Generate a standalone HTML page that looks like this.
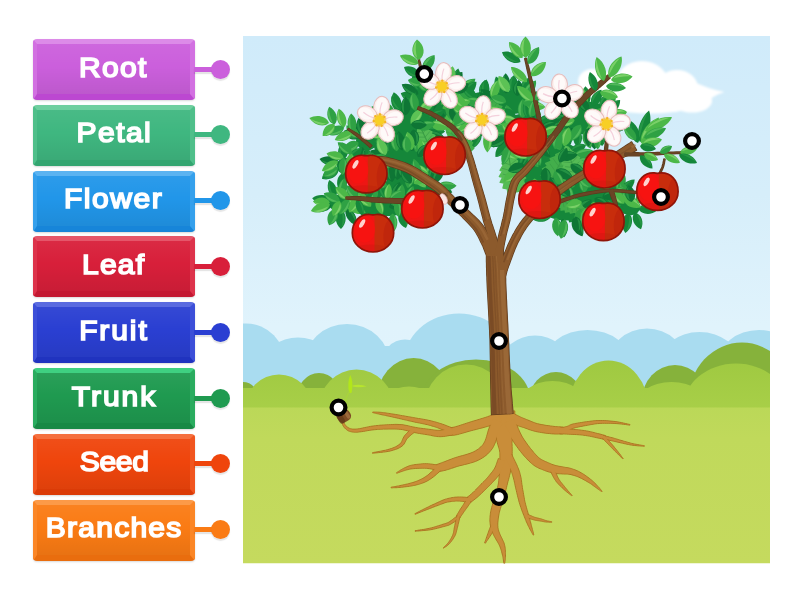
<!DOCTYPE html>
<html><head><meta charset="utf-8"><title>Parts of a tree</title>
<style>
html,body{margin:0;padding:0;background:#fff;}
body{width:800px;height:600px;position:relative;overflow:hidden;font-family:"Liberation Sans",sans-serif;}
.lb{position:absolute;left:33px;width:162px;height:61px;box-sizing:border-box;border-style:solid;
  border-width:5.5px 5px 6.5px 4.5px;border-radius:4px;color:#fff;font-weight:normal;font-size:30px;-webkit-text-stroke:1.75px #fff;
  text-align:center;line-height:45.5px;box-shadow:0 1px 2px rgba(0,0,0,.15);letter-spacing:1.1px;white-space:nowrap;background-image:linear-gradient(rgba(255,255,255,.05),rgba(255,255,255,0) 45%,rgba(0,0,0,.07));}
.lb span{display:inline-block;position:relative;top:-0.5px;transform:scaleY(0.94);transform-origin:50% 72%;}
.ln{position:absolute;left:194px;width:20px;height:5px;box-shadow:0 2px 1px rgba(0,0,0,.10);}
.dt{position:absolute;left:210.6px;width:19px;height:19px;border-radius:50%;box-shadow:0 2px 1px rgba(0,0,0,.10);}
svg{position:absolute;left:0;top:0;}
</style></head><body>
<div class="lb" style="top:39.0px;background-color:#cb5fdc;border-top-color:#dc8be8;border-bottom-color:#bc48d1;border-left-color:#d270e1;border-right-color:#d270e1;letter-spacing:1.27px;text-indent:-0.2px"><span>Root</span></div><div class="ln" style="top:66.5px;background:#cb5fdc"></div><div class="dt" style="top:59.6px;background:#cb5fdc"></div>
<div class="lb" style="top:104.8px;background-color:#3fb780;border-top-color:#6fcf9f;border-bottom-color:#33a570;border-left-color:#4fbf8a;border-right-color:#4fbf8a;letter-spacing:1.45px;text-indent:0.95px"><span>Petal</span></div><div class="ln" style="top:132.3px;background:#3fb780"></div><div class="dt" style="top:125.4px;background:#3fb780"></div>
<div class="lb" style="top:170.6px;background-color:#2196e9;border-top-color:#5bb3f1;border-bottom-color:#1785d9;border-left-color:#35a0ec;border-right-color:#35a0ec;letter-spacing:1.56px;text-indent:0.1px"><span>Flower</span></div><div class="ln" style="top:198.1px;background:#2196e9"></div><div class="dt" style="top:191.2px;background:#2196e9"></div>
<div class="lb" style="top:236.4px;background-color:#d81f3a;border-top-color:#e5566a;border-bottom-color:#c31831;border-left-color:#dd334b;border-right-color:#dd334b;letter-spacing:1.23px;text-indent:0.2px"><span>Leaf</span></div><div class="ln" style="top:263.9px;background:#d81f3a"></div><div class="dt" style="top:257.0px;background:#d81f3a"></div>
<div class="lb" style="top:302.2px;background-color:#2a3fd2;border-top-color:#5a6be0;border-bottom-color:#2033bf;border-left-color:#3c4fd8;border-right-color:#3c4fd8;letter-spacing:1.9px;text-indent:0.4px"><span>Fruit</span></div><div class="ln" style="top:329.7px;background:#2a3fd2"></div><div class="dt" style="top:322.8px;background:#2a3fd2"></div>
<div class="lb" style="top:368.0px;background-color:#1f9a50;border-top-color:#3fd081;border-bottom-color:#188945;border-left-color:#2aac5f;border-right-color:#2aac5f;letter-spacing:2.0px;text-indent:1.0px"><span>Trunk</span></div><div class="ln" style="top:395.5px;background:#1f9a50"></div><div class="dt" style="top:388.6px;background:#1f9a50"></div>
<div class="lb" style="top:433.8px;background-color:#ef450c;border-top-color:#f5703f;border-bottom-color:#db3b07;border-left-color:#f1551f;border-right-color:#f1551f;letter-spacing:-0.33px;text-indent:0.7px"><span>Seed</span></div><div class="ln" style="top:461.3px;background:#ef450c"></div><div class="dt" style="top:454.4px;background:#ef450c"></div>
<div class="lb" style="top:499.6px;background-color:#fa7b14;border-top-color:#fc9a48;border-bottom-color:#e96d0e;border-left-color:#fb8626;border-right-color:#fb8626;letter-spacing:1.24px;text-indent:0.7px"><span>Branches</span></div><div class="ln" style="top:527.1px;background:#fa7b14"></div><div class="dt" style="top:520.2px;background:#fa7b14"></div>
<svg width="800" height="600" viewBox="0 0 800 600">

<defs>
<linearGradient id="sky" x1="0" y1="0" x2="0" y2="1">
  <stop offset="0" stop-color="#d0ebfa"/><stop offset="0.3" stop-color="#d6eefa"/><stop offset="0.55" stop-color="#e0f3fc"/><stop offset="1" stop-color="#e6f5fc"/>
</linearGradient>
<linearGradient id="grd" x1="0" y1="0" x2="0" y2="1">
  <stop offset="0" stop-color="#bbd858"/><stop offset="0.2" stop-color="#c0d95b"/><stop offset="1" stop-color="#c5da5e"/>
</linearGradient>
<linearGradient id="bush" gradientUnits="userSpaceOnUse" x1="0" y1="360" x2="0" y2="410">
  <stop offset="0" stop-color="#9fc941"/><stop offset="1" stop-color="#a8cf48"/>
</linearGradient>
<filter id="soft" x="-10%" y="-10%" width="120%" height="120%"><feGaussianBlur stdDeviation="0.8"/></filter>
<clipPath id="clip"><rect x="243" y="36" width="527" height="527.5"/></clipPath>
</defs>

<g clip-path="url(#clip)">
<rect x="243" y="36" width="527" height="527" fill="url(#sky)"/>
<g fill="#ffffff" filter="url(#soft)"><ellipse cx="642" cy="85" rx="27" ry="24"/><ellipse cx="677" cy="88" rx="21" ry="18"/><ellipse cx="608" cy="92" rx="28" ry="20"/><ellipse cx="592" cy="82" rx="14" ry="13"/><ellipse cx="692" cy="101" rx="20" ry="11.5"/><ellipse cx="650" cy="100" rx="52" ry="13.5"/><path d="M690 80 Q708 89 724.5 92 Q712 95.5 706 104 L690 104Z"/></g>
<g fill="#a9dcf0"><ellipse cx="246" cy="364" rx="39.4" ry="40.5"/><ellipse cx="298" cy="364" rx="34.1" ry="26.5"/><ellipse cx="347" cy="364" rx="42.7" ry="40.0"/><ellipse cx="405" cy="364" rx="23.3" ry="24.5"/><ellipse cx="459" cy="364" rx="55.5" ry="50.5"/><ellipse cx="535" cy="364" rx="33.7" ry="28.5"/><ellipse cx="587.5" cy="364" rx="43.8" ry="34.0"/><ellipse cx="647" cy="364" rx="38.8" ry="35.5"/><ellipse cx="699.5" cy="364" rx="40.3" ry="32.0"/><ellipse cx="759" cy="364" rx="41.3" ry="34.0"/><rect x="243" y="346" width="527" height="62"/></g>
<g fill="#86b23b"><ellipse cx="243" cy="400" rx="16.1" ry="18.0"/><ellipse cx="319" cy="400" rx="22.9" ry="27.0"/><ellipse cx="413.6" cy="400" rx="36.6" ry="42.0"/><ellipse cx="476" cy="400" rx="54.4" ry="40.5"/><ellipse cx="556" cy="400" rx="26.8" ry="28.0"/><ellipse cx="675" cy="400" rx="32.9" ry="35.0"/><ellipse cx="742" cy="400" rx="53.3" ry="57.5"/></g>
<g fill="url(#bush)"><ellipse cx="279" cy="408" rx="33.4" ry="33.5"/><ellipse cx="356.5" cy="408" rx="37.4" ry="38.5"/><ellipse cx="409" cy="408" rx="29.3" ry="21.5"/><ellipse cx="466" cy="408" rx="41.7" ry="43.5"/><ellipse cx="552.5" cy="408" rx="35.7" ry="27.0"/><ellipse cx="608.5" cy="408" rx="40.0" ry="47.5"/><ellipse cx="671.5" cy="408" rx="37.6" ry="26.0"/><ellipse cx="736" cy="408" rx="52.8" ry="44.5"/><rect x="243" y="388" width="527" height="22"/></g>
<rect x="243" y="407.5" width="527" height="156" fill="url(#grd)"/>
<g>
<ellipse cx="440" cy="99" rx="29.4" ry="18.4" fill="#15873a"/><g transform="translate(463.0 98.7) rotate(-7)"><path d="M0 0 C4.1 -6.5 14.8 -6.0 20.5 0 C14.8 6.0 4.1 6.5 0 0Z" fill="#15873a"/><path d="M2.5 -1.2 C6.2 -5.0 14.0 -4.7 18.9 -0.6 C13.6 -2.0 7.0 -2.0 2.5 -1.2Z" fill="#2c9c4a" opacity="0.75"/></g><g transform="translate(461.7 103.9) rotate(24)"><path d="M0 0 C3.7 -6.1 13.3 -5.6 18.4 0 C13.3 5.6 3.7 6.1 0 0Z" fill="#2fa144"/><path d="M2.2 -1.2 C5.5 -4.7 12.5 -4.5 17.0 -0.6 C12.2 -1.9 6.3 -1.9 2.2 -1.2Z" fill="#5cc060" opacity="0.75"/></g><g transform="translate(460.1 106.0) rotate(55)"><path d="M0 0 C3.7 -6.9 13.2 -6.4 18.3 0 C13.2 6.4 3.7 6.9 0 0Z" fill="#0e7635"/><path d="M2.2 -1.3 C5.5 -5.3 12.4 -5.1 16.8 -0.6 C12.1 -2.1 6.2 -2.1 2.2 -1.3Z" fill="#2c9c4a" opacity="0.75"/></g><g transform="translate(456.1 109.3) rotate(78)"><path d="M0 0 C3.7 -5.8 13.2 -5.3 18.3 0 C13.2 5.3 3.7 5.8 0 0Z" fill="#2fa144"/><path d="M2.2 -1.1 C5.5 -4.5 12.5 -4.2 16.9 -0.5 C12.1 -1.8 6.2 -1.8 2.2 -1.1Z" fill="#5cc060" opacity="0.75"/></g><g transform="translate(448.4 112.4) rotate(65)"><path d="M0 0 C3.8 -5.9 13.8 -5.4 19.2 0 C13.8 5.4 3.8 5.9 0 0Z" fill="#2fa144"/><path d="M2.3 -1.1 C5.8 -4.5 13.1 -4.3 17.7 -0.5 C12.7 -1.8 6.5 -1.8 2.3 -1.1Z" fill="#5cc060" opacity="0.75"/></g><g transform="translate(443.6 113.2) rotate(105)"><path d="M0 0 C4.1 -6.7 14.9 -6.2 20.6 0 C14.9 6.2 4.1 6.7 0 0Z" fill="#0e7635"/><path d="M2.5 -1.3 C6.2 -5.2 14.0 -4.9 19.0 -0.6 C13.6 -2.1 7.0 -2.1 2.5 -1.3Z" fill="#2c9c4a" opacity="0.75"/></g><g transform="translate(435.5 113.1) rotate(125)"><path d="M0 0 C4.0 -6.1 14.4 -5.6 19.9 0 C14.4 5.6 4.0 6.1 0 0Z" fill="#2fa144"/><path d="M2.4 -1.2 C6.0 -4.7 13.6 -4.5 18.3 -0.6 C13.2 -1.9 6.8 -1.9 2.4 -1.2Z" fill="#5cc060" opacity="0.75"/></g><g transform="translate(431.0 112.2) rotate(86)"><path d="M0 0 C3.9 -6.1 14.2 -5.6 19.7 0 C14.2 5.6 3.9 6.1 0 0Z" fill="#0e7635"/><path d="M2.4 -1.2 C5.9 -4.7 13.4 -4.5 18.1 -0.6 C13.0 -1.9 6.7 -1.9 2.4 -1.2Z" fill="#2c9c4a" opacity="0.75"/></g><g transform="translate(424.5 109.7) rotate(93)"><path d="M0 0 C3.8 -6.0 13.7 -5.5 19.1 0 C13.7 5.5 3.8 6.0 0 0Z" fill="#0e7635"/><path d="M2.3 -1.1 C5.7 -4.6 13.0 -4.4 17.6 -0.6 C12.6 -1.8 6.5 -1.8 2.3 -1.1Z" fill="#2c9c4a" opacity="0.75"/></g><g transform="translate(420.8 107.0) rotate(156)"><path d="M0 0 C3.8 -6.1 13.7 -5.7 19.0 0 C13.7 5.7 3.8 6.1 0 0Z" fill="#15873a"/><path d="M2.3 -1.2 C5.7 -4.7 12.9 -4.5 17.5 -0.6 C12.5 -1.9 6.5 -1.9 2.3 -1.2Z" fill="#2c9c4a" opacity="0.75"/></g><g transform="translate(418.2 103.6) rotate(143)"><path d="M0 0 C3.5 -6.2 12.7 -5.8 17.6 0 C12.7 5.8 3.5 6.2 0 0Z" fill="#15873a"/><path d="M2.1 -1.2 C5.3 -4.8 12.0 -4.6 16.2 -0.6 C11.6 -1.9 6.0 -1.9 2.1 -1.2Z" fill="#2c9c4a" opacity="0.75"/></g><g transform="translate(417.0 99.6) rotate(201)"><path d="M0 0 C3.5 -6.7 12.5 -6.2 17.4 0 C12.5 6.2 3.5 6.7 0 0Z" fill="#15873a"/><path d="M2.1 -1.3 C5.2 -5.2 11.8 -4.9 16.0 -0.6 C11.5 -2.1 5.9 -2.1 2.1 -1.3Z" fill="#2c9c4a" opacity="0.75"/></g><g transform="translate(418.3 94.2) rotate(-149)"><path d="M0 0 C3.9 -6.3 13.9 -5.8 19.3 0 C13.9 5.8 3.9 6.3 0 0Z" fill="#0e7635"/><path d="M2.3 -1.2 C5.8 -4.9 13.1 -4.6 17.7 -0.6 C12.7 -1.9 6.5 -1.9 2.3 -1.2Z" fill="#2c9c4a" opacity="0.75"/></g><g transform="translate(420.5 91.3) rotate(-115)"><path d="M0 0 C3.6 -6.2 13.1 -5.7 18.2 0 C13.1 5.7 3.6 6.2 0 0Z" fill="#15873a"/><path d="M2.2 -1.2 C5.5 -4.8 12.4 -4.5 16.8 -0.6 C12.0 -1.9 6.2 -1.9 2.2 -1.2Z" fill="#2c9c4a" opacity="0.75"/></g><g transform="translate(425.8 87.7) rotate(-110)"><path d="M0 0 C4.1 -6.1 14.6 -5.7 20.3 0 C14.6 5.7 4.1 6.1 0 0Z" fill="#15873a"/><path d="M2.4 -1.2 C6.1 -4.7 13.8 -4.5 18.6 -0.6 C13.4 -1.9 6.9 -1.9 2.4 -1.2Z" fill="#2c9c4a" opacity="0.75"/></g><g transform="translate(430.5 85.9) rotate(-110)"><path d="M0 0 C3.4 -6.6 12.1 -6.0 16.8 0 C12.1 6.0 3.4 6.6 0 0Z" fill="#2fa144"/><path d="M2.0 -1.3 C5.1 -5.0 11.5 -4.8 15.5 -0.6 C11.1 -2.0 5.7 -2.0 2.0 -1.3Z" fill="#5cc060" opacity="0.75"/></g><g transform="translate(436.3 84.8) rotate(-70)"><path d="M0 0 C3.4 -5.8 12.1 -5.4 16.8 0 C12.1 5.4 3.4 5.8 0 0Z" fill="#0e7635"/><path d="M2.0 -1.1 C5.0 -4.5 11.4 -4.2 15.5 -0.5 C11.1 -1.8 5.7 -1.8 2.0 -1.1Z" fill="#2c9c4a" opacity="0.75"/></g><g transform="translate(441.9 84.6) rotate(-66)"><path d="M0 0 C3.7 -6.6 13.4 -6.1 18.6 0 C13.4 6.1 3.7 6.6 0 0Z" fill="#15873a"/><path d="M2.2 -1.3 C5.6 -5.0 12.6 -4.8 17.1 -0.6 C12.3 -2.0 6.3 -2.0 2.2 -1.3Z" fill="#2c9c4a" opacity="0.75"/></g><g transform="translate(450.8 86.3) rotate(-51)"><path d="M0 0 C3.7 -6.9 13.2 -6.4 18.3 0 C13.2 6.4 3.7 6.9 0 0Z" fill="#0e7635"/><path d="M2.2 -1.3 C5.5 -5.3 12.4 -5.1 16.8 -0.6 C12.1 -2.1 6.2 -2.1 2.2 -1.3Z" fill="#2c9c4a" opacity="0.75"/></g><g transform="translate(453.9 87.5) rotate(-77)"><path d="M0 0 C3.9 -5.9 14.0 -5.4 19.5 0 C14.0 5.4 3.9 5.9 0 0Z" fill="#15873a"/><path d="M2.3 -1.1 C5.8 -4.5 13.2 -4.3 17.9 -0.5 C12.9 -1.8 6.6 -1.8 2.3 -1.1Z" fill="#2c9c4a" opacity="0.75"/></g><g transform="translate(459.7 91.5) rotate(-39)"><path d="M0 0 C4.0 -6.1 14.5 -5.6 20.2 0 C14.5 5.6 4.0 6.1 0 0Z" fill="#2fa144"/><path d="M2.4 -1.2 C6.0 -4.7 13.7 -4.5 18.5 -0.6 C13.3 -1.9 6.9 -1.9 2.4 -1.2Z" fill="#5cc060" opacity="0.75"/></g><g transform="translate(462.5 95.8) rotate(-45)"><path d="M0 0 C3.9 -6.5 14.2 -6.0 19.7 0 C14.2 6.0 3.9 6.5 0 0Z" fill="#15873a"/><path d="M2.4 -1.2 C5.9 -5.0 13.4 -4.7 18.1 -0.6 C13.0 -2.0 6.7 -2.0 2.4 -1.2Z" fill="#2c9c4a" opacity="0.75"/></g>
<ellipse cx="408" cy="125" rx="26.7" ry="19.3" fill="#15873a"/><g transform="translate(428.9 124.4) rotate(10)"><path d="M0 0 C3.7 -6.1 13.3 -5.6 18.5 0 C13.3 5.6 3.7 6.1 0 0Z" fill="#2fa144"/><path d="M2.2 -1.2 C5.5 -4.7 12.6 -4.4 17.0 -0.6 C12.2 -1.9 6.3 -1.9 2.2 -1.2Z" fill="#5cc060" opacity="0.75"/></g><g transform="translate(427.6 130.2) rotate(4)"><path d="M0 0 C3.5 -6.1 12.6 -5.6 17.5 0 C12.6 5.6 3.5 6.1 0 0Z" fill="#15873a"/><path d="M2.1 -1.2 C5.2 -4.7 11.9 -4.5 16.1 -0.6 C11.5 -1.9 5.9 -1.9 2.1 -1.2Z" fill="#2c9c4a" opacity="0.75"/></g><g transform="translate(425.7 133.1) rotate(14)"><path d="M0 0 C3.9 -6.2 14.0 -5.7 19.4 0 C14.0 5.7 3.9 6.2 0 0Z" fill="#0e7635"/><path d="M2.3 -1.2 C5.8 -4.8 13.2 -4.5 17.9 -0.6 C12.8 -1.9 6.6 -1.9 2.3 -1.2Z" fill="#2c9c4a" opacity="0.75"/></g><g transform="translate(422.2 136.1) rotate(37)"><path d="M0 0 C3.6 -6.3 13.0 -5.8 18.1 0 C13.0 5.8 3.6 6.3 0 0Z" fill="#15873a"/><path d="M2.2 -1.2 C5.4 -4.8 12.3 -4.6 16.7 -0.6 C11.9 -1.9 6.2 -1.9 2.2 -1.2Z" fill="#2c9c4a" opacity="0.75"/></g><g transform="translate(415.2 139.2) rotate(60)"><path d="M0 0 C3.8 -5.8 13.6 -5.3 18.8 0 C13.6 5.3 3.8 5.8 0 0Z" fill="#2fa144"/><path d="M2.3 -1.1 C5.7 -4.5 12.8 -4.2 17.3 -0.5 C12.4 -1.8 6.4 -1.8 2.3 -1.1Z" fill="#5cc060" opacity="0.75"/></g><g transform="translate(410.2 140.0) rotate(92)"><path d="M0 0 C3.8 -6.3 13.7 -5.8 19.1 0 C13.7 5.8 3.8 6.3 0 0Z" fill="#0e7635"/><path d="M2.3 -1.2 C5.7 -4.9 13.0 -4.6 17.6 -0.6 C12.6 -1.9 6.5 -1.9 2.3 -1.2Z" fill="#2c9c4a" opacity="0.75"/></g><g transform="translate(404.5 139.9) rotate(93)"><path d="M0 0 C3.5 -6.8 12.5 -6.3 17.4 0 C12.5 6.3 3.5 6.8 0 0Z" fill="#15873a"/><path d="M2.1 -1.3 C5.2 -5.3 11.8 -5.0 16.0 -0.6 C11.5 -2.1 5.9 -2.1 2.1 -1.3Z" fill="#2c9c4a" opacity="0.75"/></g><g transform="translate(397.9 138.2) rotate(90)"><path d="M0 0 C3.9 -6.9 13.9 -6.3 19.3 0 C13.9 6.3 3.9 6.9 0 0Z" fill="#15873a"/><path d="M2.3 -1.3 C5.8 -5.3 13.1 -5.0 17.8 -0.6 C12.8 -2.1 6.6 -2.1 2.3 -1.3Z" fill="#2c9c4a" opacity="0.75"/></g><g transform="translate(392.1 134.8) rotate(106)"><path d="M0 0 C3.5 -6.4 12.8 -5.9 17.7 0 C12.8 5.9 3.5 6.4 0 0Z" fill="#2fa144"/><path d="M2.1 -1.2 C5.3 -4.9 12.1 -4.7 16.3 -0.6 C11.7 -2.0 6.0 -2.0 2.1 -1.2Z" fill="#5cc060" opacity="0.75"/></g><g transform="translate(389.0 131.3) rotate(173)"><path d="M0 0 C4.1 -6.1 14.9 -5.7 20.7 0 C14.9 5.7 4.1 6.1 0 0Z" fill="#0e7635"/><path d="M2.5 -1.2 C6.2 -4.7 14.1 -4.5 19.0 -0.6 C13.7 -1.9 7.0 -1.9 2.5 -1.2Z" fill="#2c9c4a" opacity="0.75"/></g><g transform="translate(387.4 127.6) rotate(160)"><path d="M0 0 C3.4 -6.7 12.1 -6.2 16.8 0 C12.1 6.2 3.4 6.7 0 0Z" fill="#0e7635"/><path d="M2.0 -1.3 C5.0 -5.2 11.4 -4.9 15.4 -0.6 C11.1 -2.1 5.7 -2.1 2.0 -1.3Z" fill="#2c9c4a" opacity="0.75"/></g><g transform="translate(387.5 122.1) rotate(-170)"><path d="M0 0 C3.5 -5.8 12.5 -5.3 17.3 0 C12.5 5.3 3.5 5.8 0 0Z" fill="#15873a"/><path d="M2.1 -1.1 C5.2 -4.4 11.8 -4.2 15.9 -0.5 C11.4 -1.8 5.9 -1.8 2.1 -1.1Z" fill="#2c9c4a" opacity="0.75"/></g><g transform="translate(389.3 118.3) rotate(-173)"><path d="M0 0 C3.4 -6.9 12.4 -6.4 17.2 0 C12.4 6.4 3.4 6.9 0 0Z" fill="#0e7635"/><path d="M2.1 -1.3 C5.1 -5.3 11.7 -5.0 15.8 -0.6 C11.3 -2.1 5.8 -2.1 2.1 -1.3Z" fill="#2c9c4a" opacity="0.75"/></g><g transform="translate(393.2 114.3) rotate(-135)"><path d="M0 0 C3.4 -6.6 12.1 -6.1 16.8 0 C12.1 6.1 3.4 6.6 0 0Z" fill="#2fa144"/><path d="M2.0 -1.3 C5.0 -5.1 11.4 -4.8 15.4 -0.6 C11.1 -2.0 5.7 -2.0 2.0 -1.3Z" fill="#5cc060" opacity="0.75"/></g><g transform="translate(398.6 111.5) rotate(-104)"><path d="M0 0 C4.0 -6.8 14.3 -6.3 19.9 0 C14.3 6.3 4.0 6.8 0 0Z" fill="#15873a"/><path d="M2.4 -1.3 C6.0 -5.3 13.5 -5.0 18.3 -0.6 C13.1 -2.1 6.8 -2.1 2.4 -1.3Z" fill="#2c9c4a" opacity="0.75"/></g><g transform="translate(401.9 110.5) rotate(-126)"><path d="M0 0 C3.5 -5.8 12.7 -5.3 17.7 0 C12.7 5.3 3.5 5.8 0 0Z" fill="#15873a"/><path d="M2.1 -1.1 C5.3 -4.4 12.0 -4.2 16.3 -0.5 C11.7 -1.8 6.0 -1.8 2.1 -1.1Z" fill="#2c9c4a" opacity="0.75"/></g><g transform="translate(408.2 109.9) rotate(-67)"><path d="M0 0 C3.9 -5.8 13.9 -5.3 19.3 0 C13.9 5.3 3.9 5.8 0 0Z" fill="#15873a"/><path d="M2.3 -1.1 C5.8 -4.4 13.1 -4.2 17.7 -0.5 C12.7 -1.8 6.5 -1.8 2.3 -1.1Z" fill="#2c9c4a" opacity="0.75"/></g><g transform="translate(415.4 110.9) rotate(-98)"><path d="M0 0 C3.7 -6.4 13.4 -6.0 18.6 0 C13.4 6.0 3.7 6.4 0 0Z" fill="#2fa144"/><path d="M2.2 -1.2 C5.6 -5.0 12.7 -4.7 17.1 -0.6 C12.3 -2.0 6.3 -2.0 2.2 -1.2Z" fill="#5cc060" opacity="0.75"/></g><g transform="translate(421.6 113.5) rotate(-37)"><path d="M0 0 C4.0 -6.6 14.6 -6.1 20.2 0 C14.6 6.1 4.0 6.6 0 0Z" fill="#0e7635"/><path d="M2.4 -1.3 C6.1 -5.1 13.8 -4.8 18.6 -0.6 C13.4 -2.0 6.9 -2.0 2.4 -1.3Z" fill="#2c9c4a" opacity="0.75"/></g><g transform="translate(425.4 116.7) rotate(-69)"><path d="M0 0 C4.0 -6.8 14.4 -6.3 20.0 0 C14.4 6.3 4.0 6.8 0 0Z" fill="#15873a"/><path d="M2.4 -1.3 C6.0 -5.2 13.6 -5.0 18.4 -0.6 C13.2 -2.1 6.8 -2.1 2.4 -1.3Z" fill="#2c9c4a" opacity="0.75"/></g><g transform="translate(427.6 119.7) rotate(-29)"><path d="M0 0 C3.9 -5.8 13.9 -5.4 19.3 0 C13.9 5.4 3.9 5.8 0 0Z" fill="#15873a"/><path d="M2.3 -1.1 C5.8 -4.5 13.1 -4.2 17.7 -0.5 C12.7 -1.8 6.5 -1.8 2.3 -1.1Z" fill="#2c9c4a" opacity="0.75"/></g>
<ellipse cx="367" cy="141" rx="11.0" ry="9.2" fill="#15873a"/><g transform="translate(375.6 141.9) rotate(-16)"><path d="M0 0 C3.4 -6.4 12.2 -5.9 17.0 0 C12.2 5.9 3.4 6.4 0 0Z" fill="#2fa144"/><path d="M2.0 -1.2 C5.1 -4.9 11.5 -4.7 15.6 -0.6 C11.2 -2.0 5.8 -2.0 2.0 -1.2Z" fill="#5cc060" opacity="0.75"/></g><g transform="translate(374.3 144.9) rotate(39)"><path d="M0 0 C3.7 -6.5 13.5 -6.0 18.7 0 C13.5 6.0 3.7 6.5 0 0Z" fill="#15873a"/><path d="M2.2 -1.2 C5.6 -5.0 12.7 -4.7 17.2 -0.6 C12.4 -2.0 6.4 -2.0 2.2 -1.2Z" fill="#2c9c4a" opacity="0.75"/></g><g transform="translate(367.5 148.2) rotate(96)"><path d="M0 0 C3.8 -6.9 13.6 -6.4 18.9 0 C13.6 6.4 3.8 6.9 0 0Z" fill="#15873a"/><path d="M2.3 -1.3 C5.7 -5.3 12.9 -5.1 17.4 -0.6 C12.5 -2.1 6.4 -2.1 2.3 -1.3Z" fill="#2c9c4a" opacity="0.75"/></g><g transform="translate(362.8 147.3) rotate(107)"><path d="M0 0 C3.7 -6.5 13.3 -6.0 18.5 0 C13.3 6.0 3.7 6.5 0 0Z" fill="#0e7635"/><path d="M2.2 -1.2 C5.5 -5.0 12.6 -4.7 17.0 -0.6 C12.2 -2.0 6.3 -2.0 2.2 -1.2Z" fill="#2c9c4a" opacity="0.75"/></g><g transform="translate(358.5 142.4) rotate(150)"><path d="M0 0 C3.4 -7.0 12.3 -6.4 17.1 0 C12.3 6.4 3.4 7.0 0 0Z" fill="#2fa144"/><path d="M2.1 -1.3 C5.1 -5.4 11.6 -5.1 15.7 -0.6 C11.3 -2.1 5.8 -2.1 2.1 -1.3Z" fill="#5cc060" opacity="0.75"/></g><g transform="translate(359.5 137.4) rotate(-158)"><path d="M0 0 C3.4 -6.7 12.3 -6.1 17.1 0 C12.3 6.1 3.4 6.7 0 0Z" fill="#0e7635"/><path d="M2.1 -1.3 C5.1 -5.1 11.6 -4.9 15.7 -0.6 C11.3 -2.0 5.8 -2.0 2.1 -1.3Z" fill="#2c9c4a" opacity="0.75"/></g><g transform="translate(362.8 134.7) rotate(-137)"><path d="M0 0 C3.9 -6.0 14.1 -5.5 19.5 0 C14.1 5.5 3.9 6.0 0 0Z" fill="#0e7635"/><path d="M2.3 -1.2 C5.9 -4.6 13.3 -4.4 18.0 -0.6 C12.9 -1.8 6.6 -1.8 2.3 -1.2Z" fill="#2c9c4a" opacity="0.75"/></g><g transform="translate(368.1 133.9) rotate(-87)"><path d="M0 0 C4.1 -6.0 14.8 -5.6 20.5 0 C14.8 5.6 4.1 6.0 0 0Z" fill="#0e7635"/><path d="M2.5 -1.2 C6.2 -4.7 14.0 -4.4 18.9 -0.6 C13.6 -1.9 7.0 -1.9 2.5 -1.2Z" fill="#2c9c4a" opacity="0.75"/></g><g transform="translate(373.9 136.7) rotate(-33)"><path d="M0 0 C4.0 -6.0 14.3 -5.5 19.8 0 C14.3 5.5 4.0 6.0 0 0Z" fill="#2fa144"/><path d="M2.4 -1.1 C5.9 -4.6 13.5 -4.4 18.2 -0.6 C13.1 -1.8 6.7 -1.8 2.4 -1.1Z" fill="#5cc060" opacity="0.75"/></g>
<ellipse cx="345" cy="166" rx="8.3" ry="8.3" fill="#15873a"/><g transform="translate(351.3 164.7) rotate(-14)"><path d="M0 0 C3.3 -5.8 12.0 -5.3 16.7 0 C12.0 5.3 3.3 5.8 0 0Z" fill="#2fa144"/><path d="M2.0 -1.1 C5.0 -4.5 11.4 -4.2 15.4 -0.5 C11.0 -1.8 5.7 -1.8 2.0 -1.1Z" fill="#5cc060" opacity="0.75"/></g><g transform="translate(348.1 171.7) rotate(50)"><path d="M0 0 C3.6 -6.8 12.9 -6.2 17.9 0 C12.9 6.2 3.6 6.8 0 0Z" fill="#15873a"/><path d="M2.1 -1.3 C5.4 -5.2 12.1 -4.9 16.4 -0.6 C11.8 -2.1 6.1 -2.1 2.1 -1.3Z" fill="#2c9c4a" opacity="0.75"/></g><g transform="translate(343.8 172.4) rotate(100)"><path d="M0 0 C4.0 -7.0 14.2 -6.4 19.8 0 C14.2 6.4 4.0 7.0 0 0Z" fill="#15873a"/><path d="M2.4 -1.3 C5.9 -5.4 13.4 -5.1 18.2 -0.6 C13.1 -2.1 6.7 -2.1 2.4 -1.3Z" fill="#2c9c4a" opacity="0.75"/></g><g transform="translate(338.9 168.1) rotate(148)"><path d="M0 0 C4.0 -7.0 14.5 -6.4 20.1 0 C14.5 6.4 4.0 7.0 0 0Z" fill="#15873a"/><path d="M2.4 -1.3 C6.0 -5.4 13.7 -5.1 18.5 -0.6 C13.3 -2.1 6.8 -2.1 2.4 -1.3Z" fill="#2c9c4a" opacity="0.75"/></g><g transform="translate(339.3 162.9) rotate(-169)"><path d="M0 0 C4.0 -6.5 14.5 -6.0 20.1 0 C14.5 6.0 4.0 6.5 0 0Z" fill="#0e7635"/><path d="M2.4 -1.2 C6.0 -5.0 13.7 -4.7 18.5 -0.6 C13.3 -2.0 6.8 -2.0 2.4 -1.2Z" fill="#2c9c4a" opacity="0.75"/></g><g transform="translate(343.1 159.8) rotate(-91)"><path d="M0 0 C3.4 -6.8 12.4 -6.2 17.2 0 C12.4 6.2 3.4 6.8 0 0Z" fill="#15873a"/><path d="M2.1 -1.3 C5.2 -5.2 11.7 -4.9 15.9 -0.6 C11.4 -2.1 5.9 -2.1 2.1 -1.3Z" fill="#2c9c4a" opacity="0.75"/></g><g transform="translate(348.2 160.4) rotate(-42)"><path d="M0 0 C3.7 -6.1 13.4 -5.6 18.6 0 C13.4 5.6 3.7 6.1 0 0Z" fill="#15873a"/><path d="M2.2 -1.2 C5.6 -4.7 12.6 -4.5 17.1 -0.6 C12.3 -1.9 6.3 -1.9 2.2 -1.2Z" fill="#2c9c4a" opacity="0.75"/></g>
<ellipse cx="405" cy="162" rx="27.6" ry="14.7" fill="#15873a"/><g transform="translate(426.6 162.5) rotate(-0)"><path d="M0 0 C4.0 -6.5 14.6 -6.0 20.2 0 C14.6 6.0 4.0 6.5 0 0Z" fill="#15873a"/><path d="M2.4 -1.3 C6.1 -5.0 13.7 -4.8 18.6 -0.6 C13.3 -2.0 6.9 -2.0 2.4 -1.3Z" fill="#2c9c4a" opacity="0.75"/></g><g transform="translate(425.8 165.1) rotate(16)"><path d="M0 0 C3.4 -6.7 12.3 -6.2 17.1 0 C12.3 6.2 3.4 6.7 0 0Z" fill="#0e7635"/><path d="M2.1 -1.3 C5.1 -5.1 11.6 -4.9 15.7 -0.6 C11.3 -2.1 5.8 -2.1 2.1 -1.3Z" fill="#2c9c4a" opacity="0.75"/></g><g transform="translate(421.0 169.8) rotate(54)"><path d="M0 0 C3.7 -5.8 13.5 -5.3 18.7 0 C13.5 5.3 3.7 5.8 0 0Z" fill="#15873a"/><path d="M2.2 -1.1 C5.6 -4.4 12.7 -4.2 17.2 -0.5 C12.3 -1.8 6.4 -1.8 2.2 -1.1Z" fill="#2c9c4a" opacity="0.75"/></g><g transform="translate(415.5 172.1) rotate(84)"><path d="M0 0 C3.8 -6.1 13.7 -5.6 19.0 0 C13.7 5.6 3.8 6.1 0 0Z" fill="#2fa144"/><path d="M2.3 -1.2 C5.7 -4.7 12.9 -4.4 17.5 -0.6 C12.5 -1.9 6.5 -1.9 2.3 -1.2Z" fill="#5cc060" opacity="0.75"/></g><g transform="translate(410.4 173.2) rotate(54)"><path d="M0 0 C3.8 -5.9 13.8 -5.4 19.1 0 C13.8 5.4 3.8 5.9 0 0Z" fill="#2fa144"/><path d="M2.3 -1.1 C5.7 -4.5 13.0 -4.3 17.6 -0.5 C12.6 -1.8 6.5 -1.8 2.3 -1.1Z" fill="#5cc060" opacity="0.75"/></g><g transform="translate(404.8 173.5) rotate(111)"><path d="M0 0 C3.4 -6.1 12.3 -5.6 17.0 0 C12.3 5.6 3.4 6.1 0 0Z" fill="#2fa144"/><path d="M2.0 -1.2 C5.1 -4.7 11.6 -4.4 15.7 -0.6 C11.2 -1.9 5.8 -1.9 2.0 -1.2Z" fill="#5cc060" opacity="0.75"/></g><g transform="translate(397.9 172.9) rotate(98)"><path d="M0 0 C3.4 -5.9 12.2 -5.5 17.0 0 C12.2 5.5 3.4 5.9 0 0Z" fill="#15873a"/><path d="M2.0 -1.1 C5.1 -4.6 11.5 -4.3 15.6 -0.5 C11.2 -1.8 5.8 -1.8 2.0 -1.1Z" fill="#2c9c4a" opacity="0.75"/></g><g transform="translate(391.3 170.9) rotate(92)"><path d="M0 0 C3.4 -6.0 12.2 -5.5 16.9 0 C12.2 5.5 3.4 6.0 0 0Z" fill="#0e7635"/><path d="M2.0 -1.1 C5.1 -4.6 11.5 -4.4 15.6 -0.6 C11.2 -1.8 5.8 -1.8 2.0 -1.1Z" fill="#2c9c4a" opacity="0.75"/></g><g transform="translate(385.3 166.7) rotate(131)"><path d="M0 0 C3.9 -6.3 13.9 -5.8 19.3 0 C13.9 5.8 3.9 6.3 0 0Z" fill="#2fa144"/><path d="M2.3 -1.2 C5.8 -4.8 13.1 -4.6 17.8 -0.6 C12.8 -1.9 6.6 -1.9 2.3 -1.2Z" fill="#5cc060" opacity="0.75"/></g><g transform="translate(383.8 164.3) rotate(138)"><path d="M0 0 C3.5 -6.1 12.7 -5.7 17.7 0 C12.7 5.7 3.5 6.1 0 0Z" fill="#2fa144"/><path d="M2.1 -1.2 C5.3 -4.7 12.0 -4.5 16.2 -0.6 C11.6 -1.9 6.0 -1.9 2.1 -1.2Z" fill="#5cc060" opacity="0.75"/></g><g transform="translate(383.5 161.0) rotate(-164)"><path d="M0 0 C4.0 -6.6 14.5 -6.1 20.1 0 C14.5 6.1 4.0 6.6 0 0Z" fill="#2fa144"/><path d="M2.4 -1.3 C6.0 -5.1 13.7 -4.8 18.5 -0.6 C13.3 -2.0 6.8 -2.0 2.4 -1.3Z" fill="#5cc060" opacity="0.75"/></g><g transform="translate(385.4 157.2) rotate(-157)"><path d="M0 0 C3.3 -5.9 12.0 -5.4 16.7 0 C12.0 5.4 3.3 5.9 0 0Z" fill="#0e7635"/><path d="M2.0 -1.1 C5.0 -4.5 11.3 -4.3 15.3 -0.5 C11.0 -1.8 5.7 -1.8 2.0 -1.1Z" fill="#2c9c4a" opacity="0.75"/></g><g transform="translate(390.5 153.5) rotate(-92)"><path d="M0 0 C3.5 -6.1 12.6 -5.6 17.5 0 C12.6 5.6 3.5 6.1 0 0Z" fill="#15873a"/><path d="M2.1 -1.2 C5.2 -4.7 11.9 -4.4 16.1 -0.6 C11.5 -1.9 5.9 -1.9 2.1 -1.2Z" fill="#2c9c4a" opacity="0.75"/></g><g transform="translate(396.9 151.3) rotate(-101)"><path d="M0 0 C3.9 -6.0 14.0 -5.5 19.5 0 C14.0 5.5 3.9 6.0 0 0Z" fill="#2fa144"/><path d="M2.3 -1.2 C5.8 -4.6 13.2 -4.4 17.9 -0.6 C12.8 -1.8 6.6 -1.8 2.3 -1.2Z" fill="#5cc060" opacity="0.75"/></g><g transform="translate(402.4 150.6) rotate(-101)"><path d="M0 0 C4.0 -6.1 14.4 -5.6 20.0 0 C14.4 5.6 4.0 6.1 0 0Z" fill="#0e7635"/><path d="M2.4 -1.2 C6.0 -4.7 13.6 -4.4 18.4 -0.6 C13.2 -1.9 6.8 -1.9 2.4 -1.2Z" fill="#2c9c4a" opacity="0.75"/></g><g transform="translate(411.3 151.0) rotate(-62)"><path d="M0 0 C3.8 -5.8 13.8 -5.3 19.1 0 C13.8 5.3 3.8 5.8 0 0Z" fill="#0e7635"/><path d="M2.3 -1.1 C5.7 -4.4 13.0 -4.2 17.6 -0.5 C12.6 -1.8 6.5 -1.8 2.3 -1.1Z" fill="#2c9c4a" opacity="0.75"/></g><g transform="translate(416.0 152.1) rotate(-75)"><path d="M0 0 C3.8 -6.3 13.8 -5.8 19.2 0 C13.8 5.8 3.8 6.3 0 0Z" fill="#2fa144"/><path d="M2.3 -1.2 C5.8 -4.9 13.1 -4.6 17.7 -0.6 C12.7 -1.9 6.5 -1.9 2.3 -1.2Z" fill="#5cc060" opacity="0.75"/></g><g transform="translate(421.3 154.5) rotate(-80)"><path d="M0 0 C3.7 -6.0 13.5 -5.5 18.7 0 C13.5 5.5 3.7 6.0 0 0Z" fill="#15873a"/><path d="M2.2 -1.2 C5.6 -4.6 12.7 -4.4 17.2 -0.6 C12.3 -1.8 6.4 -1.8 2.2 -1.2Z" fill="#2c9c4a" opacity="0.75"/></g><g transform="translate(425.6 158.6) rotate(-25)"><path d="M0 0 C3.8 -5.9 13.8 -5.5 19.2 0 C13.8 5.5 3.8 5.9 0 0Z" fill="#0e7635"/><path d="M2.3 -1.1 C5.8 -4.6 13.0 -4.3 17.6 -0.5 C12.7 -1.8 6.5 -1.8 2.3 -1.1Z" fill="#2c9c4a" opacity="0.75"/></g>
<ellipse cx="412" cy="186" rx="29.4" ry="10.1" fill="#15873a"/><g transform="translate(435.0 186.1) rotate(20)"><path d="M0 0 C3.7 -5.9 13.2 -5.4 18.4 0 C13.2 5.4 3.7 5.9 0 0Z" fill="#0e7635"/><path d="M2.2 -1.1 C5.5 -4.5 12.5 -4.3 16.9 -0.5 C12.1 -1.8 6.3 -1.8 2.2 -1.1Z" fill="#2c9c4a" opacity="0.75"/></g><g transform="translate(433.8 188.6) rotate(34)"><path d="M0 0 C3.4 -6.6 12.1 -6.1 16.8 0 C12.1 6.1 3.4 6.6 0 0Z" fill="#0e7635"/><path d="M2.0 -1.3 C5.0 -5.1 11.4 -4.8 15.5 -0.6 C11.1 -2.0 5.7 -2.0 2.0 -1.3Z" fill="#2c9c4a" opacity="0.75"/></g><g transform="translate(431.1 190.4) rotate(57)"><path d="M0 0 C4.1 -6.5 14.6 -6.0 20.3 0 C14.6 6.0 4.1 6.5 0 0Z" fill="#0e7635"/><path d="M2.4 -1.3 C6.1 -5.0 13.8 -4.8 18.7 -0.6 C13.4 -2.0 6.9 -2.0 2.4 -1.3Z" fill="#2c9c4a" opacity="0.75"/></g><g transform="translate(423.5 192.9) rotate(74)"><path d="M0 0 C3.9 -6.3 13.9 -5.8 19.3 0 C13.9 5.8 3.9 6.3 0 0Z" fill="#2fa144"/><path d="M2.3 -1.2 C5.8 -4.8 13.2 -4.6 17.8 -0.6 C12.8 -1.9 6.6 -1.9 2.3 -1.2Z" fill="#5cc060" opacity="0.75"/></g><g transform="translate(417.6 193.7) rotate(58)"><path d="M0 0 C3.5 -7.0 12.5 -6.4 17.4 0 C12.5 6.4 3.5 7.0 0 0Z" fill="#15873a"/><path d="M2.1 -1.3 C5.2 -5.3 11.9 -5.1 16.0 -0.6 C11.5 -2.1 5.9 -2.1 2.1 -1.3Z" fill="#2c9c4a" opacity="0.75"/></g><g transform="translate(408.8 193.8) rotate(116)"><path d="M0 0 C4.0 -6.9 14.2 -6.3 19.8 0 C14.2 6.3 4.0 6.9 0 0Z" fill="#15873a"/><path d="M2.4 -1.3 C5.9 -5.3 13.4 -5.0 18.2 -0.6 C13.0 -2.1 6.7 -2.1 2.4 -1.3Z" fill="#2c9c4a" opacity="0.75"/></g><g transform="translate(403.6 193.4) rotate(91)"><path d="M0 0 C3.7 -6.8 13.4 -6.3 18.6 0 C13.4 6.3 3.7 6.8 0 0Z" fill="#2fa144"/><path d="M2.2 -1.3 C5.6 -5.2 12.6 -5.0 17.1 -0.6 C12.3 -2.1 6.3 -2.1 2.2 -1.3Z" fill="#5cc060" opacity="0.75"/></g><g transform="translate(395.6 191.5) rotate(84)"><path d="M0 0 C3.5 -6.2 12.6 -5.7 17.6 0 C12.6 5.7 3.5 6.2 0 0Z" fill="#15873a"/><path d="M2.1 -1.2 C5.3 -4.8 11.9 -4.5 16.2 -0.6 C11.6 -1.9 6.0 -1.9 2.1 -1.2Z" fill="#2c9c4a" opacity="0.75"/></g><g transform="translate(391.3 189.5) rotate(109)"><path d="M0 0 C4.0 -6.1 14.3 -5.7 19.9 0 C14.3 5.7 4.0 6.1 0 0Z" fill="#15873a"/><path d="M2.4 -1.2 C6.0 -4.7 13.5 -4.5 18.3 -0.6 C13.1 -1.9 6.8 -1.9 2.4 -1.2Z" fill="#2c9c4a" opacity="0.75"/></g><g transform="translate(389.3 187.3) rotate(141)"><path d="M0 0 C3.9 -6.1 14.0 -5.6 19.5 0 C14.0 5.6 3.9 6.1 0 0Z" fill="#2fa144"/><path d="M2.3 -1.2 C5.8 -4.7 13.3 -4.5 17.9 -0.6 C12.9 -1.9 6.6 -1.9 2.3 -1.2Z" fill="#5cc060" opacity="0.75"/></g><g transform="translate(389.1 185.3) rotate(-187)"><path d="M0 0 C3.4 -6.5 12.4 -6.0 17.2 0 C12.4 6.0 3.4 6.5 0 0Z" fill="#15873a"/><path d="M2.1 -1.3 C5.2 -5.0 11.7 -4.8 15.9 -0.6 C11.4 -2.0 5.9 -2.0 2.1 -1.3Z" fill="#2c9c4a" opacity="0.75"/></g><g transform="translate(392.2 182.0) rotate(-98)"><path d="M0 0 C3.9 -6.2 13.9 -5.7 19.3 0 C13.9 5.7 3.9 6.2 0 0Z" fill="#0e7635"/><path d="M2.3 -1.2 C5.8 -4.8 13.1 -4.5 17.8 -0.6 C12.8 -1.9 6.6 -1.9 2.3 -1.2Z" fill="#2c9c4a" opacity="0.75"/></g><g transform="translate(397.0 180.0) rotate(-79)"><path d="M0 0 C3.6 -6.1 13.0 -5.6 18.1 0 C13.0 5.6 3.6 6.1 0 0Z" fill="#0e7635"/><path d="M2.2 -1.2 C5.4 -4.7 12.3 -4.5 16.6 -0.6 C11.9 -1.9 6.1 -1.9 2.2 -1.2Z" fill="#2c9c4a" opacity="0.75"/></g><g transform="translate(404.3 178.5) rotate(-101)"><path d="M0 0 C3.4 -6.8 12.4 -6.3 17.2 0 C12.4 6.3 3.4 6.8 0 0Z" fill="#0e7635"/><path d="M2.1 -1.3 C5.2 -5.2 11.7 -5.0 15.8 -0.6 C11.4 -2.1 5.9 -2.1 2.1 -1.3Z" fill="#2c9c4a" opacity="0.75"/></g><g transform="translate(408.4 178.2) rotate(-103)"><path d="M0 0 C3.5 -7.0 12.4 -6.4 17.3 0 C12.4 6.4 3.5 7.0 0 0Z" fill="#15873a"/><path d="M2.1 -1.3 C5.2 -5.4 11.8 -5.1 15.9 -0.6 C11.4 -2.1 5.9 -2.1 2.1 -1.3Z" fill="#2c9c4a" opacity="0.75"/></g><g transform="translate(419.1 178.5) rotate(-111)"><path d="M0 0 C3.9 -7.0 13.9 -6.4 19.3 0 C13.9 6.4 3.9 7.0 0 0Z" fill="#15873a"/><path d="M2.3 -1.3 C5.8 -5.4 13.1 -5.1 17.8 -0.6 C12.8 -2.1 6.6 -2.1 2.3 -1.3Z" fill="#2c9c4a" opacity="0.75"/></g><g transform="translate(426.1 179.7) rotate(-67)"><path d="M0 0 C3.6 -5.9 12.8 -5.5 17.8 0 C12.8 5.5 3.6 5.9 0 0Z" fill="#2fa144"/><path d="M2.1 -1.1 C5.3 -4.6 12.1 -4.3 16.4 -0.5 C11.8 -1.8 6.1 -1.8 2.1 -1.1Z" fill="#5cc060" opacity="0.75"/></g><g transform="translate(430.3 181.2) rotate(-73)"><path d="M0 0 C3.7 -5.8 13.4 -5.4 18.7 0 C13.4 5.4 3.7 5.8 0 0Z" fill="#0e7635"/><path d="M2.2 -1.1 C5.6 -4.5 12.7 -4.3 17.2 -0.5 C12.3 -1.8 6.4 -1.8 2.2 -1.1Z" fill="#2c9c4a" opacity="0.75"/></g><g transform="translate(433.6 183.3) rotate(-62)"><path d="M0 0 C4.1 -6.5 14.9 -6.0 20.7 0 C14.9 6.0 4.1 6.5 0 0Z" fill="#0e7635"/><path d="M2.5 -1.2 C6.2 -5.0 14.1 -4.7 19.0 -0.6 C13.6 -2.0 7.0 -2.0 2.5 -1.2Z" fill="#2c9c4a" opacity="0.75"/></g>
<ellipse cx="384" cy="207" rx="27.6" ry="9.2" fill="#15873a"/><g transform="translate(405.6 207.1) rotate(5)"><path d="M0 0 C3.8 -6.9 13.8 -6.4 19.2 0 C13.8 6.4 3.8 6.9 0 0Z" fill="#15873a"/><path d="M2.3 -1.3 C5.7 -5.3 13.0 -5.1 17.6 -0.6 C12.6 -2.1 6.5 -2.1 2.3 -1.3Z" fill="#2c9c4a" opacity="0.75"/></g><g transform="translate(404.2 209.6) rotate(63)"><path d="M0 0 C3.5 -7.0 12.8 -6.4 17.7 0 C12.8 6.4 3.5 7.0 0 0Z" fill="#15873a"/><path d="M2.1 -1.3 C5.3 -5.4 12.0 -5.1 16.3 -0.6 C11.7 -2.1 6.0 -2.1 2.1 -1.3Z" fill="#2c9c4a" opacity="0.75"/></g><g transform="translate(400.6 211.6) rotate(72)"><path d="M0 0 C3.5 -6.4 12.5 -5.9 17.3 0 C12.5 5.9 3.5 6.4 0 0Z" fill="#15873a"/><path d="M2.1 -1.2 C5.2 -4.9 11.8 -4.7 15.9 -0.6 C11.4 -2.0 5.9 -2.0 2.1 -1.2Z" fill="#2c9c4a" opacity="0.75"/></g><g transform="translate(392.6 213.6) rotate(88)"><path d="M0 0 C3.8 -6.2 13.5 -5.7 18.8 0 C13.5 5.7 3.8 6.2 0 0Z" fill="#2fa144"/><path d="M2.3 -1.2 C5.6 -4.7 12.8 -4.5 17.3 -0.6 C12.4 -1.9 6.4 -1.9 2.3 -1.2Z" fill="#5cc060" opacity="0.75"/></g><g transform="translate(384.0 214.2) rotate(89)"><path d="M0 0 C3.5 -6.3 12.6 -5.9 17.5 0 C12.6 5.9 3.5 6.3 0 0Z" fill="#15873a"/><path d="M2.1 -1.2 C5.3 -4.9 11.9 -4.6 16.1 -0.6 C11.6 -2.0 6.0 -2.0 2.1 -1.2Z" fill="#2c9c4a" opacity="0.75"/></g><g transform="translate(378.4 214.0) rotate(107)"><path d="M0 0 C4.0 -6.3 14.6 -5.8 20.2 0 C14.6 5.8 4.0 6.3 0 0Z" fill="#0e7635"/><path d="M2.4 -1.2 C6.1 -4.9 13.8 -4.6 18.6 -0.6 C13.4 -1.9 6.9 -1.9 2.4 -1.2Z" fill="#2c9c4a" opacity="0.75"/></g><g transform="translate(370.5 212.6) rotate(108)"><path d="M0 0 C3.7 -7.0 13.4 -6.4 18.6 0 C13.4 6.4 3.7 7.0 0 0Z" fill="#15873a"/><path d="M2.2 -1.3 C5.6 -5.4 12.6 -5.1 17.1 -0.6 C12.3 -2.1 6.3 -2.1 2.2 -1.3Z" fill="#2c9c4a" opacity="0.75"/></g><g transform="translate(365.8 210.9) rotate(90)"><path d="M0 0 C3.6 -6.5 13.1 -6.0 18.2 0 C13.1 6.0 3.6 6.5 0 0Z" fill="#15873a"/><path d="M2.2 -1.3 C5.4 -5.0 12.3 -4.8 16.7 -0.6 C12.0 -2.0 6.2 -2.0 2.2 -1.3Z" fill="#2c9c4a" opacity="0.75"/></g><g transform="translate(362.5 207.8) rotate(177)"><path d="M0 0 C4.1 -6.1 14.7 -5.7 20.4 0 C14.7 5.7 4.1 6.1 0 0Z" fill="#15873a"/><path d="M2.4 -1.2 C6.1 -4.7 13.9 -4.5 18.7 -0.6 C13.4 -1.9 6.9 -1.9 2.4 -1.2Z" fill="#2c9c4a" opacity="0.75"/></g><g transform="translate(363.2 205.0) rotate(-134)"><path d="M0 0 C3.4 -6.2 12.2 -5.8 17.0 0 C12.2 5.8 3.4 6.2 0 0Z" fill="#15873a"/><path d="M2.0 -1.2 C5.1 -4.8 11.6 -4.6 15.6 -0.6 C11.2 -1.9 5.8 -1.9 2.0 -1.2Z" fill="#2c9c4a" opacity="0.75"/></g><g transform="translate(365.3 203.4) rotate(-137)"><path d="M0 0 C3.6 -6.7 12.8 -6.2 17.8 0 C12.8 6.2 3.6 6.7 0 0Z" fill="#15873a"/><path d="M2.1 -1.3 C5.3 -5.1 12.1 -4.9 16.3 -0.6 C11.7 -2.1 6.0 -2.1 2.1 -1.3Z" fill="#2c9c4a" opacity="0.75"/></g><g transform="translate(370.7 201.3) rotate(-119)"><path d="M0 0 C3.9 -6.9 13.9 -6.4 19.4 0 C13.9 6.4 3.9 6.9 0 0Z" fill="#15873a"/><path d="M2.3 -1.3 C5.8 -5.3 13.2 -5.0 17.8 -0.6 C12.8 -2.1 6.6 -2.1 2.3 -1.3Z" fill="#2c9c4a" opacity="0.75"/></g><g transform="translate(377.9 200.1) rotate(-93)"><path d="M0 0 C3.9 -5.7 14.1 -5.3 19.5 0 C14.1 5.3 3.9 5.7 0 0Z" fill="#15873a"/><path d="M2.3 -1.1 C5.9 -4.4 13.3 -4.2 18.0 -0.5 C12.9 -1.8 6.6 -1.8 2.3 -1.1Z" fill="#2c9c4a" opacity="0.75"/></g><g transform="translate(387.6 199.9) rotate(-115)"><path d="M0 0 C4.0 -5.9 14.2 -5.4 19.8 0 C14.2 5.4 4.0 5.9 0 0Z" fill="#15873a"/><path d="M2.4 -1.1 C5.9 -4.5 13.4 -4.3 18.2 -0.5 C13.0 -1.8 6.7 -1.8 2.4 -1.1Z" fill="#2c9c4a" opacity="0.75"/></g><g transform="translate(392.9 200.4) rotate(-70)"><path d="M0 0 C3.9 -6.5 14.2 -6.0 19.7 0 C14.2 6.0 3.9 6.5 0 0Z" fill="#0e7635"/><path d="M2.4 -1.3 C5.9 -5.0 13.4 -4.8 18.1 -0.6 C13.0 -2.0 6.7 -2.0 2.4 -1.3Z" fill="#2c9c4a" opacity="0.75"/></g><g transform="translate(398.9 201.8) rotate(-79)"><path d="M0 0 C3.6 -6.2 13.0 -5.7 18.0 0 C13.0 5.7 3.6 6.2 0 0Z" fill="#2fa144"/><path d="M2.2 -1.2 C5.4 -4.7 12.3 -4.5 16.6 -0.6 C11.9 -1.9 6.1 -1.9 2.2 -1.2Z" fill="#5cc060" opacity="0.75"/></g><g transform="translate(404.0 204.3) rotate(-32)"><path d="M0 0 C3.3 -7.0 12.1 -6.5 16.7 0 C12.1 6.5 3.3 7.0 0 0Z" fill="#2fa144"/><path d="M2.0 -1.3 C5.0 -5.4 11.4 -5.1 15.4 -0.6 C11.1 -2.2 5.7 -2.2 2.0 -1.3Z" fill="#5cc060" opacity="0.75"/></g>
<ellipse cx="340" cy="203" rx="12.0" ry="8.3" fill="#15873a"/><g transform="translate(349.3 202.4) rotate(-30)"><path d="M0 0 C3.4 -5.8 12.2 -5.3 16.9 0 C12.2 5.3 3.4 5.8 0 0Z" fill="#15873a"/><path d="M2.0 -1.1 C5.1 -4.4 11.5 -4.2 15.5 -0.5 C11.2 -1.8 5.7 -1.8 2.0 -1.1Z" fill="#2c9c4a" opacity="0.75"/></g><g transform="translate(346.1 207.9) rotate(59)"><path d="M0 0 C4.0 -5.9 14.5 -5.4 20.2 0 C14.5 5.4 4.0 5.9 0 0Z" fill="#0e7635"/><path d="M2.4 -1.1 C6.0 -4.5 13.7 -4.3 18.5 -0.5 C13.3 -1.8 6.9 -1.8 2.4 -1.1Z" fill="#2c9c4a" opacity="0.75"/></g><g transform="translate(340.6 209.5) rotate(89)"><path d="M0 0 C3.9 -6.9 14.0 -6.3 19.4 0 C14.0 6.3 3.9 6.9 0 0Z" fill="#15873a"/><path d="M2.3 -1.3 C5.8 -5.3 13.2 -5.0 17.9 -0.6 C12.8 -2.1 6.6 -2.1 2.3 -1.3Z" fill="#2c9c4a" opacity="0.75"/></g><g transform="translate(336.0 208.9) rotate(113)"><path d="M0 0 C3.5 -6.9 12.7 -6.4 17.7 0 C12.7 6.4 3.5 6.9 0 0Z" fill="#2fa144"/><path d="M2.1 -1.3 C5.3 -5.3 12.0 -5.0 16.2 -0.6 C11.7 -2.1 6.0 -2.1 2.1 -1.3Z" fill="#5cc060" opacity="0.75"/></g><g transform="translate(331.4 205.6) rotate(168)"><path d="M0 0 C3.7 -6.0 13.2 -5.5 18.3 0 C13.2 5.5 3.7 6.0 0 0Z" fill="#0e7635"/><path d="M2.2 -1.1 C5.5 -4.6 12.4 -4.4 16.8 -0.6 C12.1 -1.8 6.2 -1.8 2.2 -1.1Z" fill="#2c9c4a" opacity="0.75"/></g><g transform="translate(331.2 200.8) rotate(-172)"><path d="M0 0 C3.8 -6.3 13.8 -5.8 19.2 0 C13.8 5.8 3.8 6.3 0 0Z" fill="#15873a"/><path d="M2.3 -1.2 C5.8 -4.8 13.1 -4.6 17.7 -0.6 C12.7 -1.9 6.5 -1.9 2.3 -1.2Z" fill="#2c9c4a" opacity="0.75"/></g><g transform="translate(335.2 197.4) rotate(-109)"><path d="M0 0 C3.7 -5.8 13.3 -5.4 18.4 0 C13.3 5.4 3.7 5.8 0 0Z" fill="#15873a"/><path d="M2.2 -1.1 C5.5 -4.5 12.5 -4.2 17.0 -0.5 C12.2 -1.8 6.3 -1.8 2.2 -1.1Z" fill="#2c9c4a" opacity="0.75"/></g><g transform="translate(341.3 196.6) rotate(-81)"><path d="M0 0 C3.7 -6.1 13.4 -5.7 18.7 0 C13.4 5.7 3.7 6.1 0 0Z" fill="#2fa144"/><path d="M2.2 -1.2 C5.6 -4.7 12.7 -4.5 17.2 -0.6 C12.3 -1.9 6.3 -1.9 2.2 -1.2Z" fill="#5cc060" opacity="0.75"/></g><g transform="translate(348.1 199.7) rotate(-59)"><path d="M0 0 C3.5 -6.8 12.8 -6.3 17.7 0 C12.8 6.3 3.5 6.8 0 0Z" fill="#15873a"/><path d="M2.1 -1.3 C5.3 -5.2 12.1 -5.0 16.3 -0.6 C11.7 -2.1 6.0 -2.1 2.1 -1.3Z" fill="#2c9c4a" opacity="0.75"/></g>
<ellipse cx="482" cy="114" rx="21.2" ry="22.1" fill="#15873a"/><g transform="translate(498.5 112.7) rotate(-9)"><path d="M0 0 C3.5 -5.7 12.6 -5.3 17.5 0 C12.6 5.3 3.5 5.7 0 0Z" fill="#2fa144"/><path d="M2.1 -1.1 C5.2 -4.4 11.9 -4.2 16.1 -0.5 C11.5 -1.8 5.9 -1.8 2.1 -1.1Z" fill="#5cc060" opacity="0.75"/></g><g transform="translate(497.3 120.7) rotate(44)"><path d="M0 0 C4.0 -6.1 14.3 -5.6 19.9 0 C14.3 5.6 4.0 6.1 0 0Z" fill="#15873a"/><path d="M2.4 -1.2 C6.0 -4.7 13.5 -4.4 18.3 -0.6 C13.1 -1.9 6.7 -1.9 2.4 -1.2Z" fill="#2c9c4a" opacity="0.75"/></g><g transform="translate(495.6 123.9) rotate(14)"><path d="M0 0 C4.0 -6.4 14.6 -5.9 20.2 0 C14.6 5.9 4.0 6.4 0 0Z" fill="#0e7635"/><path d="M2.4 -1.2 C6.1 -4.9 13.7 -4.7 18.6 -0.6 C13.3 -2.0 6.9 -2.0 2.4 -1.2Z" fill="#2c9c4a" opacity="0.75"/></g><g transform="translate(491.4 128.3) rotate(41)"><path d="M0 0 C4.0 -5.8 14.6 -5.4 20.2 0 C14.6 5.4 4.0 5.8 0 0Z" fill="#2fa144"/><path d="M2.4 -1.1 C6.1 -4.5 13.7 -4.3 18.6 -0.5 C13.3 -1.8 6.9 -1.8 2.4 -1.1Z" fill="#5cc060" opacity="0.75"/></g><g transform="translate(487.1 130.4) rotate(68)"><path d="M0 0 C3.7 -6.5 13.5 -6.0 18.7 0 C13.5 6.0 3.7 6.5 0 0Z" fill="#2fa144"/><path d="M2.2 -1.3 C5.6 -5.0 12.7 -4.8 17.2 -0.6 C12.3 -2.0 6.4 -2.0 2.2 -1.3Z" fill="#5cc060" opacity="0.75"/></g><g transform="translate(480.7 131.2) rotate(118)"><path d="M0 0 C4.0 -5.8 14.3 -5.4 19.9 0 C14.3 5.4 4.0 5.8 0 0Z" fill="#15873a"/><path d="M2.4 -1.1 C6.0 -4.5 13.5 -4.3 18.3 -0.5 C13.1 -1.8 6.8 -1.8 2.4 -1.1Z" fill="#2c9c4a" opacity="0.75"/></g><g transform="translate(474.2 129.2) rotate(126)"><path d="M0 0 C3.3 -6.4 12.0 -5.9 16.7 0 C12.0 5.9 3.3 6.4 0 0Z" fill="#15873a"/><path d="M2.0 -1.2 C5.0 -4.9 11.3 -4.7 15.3 -0.6 C11.0 -2.0 5.7 -2.0 2.0 -1.2Z" fill="#2c9c4a" opacity="0.75"/></g><g transform="translate(470.4 126.3) rotate(127)"><path d="M0 0 C3.4 -6.2 12.1 -5.7 16.8 0 C12.1 5.7 3.4 6.2 0 0Z" fill="#2fa144"/><path d="M2.0 -1.2 C5.0 -4.8 11.4 -4.5 15.4 -0.6 C11.1 -1.9 5.7 -1.9 2.0 -1.2Z" fill="#5cc060" opacity="0.75"/></g><g transform="translate(467.8 122.9) rotate(164)"><path d="M0 0 C3.7 -6.0 13.2 -5.5 18.4 0 C13.2 5.5 3.7 6.0 0 0Z" fill="#15873a"/><path d="M2.2 -1.1 C5.5 -4.6 12.5 -4.4 16.9 -0.5 C12.1 -1.8 6.2 -1.8 2.2 -1.1Z" fill="#2c9c4a" opacity="0.75"/></g><g transform="translate(465.6 116.2) rotate(178)"><path d="M0 0 C3.6 -6.9 12.8 -6.3 17.8 0 C12.8 6.3 3.6 6.9 0 0Z" fill="#0e7635"/><path d="M2.1 -1.3 C5.3 -5.3 12.1 -5.0 16.3 -0.6 C11.7 -2.1 6.0 -2.1 2.1 -1.3Z" fill="#2c9c4a" opacity="0.75"/></g><g transform="translate(465.8 110.4) rotate(-143)"><path d="M0 0 C3.8 -6.0 13.6 -5.5 18.8 0 C13.6 5.5 3.8 6.0 0 0Z" fill="#15873a"/><path d="M2.3 -1.2 C5.7 -4.6 12.8 -4.4 17.3 -0.6 C12.4 -1.8 6.4 -1.8 2.3 -1.2Z" fill="#2c9c4a" opacity="0.75"/></g><g transform="translate(467.9 104.9) rotate(-126)"><path d="M0 0 C3.5 -6.0 12.6 -5.5 17.6 0 C12.6 5.5 3.5 6.0 0 0Z" fill="#2fa144"/><path d="M2.1 -1.2 C5.3 -4.6 11.9 -4.4 16.2 -0.6 C11.6 -1.8 6.0 -1.8 2.1 -1.2Z" fill="#5cc060" opacity="0.75"/></g><g transform="translate(470.1 102.0) rotate(-138)"><path d="M0 0 C3.3 -6.3 12.1 -5.8 16.7 0 C12.1 5.8 3.3 6.3 0 0Z" fill="#2fa144"/><path d="M2.0 -1.2 C5.0 -4.9 11.4 -4.6 15.4 -0.6 C11.1 -1.9 5.7 -1.9 2.0 -1.2Z" fill="#5cc060" opacity="0.75"/></g><g transform="translate(475.7 98.0) rotate(-138)"><path d="M0 0 C3.5 -6.2 12.7 -5.7 17.6 0 C12.7 5.7 3.5 6.2 0 0Z" fill="#15873a"/><path d="M2.1 -1.2 C5.3 -4.8 12.0 -4.5 16.2 -0.6 C11.6 -1.9 6.0 -1.9 2.1 -1.2Z" fill="#2c9c4a" opacity="0.75"/></g><g transform="translate(481.9 96.7) rotate(-75)"><path d="M0 0 C3.6 -6.7 12.8 -6.2 17.8 0 C12.8 6.2 3.6 6.7 0 0Z" fill="#15873a"/><path d="M2.1 -1.3 C5.3 -5.2 12.1 -4.9 16.3 -0.6 C11.7 -2.1 6.0 -2.1 2.1 -1.3Z" fill="#2c9c4a" opacity="0.75"/></g><g transform="translate(485.5 97.1) rotate(-92)"><path d="M0 0 C3.4 -6.0 12.3 -5.5 17.1 0 C12.3 5.5 3.4 6.0 0 0Z" fill="#15873a"/><path d="M2.1 -1.2 C5.1 -4.6 11.6 -4.4 15.7 -0.6 C11.3 -1.8 5.8 -1.8 2.1 -1.2Z" fill="#2c9c4a" opacity="0.75"/></g><g transform="translate(491.5 99.9) rotate(-64)"><path d="M0 0 C4.0 -6.8 14.3 -6.3 19.8 0 C14.3 6.3 4.0 6.8 0 0Z" fill="#15873a"/><path d="M2.4 -1.3 C5.9 -5.2 13.5 -5.0 18.2 -0.6 C13.1 -2.1 6.7 -2.1 2.4 -1.3Z" fill="#2c9c4a" opacity="0.75"/></g><g transform="translate(495.3 103.8) rotate(-10)"><path d="M0 0 C3.7 -5.8 13.2 -5.4 18.4 0 C13.2 5.4 3.7 5.8 0 0Z" fill="#0e7635"/><path d="M2.2 -1.1 C5.5 -4.5 12.5 -4.2 16.9 -0.5 C12.1 -1.8 6.3 -1.8 2.2 -1.1Z" fill="#2c9c4a" opacity="0.75"/></g><g transform="translate(497.9 109.3) rotate(-27)"><path d="M0 0 C3.5 -6.1 12.7 -5.7 17.6 0 C12.7 5.7 3.5 6.1 0 0Z" fill="#15873a"/><path d="M2.1 -1.2 C5.3 -4.7 12.0 -4.5 16.2 -0.6 C11.6 -1.9 6.0 -1.9 2.1 -1.2Z" fill="#2c9c4a" opacity="0.75"/></g>
<ellipse cx="512" cy="102" rx="18.4" ry="12.0" fill="#15873a"/><g transform="translate(526.4 101.5) rotate(-28)"><path d="M0 0 C4.1 -6.6 14.9 -6.1 20.7 0 C14.9 6.1 4.1 6.6 0 0Z" fill="#0e7635"/><path d="M2.5 -1.3 C6.2 -5.1 14.0 -4.8 19.0 -0.6 C13.6 -2.0 7.0 -2.0 2.5 -1.3Z" fill="#2c9c4a" opacity="0.75"/></g><g transform="translate(524.7 106.4) rotate(28)"><path d="M0 0 C3.7 -6.8 13.5 -6.3 18.7 0 C13.5 6.3 3.7 6.8 0 0Z" fill="#2fa144"/><path d="M2.2 -1.3 C5.6 -5.2 12.7 -5.0 17.2 -0.6 C12.3 -2.1 6.4 -2.1 2.2 -1.3Z" fill="#5cc060" opacity="0.75"/></g><g transform="translate(518.8 110.3) rotate(49)"><path d="M0 0 C4.1 -6.1 14.6 -5.6 20.3 0 C14.6 5.6 4.1 6.1 0 0Z" fill="#15873a"/><path d="M2.4 -1.2 C6.1 -4.7 13.8 -4.5 18.6 -0.6 C13.4 -1.9 6.9 -1.9 2.4 -1.2Z" fill="#2c9c4a" opacity="0.75"/></g><g transform="translate(512.4 111.4) rotate(99)"><path d="M0 0 C3.4 -6.1 12.1 -5.6 16.8 0 C12.1 5.6 3.4 6.1 0 0Z" fill="#15873a"/><path d="M2.0 -1.2 C5.1 -4.7 11.4 -4.4 15.5 -0.6 C11.1 -1.9 5.7 -1.9 2.0 -1.2Z" fill="#2c9c4a" opacity="0.75"/></g><g transform="translate(508.0 111.0) rotate(81)"><path d="M0 0 C3.8 -6.8 13.6 -6.2 18.9 0 C13.6 6.2 3.8 6.8 0 0Z" fill="#15873a"/><path d="M2.3 -1.3 C5.7 -5.2 12.9 -4.9 17.4 -0.6 C12.5 -2.1 6.4 -2.1 2.3 -1.3Z" fill="#2c9c4a" opacity="0.75"/></g><g transform="translate(501.4 108.4) rotate(133)"><path d="M0 0 C3.7 -6.7 13.4 -6.2 18.5 0 C13.4 6.2 3.7 6.7 0 0Z" fill="#15873a"/><path d="M2.2 -1.3 C5.6 -5.1 12.6 -4.9 17.1 -0.6 C12.2 -2.1 6.3 -2.1 2.2 -1.3Z" fill="#2c9c4a" opacity="0.75"/></g><g transform="translate(497.9 104.0) rotate(139)"><path d="M0 0 C3.5 -6.4 12.4 -6.0 17.3 0 C12.4 6.0 3.5 6.4 0 0Z" fill="#15873a"/><path d="M2.1 -1.2 C5.2 -5.0 11.8 -4.7 15.9 -0.6 C11.4 -2.0 5.9 -2.0 2.1 -1.2Z" fill="#2c9c4a" opacity="0.75"/></g><g transform="translate(497.7 100.7) rotate(-147)"><path d="M0 0 C4.1 -5.8 14.9 -5.4 20.7 0 C14.9 5.4 4.1 5.8 0 0Z" fill="#0e7635"/><path d="M2.5 -1.1 C6.2 -4.5 14.1 -4.3 19.0 -0.5 C13.6 -1.8 7.0 -1.8 2.5 -1.1Z" fill="#2c9c4a" opacity="0.75"/></g><g transform="translate(502.0 95.2) rotate(-108)"><path d="M0 0 C3.9 -6.0 14.1 -5.5 19.6 0 C14.1 5.5 3.9 6.0 0 0Z" fill="#15873a"/><path d="M2.3 -1.1 C5.9 -4.6 13.3 -4.4 18.0 -0.5 C12.9 -1.8 6.7 -1.8 2.3 -1.1Z" fill="#2c9c4a" opacity="0.75"/></g><g transform="translate(506.0 93.5) rotate(-91)"><path d="M0 0 C4.1 -6.2 14.6 -5.7 20.3 0 C14.6 5.7 4.1 6.2 0 0Z" fill="#0e7635"/><path d="M2.4 -1.2 C6.1 -4.7 13.8 -4.5 18.7 -0.6 C13.4 -1.9 6.9 -1.9 2.4 -1.2Z" fill="#2c9c4a" opacity="0.75"/></g><g transform="translate(512.6 92.6) rotate(-86)"><path d="M0 0 C3.5 -6.5 12.4 -6.0 17.3 0 C12.4 6.0 3.5 6.5 0 0Z" fill="#15873a"/><path d="M2.1 -1.3 C5.2 -5.0 11.7 -4.8 15.9 -0.6 C11.4 -2.0 5.9 -2.0 2.1 -1.3Z" fill="#2c9c4a" opacity="0.75"/></g><g transform="translate(520.9 94.6) rotate(-64)"><path d="M0 0 C3.8 -6.4 13.5 -5.9 18.8 0 C13.5 5.9 3.8 6.4 0 0Z" fill="#15873a"/><path d="M2.3 -1.2 C5.6 -4.9 12.8 -4.7 17.3 -0.6 C12.4 -2.0 6.4 -2.0 2.3 -1.2Z" fill="#2c9c4a" opacity="0.75"/></g><g transform="translate(524.1 96.9) rotate(-54)"><path d="M0 0 C4.0 -6.0 14.5 -5.6 20.2 0 C14.5 5.6 4.0 6.0 0 0Z" fill="#2fa144"/><path d="M2.4 -1.2 C6.0 -4.6 13.7 -4.4 18.5 -0.6 C13.3 -1.9 6.9 -1.9 2.4 -1.2Z" fill="#5cc060" opacity="0.75"/></g>
<ellipse cx="586" cy="118" rx="27.6" ry="16.6" fill="#15873a"/><g transform="translate(607.5 117.1) rotate(-15)"><path d="M0 0 C3.9 -6.5 14.0 -6.0 19.5 0 C14.0 6.0 3.9 6.5 0 0Z" fill="#0e7635"/><path d="M2.3 -1.2 C5.8 -5.0 13.2 -4.7 17.9 -0.6 C12.8 -2.0 6.6 -2.0 2.3 -1.2Z" fill="#2c9c4a" opacity="0.75"/></g><g transform="translate(606.1 122.7) rotate(25)"><path d="M0 0 C3.7 -7.0 13.4 -6.4 18.6 0 C13.4 6.4 3.7 7.0 0 0Z" fill="#0e7635"/><path d="M2.2 -1.3 C5.6 -5.3 12.7 -5.1 17.2 -0.6 C12.3 -2.1 6.3 -2.1 2.2 -1.3Z" fill="#2c9c4a" opacity="0.75"/></g><g transform="translate(603.7 125.4) rotate(49)"><path d="M0 0 C3.4 -7.0 12.3 -6.5 17.1 0 C12.3 6.5 3.4 7.0 0 0Z" fill="#0e7635"/><path d="M2.1 -1.3 C5.1 -5.4 11.6 -5.1 15.8 -0.6 C11.3 -2.2 5.8 -2.2 2.1 -1.3Z" fill="#2c9c4a" opacity="0.75"/></g><g transform="translate(600.0 127.9) rotate(83)"><path d="M0 0 C3.6 -6.9 13.1 -6.3 18.2 0 C13.1 6.3 3.6 6.9 0 0Z" fill="#15873a"/><path d="M2.2 -1.3 C5.5 -5.3 12.4 -5.0 16.7 -0.6 C12.0 -2.1 6.2 -2.1 2.2 -1.3Z" fill="#2c9c4a" opacity="0.75"/></g><g transform="translate(592.1 130.4) rotate(82)"><path d="M0 0 C3.8 -6.1 13.8 -5.7 19.2 0 C13.8 5.7 3.8 6.1 0 0Z" fill="#0e7635"/><path d="M2.3 -1.2 C5.8 -4.7 13.1 -4.5 17.7 -0.6 C12.7 -1.9 6.5 -1.9 2.3 -1.2Z" fill="#2c9c4a" opacity="0.75"/></g><g transform="translate(584.8 130.9) rotate(72)"><path d="M0 0 C3.7 -6.5 13.3 -6.0 18.4 0 C13.3 6.0 3.7 6.5 0 0Z" fill="#2fa144"/><path d="M2.2 -1.2 C5.5 -5.0 12.5 -4.7 16.9 -0.6 C12.2 -2.0 6.3 -2.0 2.2 -1.2Z" fill="#5cc060" opacity="0.75"/></g><g transform="translate(577.8 130.0) rotate(91)"><path d="M0 0 C3.4 -6.1 12.4 -5.6 17.2 0 C12.4 5.6 3.4 6.1 0 0Z" fill="#15873a"/><path d="M2.1 -1.2 C5.2 -4.7 11.7 -4.4 15.9 -0.6 C11.4 -1.9 5.9 -1.9 2.1 -1.2Z" fill="#2c9c4a" opacity="0.75"/></g><g transform="translate(573.0 128.3) rotate(139)"><path d="M0 0 C3.5 -6.7 12.5 -6.2 17.3 0 C12.5 6.2 3.5 6.7 0 0Z" fill="#0e7635"/><path d="M2.1 -1.3 C5.2 -5.1 11.8 -4.9 15.9 -0.6 C11.4 -2.1 5.9 -2.1 2.1 -1.3Z" fill="#2c9c4a" opacity="0.75"/></g><g transform="translate(568.2 125.4) rotate(107)"><path d="M0 0 C3.6 -6.2 13.0 -5.7 18.1 0 C13.0 5.7 3.6 6.2 0 0Z" fill="#0e7635"/><path d="M2.2 -1.2 C5.4 -4.7 12.3 -4.5 16.6 -0.6 C11.9 -1.9 6.2 -1.9 2.2 -1.2Z" fill="#2c9c4a" opacity="0.75"/></g><g transform="translate(565.9 122.7) rotate(137)"><path d="M0 0 C4.0 -6.3 14.4 -5.8 20.0 0 C14.4 5.8 4.0 6.3 0 0Z" fill="#15873a"/><path d="M2.4 -1.2 C6.0 -4.8 13.6 -4.6 18.4 -0.6 C13.2 -1.9 6.8 -1.9 2.4 -1.2Z" fill="#2c9c4a" opacity="0.75"/></g><g transform="translate(564.5 118.9) rotate(163)"><path d="M0 0 C4.1 -6.2 14.6 -5.8 20.3 0 C14.6 5.8 4.1 6.2 0 0Z" fill="#0e7635"/><path d="M2.4 -1.2 C6.1 -4.8 13.8 -4.6 18.7 -0.6 C13.4 -1.9 6.9 -1.9 2.4 -1.2Z" fill="#2c9c4a" opacity="0.75"/></g><g transform="translate(565.0 114.9) rotate(-179)"><path d="M0 0 C3.3 -6.5 12.1 -6.0 16.7 0 C12.1 6.0 3.3 6.5 0 0Z" fill="#0e7635"/><path d="M2.0 -1.3 C5.0 -5.0 11.4 -4.8 15.4 -0.6 C11.1 -2.0 5.7 -2.0 2.0 -1.3Z" fill="#2c9c4a" opacity="0.75"/></g><g transform="translate(568.0 110.8) rotate(-107)"><path d="M0 0 C4.1 -7.0 14.7 -6.5 20.4 0 C14.7 6.5 4.1 7.0 0 0Z" fill="#2fa144"/><path d="M2.4 -1.3 C6.1 -5.4 13.9 -5.1 18.8 -0.6 C13.5 -2.2 6.9 -2.2 2.4 -1.3Z" fill="#5cc060" opacity="0.75"/></g><g transform="translate(573.3 107.5) rotate(-141)"><path d="M0 0 C3.7 -6.3 13.2 -5.8 18.3 0 C13.2 5.8 3.7 6.3 0 0Z" fill="#2fa144"/><path d="M2.2 -1.2 C5.5 -4.9 12.5 -4.6 16.9 -0.6 C12.1 -1.9 6.2 -1.9 2.2 -1.2Z" fill="#5cc060" opacity="0.75"/></g><g transform="translate(578.7 105.8) rotate(-130)"><path d="M0 0 C3.9 -5.9 13.9 -5.4 19.3 0 C13.9 5.4 3.9 5.9 0 0Z" fill="#0e7635"/><path d="M2.3 -1.1 C5.8 -4.5 13.1 -4.3 17.8 -0.5 C12.7 -1.8 6.6 -1.8 2.3 -1.1Z" fill="#2c9c4a" opacity="0.75"/></g><g transform="translate(587.0 105.1) rotate(-95)"><path d="M0 0 C3.8 -6.0 13.6 -5.5 18.9 0 C13.6 5.5 3.8 6.0 0 0Z" fill="#15873a"/><path d="M2.3 -1.1 C5.7 -4.6 12.9 -4.4 17.4 -0.6 C12.5 -1.8 6.4 -1.8 2.3 -1.1Z" fill="#2c9c4a" opacity="0.75"/></g><g transform="translate(592.2 105.6) rotate(-60)"><path d="M0 0 C3.7 -6.6 13.2 -6.1 18.3 0 C13.2 6.1 3.7 6.6 0 0Z" fill="#15873a"/><path d="M2.2 -1.3 C5.5 -5.1 12.5 -4.8 16.9 -0.6 C12.1 -2.0 6.2 -2.0 2.2 -1.3Z" fill="#2c9c4a" opacity="0.75"/></g><g transform="translate(600.0 108.1) rotate(-56)"><path d="M0 0 C3.8 -6.2 13.6 -5.7 18.9 0 C13.6 5.7 3.8 6.2 0 0Z" fill="#15873a"/><path d="M2.3 -1.2 C5.7 -4.8 12.8 -4.5 17.4 -0.6 C12.5 -1.9 6.4 -1.9 2.3 -1.2Z" fill="#2c9c4a" opacity="0.75"/></g><g transform="translate(603.5 110.4) rotate(-51)"><path d="M0 0 C3.8 -7.0 13.7 -6.4 19.0 0 C13.7 6.4 3.8 7.0 0 0Z" fill="#2fa144"/><path d="M2.3 -1.3 C5.7 -5.4 12.9 -5.1 17.5 -0.6 C12.5 -2.1 6.5 -2.1 2.3 -1.3Z" fill="#5cc060" opacity="0.75"/></g><g transform="translate(606.5 114.0) rotate(-46)"><path d="M0 0 C3.9 -6.2 14.1 -5.7 19.6 0 C14.1 5.7 3.9 6.2 0 0Z" fill="#15873a"/><path d="M2.3 -1.2 C5.9 -4.8 13.3 -4.5 18.0 -0.6 C12.9 -1.9 6.7 -1.9 2.3 -1.2Z" fill="#2c9c4a" opacity="0.75"/></g>
<ellipse cx="548" cy="165" rx="36.8" ry="25.8" fill="#15873a"/><g transform="translate(576.8 164.1) rotate(-20)"><path d="M0 0 C3.4 -6.9 12.2 -6.4 17.0 0 C12.2 6.4 3.4 6.9 0 0Z" fill="#15873a"/><path d="M2.0 -1.3 C5.1 -5.3 11.5 -5.1 15.6 -0.6 C11.2 -2.1 5.8 -2.1 2.0 -1.3Z" fill="#2c9c4a" opacity="0.75"/></g><g transform="translate(576.3 168.6) rotate(-6)"><path d="M0 0 C3.5 -6.9 12.6 -6.3 17.4 0 C12.6 6.3 3.5 6.9 0 0Z" fill="#15873a"/><path d="M2.1 -1.3 C5.2 -5.3 11.9 -5.0 16.0 -0.6 C11.5 -2.1 5.9 -2.1 2.1 -1.3Z" fill="#2c9c4a" opacity="0.75"/></g><g transform="translate(573.6 174.3) rotate(27)"><path d="M0 0 C3.8 -6.9 13.8 -6.4 19.1 0 C13.8 6.4 3.8 6.9 0 0Z" fill="#0e7635"/><path d="M2.3 -1.3 C5.7 -5.3 13.0 -5.0 17.6 -0.6 C12.6 -2.1 6.5 -2.1 2.3 -1.3Z" fill="#2c9c4a" opacity="0.75"/></g><g transform="translate(571.0 177.1) rotate(74)"><path d="M0 0 C3.4 -5.9 12.1 -5.4 16.8 0 C12.1 5.4 3.4 5.9 0 0Z" fill="#0e7635"/><path d="M2.0 -1.1 C5.0 -4.5 11.4 -4.3 15.5 -0.5 C11.1 -1.8 5.7 -1.8 2.0 -1.1Z" fill="#2c9c4a" opacity="0.75"/></g><g transform="translate(565.1 181.2) rotate(74)"><path d="M0 0 C4.1 -6.0 14.6 -5.6 20.3 0 C14.6 5.6 4.1 6.0 0 0Z" fill="#15873a"/><path d="M2.4 -1.2 C6.1 -4.6 13.8 -4.4 18.7 -0.6 C13.4 -1.9 6.9 -1.9 2.4 -1.2Z" fill="#2c9c4a" opacity="0.75"/></g><g transform="translate(559.9 183.3) rotate(79)"><path d="M0 0 C4.1 -7.0 14.6 -6.4 20.3 0 C14.6 6.4 4.1 7.0 0 0Z" fill="#15873a"/><path d="M2.4 -1.3 C6.1 -5.4 13.8 -5.1 18.7 -0.6 C13.4 -2.1 6.9 -2.1 2.4 -1.3Z" fill="#2c9c4a" opacity="0.75"/></g><g transform="translate(553.9 184.7) rotate(56)"><path d="M0 0 C3.4 -6.7 12.2 -6.2 16.9 0 C12.2 6.2 3.4 6.7 0 0Z" fill="#0e7635"/><path d="M2.0 -1.3 C5.1 -5.2 11.5 -4.9 15.6 -0.6 C11.2 -2.1 5.8 -2.1 2.0 -1.3Z" fill="#2c9c4a" opacity="0.75"/></g><g transform="translate(547.9 185.2) rotate(74)"><path d="M0 0 C4.0 -6.4 14.5 -5.9 20.1 0 C14.5 5.9 4.0 6.4 0 0Z" fill="#0e7635"/><path d="M2.4 -1.2 C6.0 -4.9 13.7 -4.7 18.5 -0.6 C13.3 -2.0 6.8 -2.0 2.4 -1.2Z" fill="#2c9c4a" opacity="0.75"/></g><g transform="translate(540.5 184.5) rotate(110)"><path d="M0 0 C3.6 -5.8 12.9 -5.3 18.0 0 C12.9 5.3 3.6 5.8 0 0Z" fill="#2fa144"/><path d="M2.2 -1.1 C5.4 -4.4 12.2 -4.2 16.5 -0.5 C11.9 -1.8 6.1 -1.8 2.2 -1.1Z" fill="#5cc060" opacity="0.75"/></g><g transform="translate(535.6 183.2) rotate(89)"><path d="M0 0 C3.6 -6.3 13.0 -5.8 18.1 0 C13.0 5.8 3.6 6.3 0 0Z" fill="#0e7635"/><path d="M2.2 -1.2 C5.4 -4.8 12.3 -4.6 16.6 -0.6 C11.9 -1.9 6.1 -1.9 2.2 -1.2Z" fill="#2c9c4a" opacity="0.75"/></g><g transform="translate(531.2 181.4) rotate(112)"><path d="M0 0 C3.6 -6.2 12.9 -5.7 18.0 0 C12.9 5.7 3.6 6.2 0 0Z" fill="#15873a"/><path d="M2.2 -1.2 C5.4 -4.7 12.2 -4.5 16.5 -0.6 C11.9 -1.9 6.1 -1.9 2.2 -1.2Z" fill="#2c9c4a" opacity="0.75"/></g><g transform="translate(524.9 177.1) rotate(136)"><path d="M0 0 C4.0 -6.9 14.4 -6.4 20.0 0 C14.4 6.4 4.0 6.9 0 0Z" fill="#2fa144"/><path d="M2.4 -1.3 C6.0 -5.3 13.6 -5.1 18.4 -0.6 C13.2 -2.1 6.8 -2.1 2.4 -1.3Z" fill="#5cc060" opacity="0.75"/></g><g transform="translate(521.6 173.0) rotate(139)"><path d="M0 0 C3.6 -6.6 12.9 -6.1 18.0 0 C12.9 6.1 3.6 6.6 0 0Z" fill="#15873a"/><path d="M2.2 -1.3 C5.4 -5.1 12.2 -4.8 16.5 -0.6 C11.9 -2.0 6.1 -2.0 2.2 -1.3Z" fill="#2c9c4a" opacity="0.75"/></g><g transform="translate(520.2 170.3) rotate(149)"><path d="M0 0 C3.7 -6.1 13.1 -5.6 18.3 0 C13.1 5.6 3.7 6.1 0 0Z" fill="#2fa144"/><path d="M2.2 -1.2 C5.5 -4.7 12.4 -4.4 16.8 -0.6 C12.0 -1.9 6.2 -1.9 2.2 -1.2Z" fill="#5cc060" opacity="0.75"/></g><g transform="translate(519.2 166.1) rotate(161)"><path d="M0 0 C3.5 -6.4 12.5 -5.9 17.4 0 C12.5 5.9 3.5 6.4 0 0Z" fill="#15873a"/><path d="M2.1 -1.2 C5.2 -4.9 11.8 -4.7 16.0 -0.6 C11.5 -2.0 5.9 -2.0 2.1 -1.2Z" fill="#2c9c4a" opacity="0.75"/></g><g transform="translate(520.2 159.8) rotate(-167)"><path d="M0 0 C3.7 -6.2 13.3 -5.7 18.5 0 C13.3 5.7 3.7 6.2 0 0Z" fill="#15873a"/><path d="M2.2 -1.2 C5.5 -4.8 12.6 -4.5 17.0 -0.6 C12.2 -1.9 6.3 -1.9 2.2 -1.2Z" fill="#2c9c4a" opacity="0.75"/></g><g transform="translate(521.5 157.2) rotate(-144)"><path d="M0 0 C4.0 -6.3 14.3 -5.8 19.9 0 C14.3 5.8 4.0 6.3 0 0Z" fill="#0e7635"/><path d="M2.4 -1.2 C6.0 -4.9 13.5 -4.6 18.3 -0.6 C13.1 -1.9 6.8 -1.9 2.4 -1.2Z" fill="#2c9c4a" opacity="0.75"/></g><g transform="translate(525.5 152.4) rotate(-130)"><path d="M0 0 C3.5 -5.9 12.7 -5.5 17.6 0 C12.7 5.5 3.5 5.9 0 0Z" fill="#0e7635"/><path d="M2.1 -1.1 C5.3 -4.6 12.0 -4.3 16.2 -0.5 C11.6 -1.8 6.0 -1.8 2.1 -1.1Z" fill="#2c9c4a" opacity="0.75"/></g><g transform="translate(529.2 149.7) rotate(-134)"><path d="M0 0 C3.8 -5.9 13.6 -5.5 18.9 0 C13.6 5.5 3.8 5.9 0 0Z" fill="#15873a"/><path d="M2.3 -1.1 C5.7 -4.6 12.9 -4.3 17.4 -0.5 C12.5 -1.8 6.4 -1.8 2.3 -1.1Z" fill="#2c9c4a" opacity="0.75"/></g><g transform="translate(534.3 147.3) rotate(-112)"><path d="M0 0 C3.7 -5.8 13.4 -5.3 18.6 0 C13.4 5.3 3.7 5.8 0 0Z" fill="#15873a"/><path d="M2.2 -1.1 C5.6 -4.4 12.7 -4.2 17.1 -0.5 C12.3 -1.8 6.3 -1.8 2.2 -1.1Z" fill="#2c9c4a" opacity="0.75"/></g><g transform="translate(541.5 145.4) rotate(-115)"><path d="M0 0 C3.7 -6.0 13.2 -5.6 18.3 0 C13.2 5.6 3.7 6.0 0 0Z" fill="#15873a"/><path d="M2.2 -1.2 C5.5 -4.6 12.5 -4.4 16.9 -0.6 C12.1 -1.9 6.2 -1.9 2.2 -1.2Z" fill="#2c9c4a" opacity="0.75"/></g><g transform="translate(548.1 144.8) rotate(-86)"><path d="M0 0 C3.7 -6.0 13.4 -5.5 18.6 0 C13.4 5.5 3.7 6.0 0 0Z" fill="#0e7635"/><path d="M2.2 -1.2 C5.6 -4.6 12.7 -4.4 17.2 -0.6 C12.3 -1.8 6.3 -1.8 2.2 -1.2Z" fill="#2c9c4a" opacity="0.75"/></g><g transform="translate(555.0 145.4) rotate(-104)"><path d="M0 0 C3.5 -6.5 12.6 -6.0 17.4 0 C12.6 6.0 3.5 6.5 0 0Z" fill="#0e7635"/><path d="M2.1 -1.3 C5.2 -5.0 11.9 -4.8 16.0 -0.6 C11.5 -2.0 5.9 -2.0 2.1 -1.3Z" fill="#2c9c4a" opacity="0.75"/></g><g transform="translate(559.1 146.4) rotate(-83)"><path d="M0 0 C4.0 -5.8 14.3 -5.3 19.9 0 C14.3 5.3 4.0 5.8 0 0Z" fill="#15873a"/><path d="M2.4 -1.1 C6.0 -4.5 13.5 -4.2 18.3 -0.5 C13.1 -1.8 6.8 -1.8 2.4 -1.1Z" fill="#2c9c4a" opacity="0.75"/></g><g transform="translate(565.2 148.9) rotate(-73)"><path d="M0 0 C4.0 -5.9 14.3 -5.5 19.9 0 C14.3 5.5 4.0 5.9 0 0Z" fill="#15873a"/><path d="M2.4 -1.1 C6.0 -4.6 13.5 -4.3 18.3 -0.5 C13.1 -1.8 6.8 -1.8 2.4 -1.1Z" fill="#2c9c4a" opacity="0.75"/></g><g transform="translate(570.3 152.2) rotate(-25)"><path d="M0 0 C3.5 -6.2 12.4 -5.7 17.3 0 C12.4 5.7 3.5 6.2 0 0Z" fill="#15873a"/><path d="M2.1 -1.2 C5.2 -4.7 11.8 -4.5 15.9 -0.6 C11.4 -1.9 5.9 -1.9 2.1 -1.2Z" fill="#2c9c4a" opacity="0.75"/></g><g transform="translate(573.9 156.2) rotate(-15)"><path d="M0 0 C4.1 -6.3 14.7 -5.8 20.4 0 C14.7 5.8 4.1 6.3 0 0Z" fill="#2fa144"/><path d="M2.4 -1.2 C6.1 -4.8 13.9 -4.6 18.8 -0.6 C13.5 -1.9 6.9 -1.9 2.4 -1.2Z" fill="#5cc060" opacity="0.75"/></g><g transform="translate(576.3 161.1) rotate(8)"><path d="M0 0 C3.5 -6.4 12.7 -5.9 17.6 0 C12.7 5.9 3.5 6.4 0 0Z" fill="#2fa144"/><path d="M2.1 -1.2 C5.3 -4.9 12.0 -4.7 16.2 -0.6 C11.6 -2.0 6.0 -2.0 2.1 -1.2Z" fill="#5cc060" opacity="0.75"/></g>
<ellipse cx="592" cy="197" rx="36.8" ry="15.6" fill="#15873a"/><g transform="translate(620.8 196.8) rotate(22)"><path d="M0 0 C3.5 -6.0 12.7 -5.6 17.7 0 C12.7 5.6 3.5 6.0 0 0Z" fill="#0e7635"/><path d="M2.1 -1.2 C5.3 -4.6 12.0 -4.4 16.3 -0.6 C11.7 -1.9 6.0 -1.9 2.1 -1.2Z" fill="#2c9c4a" opacity="0.75"/></g><g transform="translate(619.5 200.6) rotate(35)"><path d="M0 0 C3.4 -6.9 12.2 -6.4 16.9 0 C12.2 6.4 3.4 6.9 0 0Z" fill="#0e7635"/><path d="M2.0 -1.3 C5.1 -5.3 11.5 -5.1 15.5 -0.6 C11.1 -2.1 5.7 -2.1 2.0 -1.3Z" fill="#2c9c4a" opacity="0.75"/></g><g transform="translate(617.3 202.8) rotate(42)"><path d="M0 0 C3.7 -6.0 13.2 -5.5 18.3 0 C13.2 5.5 3.7 6.0 0 0Z" fill="#15873a"/><path d="M2.2 -1.1 C5.5 -4.6 12.5 -4.4 16.9 -0.5 C12.1 -1.8 6.2 -1.8 2.2 -1.1Z" fill="#2c9c4a" opacity="0.75"/></g><g transform="translate(611.4 206.1) rotate(47)"><path d="M0 0 C3.8 -6.7 13.6 -6.2 18.9 0 C13.6 6.2 3.8 6.7 0 0Z" fill="#0e7635"/><path d="M2.3 -1.3 C5.7 -5.2 12.9 -4.9 17.4 -0.6 C12.5 -2.1 6.4 -2.1 2.3 -1.3Z" fill="#2c9c4a" opacity="0.75"/></g><g transform="translate(607.8 207.2) rotate(55)"><path d="M0 0 C3.7 -6.4 13.5 -5.9 18.7 0 C13.5 5.9 3.7 6.4 0 0Z" fill="#15873a"/><path d="M2.2 -1.2 C5.6 -4.9 12.7 -4.7 17.2 -0.6 C12.4 -2.0 6.4 -2.0 2.2 -1.2Z" fill="#2c9c4a" opacity="0.75"/></g><g transform="translate(598.1 209.0) rotate(89)"><path d="M0 0 C3.4 -6.7 12.3 -6.2 17.0 0 C12.3 6.2 3.4 6.7 0 0Z" fill="#15873a"/><path d="M2.0 -1.3 C5.1 -5.2 11.6 -4.9 15.7 -0.6 C11.2 -2.1 5.8 -2.1 2.0 -1.3Z" fill="#2c9c4a" opacity="0.75"/></g><g transform="translate(591.0 209.2) rotate(68)"><path d="M0 0 C3.4 -6.4 12.1 -5.9 16.9 0 C12.1 5.9 3.4 6.4 0 0Z" fill="#15873a"/><path d="M2.0 -1.2 C5.1 -4.9 11.5 -4.7 15.5 -0.6 C11.1 -2.0 5.7 -2.0 2.0 -1.2Z" fill="#2c9c4a" opacity="0.75"/></g><g transform="translate(584.2 208.8) rotate(102)"><path d="M0 0 C3.8 -5.8 13.5 -5.3 18.8 0 C13.5 5.3 3.8 5.8 0 0Z" fill="#0e7635"/><path d="M2.3 -1.1 C5.6 -4.4 12.8 -4.2 17.3 -0.5 C12.4 -1.8 6.4 -1.8 2.3 -1.1Z" fill="#2c9c4a" opacity="0.75"/></g><g transform="translate(577.8 207.7) rotate(120)"><path d="M0 0 C3.4 -6.7 12.4 -6.2 17.2 0 C12.4 6.2 3.4 6.7 0 0Z" fill="#15873a"/><path d="M2.1 -1.3 C5.2 -5.2 11.7 -4.9 15.8 -0.6 C11.4 -2.1 5.9 -2.1 2.1 -1.3Z" fill="#2c9c4a" opacity="0.75"/></g><g transform="translate(570.7 205.3) rotate(119)"><path d="M0 0 C3.9 -5.8 14.2 -5.3 19.7 0 C14.2 5.3 3.9 5.8 0 0Z" fill="#15873a"/><path d="M2.4 -1.1 C5.9 -4.4 13.4 -4.2 18.2 -0.5 C13.0 -1.8 6.7 -1.8 2.4 -1.1Z" fill="#2c9c4a" opacity="0.75"/></g><g transform="translate(566.6 202.8) rotate(156)"><path d="M0 0 C3.9 -6.9 13.9 -6.4 19.3 0 C13.9 6.4 3.9 6.9 0 0Z" fill="#2fa144"/><path d="M2.3 -1.3 C5.8 -5.3 13.1 -5.0 17.7 -0.6 C12.7 -2.1 6.6 -2.1 2.3 -1.3Z" fill="#5cc060" opacity="0.75"/></g><g transform="translate(564.7 200.9) rotate(154)"><path d="M0 0 C3.9 -6.4 13.9 -5.9 19.3 0 C13.9 5.9 3.9 6.4 0 0Z" fill="#0e7635"/><path d="M2.3 -1.2 C5.8 -5.0 13.1 -4.7 17.7 -0.6 C12.7 -2.0 6.6 -2.0 2.3 -1.2Z" fill="#2c9c4a" opacity="0.75"/></g><g transform="translate(563.2 196.7) rotate(-198)"><path d="M0 0 C3.8 -6.5 13.6 -6.0 19.0 0 C13.6 6.0 3.8 6.5 0 0Z" fill="#0e7635"/><path d="M2.3 -1.2 C5.7 -5.0 12.9 -4.7 17.4 -0.6 C12.5 -2.0 6.4 -2.0 2.3 -1.2Z" fill="#2c9c4a" opacity="0.75"/></g><g transform="translate(564.4 193.5) rotate(-169)"><path d="M0 0 C3.9 -5.9 13.9 -5.4 19.3 0 C13.9 5.4 3.9 5.9 0 0Z" fill="#15873a"/><path d="M2.3 -1.1 C5.8 -4.5 13.1 -4.3 17.7 -0.5 C12.7 -1.8 6.6 -1.8 2.3 -1.1Z" fill="#2c9c4a" opacity="0.75"/></g><g transform="translate(566.2 191.5) rotate(-128)"><path d="M0 0 C4.1 -6.2 14.9 -5.7 20.7 0 C14.9 5.7 4.1 6.2 0 0Z" fill="#15873a"/><path d="M2.5 -1.2 C6.2 -4.8 14.1 -4.5 19.0 -0.6 C13.7 -1.9 7.0 -1.9 2.5 -1.2Z" fill="#2c9c4a" opacity="0.75"/></g><g transform="translate(572.5 188.0) rotate(-90)"><path d="M0 0 C3.3 -6.4 12.0 -5.9 16.7 0 C12.0 5.9 3.3 6.4 0 0Z" fill="#2fa144"/><path d="M2.0 -1.2 C5.0 -4.9 11.3 -4.7 15.3 -0.6 C11.0 -2.0 5.7 -2.0 2.0 -1.2Z" fill="#5cc060" opacity="0.75"/></g><g transform="translate(576.5 186.7) rotate(-97)"><path d="M0 0 C3.7 -6.6 13.4 -6.1 18.6 0 C13.4 6.1 3.7 6.6 0 0Z" fill="#15873a"/><path d="M2.2 -1.3 C5.6 -5.1 12.6 -4.8 17.1 -0.6 C12.2 -2.0 6.3 -2.0 2.2 -1.3Z" fill="#2c9c4a" opacity="0.75"/></g><g transform="translate(583.9 185.3) rotate(-103)"><path d="M0 0 C3.4 -6.4 12.1 -5.9 16.8 0 C12.1 5.9 3.4 6.4 0 0Z" fill="#15873a"/><path d="M2.0 -1.2 C5.0 -4.9 11.4 -4.7 15.5 -0.6 C11.1 -2.0 5.7 -2.0 2.0 -1.2Z" fill="#2c9c4a" opacity="0.75"/></g><g transform="translate(591.2 184.8) rotate(-90)"><path d="M0 0 C3.5 -6.6 12.5 -6.1 17.4 0 C12.5 6.1 3.5 6.6 0 0Z" fill="#0e7635"/><path d="M2.1 -1.3 C5.2 -5.1 11.8 -4.8 16.0 -0.6 C11.5 -2.0 5.9 -2.0 2.1 -1.3Z" fill="#2c9c4a" opacity="0.75"/></g><g transform="translate(599.4 185.2) rotate(-102)"><path d="M0 0 C3.9 -5.8 14.2 -5.3 19.7 0 C14.2 5.3 3.9 5.8 0 0Z" fill="#15873a"/><path d="M2.4 -1.1 C5.9 -4.4 13.4 -4.2 18.1 -0.5 C13.0 -1.8 6.7 -1.8 2.4 -1.1Z" fill="#2c9c4a" opacity="0.75"/></g><g transform="translate(607.1 186.6) rotate(-65)"><path d="M0 0 C3.5 -6.4 12.4 -5.9 17.3 0 C12.4 5.9 3.5 6.4 0 0Z" fill="#15873a"/><path d="M2.1 -1.2 C5.2 -4.9 11.7 -4.7 15.9 -0.6 C11.4 -2.0 5.9 -2.0 2.1 -1.2Z" fill="#2c9c4a" opacity="0.75"/></g><g transform="translate(612.3 188.3) rotate(-58)"><path d="M0 0 C3.6 -6.1 13.0 -5.6 18.1 0 C13.0 5.6 3.6 6.1 0 0Z" fill="#15873a"/><path d="M2.2 -1.2 C5.4 -4.7 12.3 -4.4 16.6 -0.6 C11.9 -1.9 6.2 -1.9 2.2 -1.2Z" fill="#2c9c4a" opacity="0.75"/></g><g transform="translate(617.7 191.5) rotate(-70)"><path d="M0 0 C3.8 -6.4 13.7 -5.9 19.1 0 C13.7 5.9 3.8 6.4 0 0Z" fill="#2fa144"/><path d="M2.3 -1.2 C5.7 -4.9 13.0 -4.7 17.6 -0.6 C12.6 -2.0 6.5 -2.0 2.3 -1.2Z" fill="#5cc060" opacity="0.75"/></g><g transform="translate(619.7 193.6) rotate(-43)"><path d="M0 0 C4.1 -6.0 14.7 -5.5 20.5 0 C14.7 5.5 4.1 6.0 0 0Z" fill="#15873a"/><path d="M2.5 -1.2 C6.1 -4.6 13.9 -4.4 18.8 -0.6 C13.5 -1.8 7.0 -1.8 2.5 -1.2Z" fill="#2c9c4a" opacity="0.75"/></g>
<ellipse cx="566" cy="214" rx="18.4" ry="6.4" fill="#15873a"/><g transform="translate(580.3 213.5) rotate(-36)"><path d="M0 0 C3.7 -6.0 13.4 -5.6 18.7 0 C13.4 5.6 3.7 6.0 0 0Z" fill="#15873a"/><path d="M2.2 -1.2 C5.6 -4.6 12.7 -4.4 17.2 -0.6 C12.3 -1.9 6.4 -1.9 2.2 -1.2Z" fill="#2c9c4a" opacity="0.75"/></g><g transform="translate(578.7 216.4) rotate(82)"><path d="M0 0 C3.4 -6.0 12.2 -5.5 16.9 0 C12.2 5.5 3.4 6.0 0 0Z" fill="#15873a"/><path d="M2.0 -1.1 C5.1 -4.6 11.5 -4.4 15.6 -0.6 C11.2 -1.8 5.8 -1.8 2.0 -1.1Z" fill="#2c9c4a" opacity="0.75"/></g><g transform="translate(573.1 218.4) rotate(62)"><path d="M0 0 C4.0 -6.9 14.6 -6.4 20.2 0 C14.6 6.4 4.0 6.9 0 0Z" fill="#0e7635"/><path d="M2.4 -1.3 C6.1 -5.3 13.8 -5.0 18.6 -0.6 C13.3 -2.1 6.9 -2.1 2.4 -1.3Z" fill="#2c9c4a" opacity="0.75"/></g><g transform="translate(562.9 218.9) rotate(86)"><path d="M0 0 C3.7 -5.7 13.2 -5.3 18.3 0 C13.2 5.3 3.7 5.7 0 0Z" fill="#0e7635"/><path d="M2.2 -1.1 C5.5 -4.4 12.5 -4.2 16.9 -0.5 C12.1 -1.8 6.2 -1.8 2.2 -1.1Z" fill="#2c9c4a" opacity="0.75"/></g><g transform="translate(555.9 217.6) rotate(84)"><path d="M0 0 C3.8 -6.4 13.5 -6.0 18.8 0 C13.5 6.0 3.8 6.4 0 0Z" fill="#2fa144"/><path d="M2.3 -1.2 C5.6 -5.0 12.8 -4.7 17.3 -0.6 C12.4 -2.0 6.4 -2.0 2.3 -1.2Z" fill="#5cc060" opacity="0.75"/></g><g transform="translate(551.9 215.0) rotate(167)"><path d="M0 0 C3.9 -6.3 14.2 -5.8 19.7 0 C14.2 5.8 3.9 6.3 0 0Z" fill="#15873a"/><path d="M2.4 -1.2 C5.9 -4.9 13.4 -4.6 18.2 -0.6 C13.0 -1.9 6.7 -1.9 2.4 -1.2Z" fill="#2c9c4a" opacity="0.75"/></g><g transform="translate(552.5 212.2) rotate(-124)"><path d="M0 0 C3.9 -6.1 14.1 -5.6 19.6 0 C14.1 5.6 3.9 6.1 0 0Z" fill="#2fa144"/><path d="M2.3 -1.2 C5.9 -4.7 13.3 -4.5 18.0 -0.6 C12.9 -1.9 6.7 -1.9 2.3 -1.2Z" fill="#5cc060" opacity="0.75"/></g><g transform="translate(557.6 209.9) rotate(-78)"><path d="M0 0 C3.9 -6.4 13.9 -6.0 19.3 0 C13.9 6.0 3.9 6.4 0 0Z" fill="#0e7635"/><path d="M2.3 -1.2 C5.8 -5.0 13.1 -4.7 17.8 -0.6 C12.7 -2.0 6.6 -2.0 2.3 -1.2Z" fill="#2c9c4a" opacity="0.75"/></g><g transform="translate(562.4 209.1) rotate(-95)"><path d="M0 0 C3.7 -6.1 13.2 -5.6 18.3 0 C13.2 5.6 3.7 6.1 0 0Z" fill="#2fa144"/><path d="M2.2 -1.2 C5.5 -4.7 12.5 -4.4 16.9 -0.6 C12.1 -1.9 6.2 -1.9 2.2 -1.2Z" fill="#5cc060" opacity="0.75"/></g><g transform="translate(570.1 209.2) rotate(-87)"><path d="M0 0 C4.0 -5.8 14.5 -5.4 20.2 0 C14.5 5.4 4.0 5.8 0 0Z" fill="#15873a"/><path d="M2.4 -1.1 C6.0 -4.5 13.7 -4.2 18.5 -0.5 C13.3 -1.8 6.9 -1.8 2.4 -1.1Z" fill="#2c9c4a" opacity="0.75"/></g><g transform="translate(578.5 211.5) rotate(-42)"><path d="M0 0 C3.5 -6.8 12.6 -6.3 17.5 0 C12.6 6.3 3.5 6.8 0 0Z" fill="#0e7635"/><path d="M2.1 -1.3 C5.2 -5.2 11.9 -5.0 16.1 -0.6 C11.5 -2.1 5.9 -2.1 2.1 -1.3Z" fill="#2c9c4a" opacity="0.75"/></g>
<ellipse cx="631" cy="207" rx="9.2" ry="8.3" fill="#15873a"/><g transform="translate(638.1 208.3) rotate(7)"><path d="M0 0 C3.8 -6.3 13.7 -5.8 19.0 0 C13.7 5.8 3.8 6.3 0 0Z" fill="#15873a"/><path d="M2.3 -1.2 C5.7 -4.8 12.9 -4.6 17.4 -0.6 C12.5 -1.9 6.4 -1.9 2.3 -1.2Z" fill="#2c9c4a" opacity="0.75"/></g><g transform="translate(634.6 212.6) rotate(69)"><path d="M0 0 C3.6 -6.1 12.9 -5.6 17.9 0 C12.9 5.6 3.6 6.1 0 0Z" fill="#15873a"/><path d="M2.2 -1.2 C5.4 -4.7 12.2 -4.5 16.5 -0.6 C11.8 -1.9 6.1 -1.9 2.2 -1.2Z" fill="#2c9c4a" opacity="0.75"/></g><g transform="translate(628.5 213.1) rotate(99)"><path d="M0 0 C4.0 -6.8 14.6 -6.3 20.2 0 C14.6 6.3 4.0 6.8 0 0Z" fill="#15873a"/><path d="M2.4 -1.3 C6.1 -5.3 13.7 -5.0 18.6 -0.6 C13.3 -2.1 6.9 -2.1 2.4 -1.3Z" fill="#2c9c4a" opacity="0.75"/></g><g transform="translate(624.7 210.2) rotate(175)"><path d="M0 0 C3.5 -5.9 12.4 -5.4 17.3 0 C12.4 5.4 3.5 5.9 0 0Z" fill="#15873a"/><path d="M2.1 -1.1 C5.2 -4.5 11.8 -4.3 15.9 -0.5 C11.4 -1.8 5.9 -1.8 2.1 -1.1Z" fill="#2c9c4a" opacity="0.75"/></g><g transform="translate(624.0 205.5) rotate(-158)"><path d="M0 0 C3.8 -6.1 13.6 -5.7 18.9 0 C13.6 5.7 3.8 6.1 0 0Z" fill="#15873a"/><path d="M2.3 -1.2 C5.7 -4.7 12.9 -4.5 17.4 -0.6 C12.5 -1.9 6.4 -1.9 2.3 -1.2Z" fill="#2c9c4a" opacity="0.75"/></g><g transform="translate(628.9 200.8) rotate(-114)"><path d="M0 0 C4.1 -6.1 14.7 -5.6 20.5 0 C14.7 5.6 4.1 6.1 0 0Z" fill="#2fa144"/><path d="M2.5 -1.2 C6.1 -4.7 13.9 -4.5 18.8 -0.6 C13.5 -1.9 7.0 -1.9 2.5 -1.2Z" fill="#5cc060" opacity="0.75"/></g><g transform="translate(635.3 201.8) rotate(-37)"><path d="M0 0 C3.6 -6.3 12.9 -5.8 17.9 0 C12.9 5.8 3.6 6.3 0 0Z" fill="#15873a"/><path d="M2.2 -1.2 C5.4 -4.8 12.2 -4.6 16.5 -0.6 C11.8 -1.9 6.1 -1.9 2.2 -1.2Z" fill="#2c9c4a" opacity="0.75"/></g>
<ellipse cx="523" cy="134" rx="23.0" ry="20.2" fill="#15873a"/><g transform="translate(541.0 134.1) rotate(0)"><path d="M0 0 C3.6 -6.6 13.0 -6.1 18.1 0 C13.0 6.1 3.6 6.6 0 0Z" fill="#15873a"/><path d="M2.2 -1.3 C5.4 -5.1 12.3 -4.8 16.6 -0.6 C11.9 -2.0 6.2 -2.0 2.2 -1.3Z" fill="#2c9c4a" opacity="0.75"/></g><g transform="translate(540.0 139.1) rotate(16)"><path d="M0 0 C4.1 -6.8 14.6 -6.3 20.3 0 C14.6 6.3 4.1 6.8 0 0Z" fill="#15873a"/><path d="M2.4 -1.3 C6.1 -5.3 13.8 -5.0 18.7 -0.6 C13.4 -2.1 6.9 -2.1 2.4 -1.3Z" fill="#2c9c4a" opacity="0.75"/></g><g transform="translate(537.5 143.4) rotate(47)"><path d="M0 0 C3.7 -5.9 13.4 -5.4 18.6 0 C13.4 5.4 3.7 5.9 0 0Z" fill="#0e7635"/><path d="M2.2 -1.1 C5.6 -4.5 12.7 -4.3 17.1 -0.5 C12.3 -1.8 6.3 -1.8 2.2 -1.1Z" fill="#2c9c4a" opacity="0.75"/></g><g transform="translate(532.9 147.2) rotate(68)"><path d="M0 0 C4.0 -6.3 14.5 -5.8 20.1 0 C14.5 5.8 4.0 6.3 0 0Z" fill="#2fa144"/><path d="M2.4 -1.2 C6.0 -4.9 13.7 -4.6 18.5 -0.6 C13.3 -1.9 6.8 -1.9 2.4 -1.2Z" fill="#5cc060" opacity="0.75"/></g><g transform="translate(526.3 149.6) rotate(108)"><path d="M0 0 C3.7 -6.4 13.3 -5.9 18.5 0 C13.3 5.9 3.7 6.4 0 0Z" fill="#0e7635"/><path d="M2.2 -1.2 C5.5 -5.0 12.6 -4.7 17.0 -0.6 C12.2 -2.0 6.3 -2.0 2.2 -1.2Z" fill="#2c9c4a" opacity="0.75"/></g><g transform="translate(521.1 149.8) rotate(104)"><path d="M0 0 C3.7 -6.5 13.3 -6.0 18.5 0 C13.3 6.0 3.7 6.5 0 0Z" fill="#15873a"/><path d="M2.2 -1.3 C5.5 -5.0 12.6 -4.8 17.0 -0.6 C12.2 -2.0 6.3 -2.0 2.2 -1.3Z" fill="#2c9c4a" opacity="0.75"/></g><g transform="translate(515.3 148.3) rotate(116)"><path d="M0 0 C4.1 -6.6 14.9 -6.1 20.7 0 C14.9 6.1 4.1 6.6 0 0Z" fill="#0e7635"/><path d="M2.5 -1.3 C6.2 -5.1 14.1 -4.8 19.0 -0.6 C13.7 -2.0 7.0 -2.0 2.5 -1.3Z" fill="#2c9c4a" opacity="0.75"/></g><g transform="translate(511.3 146.0) rotate(116)"><path d="M0 0 C3.6 -6.4 13.0 -6.0 18.1 0 C13.0 6.0 3.6 6.4 0 0Z" fill="#15873a"/><path d="M2.2 -1.2 C5.4 -5.0 12.3 -4.7 16.6 -0.6 C11.9 -2.0 6.2 -2.0 2.2 -1.2Z" fill="#2c9c4a" opacity="0.75"/></g><g transform="translate(507.5 142.1) rotate(129)"><path d="M0 0 C3.8 -6.3 13.7 -5.8 19.1 0 C13.7 5.8 3.8 6.3 0 0Z" fill="#15873a"/><path d="M2.3 -1.2 C5.7 -4.8 13.0 -4.6 17.6 -0.6 C12.6 -1.9 6.5 -1.9 2.3 -1.2Z" fill="#2c9c4a" opacity="0.75"/></g><g transform="translate(505.5 137.7) rotate(154)"><path d="M0 0 C3.7 -6.9 13.2 -6.4 18.3 0 C13.2 6.4 3.7 6.9 0 0Z" fill="#0e7635"/><path d="M2.2 -1.3 C5.5 -5.3 12.5 -5.1 16.8 -0.6 C12.1 -2.1 6.2 -2.1 2.2 -1.3Z" fill="#2c9c4a" opacity="0.75"/></g><g transform="translate(505.5 130.3) rotate(-182)"><path d="M0 0 C3.9 -6.4 14.0 -5.9 19.5 0 C14.0 5.9 3.9 6.4 0 0Z" fill="#2fa144"/><path d="M2.3 -1.2 C5.8 -4.9 13.2 -4.7 17.9 -0.6 C12.8 -2.0 6.6 -2.0 2.3 -1.2Z" fill="#5cc060" opacity="0.75"/></g><g transform="translate(506.6 127.4) rotate(-143)"><path d="M0 0 C4.1 -5.7 14.8 -5.3 20.5 0 C14.8 5.3 4.1 5.7 0 0Z" fill="#2fa144"/><path d="M2.5 -1.1 C6.1 -4.4 13.9 -4.2 18.9 -0.5 C13.5 -1.8 7.0 -1.8 2.5 -1.1Z" fill="#5cc060" opacity="0.75"/></g><g transform="translate(511.1 122.1) rotate(-106)"><path d="M0 0 C3.6 -6.5 12.8 -6.0 17.8 0 C12.8 6.0 3.6 6.5 0 0Z" fill="#2fa144"/><path d="M2.1 -1.3 C5.3 -5.0 12.1 -4.8 16.4 -0.6 C11.7 -2.0 6.0 -2.0 2.1 -1.3Z" fill="#5cc060" opacity="0.75"/></g><g transform="translate(515.6 119.6) rotate(-138)"><path d="M0 0 C3.4 -6.4 12.1 -5.9 16.8 0 C12.1 5.9 3.4 6.4 0 0Z" fill="#15873a"/><path d="M2.0 -1.2 C5.1 -4.9 11.5 -4.7 15.5 -0.6 C11.1 -2.0 5.7 -2.0 2.0 -1.2Z" fill="#2c9c4a" opacity="0.75"/></g><g transform="translate(522.4 118.2) rotate(-89)"><path d="M0 0 C3.9 -6.6 14.1 -6.1 19.5 0 C14.1 6.1 3.9 6.6 0 0Z" fill="#2fa144"/><path d="M2.3 -1.3 C5.9 -5.1 13.3 -4.8 18.0 -0.6 C12.9 -2.0 6.6 -2.0 2.3 -1.3Z" fill="#5cc060" opacity="0.75"/></g><g transform="translate(528.5 118.9) rotate(-99)"><path d="M0 0 C3.9 -5.8 14.1 -5.3 19.6 0 C14.1 5.3 3.9 5.8 0 0Z" fill="#15873a"/><path d="M2.3 -1.1 C5.9 -4.4 13.3 -4.2 18.0 -0.5 C12.9 -1.8 6.6 -1.8 2.3 -1.1Z" fill="#2c9c4a" opacity="0.75"/></g><g transform="translate(533.9 121.4) rotate(-84)"><path d="M0 0 C3.6 -5.9 12.9 -5.4 17.9 0 C12.9 5.4 3.6 5.9 0 0Z" fill="#15873a"/><path d="M2.2 -1.1 C5.4 -4.5 12.2 -4.3 16.5 -0.5 C11.8 -1.8 6.1 -1.8 2.2 -1.1Z" fill="#2c9c4a" opacity="0.75"/></g><g transform="translate(537.5 124.6) rotate(-30)"><path d="M0 0 C3.7 -6.5 13.4 -6.0 18.6 0 C13.4 6.0 3.7 6.5 0 0Z" fill="#15873a"/><path d="M2.2 -1.2 C5.6 -5.0 12.6 -4.7 17.1 -0.6 C12.2 -2.0 6.3 -2.0 2.2 -1.2Z" fill="#2c9c4a" opacity="0.75"/></g><g transform="translate(540.3 129.6) rotate(-25)"><path d="M0 0 C3.5 -5.9 12.5 -5.4 17.3 0 C12.5 5.4 3.5 5.9 0 0Z" fill="#0e7635"/><path d="M2.1 -1.1 C5.2 -4.5 11.8 -4.3 15.9 -0.5 C11.4 -1.8 5.9 -1.8 2.1 -1.1Z" fill="#2c9c4a" opacity="0.75"/></g>
<g transform="translate(515.0 192.0) rotate(-100)"><path d="M0.0 0.0 L0.0 -7.1 L4.6 -7.1 L6.0 -11.1 L10.6 -9.1 L12.0 -12.9 L16.6 -9.6 L18.0 -12.7 L22.6 -8.8 L24.0 -10.9 L28.6 -6.9 L30.0 -7.9 L34.6 -4.3 L36.0 -4.1 L40.6 -1.4 L42.0 -0.0 L42.0 0.0 L40.6 1.4 L36.0 4.1 L34.6 4.3 L30.0 7.9 L28.6 6.9 L24.0 10.9 L22.6 8.8 L18.0 12.7 L16.6 9.6 L12.0 12.9 L10.6 9.1 L6.0 11.1 L4.6 7.1 L0.0 7.1Z" fill="#55bb55" stroke="#55bb55" stroke-width="1.4" stroke-linejoin="round"/><path d="M1 0 L38.6 0" stroke="#3a9d45" stroke-width="1.1" fill="none"/><path d="M3.5 0 L7.7 -3.9 M3.5 0 L7.7 3.9" stroke="#3a9d45" stroke-width="0.8" fill="none" opacity="0.8"/><path d="M9.5 0 L13.7 -7.1 M9.5 0 L13.7 7.1" stroke="#3a9d45" stroke-width="0.8" fill="none" opacity="0.8"/><path d="M15.5 0 L19.7 -8.9 M15.5 0 L19.7 8.9" stroke="#3a9d45" stroke-width="0.8" fill="none" opacity="0.8"/><path d="M21.5 0 L25.7 -8.9 M21.5 0 L25.7 8.9" stroke="#3a9d45" stroke-width="0.8" fill="none" opacity="0.8"/><path d="M27.5 0 L31.7 -7.1 M27.5 0 L31.7 7.1" stroke="#3a9d45" stroke-width="0.8" fill="none" opacity="0.8"/><path d="M33.5 0 L37.7 -3.9 M33.5 0 L37.7 3.9" stroke="#3a9d45" stroke-width="0.8" fill="none" opacity="0.8"/></g>
<g transform="translate(548.0 186.0) rotate(-62)"><path d="M0.0 0.0 L0.0 -7.1 L4.8 -7.1 L6.3 -11.1 L11.1 -9.1 L12.6 -12.9 L17.3 -9.6 L18.9 -12.7 L23.6 -8.8 L25.1 -10.9 L29.9 -6.9 L31.4 -7.9 L36.2 -4.3 L37.7 -4.1 L42.5 -1.4 L44.0 -0.0 L44.0 0.0 L42.5 1.4 L37.7 4.1 L36.2 4.3 L31.4 7.9 L29.9 6.9 L25.1 10.9 L23.6 8.8 L18.9 12.7 L17.3 9.6 L12.6 12.9 L11.1 9.1 L6.3 11.1 L4.8 7.1 L0.0 7.1Z" fill="#43ae4b" stroke="#43ae4b" stroke-width="1.4" stroke-linejoin="round"/><path d="M1 0 L40.5 0" stroke="#3a9d45" stroke-width="1.1" fill="none"/><path d="M3.6 0 L8.0 -3.9 M3.6 0 L8.0 3.9" stroke="#3a9d45" stroke-width="0.8" fill="none" opacity="0.8"/><path d="M9.9 0 L14.3 -7.1 M9.9 0 L14.3 7.1" stroke="#3a9d45" stroke-width="0.8" fill="none" opacity="0.8"/><path d="M16.2 0 L20.6 -8.9 M16.2 0 L20.6 8.9" stroke="#3a9d45" stroke-width="0.8" fill="none" opacity="0.8"/><path d="M22.5 0 L26.9 -8.9 M22.5 0 L26.9 8.9" stroke="#3a9d45" stroke-width="0.8" fill="none" opacity="0.8"/><path d="M28.8 0 L33.2 -7.1 M28.8 0 L33.2 7.1" stroke="#3a9d45" stroke-width="0.8" fill="none" opacity="0.8"/><path d="M35.1 0 L39.5 -3.9 M35.1 0 L39.5 3.9" stroke="#3a9d45" stroke-width="0.8" fill="none" opacity="0.8"/></g>
<g transform="translate(578.0 180.0) rotate(-110)"><path d="M0.0 0.0 L0.0 -6.0 L3.9 -6.0 L5.1 -9.4 L9.1 -7.7 L10.3 -10.9 L14.2 -8.1 L15.4 -10.7 L19.3 -7.4 L20.6 -9.2 L24.5 -5.8 L25.7 -6.7 L29.6 -3.7 L30.9 -3.5 L34.8 -1.2 L36.0 -0.0 L36.0 0.0 L34.8 1.2 L30.9 3.5 L29.6 3.7 L25.7 6.7 L24.5 5.8 L20.6 9.2 L19.3 7.4 L15.4 10.7 L14.2 8.1 L10.3 10.9 L9.1 7.7 L5.1 9.4 L3.9 6.0 L0.0 6.0Z" fill="#55bb55" stroke="#55bb55" stroke-width="1.4" stroke-linejoin="round"/><path d="M1 0 L33.1 0" stroke="#3a9d45" stroke-width="1.1" fill="none"/><path d="M3.0 0 L6.6 -3.3 M3.0 0 L6.6 3.3" stroke="#3a9d45" stroke-width="0.8" fill="none" opacity="0.8"/><path d="M8.1 0 L11.7 -6.0 M8.1 0 L11.7 6.0" stroke="#3a9d45" stroke-width="0.8" fill="none" opacity="0.8"/><path d="M13.3 0 L16.9 -7.5 M13.3 0 L16.9 7.5" stroke="#3a9d45" stroke-width="0.8" fill="none" opacity="0.8"/><path d="M18.4 0 L22.0 -7.5 M18.4 0 L22.0 7.5" stroke="#3a9d45" stroke-width="0.8" fill="none" opacity="0.8"/><path d="M23.6 0 L27.2 -6.0 M23.6 0 L27.2 6.0" stroke="#3a9d45" stroke-width="0.8" fill="none" opacity="0.8"/><path d="M28.7 0 L32.3 -3.3 M28.7 0 L32.3 3.3" stroke="#3a9d45" stroke-width="0.8" fill="none" opacity="0.8"/></g>
<g transform="translate(556.0 198.0) rotate(25)"><path d="M0.0 0.0 L0.0 -4.9 L3.7 -4.9 L4.9 -7.7 L8.5 -6.3 L9.7 -8.9 L13.4 -6.6 L14.6 -8.8 L18.3 -6.1 L19.4 -7.5 L23.1 -4.8 L24.3 -5.4 L28.0 -3.0 L29.1 -2.8 L32.8 -0.9 L34.0 -0.0 L34.0 0.0 L32.8 0.9 L29.1 2.8 L28.0 3.0 L24.3 5.4 L23.1 4.8 L19.4 7.5 L18.3 6.1 L14.6 8.8 L13.4 6.6 L9.7 8.9 L8.5 6.3 L4.9 7.7 L3.7 4.9 L0.0 4.9Z" fill="#43ae4b" stroke="#43ae4b" stroke-width="1.4" stroke-linejoin="round"/><path d="M1 0 L31.3 0" stroke="#3a9d45" stroke-width="1.1" fill="none"/><path d="M2.8 0 L6.2 -2.7 M2.8 0 L6.2 2.7" stroke="#3a9d45" stroke-width="0.8" fill="none" opacity="0.8"/><path d="M7.7 0 L11.1 -4.9 M7.7 0 L11.1 4.9" stroke="#3a9d45" stroke-width="0.8" fill="none" opacity="0.8"/><path d="M12.5 0 L15.9 -6.1 M12.5 0 L15.9 6.1" stroke="#3a9d45" stroke-width="0.8" fill="none" opacity="0.8"/><path d="M17.4 0 L20.8 -6.1 M17.4 0 L20.8 6.1" stroke="#3a9d45" stroke-width="0.8" fill="none" opacity="0.8"/><path d="M22.2 0 L25.6 -4.9 M22.2 0 L25.6 4.9" stroke="#3a9d45" stroke-width="0.8" fill="none" opacity="0.8"/><path d="M27.1 0 L30.5 -2.7 M27.1 0 L30.5 2.7" stroke="#3a9d45" stroke-width="0.8" fill="none" opacity="0.8"/></g>
<g transform="translate(470.0 152.0) rotate(-135)"><path d="M0.0 0.0 L0.0 -5.4 L3.7 -5.5 L4.9 -8.5 L8.5 -7.0 L9.7 -9.9 L13.4 -7.4 L14.6 -9.7 L18.3 -6.7 L19.4 -8.4 L23.1 -5.3 L24.3 -6.0 L28.0 -3.3 L29.1 -3.1 L32.8 -1.1 L34.0 -0.0 L34.0 0.0 L32.8 1.1 L29.1 3.1 L28.0 3.3 L24.3 6.0 L23.1 5.3 L19.4 8.4 L18.3 6.7 L14.6 9.7 L13.4 7.4 L9.7 9.9 L8.5 7.0 L4.9 8.5 L3.7 5.5 L0.0 5.4Z" fill="#43ae4b" stroke="#43ae4b" stroke-width="1.4" stroke-linejoin="round"/><path d="M1 0 L31.3 0" stroke="#3a9d45" stroke-width="1.1" fill="none"/><path d="M2.8 0 L6.2 -3.0 M2.8 0 L6.2 3.0" stroke="#3a9d45" stroke-width="0.8" fill="none" opacity="0.8"/><path d="M7.7 0 L11.1 -5.5 M7.7 0 L11.1 5.5" stroke="#3a9d45" stroke-width="0.8" fill="none" opacity="0.8"/><path d="M12.5 0 L15.9 -6.8 M12.5 0 L15.9 6.8" stroke="#3a9d45" stroke-width="0.8" fill="none" opacity="0.8"/><path d="M17.4 0 L20.8 -6.8 M17.4 0 L20.8 6.8" stroke="#3a9d45" stroke-width="0.8" fill="none" opacity="0.8"/><path d="M22.2 0 L25.6 -5.5 M22.2 0 L25.6 5.5" stroke="#3a9d45" stroke-width="0.8" fill="none" opacity="0.8"/><path d="M27.1 0 L30.5 -3.0 M27.1 0 L30.5 3.0" stroke="#3a9d45" stroke-width="0.8" fill="none" opacity="0.8"/></g>
<g transform="translate(432.0 152.0) rotate(-115)"><path d="M0.0 0.0 L0.0 -5.4 L3.5 -5.5 L4.6 -8.5 L8.0 -7.0 L9.1 -9.9 L12.6 -7.4 L13.7 -9.7 L17.2 -6.7 L18.3 -8.4 L21.8 -5.3 L22.9 -6.0 L26.3 -3.3 L27.4 -3.1 L30.9 -1.1 L32.0 -0.0 L32.0 0.0 L30.9 1.1 L27.4 3.1 L26.3 3.3 L22.9 6.0 L21.8 5.3 L18.3 8.4 L17.2 6.7 L13.7 9.7 L12.6 7.4 L9.1 9.9 L8.0 7.0 L4.6 8.5 L3.5 5.5 L0.0 5.4Z" fill="#55bb55" stroke="#55bb55" stroke-width="1.4" stroke-linejoin="round"/><path d="M1 0 L29.4 0" stroke="#3a9d45" stroke-width="1.1" fill="none"/><path d="M2.7 0 L5.9 -3.0 M2.7 0 L5.9 3.0" stroke="#3a9d45" stroke-width="0.8" fill="none" opacity="0.8"/><path d="M7.2 0 L10.4 -5.5 M7.2 0 L10.4 5.5" stroke="#3a9d45" stroke-width="0.8" fill="none" opacity="0.8"/><path d="M11.8 0 L15.0 -6.8 M11.8 0 L15.0 6.8" stroke="#3a9d45" stroke-width="0.8" fill="none" opacity="0.8"/><path d="M16.4 0 L19.6 -6.8 M16.4 0 L19.6 6.8" stroke="#3a9d45" stroke-width="0.8" fill="none" opacity="0.8"/><path d="M20.9 0 L24.1 -5.5 M20.9 0 L24.1 5.5" stroke="#3a9d45" stroke-width="0.8" fill="none" opacity="0.8"/><path d="M25.5 0 L28.7 -3.0 M25.5 0 L28.7 3.0" stroke="#3a9d45" stroke-width="0.8" fill="none" opacity="0.8"/></g>
<g transform="translate(452.0 112.0) rotate(-95)"><path d="M0.0 0.0 L0.0 -5.4 L3.5 -5.5 L4.6 -8.5 L8.0 -7.0 L9.1 -9.9 L12.6 -7.4 L13.7 -9.7 L17.2 -6.7 L18.3 -8.4 L21.8 -5.3 L22.9 -6.0 L26.3 -3.3 L27.4 -3.1 L30.9 -1.1 L32.0 -0.0 L32.0 0.0 L30.9 1.1 L27.4 3.1 L26.3 3.3 L22.9 6.0 L21.8 5.3 L18.3 8.4 L17.2 6.7 L13.7 9.7 L12.6 7.4 L9.1 9.9 L8.0 7.0 L4.6 8.5 L3.5 5.5 L0.0 5.4Z" fill="#43ae4b" stroke="#43ae4b" stroke-width="1.4" stroke-linejoin="round"/><path d="M1 0 L29.4 0" stroke="#3a9d45" stroke-width="1.1" fill="none"/><path d="M2.7 0 L5.9 -3.0 M2.7 0 L5.9 3.0" stroke="#3a9d45" stroke-width="0.8" fill="none" opacity="0.8"/><path d="M7.2 0 L10.4 -5.5 M7.2 0 L10.4 5.5" stroke="#3a9d45" stroke-width="0.8" fill="none" opacity="0.8"/><path d="M11.8 0 L15.0 -6.8 M11.8 0 L15.0 6.8" stroke="#3a9d45" stroke-width="0.8" fill="none" opacity="0.8"/><path d="M16.4 0 L19.6 -6.8 M16.4 0 L19.6 6.8" stroke="#3a9d45" stroke-width="0.8" fill="none" opacity="0.8"/><path d="M20.9 0 L24.1 -5.5 M20.9 0 L24.1 5.5" stroke="#3a9d45" stroke-width="0.8" fill="none" opacity="0.8"/><path d="M25.5 0 L28.7 -3.0 M25.5 0 L28.7 3.0" stroke="#3a9d45" stroke-width="0.8" fill="none" opacity="0.8"/></g>
<g transform="translate(592.0 132.0) rotate(-55)"><path d="M0.0 0.0 L0.0 -6.0 L3.9 -6.0 L5.1 -9.4 L9.1 -7.7 L10.3 -10.9 L14.2 -8.1 L15.4 -10.7 L19.3 -7.4 L20.6 -9.2 L24.5 -5.8 L25.7 -6.7 L29.6 -3.7 L30.9 -3.5 L34.8 -1.2 L36.0 -0.0 L36.0 0.0 L34.8 1.2 L30.9 3.5 L29.6 3.7 L25.7 6.7 L24.5 5.8 L20.6 9.2 L19.3 7.4 L15.4 10.7 L14.2 8.1 L10.3 10.9 L9.1 7.7 L5.1 9.4 L3.9 6.0 L0.0 6.0Z" fill="#43ae4b" stroke="#43ae4b" stroke-width="1.4" stroke-linejoin="round"/><path d="M1 0 L33.1 0" stroke="#3a9d45" stroke-width="1.1" fill="none"/><path d="M3.0 0 L6.6 -3.3 M3.0 0 L6.6 3.3" stroke="#3a9d45" stroke-width="0.8" fill="none" opacity="0.8"/><path d="M8.1 0 L11.7 -6.0 M8.1 0 L11.7 6.0" stroke="#3a9d45" stroke-width="0.8" fill="none" opacity="0.8"/><path d="M13.3 0 L16.9 -7.5 M13.3 0 L16.9 7.5" stroke="#3a9d45" stroke-width="0.8" fill="none" opacity="0.8"/><path d="M18.4 0 L22.0 -7.5 M18.4 0 L22.0 7.5" stroke="#3a9d45" stroke-width="0.8" fill="none" opacity="0.8"/><path d="M23.6 0 L27.2 -6.0 M23.6 0 L27.2 6.0" stroke="#3a9d45" stroke-width="0.8" fill="none" opacity="0.8"/><path d="M28.7 0 L32.3 -3.3 M28.7 0 L32.3 3.3" stroke="#3a9d45" stroke-width="0.8" fill="none" opacity="0.8"/></g>
<g transform="translate(502.0 122.0) rotate(-125)"><path d="M0.0 0.0 L0.0 -4.9 L3.3 -4.9 L4.3 -7.7 L7.5 -6.3 L8.6 -8.9 L11.8 -6.6 L12.9 -8.8 L16.1 -6.1 L17.1 -7.5 L20.4 -4.8 L21.4 -5.4 L24.7 -3.0 L25.7 -2.8 L29.0 -0.9 L30.0 -0.0 L30.0 0.0 L29.0 0.9 L25.7 2.8 L24.7 3.0 L21.4 5.4 L20.4 4.8 L17.1 7.5 L16.1 6.1 L12.9 8.8 L11.8 6.6 L8.6 8.9 L7.5 6.3 L4.3 7.7 L3.3 4.9 L0.0 4.9Z" fill="#43ae4b" stroke="#43ae4b" stroke-width="1.4" stroke-linejoin="round"/><path d="M1 0 L27.6 0" stroke="#3a9d45" stroke-width="1.1" fill="none"/><path d="M2.5 0 L5.5 -2.7 M2.5 0 L5.5 2.7" stroke="#3a9d45" stroke-width="0.8" fill="none" opacity="0.8"/><path d="M6.8 0 L9.8 -4.9 M6.8 0 L9.8 4.9" stroke="#3a9d45" stroke-width="0.8" fill="none" opacity="0.8"/><path d="M11.1 0 L14.1 -6.1 M11.1 0 L14.1 6.1" stroke="#3a9d45" stroke-width="0.8" fill="none" opacity="0.8"/><path d="M15.3 0 L18.3 -6.1 M15.3 0 L18.3 6.1" stroke="#3a9d45" stroke-width="0.8" fill="none" opacity="0.8"/><path d="M19.6 0 L22.6 -4.9 M19.6 0 L22.6 4.9" stroke="#3a9d45" stroke-width="0.8" fill="none" opacity="0.8"/><path d="M23.9 0 L26.9 -2.7 M23.9 0 L26.9 2.7" stroke="#3a9d45" stroke-width="0.8" fill="none" opacity="0.8"/></g>
</g>
<g>
<g transform="translate(464.9 100.3) rotate(10)"><path d="M0 0 C4.1 -6.2 14.8 -5.7 20.5 0 C14.8 5.7 4.1 6.2 0 0Z" fill="#2fa144"/><path d="M2.5 -1.2 C6.2 -4.8 14.0 -4.5 18.9 -0.6 C13.5 -1.9 7.0 -1.9 2.5 -1.2Z" fill="#5cc060" opacity="0.75"/></g><g transform="translate(447.5 113.9) rotate(81)"><path d="M0 0 C3.9 -6.2 14.1 -5.7 19.6 0 C14.1 5.7 3.9 6.2 0 0Z" fill="#4cb848"/><path d="M2.3 -1.2 C5.9 -4.7 13.3 -4.5 18.0 -0.6 C12.9 -1.9 6.6 -1.9 2.3 -1.2Z" fill="#8ad873" opacity="0.75"/></g><g transform="translate(421.7 109.6) rotate(128)"><path d="M0 0 C3.6 -6.1 13.0 -5.6 18.0 0 C13.0 5.6 3.6 6.1 0 0Z" fill="#5cc255"/><path d="M2.2 -1.2 C5.4 -4.7 12.2 -4.4 16.6 -0.6 C11.9 -1.9 6.1 -1.9 2.2 -1.2Z" fill="#8ad873" opacity="0.75"/></g><g transform="translate(424.3 86.9) rotate(-114)"><path d="M0 0 C3.6 -6.2 12.8 -5.7 17.8 0 C12.8 5.7 3.6 6.2 0 0Z" fill="#2fa144"/><path d="M2.1 -1.2 C5.3 -4.8 12.1 -4.5 16.3 -0.6 C11.7 -1.9 6.0 -1.9 2.1 -1.2Z" fill="#5cc060" opacity="0.75"/></g><g transform="translate(448.9 84.4) rotate(-78)"><path d="M0 0 C3.7 -6.5 13.4 -6.0 18.6 0 C13.4 6.0 3.7 6.5 0 0Z" fill="#5cc255"/><path d="M2.2 -1.2 C5.6 -5.0 12.6 -4.7 17.1 -0.6 C12.3 -2.0 6.3 -2.0 2.2 -1.2Z" fill="#8ad873" opacity="0.75"/></g><g transform="translate(449.2 108.7) rotate(27)"><path d="M0 0 C3.4 -6.6 12.2 -6.1 17.0 0 C12.2 6.1 3.4 6.6 0 0Z" fill="#0e7635"/><path d="M2.0 -1.3 C5.1 -5.1 11.6 -4.8 15.6 -0.6 C11.2 -2.0 5.8 -2.0 2.0 -1.3Z" fill="#2c9c4a" opacity="0.75"/></g><g transform="translate(428.1 90.9) rotate(232)"><path d="M0 0 C3.2 -6.7 11.4 -6.2 15.8 0 C11.4 6.2 3.2 6.7 0 0Z" fill="#2fa144"/><path d="M1.9 -1.3 C4.8 -5.1 10.8 -4.9 14.6 -0.6 C10.5 -2.1 5.4 -2.1 1.9 -1.3Z" fill="#5cc060" opacity="0.75"/></g><g transform="translate(454.8 105.1) rotate(-15)"><path d="M0 0 C3.2 -6.1 11.6 -5.7 16.1 0 C11.6 5.7 3.2 6.1 0 0Z" fill="#4cb848"/><path d="M1.9 -1.2 C4.8 -4.7 11.0 -4.5 14.8 -0.6 C10.6 -1.9 5.5 -1.9 1.9 -1.2Z" fill="#8ad873" opacity="0.75"/></g><g transform="translate(448.2 93.4) rotate(331)"><path d="M0 0 C3.3 -5.8 12.1 -5.3 16.7 0 C12.1 5.3 3.3 5.8 0 0Z" fill="#4cb848"/><path d="M2.0 -1.1 C5.0 -4.5 11.4 -4.2 15.4 -0.5 C11.1 -1.8 5.7 -1.8 2.0 -1.1Z" fill="#8ad873" opacity="0.75"/></g><g transform="translate(446.1 97.9) rotate(308)"><path d="M0 0 C3.3 -6.0 11.8 -5.5 16.4 0 C11.8 5.5 3.3 6.0 0 0Z" fill="#4cb848"/><path d="M2.0 -1.2 C4.9 -4.6 11.1 -4.4 15.0 -0.6 C10.8 -1.8 5.6 -1.8 2.0 -1.2Z" fill="#8ad873" opacity="0.75"/></g><g transform="translate(455.7 92.8) rotate(324)"><path d="M0 0 C3.2 -6.1 11.5 -5.6 15.9 0 C11.5 5.6 3.2 6.1 0 0Z" fill="#0e7635"/><path d="M1.9 -1.2 C4.8 -4.7 10.8 -4.4 14.7 -0.6 C10.5 -1.9 5.4 -1.9 1.9 -1.2Z" fill="#2c9c4a" opacity="0.75"/></g><g transform="translate(446.8 106.7) rotate(59)"><path d="M0 0 C3.6 -6.0 12.9 -5.6 17.9 0 C12.9 5.6 3.6 6.0 0 0Z" fill="#2fa144"/><path d="M2.1 -1.2 C5.4 -4.6 12.2 -4.4 16.5 -0.6 C11.8 -1.9 6.1 -1.9 2.1 -1.2Z" fill="#5cc060" opacity="0.75"/></g><g transform="translate(450.3 107.6) rotate(61)"><path d="M0 0 C3.8 -6.8 13.8 -6.3 19.2 0 C13.8 6.3 3.8 6.8 0 0Z" fill="#0e7635"/><path d="M2.3 -1.3 C5.8 -5.2 13.1 -5.0 17.7 -0.6 C12.7 -2.1 6.5 -2.1 2.3 -1.3Z" fill="#2c9c4a" opacity="0.75"/></g>
<g transform="translate(430.5 123.5) rotate(14)"><path d="M0 0 C3.7 -6.7 13.3 -6.2 18.5 0 C13.3 6.2 3.7 6.7 0 0Z" fill="#4cb848"/><path d="M2.2 -1.3 C5.5 -5.2 12.6 -4.9 17.0 -0.6 C12.2 -2.1 6.3 -2.1 2.2 -1.3Z" fill="#8ad873" opacity="0.75"/></g><g transform="translate(420.0 138.9) rotate(75)"><path d="M0 0 C4.1 -6.2 14.8 -5.7 20.5 0 C14.8 5.7 4.1 6.2 0 0Z" fill="#4cb848"/><path d="M2.5 -1.2 C6.2 -4.7 14.0 -4.5 18.9 -0.6 C13.5 -1.9 7.0 -1.9 2.5 -1.2Z" fill="#8ad873" opacity="0.75"/></g><g transform="translate(387.8 132.4) rotate(168)"><path d="M0 0 C3.8 -6.0 13.6 -5.5 18.9 0 C13.6 5.5 3.8 6.0 0 0Z" fill="#4cb848"/><path d="M2.3 -1.1 C5.7 -4.6 12.9 -4.4 17.4 -0.6 C12.5 -1.8 6.4 -1.8 2.3 -1.1Z" fill="#8ad873" opacity="0.75"/></g><g transform="translate(387.0 118.9) rotate(-141)"><path d="M0 0 C4.0 -6.9 14.3 -6.4 19.9 0 C14.3 6.4 4.0 6.9 0 0Z" fill="#2fa144"/><path d="M2.4 -1.3 C6.0 -5.3 13.5 -5.1 18.3 -0.6 C13.1 -2.1 6.8 -2.1 2.4 -1.3Z" fill="#5cc060" opacity="0.75"/></g><g transform="translate(420.1 111.2) rotate(-38)"><path d="M0 0 C3.6 -6.3 13.0 -5.8 18.1 0 C13.0 5.8 3.6 6.3 0 0Z" fill="#5cc255"/><path d="M2.2 -1.2 C5.4 -4.8 12.3 -4.6 16.7 -0.6 C12.0 -1.9 6.2 -1.9 2.2 -1.2Z" fill="#8ad873" opacity="0.75"/></g><g transform="translate(413.6 132.7) rotate(108)"><path d="M0 0 C3.4 -6.8 12.2 -6.2 16.9 0 C12.2 6.2 3.4 6.8 0 0Z" fill="#2fa144"/><path d="M2.0 -1.3 C5.1 -5.2 11.5 -4.9 15.6 -0.6 C11.2 -2.1 5.8 -2.1 2.0 -1.3Z" fill="#5cc060" opacity="0.75"/></g><g transform="translate(405.6 115.3) rotate(270)"><path d="M0 0 C3.8 -6.6 13.6 -6.1 18.9 0 C13.6 6.1 3.8 6.6 0 0Z" fill="#0e7635"/><path d="M2.3 -1.3 C5.7 -5.1 12.9 -4.8 17.4 -0.6 C12.5 -2.0 6.4 -2.0 2.3 -1.3Z" fill="#2c9c4a" opacity="0.75"/></g><g transform="translate(390.9 123.2) rotate(155)"><path d="M0 0 C3.7 -6.6 13.1 -6.1 18.3 0 C13.1 6.1 3.7 6.6 0 0Z" fill="#2fa144"/><path d="M2.2 -1.3 C5.5 -5.1 12.4 -4.8 16.8 -0.6 C12.0 -2.0 6.2 -2.0 2.2 -1.3Z" fill="#5cc060" opacity="0.75"/></g><g transform="translate(393.9 130.7) rotate(125)"><path d="M0 0 C3.2 -6.1 11.6 -5.6 16.1 0 C11.6 5.6 3.2 6.1 0 0Z" fill="#0e7635"/><path d="M1.9 -1.2 C4.8 -4.7 10.9 -4.4 14.8 -0.6 C10.6 -1.9 5.5 -1.9 1.9 -1.2Z" fill="#2c9c4a" opacity="0.75"/></g><g transform="translate(395.9 132.0) rotate(169)"><path d="M0 0 C3.5 -5.9 12.5 -5.4 17.3 0 C12.5 5.4 3.5 5.9 0 0Z" fill="#2fa144"/><path d="M2.1 -1.1 C5.2 -4.5 11.8 -4.3 15.9 -0.5 C11.4 -1.8 5.9 -1.8 2.1 -1.1Z" fill="#5cc060" opacity="0.75"/></g><g transform="translate(413.2 129.6) rotate(81)"><path d="M0 0 C3.3 -6.5 11.9 -6.0 16.6 0 C11.9 6.0 3.3 6.5 0 0Z" fill="#0e7635"/><path d="M2.0 -1.2 C5.0 -5.0 11.3 -4.7 15.2 -0.6 C10.9 -2.0 5.6 -2.0 2.0 -1.2Z" fill="#2c9c4a" opacity="0.75"/></g><g transform="translate(417.4 127.9) rotate(-14)"><path d="M0 0 C3.6 -6.4 13.1 -5.9 18.2 0 C13.1 5.9 3.6 6.4 0 0Z" fill="#2fa144"/><path d="M2.2 -1.2 C5.5 -4.9 12.4 -4.7 16.8 -0.6 C12.0 -2.0 6.2 -2.0 2.2 -1.2Z" fill="#5cc060" opacity="0.75"/></g><g transform="translate(411.1 124.2) rotate(363)"><path d="M0 0 C3.2 -6.4 11.4 -5.9 15.8 0 C11.4 5.9 3.2 6.4 0 0Z" fill="#0e7635"/><path d="M1.9 -1.2 C4.7 -4.9 10.8 -4.7 14.5 -0.6 C10.4 -2.0 5.4 -2.0 1.9 -1.2Z" fill="#2c9c4a" opacity="0.75"/></g>
<g transform="translate(374.4 136.3) rotate(-64)"><path d="M0 0 C3.4 -6.6 12.2 -6.1 16.9 0 C12.2 6.1 3.4 6.6 0 0Z" fill="#2fa144"/><path d="M2.0 -1.3 C5.1 -5.1 11.5 -4.8 15.6 -0.6 C11.2 -2.0 5.8 -2.0 2.0 -1.3Z" fill="#5cc060" opacity="0.75"/></g><g transform="translate(358.7 137.4) rotate(-136)"><path d="M0 0 C3.4 -6.3 12.3 -5.8 17.1 0 C12.3 5.8 3.4 6.3 0 0Z" fill="#2fa144"/><path d="M2.0 -1.2 C5.1 -4.8 11.6 -4.6 15.7 -0.6 C11.3 -1.9 5.8 -1.9 2.0 -1.2Z" fill="#5cc060" opacity="0.75"/></g><g transform="translate(364.6 135.8) rotate(251)"><path d="M0 0 C3.8 -6.9 13.5 -6.4 18.8 0 C13.5 6.4 3.8 6.9 0 0Z" fill="#0e7635"/><path d="M2.3 -1.3 C5.6 -5.3 12.8 -5.1 17.3 -0.6 C12.4 -2.1 6.4 -2.1 2.3 -1.3Z" fill="#2c9c4a" opacity="0.75"/></g>
<g transform="translate(351.9 167.3) rotate(38)"><path d="M0 0 C3.4 -6.0 12.2 -5.5 16.9 0 C12.2 5.5 3.4 6.0 0 0Z" fill="#5cc255"/><path d="M2.0 -1.2 C5.1 -4.6 11.5 -4.4 15.6 -0.6 C11.2 -1.8 5.8 -1.8 2.0 -1.2Z" fill="#8ad873" opacity="0.75"/></g><g transform="translate(338.1 167.3) rotate(150)"><path d="M0 0 C3.5 -6.2 12.7 -5.7 17.7 0 C12.7 5.7 3.5 6.2 0 0Z" fill="#2fa144"/><path d="M2.1 -1.2 C5.3 -4.8 12.0 -4.5 16.3 -0.6 C11.7 -1.9 6.0 -1.9 2.1 -1.2Z" fill="#5cc060" opacity="0.75"/></g><g transform="translate(347.2 169.5) rotate(41)"><path d="M0 0 C3.4 -6.8 12.3 -6.3 17.1 0 C12.3 6.3 3.4 6.8 0 0Z" fill="#0e7635"/><path d="M2.1 -1.3 C5.1 -5.3 11.7 -5.0 15.8 -0.6 C11.3 -2.1 5.8 -2.1 2.1 -1.3Z" fill="#2c9c4a" opacity="0.75"/></g>
<g transform="translate(427.7 165.1) rotate(29)"><path d="M0 0 C3.3 -6.3 12.0 -5.8 16.7 0 C12.0 5.8 3.3 6.3 0 0Z" fill="#2fa144"/><path d="M2.0 -1.2 C5.0 -4.9 11.3 -4.6 15.3 -0.6 C11.0 -1.9 5.7 -1.9 2.0 -1.2Z" fill="#5cc060" opacity="0.75"/></g><g transform="translate(414.3 173.4) rotate(51)"><path d="M0 0 C3.6 -6.1 13.1 -5.6 18.2 0 C13.1 5.6 3.6 6.1 0 0Z" fill="#5cc255"/><path d="M2.2 -1.2 C5.5 -4.7 12.4 -4.4 16.7 -0.6 C12.0 -1.9 6.2 -1.9 2.2 -1.2Z" fill="#8ad873" opacity="0.75"/></g><g transform="translate(382.9 166.2) rotate(160)"><path d="M0 0 C4.0 -6.8 14.5 -6.2 20.1 0 C14.5 6.2 4.0 6.8 0 0Z" fill="#2fa144"/><path d="M2.4 -1.3 C6.0 -5.2 13.7 -4.9 18.5 -0.6 C13.3 -2.1 6.8 -2.1 2.4 -1.3Z" fill="#5cc060" opacity="0.75"/></g><g transform="translate(385.7 155.0) rotate(-115)"><path d="M0 0 C3.7 -6.9 13.1 -6.3 18.3 0 C13.1 6.3 3.7 6.9 0 0Z" fill="#5cc255"/><path d="M2.2 -1.3 C5.5 -5.3 12.4 -5.0 16.8 -0.6 C12.0 -2.1 6.2 -2.1 2.2 -1.3Z" fill="#8ad873" opacity="0.75"/></g><g transform="translate(411.9 150.1) rotate(-104)"><path d="M0 0 C3.8 -6.3 13.7 -5.8 19.0 0 C13.7 5.8 3.8 6.3 0 0Z" fill="#4cb848"/><path d="M2.3 -1.2 C5.7 -4.8 12.9 -4.6 17.5 -0.6 C12.5 -1.9 6.4 -1.9 2.3 -1.2Z" fill="#8ad873" opacity="0.75"/></g><g transform="translate(388.6 161.7) rotate(198)"><path d="M0 0 C3.4 -6.9 12.1 -6.4 16.8 0 C12.1 6.4 3.4 6.9 0 0Z" fill="#2fa144"/><path d="M2.0 -1.3 C5.1 -5.3 11.5 -5.1 15.5 -0.6 C11.1 -2.1 5.7 -2.1 2.0 -1.3Z" fill="#5cc060" opacity="0.75"/></g><g transform="translate(407.1 152.6) rotate(267)"><path d="M0 0 C3.3 -6.4 11.9 -5.9 16.5 0 C11.9 5.9 3.3 6.4 0 0Z" fill="#2fa144"/><path d="M2.0 -1.2 C5.0 -4.9 11.2 -4.7 15.2 -0.6 C10.9 -2.0 5.6 -2.0 2.0 -1.2Z" fill="#5cc060" opacity="0.75"/></g><g transform="translate(417.7 156.8) rotate(311)"><path d="M0 0 C3.3 -6.3 12.0 -5.8 16.7 0 C12.0 5.8 3.3 6.3 0 0Z" fill="#0e7635"/><path d="M2.0 -1.2 C5.0 -4.8 11.3 -4.6 15.3 -0.6 C11.0 -1.9 5.7 -1.9 2.0 -1.2Z" fill="#2c9c4a" opacity="0.75"/></g><g transform="translate(411.2 170.9) rotate(101)"><path d="M0 0 C3.5 -6.4 12.7 -5.9 17.6 0 C12.7 5.9 3.5 6.4 0 0Z" fill="#2fa144"/><path d="M2.1 -1.2 C5.3 -4.9 12.0 -4.7 16.2 -0.6 C11.6 -2.0 6.0 -2.0 2.1 -1.2Z" fill="#5cc060" opacity="0.75"/></g><g transform="translate(392.1 165.3) rotate(189)"><path d="M0 0 C3.7 -6.9 13.4 -6.4 18.6 0 C13.4 6.4 3.7 6.9 0 0Z" fill="#2fa144"/><path d="M2.2 -1.3 C5.6 -5.3 12.6 -5.0 17.1 -0.6 C12.2 -2.1 6.3 -2.1 2.2 -1.3Z" fill="#5cc060" opacity="0.75"/></g><g transform="translate(411.4 166.9) rotate(22)"><path d="M0 0 C3.7 -7.0 13.3 -6.4 18.5 0 C13.3 6.4 3.7 7.0 0 0Z" fill="#4cb848"/><path d="M2.2 -1.3 C5.6 -5.4 12.6 -5.1 17.1 -0.6 C12.2 -2.1 6.3 -2.1 2.2 -1.3Z" fill="#8ad873" opacity="0.75"/></g>
<g transform="translate(437.0 186.1) rotate(-1)"><path d="M0 0 C3.9 -6.2 14.1 -5.7 19.6 0 C14.1 5.7 3.9 6.2 0 0Z" fill="#2fa144"/><path d="M2.4 -1.2 C5.9 -4.8 13.4 -4.5 18.1 -0.6 C13.0 -1.9 6.7 -1.9 2.4 -1.2Z" fill="#5cc060" opacity="0.75"/></g><g transform="translate(420.5 194.1) rotate(86)"><path d="M0 0 C3.9 -5.9 14.2 -5.4 19.7 0 C14.2 5.4 3.9 5.9 0 0Z" fill="#4cb848"/><path d="M2.4 -1.1 C5.9 -4.5 13.4 -4.3 18.1 -0.5 C13.0 -1.8 6.7 -1.8 2.4 -1.1Z" fill="#8ad873" opacity="0.75"/></g><g transform="translate(387.1 185.5) rotate(-170)"><path d="M0 0 C3.7 -6.5 13.4 -6.0 18.7 0 C13.4 6.0 3.7 6.5 0 0Z" fill="#2fa144"/><path d="M2.2 -1.2 C5.6 -5.0 12.7 -4.7 17.2 -0.6 C12.3 -2.0 6.3 -2.0 2.2 -1.2Z" fill="#5cc060" opacity="0.75"/></g><g transform="translate(419.9 177.9) rotate(-108)"><path d="M0 0 C4.0 -5.8 14.6 -5.3 20.2 0 C14.6 5.3 4.0 5.8 0 0Z" fill="#2fa144"/><path d="M2.4 -1.1 C6.1 -4.4 13.8 -4.2 18.6 -0.5 C13.3 -1.8 6.9 -1.8 2.4 -1.1Z" fill="#5cc060" opacity="0.75"/></g><g transform="translate(413.7 183.8) rotate(325)"><path d="M0 0 C3.6 -6.1 13.0 -5.7 18.1 0 C13.0 5.7 3.6 6.1 0 0Z" fill="#4cb848"/><path d="M2.2 -1.2 C5.4 -4.7 12.3 -4.5 16.6 -0.6 C11.9 -1.9 6.2 -1.9 2.2 -1.2Z" fill="#8ad873" opacity="0.75"/></g><g transform="translate(411.4 183.3) rotate(231)"><path d="M0 0 C3.2 -6.2 11.5 -5.8 16.0 0 C11.5 5.8 3.2 6.2 0 0Z" fill="#0e7635"/><path d="M1.9 -1.2 C4.8 -4.8 10.9 -4.6 14.7 -0.6 C10.6 -1.9 5.4 -1.9 1.9 -1.2Z" fill="#2c9c4a" opacity="0.75"/></g><g transform="translate(409.1 188.4) rotate(63)"><path d="M0 0 C3.6 -6.1 13.0 -5.7 18.0 0 C13.0 5.7 3.6 6.1 0 0Z" fill="#0e7635"/><path d="M2.2 -1.2 C5.4 -4.7 12.2 -4.5 16.6 -0.6 C11.9 -1.9 6.1 -1.9 2.2 -1.2Z" fill="#2c9c4a" opacity="0.75"/></g><g transform="translate(412.1 189.8) rotate(73)"><path d="M0 0 C3.3 -6.0 12.0 -5.5 16.6 0 C12.0 5.5 3.3 6.0 0 0Z" fill="#0e7635"/><path d="M2.0 -1.1 C5.0 -4.6 11.3 -4.4 15.3 -0.5 C11.0 -1.8 5.6 -1.8 2.0 -1.1Z" fill="#2c9c4a" opacity="0.75"/></g>
<g transform="translate(407.4 207.3) rotate(-14)"><path d="M0 0 C4.1 -6.7 14.8 -6.2 20.6 0 C14.8 6.2 4.1 6.7 0 0Z" fill="#2fa144"/><path d="M2.5 -1.3 C6.2 -5.2 14.0 -4.9 19.0 -0.6 C13.6 -2.1 7.0 -2.1 2.5 -1.3Z" fill="#5cc060" opacity="0.75"/></g><g transform="translate(381.4 214.8) rotate(70)"><path d="M0 0 C3.3 -6.7 12.0 -6.2 16.7 0 C12.0 6.2 3.3 6.7 0 0Z" fill="#4cb848"/><path d="M2.0 -1.3 C5.0 -5.2 11.3 -4.9 15.3 -0.6 C11.0 -2.1 5.7 -2.1 2.0 -1.3Z" fill="#8ad873" opacity="0.75"/></g><g transform="translate(361.7 204.6) rotate(-152)"><path d="M0 0 C4.1 -5.8 14.8 -5.3 20.6 0 C14.8 5.3 4.1 5.8 0 0Z" fill="#4cb848"/><path d="M2.5 -1.1 C6.2 -4.4 14.0 -4.2 19.0 -0.5 C13.6 -1.8 7.0 -1.8 2.5 -1.1Z" fill="#8ad873" opacity="0.75"/></g><g transform="translate(375.5 199.7) rotate(-105)"><path d="M0 0 C3.6 -6.2 12.8 -5.7 17.8 0 C12.8 5.7 3.6 6.2 0 0Z" fill="#2fa144"/><path d="M2.1 -1.2 C5.3 -4.7 12.1 -4.5 16.4 -0.6 C11.8 -1.9 6.1 -1.9 2.1 -1.2Z" fill="#5cc060" opacity="0.75"/></g><g transform="translate(371.1 206.4) rotate(226)"><path d="M0 0 C3.8 -6.3 13.6 -5.8 19.0 0 C13.6 5.8 3.8 6.3 0 0Z" fill="#4cb848"/><path d="M2.3 -1.2 C5.7 -4.8 12.9 -4.6 17.4 -0.6 C12.5 -1.9 6.4 -1.9 2.3 -1.2Z" fill="#8ad873" opacity="0.75"/></g><g transform="translate(389.1 207.3) rotate(-21)"><path d="M0 0 C3.7 -7.0 13.5 -6.5 18.7 0 C13.5 6.5 3.7 7.0 0 0Z" fill="#0e7635"/><path d="M2.2 -1.3 C5.6 -5.4 12.7 -5.1 17.2 -0.6 C12.4 -2.2 6.4 -2.2 2.2 -1.3Z" fill="#2c9c4a" opacity="0.75"/></g><g transform="translate(392.8 205.7) rotate(307)"><path d="M0 0 C3.2 -6.3 11.5 -5.8 16.0 0 C11.5 5.8 3.2 6.3 0 0Z" fill="#2fa144"/><path d="M1.9 -1.2 C4.8 -4.9 10.9 -4.6 14.7 -0.6 C10.6 -1.9 5.4 -1.9 1.9 -1.2Z" fill="#5cc060" opacity="0.75"/></g><g transform="translate(389.4 201.4) rotate(322)"><path d="M0 0 C3.5 -6.4 12.6 -5.9 17.5 0 C12.6 5.9 3.5 6.4 0 0Z" fill="#2fa144"/><path d="M2.1 -1.2 C5.2 -4.9 11.9 -4.7 16.1 -0.6 C11.5 -2.0 5.9 -2.0 2.1 -1.2Z" fill="#5cc060" opacity="0.75"/></g>
<g transform="translate(348.9 206.3) rotate(21)"><path d="M0 0 C3.6 -5.9 12.9 -5.5 17.9 0 C12.9 5.5 3.6 5.9 0 0Z" fill="#4cb848"/><path d="M2.1 -1.1 C5.4 -4.6 12.2 -4.3 16.5 -0.5 C11.8 -1.8 6.1 -1.8 2.1 -1.1Z" fill="#8ad873" opacity="0.75"/></g><g transform="translate(329.9 202.4) rotate(-177)"><path d="M0 0 C3.4 -6.1 12.2 -5.6 17.0 0 C12.2 5.6 3.4 6.1 0 0Z" fill="#4cb848"/><path d="M2.0 -1.2 C5.1 -4.7 11.5 -4.5 15.6 -0.6 C11.2 -1.9 5.8 -1.9 2.0 -1.2Z" fill="#8ad873" opacity="0.75"/></g><g transform="translate(343.0 204.0) rotate(6)"><path d="M0 0 C3.4 -6.6 12.3 -6.1 17.0 0 C12.3 6.1 3.4 6.6 0 0Z" fill="#4cb848"/><path d="M2.0 -1.3 C5.1 -5.1 11.6 -4.8 15.7 -0.6 C11.2 -2.0 5.8 -2.0 2.0 -1.3Z" fill="#8ad873" opacity="0.75"/></g>
<g transform="translate(499.5 117.9) rotate(12)"><path d="M0 0 C3.8 -6.1 13.6 -5.6 18.9 0 C13.6 5.6 3.8 6.1 0 0Z" fill="#5cc255"/><path d="M2.3 -1.2 C5.7 -4.7 12.9 -4.4 17.4 -0.6 C12.5 -1.9 6.4 -1.9 2.3 -1.2Z" fill="#8ad873" opacity="0.75"/></g><g transform="translate(487.7 131.7) rotate(91)"><path d="M0 0 C4.1 -6.2 14.9 -5.7 20.7 0 C14.9 5.7 4.1 6.2 0 0Z" fill="#4cb848"/><path d="M2.5 -1.2 C6.2 -4.7 14.1 -4.5 19.0 -0.6 C13.7 -1.9 7.0 -1.9 2.5 -1.2Z" fill="#8ad873" opacity="0.75"/></g><g transform="translate(465.1 120.3) rotate(153)"><path d="M0 0 C3.9 -7.0 14.1 -6.4 19.5 0 C14.1 6.4 3.9 7.0 0 0Z" fill="#4cb848"/><path d="M2.3 -1.3 C5.9 -5.4 13.3 -5.1 18.0 -0.6 C12.9 -2.1 6.6 -2.1 2.3 -1.3Z" fill="#8ad873" opacity="0.75"/></g><g transform="translate(465.3 107.0) rotate(-133)"><path d="M0 0 C3.4 -6.5 12.1 -6.0 16.8 0 C12.1 6.0 3.4 6.5 0 0Z" fill="#4cb848"/><path d="M2.0 -1.3 C5.1 -5.0 11.5 -4.8 15.5 -0.6 C11.1 -2.0 5.7 -2.0 2.0 -1.3Z" fill="#8ad873" opacity="0.75"/></g><g transform="translate(491.8 98.3) rotate(-70)"><path d="M0 0 C3.9 -6.3 14.1 -5.8 19.6 0 C14.1 5.8 3.9 6.3 0 0Z" fill="#4cb848"/><path d="M2.4 -1.2 C5.9 -4.9 13.3 -4.6 18.1 -0.6 C12.9 -1.9 6.7 -1.9 2.4 -1.2Z" fill="#8ad873" opacity="0.75"/></g><g transform="translate(472.4 120.6) rotate(142)"><path d="M0 0 C3.5 -5.7 12.5 -5.3 17.4 0 C12.5 5.3 3.5 5.7 0 0Z" fill="#4cb848"/><path d="M2.1 -1.1 C5.2 -4.4 11.8 -4.2 16.0 -0.5 C11.5 -1.8 5.9 -1.8 2.1 -1.1Z" fill="#8ad873" opacity="0.75"/></g><g transform="translate(469.1 112.7) rotate(196)"><path d="M0 0 C3.3 -6.3 12.0 -5.8 16.6 0 C12.0 5.8 3.3 6.3 0 0Z" fill="#4cb848"/><path d="M2.0 -1.2 C5.0 -4.8 11.3 -4.6 15.3 -0.6 C11.0 -1.9 5.7 -1.9 2.0 -1.2Z" fill="#8ad873" opacity="0.75"/></g><g transform="translate(485.3 111.9) rotate(352)"><path d="M0 0 C3.2 -6.4 11.7 -5.9 16.2 0 C11.7 5.9 3.2 6.4 0 0Z" fill="#4cb848"/><path d="M1.9 -1.2 C4.9 -5.0 11.0 -4.7 14.9 -0.6 C10.7 -2.0 5.5 -2.0 1.9 -1.2Z" fill="#8ad873" opacity="0.75"/></g><g transform="translate(468.2 110.6) rotate(144)"><path d="M0 0 C3.8 -6.6 13.8 -6.1 19.2 0 C13.8 6.1 3.8 6.6 0 0Z" fill="#2fa144"/><path d="M2.3 -1.3 C5.8 -5.1 13.1 -4.8 17.7 -0.6 C12.7 -2.0 6.5 -2.0 2.3 -1.3Z" fill="#5cc060" opacity="0.75"/></g><g transform="translate(484.4 110.3) rotate(268)"><path d="M0 0 C3.7 -5.9 13.3 -5.4 18.5 0 C13.3 5.4 3.7 5.9 0 0Z" fill="#0e7635"/><path d="M2.2 -1.1 C5.6 -4.5 12.6 -4.3 17.0 -0.5 C12.2 -1.8 6.3 -1.8 2.2 -1.1Z" fill="#2c9c4a" opacity="0.75"/></g><g transform="translate(468.6 113.6) rotate(140)"><path d="M0 0 C3.9 -6.9 13.9 -6.3 19.3 0 C13.9 6.3 3.9 6.9 0 0Z" fill="#2fa144"/><path d="M2.3 -1.3 C5.8 -5.3 13.1 -5.0 17.8 -0.6 C12.7 -2.1 6.6 -2.1 2.3 -1.3Z" fill="#5cc060" opacity="0.75"/></g><g transform="translate(485.3 107.0) rotate(249)"><path d="M0 0 C3.2 -6.7 11.7 -6.2 16.2 0 C11.7 6.2 3.2 6.7 0 0Z" fill="#0e7635"/><path d="M1.9 -1.3 C4.9 -5.1 11.0 -4.9 14.9 -0.6 C10.7 -2.1 5.5 -2.1 1.9 -1.3Z" fill="#2c9c4a" opacity="0.75"/></g>
<g transform="translate(526.7 105.4) rotate(5)"><path d="M0 0 C3.8 -6.5 13.5 -6.0 18.8 0 C13.5 6.0 3.8 6.5 0 0Z" fill="#4cb848"/><path d="M2.3 -1.3 C5.6 -5.0 12.8 -4.8 17.3 -0.6 C12.4 -2.0 6.4 -2.0 2.3 -1.3Z" fill="#8ad873" opacity="0.75"/></g><g transform="translate(501.1 109.2) rotate(109)"><path d="M0 0 C3.5 -6.0 12.7 -5.5 17.6 0 C12.7 5.5 3.5 6.0 0 0Z" fill="#5cc255"/><path d="M2.1 -1.2 C5.3 -4.6 12.0 -4.4 16.2 -0.6 C11.6 -1.8 6.0 -1.8 2.1 -1.2Z" fill="#8ad873" opacity="0.75"/></g><g transform="translate(508.8 92.1) rotate(-122)"><path d="M0 0 C3.8 -6.9 13.7 -6.4 19.1 0 C13.7 6.4 3.8 6.9 0 0Z" fill="#5cc255"/><path d="M2.3 -1.3 C5.7 -5.3 13.0 -5.0 17.5 -0.6 C12.6 -2.1 6.5 -2.1 2.3 -1.3Z" fill="#8ad873" opacity="0.75"/></g><g transform="translate(506.2 101.9) rotate(198)"><path d="M0 0 C3.2 -6.2 11.5 -5.8 16.0 0 C11.5 5.8 3.2 6.2 0 0Z" fill="#2fa144"/><path d="M1.9 -1.2 C4.8 -4.8 10.9 -4.6 14.7 -0.6 C10.6 -1.9 5.4 -1.9 1.9 -1.2Z" fill="#5cc060" opacity="0.75"/></g><g transform="translate(517.1 96.0) rotate(276)"><path d="M0 0 C3.2 -6.6 11.6 -6.1 16.2 0 C11.6 6.1 3.2 6.6 0 0Z" fill="#0e7635"/><path d="M1.9 -1.3 C4.9 -5.1 11.0 -4.8 14.9 -0.6 C10.7 -2.0 5.5 -2.0 1.9 -1.3Z" fill="#2c9c4a" opacity="0.75"/></g><g transform="translate(522.2 102.8) rotate(-3)"><path d="M0 0 C3.4 -6.1 12.2 -5.6 16.9 0 C12.2 5.6 3.4 6.1 0 0Z" fill="#2fa144"/><path d="M2.0 -1.2 C5.1 -4.7 11.5 -4.4 15.6 -0.6 C11.2 -1.9 5.8 -1.9 2.0 -1.2Z" fill="#5cc060" opacity="0.75"/></g>
<g transform="translate(609.2 116.0) rotate(-13)"><path d="M0 0 C3.7 -6.7 13.2 -6.2 18.3 0 C13.2 6.2 3.7 6.7 0 0Z" fill="#4cb848"/><path d="M2.2 -1.3 C5.5 -5.1 12.4 -4.9 16.8 -0.6 C12.1 -2.1 6.2 -2.1 2.2 -1.3Z" fill="#8ad873" opacity="0.75"/></g><g transform="translate(596.8 130.4) rotate(87)"><path d="M0 0 C3.8 -5.8 13.7 -5.4 19.0 0 C13.7 5.4 3.8 5.8 0 0Z" fill="#2fa144"/><path d="M2.3 -1.1 C5.7 -4.5 12.9 -4.3 17.5 -0.5 C12.6 -1.8 6.5 -1.8 2.3 -1.1Z" fill="#5cc060" opacity="0.75"/></g><g transform="translate(570.5 128.5) rotate(139)"><path d="M0 0 C4.1 -6.0 14.8 -5.5 20.6 0 C14.8 5.5 4.1 6.0 0 0Z" fill="#2fa144"/><path d="M2.5 -1.2 C6.2 -4.6 14.0 -4.4 19.0 -0.6 C13.6 -1.8 7.0 -1.8 2.5 -1.2Z" fill="#5cc060" opacity="0.75"/></g><g transform="translate(568.6 108.6) rotate(-100)"><path d="M0 0 C3.5 -5.8 12.8 -5.4 17.7 0 C12.8 5.4 3.5 5.8 0 0Z" fill="#4cb848"/><path d="M2.1 -1.1 C5.3 -4.5 12.1 -4.3 16.3 -0.5 C11.7 -1.8 6.0 -1.8 2.1 -1.1Z" fill="#8ad873" opacity="0.75"/></g><g transform="translate(586.4 104.0) rotate(-115)"><path d="M0 0 C3.9 -6.9 14.0 -6.4 19.5 0 C14.0 6.4 3.9 6.9 0 0Z" fill="#4cb848"/><path d="M2.3 -1.3 C5.8 -5.3 13.2 -5.1 17.9 -0.6 C12.9 -2.1 6.6 -2.1 2.3 -1.3Z" fill="#8ad873" opacity="0.75"/></g><g transform="translate(599.1 125.4) rotate(23)"><path d="M0 0 C3.4 -6.5 12.3 -6.0 17.1 0 C12.3 6.0 3.4 6.5 0 0Z" fill="#0e7635"/><path d="M2.1 -1.2 C5.1 -5.0 11.6 -4.7 15.8 -0.6 C11.3 -2.0 5.8 -2.0 2.1 -1.2Z" fill="#2c9c4a" opacity="0.75"/></g><g transform="translate(570.9 117.2) rotate(147)"><path d="M0 0 C3.2 -6.9 11.5 -6.4 15.9 0 C11.5 6.4 3.2 6.9 0 0Z" fill="#0e7635"/><path d="M1.9 -1.3 C4.8 -5.3 10.8 -5.1 14.6 -0.6 C10.5 -2.1 5.4 -2.1 1.9 -1.3Z" fill="#2c9c4a" opacity="0.75"/></g><g transform="translate(588.1 111.5) rotate(238)"><path d="M0 0 C3.4 -6.3 12.2 -5.8 17.0 0 C12.2 5.8 3.4 6.3 0 0Z" fill="#0e7635"/><path d="M2.0 -1.2 C5.1 -4.9 11.5 -4.6 15.6 -0.6 C11.2 -1.9 5.8 -1.9 2.0 -1.2Z" fill="#2c9c4a" opacity="0.75"/></g><g transform="translate(588.8 127.8) rotate(91)"><path d="M0 0 C3.7 -6.1 13.4 -5.6 18.6 0 C13.4 5.6 3.7 6.1 0 0Z" fill="#0e7635"/><path d="M2.2 -1.2 C5.6 -4.7 12.7 -4.4 17.1 -0.6 C12.3 -1.9 6.3 -1.9 2.2 -1.2Z" fill="#2c9c4a" opacity="0.75"/></g><g transform="translate(580.7 124.7) rotate(122)"><path d="M0 0 C3.8 -6.7 13.7 -6.1 19.1 0 C13.7 6.1 3.8 6.7 0 0Z" fill="#2fa144"/><path d="M2.3 -1.3 C5.7 -5.1 13.0 -4.9 17.5 -0.6 C12.6 -2.0 6.5 -2.0 2.3 -1.3Z" fill="#5cc060" opacity="0.75"/></g><g transform="translate(572.0 112.8) rotate(176)"><path d="M0 0 C3.7 -5.9 13.3 -5.4 18.4 0 C13.3 5.4 3.7 5.9 0 0Z" fill="#0e7635"/><path d="M2.2 -1.1 C5.5 -4.5 12.5 -4.3 17.0 -0.5 C12.2 -1.8 6.3 -1.8 2.2 -1.1Z" fill="#2c9c4a" opacity="0.75"/></g><g transform="translate(574.6 119.9) rotate(167)"><path d="M0 0 C3.4 -6.3 12.3 -5.8 17.0 0 C12.3 5.8 3.4 6.3 0 0Z" fill="#4cb848"/><path d="M2.0 -1.2 C5.1 -4.9 11.6 -4.6 15.7 -0.6 C11.2 -1.9 5.8 -1.9 2.0 -1.2Z" fill="#8ad873" opacity="0.75"/></g>
<g transform="translate(578.8 168.4) rotate(28)"><path d="M0 0 C4.1 -6.7 14.6 -6.1 20.3 0 C14.6 6.1 4.1 6.7 0 0Z" fill="#5cc255"/><path d="M2.4 -1.3 C6.1 -5.1 13.8 -4.9 18.7 -0.6 C13.4 -2.0 6.9 -2.0 2.4 -1.3Z" fill="#8ad873" opacity="0.75"/></g><g transform="translate(564.7 183.4) rotate(69)"><path d="M0 0 C4.1 -6.7 14.8 -6.2 20.6 0 C14.8 6.2 4.1 6.7 0 0Z" fill="#2fa144"/><path d="M2.5 -1.3 C6.2 -5.2 14.0 -4.9 18.9 -0.6 C13.6 -2.1 7.0 -2.1 2.5 -1.3Z" fill="#5cc060" opacity="0.75"/></g><g transform="translate(536.0 185.2) rotate(92)"><path d="M0 0 C3.4 -6.4 12.4 -5.9 17.2 0 C12.4 5.9 3.4 6.4 0 0Z" fill="#4cb848"/><path d="M2.1 -1.2 C5.2 -4.9 11.7 -4.6 15.9 -0.6 C11.4 -2.0 5.9 -2.0 2.1 -1.2Z" fill="#8ad873" opacity="0.75"/></g><g transform="translate(518.0 171.0) rotate(144)"><path d="M0 0 C3.6 -6.7 13.0 -6.2 18.0 0 C13.0 6.2 3.6 6.7 0 0Z" fill="#4cb848"/><path d="M2.2 -1.3 C5.4 -5.2 12.3 -4.9 16.6 -0.6 C11.9 -2.1 6.1 -2.1 2.2 -1.3Z" fill="#8ad873" opacity="0.75"/></g><g transform="translate(518.3 158.3) rotate(-147)"><path d="M0 0 C3.4 -6.4 12.3 -5.9 17.1 0 C12.3 5.9 3.4 6.4 0 0Z" fill="#4cb848"/><path d="M2.1 -1.2 C5.1 -4.9 11.6 -4.7 15.7 -0.6 C11.3 -2.0 5.8 -2.0 2.1 -1.2Z" fill="#8ad873" opacity="0.75"/></g><g transform="translate(535.8 144.9) rotate(-108)"><path d="M0 0 C3.7 -6.2 13.3 -5.8 18.5 0 C13.3 5.8 3.7 6.2 0 0Z" fill="#4cb848"/><path d="M2.2 -1.2 C5.6 -4.8 12.6 -4.6 17.0 -0.6 C12.2 -1.9 6.3 -1.9 2.2 -1.2Z" fill="#8ad873" opacity="0.75"/></g><g transform="translate(564.1 146.3) rotate(-76)"><path d="M0 0 C3.9 -6.8 14.1 -6.2 19.6 0 C14.1 6.2 3.9 6.8 0 0Z" fill="#4cb848"/><path d="M2.4 -1.3 C5.9 -5.2 13.3 -4.9 18.1 -0.6 C13.0 -2.1 6.7 -2.1 2.4 -1.3Z" fill="#8ad873" opacity="0.75"/></g><g transform="translate(530.8 155.5) rotate(186)"><path d="M0 0 C3.7 -6.2 13.5 -5.7 18.7 0 C13.5 5.7 3.7 6.2 0 0Z" fill="#4cb848"/><path d="M2.2 -1.2 C5.6 -4.7 12.7 -4.5 17.2 -0.6 C12.4 -1.9 6.4 -1.9 2.2 -1.2Z" fill="#8ad873" opacity="0.75"/></g><g transform="translate(534.7 178.5) rotate(91)"><path d="M0 0 C3.2 -6.9 11.6 -6.4 16.1 0 C11.6 6.4 3.2 6.9 0 0Z" fill="#4cb848"/><path d="M1.9 -1.3 C4.8 -5.3 10.9 -5.0 14.8 -0.6 C10.6 -2.1 5.5 -2.1 1.9 -1.3Z" fill="#8ad873" opacity="0.75"/></g><g transform="translate(558.5 157.0) rotate(353)"><path d="M0 0 C3.8 -6.8 13.8 -6.3 19.2 0 C13.8 6.3 3.8 6.8 0 0Z" fill="#0e7635"/><path d="M2.3 -1.3 C5.8 -5.2 13.0 -5.0 17.6 -0.6 C12.7 -2.1 6.5 -2.1 2.3 -1.3Z" fill="#2c9c4a" opacity="0.75"/></g><g transform="translate(554.2 175.8) rotate(58)"><path d="M0 0 C3.8 -6.3 13.9 -5.8 19.2 0 C13.9 5.8 3.8 6.3 0 0Z" fill="#0e7635"/><path d="M2.3 -1.2 C5.8 -4.9 13.1 -4.6 17.7 -0.6 C12.7 -1.9 6.5 -1.9 2.3 -1.2Z" fill="#2c9c4a" opacity="0.75"/></g><g transform="translate(570.5 164.4) rotate(394)"><path d="M0 0 C3.6 -6.4 12.8 -5.9 17.8 0 C12.8 5.9 3.6 6.4 0 0Z" fill="#0e7635"/><path d="M2.1 -1.2 C5.3 -4.9 12.1 -4.7 16.4 -0.6 C11.8 -2.0 6.1 -2.0 2.1 -1.2Z" fill="#2c9c4a" opacity="0.75"/></g><g transform="translate(555.9 169.8) rotate(27)"><path d="M0 0 C3.9 -6.9 13.9 -6.4 19.3 0 C13.9 6.4 3.9 6.9 0 0Z" fill="#0e7635"/><path d="M2.3 -1.3 C5.8 -5.3 13.1 -5.1 17.7 -0.6 C12.7 -2.1 6.6 -2.1 2.3 -1.3Z" fill="#2c9c4a" opacity="0.75"/></g><g transform="translate(549.1 176.9) rotate(65)"><path d="M0 0 C3.7 -7.0 13.4 -6.5 18.6 0 C13.4 6.5 3.7 7.0 0 0Z" fill="#0e7635"/><path d="M2.2 -1.3 C5.6 -5.4 12.6 -5.1 17.1 -0.6 C12.2 -2.2 6.3 -2.2 2.2 -1.3Z" fill="#2c9c4a" opacity="0.75"/></g><g transform="translate(545.2 167.4) rotate(86)"><path d="M0 0 C3.5 -6.9 12.5 -6.4 17.4 0 C12.5 6.4 3.5 6.9 0 0Z" fill="#0e7635"/><path d="M2.1 -1.3 C5.2 -5.3 11.8 -5.1 16.0 -0.6 C11.5 -2.1 5.9 -2.1 2.1 -1.3Z" fill="#2c9c4a" opacity="0.75"/></g><g transform="translate(538.3 151.6) rotate(213)"><path d="M0 0 C3.3 -5.9 11.8 -5.4 16.3 0 C11.8 5.4 3.3 5.9 0 0Z" fill="#2fa144"/><path d="M2.0 -1.1 C4.9 -4.5 11.1 -4.3 15.0 -0.5 C10.8 -1.8 5.6 -1.8 2.0 -1.1Z" fill="#5cc060" opacity="0.75"/></g><g transform="translate(559.5 162.4) rotate(297)"><path d="M0 0 C3.3 -5.8 11.7 -5.4 16.3 0 C11.7 5.4 3.3 5.8 0 0Z" fill="#0e7635"/><path d="M2.0 -1.1 C4.9 -4.5 11.1 -4.2 15.0 -0.5 C10.8 -1.8 5.5 -1.8 2.0 -1.1Z" fill="#2c9c4a" opacity="0.75"/></g><g transform="translate(524.4 165.0) rotate(160)"><path d="M0 0 C3.5 -6.9 12.5 -6.4 17.4 0 C12.5 6.4 3.5 6.9 0 0Z" fill="#0e7635"/><path d="M2.1 -1.3 C5.2 -5.3 11.8 -5.0 16.0 -0.6 C11.5 -2.1 5.9 -2.1 2.1 -1.3Z" fill="#2c9c4a" opacity="0.75"/></g><g transform="translate(560.2 150.2) rotate(250)"><path d="M0 0 C3.4 -6.1 12.3 -5.6 17.1 0 C12.3 5.6 3.4 6.1 0 0Z" fill="#2fa144"/><path d="M2.1 -1.2 C5.1 -4.7 11.6 -4.5 15.8 -0.6 C11.3 -1.9 5.8 -1.9 2.1 -1.2Z" fill="#5cc060" opacity="0.75"/></g><g transform="translate(554.9 149.2) rotate(287)"><path d="M0 0 C3.7 -6.9 13.3 -6.3 18.4 0 C13.3 6.3 3.7 6.9 0 0Z" fill="#2fa144"/><path d="M2.2 -1.3 C5.5 -5.3 12.5 -5.0 16.9 -0.6 C12.2 -2.1 6.3 -2.1 2.2 -1.3Z" fill="#5cc060" opacity="0.75"/></g><g transform="translate(554.5 171.3) rotate(63)"><path d="M0 0 C3.8 -5.8 13.8 -5.3 19.2 0 C13.8 5.3 3.8 5.8 0 0Z" fill="#2fa144"/><path d="M2.3 -1.1 C5.8 -4.4 13.1 -4.2 17.7 -0.5 C12.7 -1.8 6.5 -1.8 2.3 -1.1Z" fill="#5cc060" opacity="0.75"/></g>
<g transform="translate(623.2 197.4) rotate(29)"><path d="M0 0 C4.1 -6.6 14.6 -6.1 20.3 0 C14.6 6.1 4.1 6.6 0 0Z" fill="#4cb848"/><path d="M2.4 -1.3 C6.1 -5.1 13.8 -4.8 18.7 -0.6 C13.4 -2.0 6.9 -2.0 2.4 -1.3Z" fill="#8ad873" opacity="0.75"/></g><g transform="translate(603.7 209.3) rotate(90)"><path d="M0 0 C4.0 -5.9 14.5 -5.5 20.1 0 C14.5 5.5 4.0 5.9 0 0Z" fill="#2fa144"/><path d="M2.4 -1.1 C6.0 -4.6 13.7 -4.3 18.5 -0.5 C13.3 -1.8 6.8 -1.8 2.4 -1.1Z" fill="#5cc060" opacity="0.75"/></g><g transform="translate(580.0 209.2) rotate(98)"><path d="M0 0 C4.0 -6.4 14.4 -5.9 20.0 0 C14.4 5.9 4.0 6.4 0 0Z" fill="#2fa144"/><path d="M2.4 -1.2 C6.0 -4.9 13.6 -4.7 18.4 -0.6 C13.2 -2.0 6.8 -2.0 2.4 -1.2Z" fill="#5cc060" opacity="0.75"/></g><g transform="translate(561.2 194.8) rotate(-155)"><path d="M0 0 C3.4 -6.8 12.2 -6.3 17.0 0 C12.2 6.3 3.4 6.8 0 0Z" fill="#2fa144"/><path d="M2.0 -1.3 C5.1 -5.2 11.5 -5.0 15.6 -0.6 C11.2 -2.1 5.8 -2.1 2.0 -1.3Z" fill="#5cc060" opacity="0.75"/></g><g transform="translate(583.4 184.3) rotate(-70)"><path d="M0 0 C3.4 -6.9 12.3 -6.3 17.2 0 C12.3 6.3 3.4 6.9 0 0Z" fill="#2fa144"/><path d="M2.1 -1.3 C5.1 -5.3 11.7 -5.0 15.8 -0.6 C11.3 -2.1 5.8 -2.1 2.1 -1.3Z" fill="#5cc060" opacity="0.75"/></g><g transform="translate(608.3 185.7) rotate(-88)"><path d="M0 0 C4.1 -6.5 14.9 -6.0 20.7 0 C14.9 6.0 4.1 6.5 0 0Z" fill="#2fa144"/><path d="M2.5 -1.3 C6.2 -5.0 14.1 -4.8 19.1 -0.6 C13.7 -2.0 7.0 -2.0 2.5 -1.3Z" fill="#5cc060" opacity="0.75"/></g><g transform="translate(612.7 197.2) rotate(-39)"><path d="M0 0 C3.2 -6.2 11.5 -5.7 16.0 0 C11.5 5.7 3.2 6.2 0 0Z" fill="#2fa144"/><path d="M1.9 -1.2 C4.8 -4.7 10.9 -4.5 14.7 -0.6 C10.6 -1.9 5.4 -1.9 1.9 -1.2Z" fill="#5cc060" opacity="0.75"/></g><g transform="translate(602.3 197.3) rotate(-15)"><path d="M0 0 C3.3 -6.3 11.7 -5.9 16.3 0 C11.7 5.9 3.3 6.3 0 0Z" fill="#0e7635"/><path d="M2.0 -1.2 C4.9 -4.9 11.1 -4.6 15.0 -0.6 C10.8 -2.0 5.5 -2.0 2.0 -1.2Z" fill="#2c9c4a" opacity="0.75"/></g><g transform="translate(593.1 201.7) rotate(77)"><path d="M0 0 C3.4 -6.9 12.4 -6.4 17.2 0 C12.4 6.4 3.4 6.9 0 0Z" fill="#4cb848"/><path d="M2.1 -1.3 C5.1 -5.3 11.7 -5.0 15.8 -0.6 C11.3 -2.1 5.8 -2.1 2.1 -1.3Z" fill="#8ad873" opacity="0.75"/></g><g transform="translate(605.9 190.2) rotate(281)"><path d="M0 0 C3.3 -6.0 12.0 -5.6 16.6 0 C12.0 5.6 3.3 6.0 0 0Z" fill="#2fa144"/><path d="M2.0 -1.2 C5.0 -4.6 11.3 -4.4 15.3 -0.6 C11.0 -1.9 5.6 -1.9 2.0 -1.2Z" fill="#5cc060" opacity="0.75"/></g><g transform="translate(584.5 192.8) rotate(265)"><path d="M0 0 C3.8 -6.4 13.7 -5.9 19.0 0 C13.7 5.9 3.8 6.4 0 0Z" fill="#2fa144"/><path d="M2.3 -1.2 C5.7 -4.9 12.9 -4.7 17.5 -0.6 C12.5 -2.0 6.5 -2.0 2.3 -1.2Z" fill="#5cc060" opacity="0.75"/></g><g transform="translate(569.9 196.0) rotate(222)"><path d="M0 0 C3.4 -6.8 12.1 -6.3 16.8 0 C12.1 6.3 3.4 6.8 0 0Z" fill="#0e7635"/><path d="M2.0 -1.3 C5.0 -5.2 11.4 -5.0 15.5 -0.6 C11.1 -2.1 5.7 -2.1 2.0 -1.3Z" fill="#2c9c4a" opacity="0.75"/></g><g transform="translate(581.9 201.9) rotate(164)"><path d="M0 0 C3.3 -6.3 11.9 -5.8 16.5 0 C11.9 5.8 3.3 6.3 0 0Z" fill="#4cb848"/><path d="M2.0 -1.2 C4.9 -4.9 11.2 -4.6 15.2 -0.6 C10.9 -1.9 5.6 -1.9 2.0 -1.2Z" fill="#8ad873" opacity="0.75"/></g><g transform="translate(594.5 198.3) rotate(31)"><path d="M0 0 C3.5 -6.3 12.6 -5.8 17.4 0 C12.6 5.8 3.5 6.3 0 0Z" fill="#0e7635"/><path d="M2.1 -1.2 C5.2 -4.8 11.9 -4.6 16.0 -0.6 C11.5 -1.9 5.9 -1.9 2.1 -1.2Z" fill="#2c9c4a" opacity="0.75"/></g><g transform="translate(591.2 187.1) rotate(221)"><path d="M0 0 C3.4 -6.4 12.2 -5.9 17.0 0 C12.2 5.9 3.4 6.4 0 0Z" fill="#2fa144"/><path d="M2.0 -1.2 C5.1 -4.9 11.5 -4.7 15.6 -0.6 C11.2 -2.0 5.8 -2.0 2.0 -1.2Z" fill="#5cc060" opacity="0.75"/></g>
<g transform="translate(581.5 213.5) rotate(-12)"><path d="M0 0 C3.9 -6.8 13.9 -6.3 19.3 0 C13.9 6.3 3.9 6.8 0 0Z" fill="#4cb848"/><path d="M2.3 -1.3 C5.8 -5.3 13.1 -5.0 17.8 -0.6 C12.7 -2.1 6.6 -2.1 2.3 -1.3Z" fill="#8ad873" opacity="0.75"/></g><g transform="translate(565.0 219.4) rotate(102)"><path d="M0 0 C4.0 -6.7 14.3 -6.2 19.9 0 C14.3 6.2 4.0 6.7 0 0Z" fill="#2fa144"/><path d="M2.4 -1.3 C6.0 -5.2 13.5 -4.9 18.3 -0.6 C13.1 -2.1 6.8 -2.1 2.4 -1.3Z" fill="#5cc060" opacity="0.75"/></g><g transform="translate(553.8 210.6) rotate(-141)"><path d="M0 0 C3.4 -6.7 12.3 -6.1 17.1 0 C12.3 6.1 3.4 6.7 0 0Z" fill="#4cb848"/><path d="M2.1 -1.3 C5.1 -5.1 11.6 -4.9 15.8 -0.6 C11.3 -2.0 5.8 -2.0 2.1 -1.3Z" fill="#8ad873" opacity="0.75"/></g><g transform="translate(575.6 216.6) rotate(80)"><path d="M0 0 C3.2 -6.3 11.7 -5.8 16.2 0 C11.7 5.8 3.2 6.3 0 0Z" fill="#0e7635"/><path d="M1.9 -1.2 C4.9 -4.9 11.0 -4.6 14.9 -0.6 C10.7 -1.9 5.5 -1.9 1.9 -1.2Z" fill="#2c9c4a" opacity="0.75"/></g>
<g transform="translate(637.5 203.1) rotate(-63)"><path d="M0 0 C4.0 -6.1 14.5 -5.6 20.1 0 C14.5 5.6 4.0 6.1 0 0Z" fill="#4cb848"/><path d="M2.4 -1.2 C6.0 -4.7 13.7 -4.4 18.5 -0.6 C13.3 -1.9 6.8 -1.9 2.4 -1.2Z" fill="#8ad873" opacity="0.75"/></g><g transform="translate(624.3 203.5) rotate(-131)"><path d="M0 0 C3.7 -6.4 13.2 -5.9 18.3 0 C13.2 5.9 3.7 6.4 0 0Z" fill="#4cb848"/><path d="M2.2 -1.2 C5.5 -4.9 12.4 -4.7 16.8 -0.6 C12.1 -2.0 6.2 -2.0 2.2 -1.2Z" fill="#8ad873" opacity="0.75"/></g><g transform="translate(631.5 202.1) rotate(261)"><path d="M0 0 C3.5 -6.8 12.5 -6.3 17.4 0 C12.5 6.3 3.5 6.8 0 0Z" fill="#0e7635"/><path d="M2.1 -1.3 C5.2 -5.2 11.8 -5.0 16.0 -0.6 C11.5 -2.1 5.9 -2.1 2.1 -1.3Z" fill="#2c9c4a" opacity="0.75"/></g>
<g transform="translate(542.5 132.9) rotate(-16)"><path d="M0 0 C3.9 -6.1 14.1 -5.6 19.6 0 C14.1 5.6 3.9 6.1 0 0Z" fill="#4cb848"/><path d="M2.4 -1.2 C5.9 -4.7 13.3 -4.4 18.0 -0.6 C12.9 -1.9 6.7 -1.9 2.4 -1.2Z" fill="#8ad873" opacity="0.75"/></g><g transform="translate(526.6 150.9) rotate(54)"><path d="M0 0 C4.0 -6.1 14.5 -5.7 20.1 0 C14.5 5.7 4.0 6.1 0 0Z" fill="#2fa144"/><path d="M2.4 -1.2 C6.0 -4.7 13.7 -4.5 18.5 -0.6 C13.3 -1.9 6.8 -1.9 2.4 -1.2Z" fill="#5cc060" opacity="0.75"/></g><g transform="translate(508.9 145.9) rotate(108)"><path d="M0 0 C4.0 -5.8 14.6 -5.3 20.2 0 C14.6 5.3 4.0 5.8 0 0Z" fill="#2fa144"/><path d="M2.4 -1.1 C6.1 -4.4 13.7 -4.2 18.6 -0.5 C13.3 -1.8 6.9 -1.8 2.4 -1.1Z" fill="#5cc060" opacity="0.75"/></g><g transform="translate(505.4 126.6) rotate(-130)"><path d="M0 0 C3.7 -5.9 13.2 -5.4 18.3 0 C13.2 5.4 3.7 5.9 0 0Z" fill="#2fa144"/><path d="M2.2 -1.1 C5.5 -4.5 12.5 -4.3 16.9 -0.5 C12.1 -1.8 6.2 -1.8 2.2 -1.1Z" fill="#5cc060" opacity="0.75"/></g><g transform="translate(531.1 118.4) rotate(-80)"><path d="M0 0 C3.9 -5.9 13.9 -5.4 19.4 0 C13.9 5.4 3.9 5.9 0 0Z" fill="#2fa144"/><path d="M2.3 -1.1 C5.8 -4.5 13.2 -4.3 17.8 -0.5 C12.8 -1.8 6.6 -1.8 2.3 -1.1Z" fill="#5cc060" opacity="0.75"/></g><g transform="translate(527.0 138.7) rotate(36)"><path d="M0 0 C3.5 -6.2 12.8 -5.7 17.7 0 C12.8 5.7 3.5 6.2 0 0Z" fill="#2fa144"/><path d="M2.1 -1.2 C5.3 -4.8 12.1 -4.5 16.3 -0.6 C11.7 -1.9 6.0 -1.9 2.1 -1.2Z" fill="#5cc060" opacity="0.75"/></g><g transform="translate(531.2 139.1) rotate(55)"><path d="M0 0 C3.2 -6.3 11.3 -5.8 15.8 0 C11.3 5.8 3.2 6.3 0 0Z" fill="#4cb848"/><path d="M1.9 -1.2 C4.7 -4.8 10.7 -4.6 14.5 -0.6 C10.4 -1.9 5.4 -1.9 1.9 -1.2Z" fill="#8ad873" opacity="0.75"/></g><g transform="translate(523.5 131.4) rotate(305)"><path d="M0 0 C3.8 -6.0 13.8 -5.5 19.2 0 C13.8 5.5 3.8 6.0 0 0Z" fill="#0e7635"/><path d="M2.3 -1.2 C5.7 -4.6 13.0 -4.4 17.6 -0.6 C12.6 -1.8 6.5 -1.8 2.3 -1.2Z" fill="#2c9c4a" opacity="0.75"/></g><g transform="translate(521.5 133.1) rotate(205)"><path d="M0 0 C3.6 -6.9 13.1 -6.3 18.1 0 C13.1 6.3 3.6 6.9 0 0Z" fill="#0e7635"/><path d="M2.2 -1.3 C5.4 -5.3 12.3 -5.0 16.7 -0.6 C12.0 -2.1 6.2 -2.1 2.2 -1.3Z" fill="#2c9c4a" opacity="0.75"/></g><g transform="translate(509.0 131.0) rotate(182)"><path d="M0 0 C3.5 -6.0 12.6 -5.6 17.5 0 C12.6 5.6 3.5 6.0 0 0Z" fill="#2fa144"/><path d="M2.1 -1.2 C5.3 -4.6 11.9 -4.4 16.1 -0.6 C11.6 -1.9 6.0 -1.9 2.1 -1.2Z" fill="#5cc060" opacity="0.75"/></g><g transform="translate(516.1 133.6) rotate(215)"><path d="M0 0 C3.5 -7.0 12.5 -6.4 17.3 0 C12.5 6.4 3.5 7.0 0 0Z" fill="#4cb848"/><path d="M2.1 -1.3 C5.2 -5.4 11.8 -5.1 15.9 -0.6 C11.4 -2.1 5.9 -2.1 2.1 -1.3Z" fill="#8ad873" opacity="0.75"/></g><g transform="translate(530.5 137.8) rotate(5)"><path d="M0 0 C3.2 -6.6 11.7 -6.1 16.2 0 C11.7 6.1 3.2 6.6 0 0Z" fill="#2fa144"/><path d="M1.9 -1.3 C4.9 -5.1 11.0 -4.8 14.9 -0.6 C10.7 -2.0 5.5 -2.0 1.9 -1.3Z" fill="#5cc060" opacity="0.75"/></g>
<g transform="translate(352.8 132.3) rotate(-95)"><path d="M0 0 C3.8 -6.2 13.6 -5.7 18.9 0 C13.6 5.7 3.8 6.2 0 0Z" fill="#2fa144"/><path d="M2.3 -1.2 C5.7 -4.8 12.8 -4.5 17.4 -0.6 C12.5 -1.9 6.4 -1.9 2.3 -1.2Z" fill="#5cc060" opacity="0.75"/></g><g transform="translate(352.8 132.3) rotate(-203)"><path d="M0 0 C3.9 -6.2 14.1 -5.7 19.6 0 C14.1 5.7 3.9 6.2 0 0Z" fill="#4cb848"/><path d="M2.4 -1.2 C5.9 -4.8 13.3 -4.5 18.0 -0.6 C12.9 -1.9 6.7 -1.9 2.4 -1.2Z" fill="#8ad873" opacity="0.75"/></g><g transform="translate(344.1 127.5) rotate(-106)"><path d="M0 0 C3.9 -6.2 14.1 -5.7 19.5 0 C14.1 5.7 3.9 6.2 0 0Z" fill="#4cb848"/><path d="M2.3 -1.2 C5.9 -4.8 13.3 -4.5 18.0 -0.6 C12.9 -1.9 6.6 -1.9 2.3 -1.2Z" fill="#8ad873" opacity="0.75"/></g><g transform="translate(344.1 127.5) rotate(-201)"><path d="M0 0 C3.6 -6.2 12.9 -5.7 17.9 0 C12.9 5.7 3.6 6.2 0 0Z" fill="#2fa144"/><path d="M2.1 -1.2 C5.4 -4.8 12.2 -4.5 16.4 -0.6 C11.8 -1.9 6.1 -1.9 2.1 -1.2Z" fill="#5cc060" opacity="0.75"/></g><g transform="translate(334.6 124.4) rotate(-107)"><path d="M0 0 C3.7 -6.2 13.3 -5.7 18.5 0 C13.3 5.7 3.7 6.2 0 0Z" fill="#2fa144"/><path d="M2.2 -1.2 C5.6 -4.8 12.6 -4.5 17.1 -0.6 C12.2 -1.9 6.3 -1.9 2.2 -1.2Z" fill="#5cc060" opacity="0.75"/></g><g transform="translate(334.6 124.4) rotate(-224)"><path d="M0 0 C3.3 -6.2 12.0 -5.7 16.6 0 C12.0 5.7 3.3 6.2 0 0Z" fill="#4cb848"/><path d="M2.0 -1.2 C5.0 -4.8 11.3 -4.5 15.3 -0.6 C11.0 -1.9 5.6 -1.9 2.0 -1.2Z" fill="#8ad873" opacity="0.75"/></g><g transform="translate(329.0 123.0) rotate(-166)"><path d="M0 0 C4.0 -6.2 14.5 -5.7 20.2 0 C14.5 5.7 4.0 6.2 0 0Z" fill="#4cb848"/><path d="M2.4 -1.2 C6.0 -4.8 13.7 -4.5 18.5 -0.6 C13.3 -1.9 6.9 -1.9 2.4 -1.2Z" fill="#8ad873" opacity="0.75"/></g>
<g transform="translate(351.8 153.7) rotate(219)"><path d="M0 0 C3.6 -5.9 13.0 -5.4 18.1 0 C13.0 5.4 3.6 5.9 0 0Z" fill="#2fa144"/><path d="M2.2 -1.1 C5.4 -4.5 12.3 -4.3 16.6 -0.5 C11.9 -1.8 6.2 -1.8 2.2 -1.1Z" fill="#5cc060" opacity="0.75"/></g><g transform="translate(351.8 153.7) rotate(103)"><path d="M0 0 C3.2 -5.9 11.7 -5.4 16.2 0 C11.7 5.4 3.2 5.9 0 0Z" fill="#4cb848"/><path d="M1.9 -1.1 C4.9 -4.5 11.0 -4.3 14.9 -0.5 C10.7 -1.8 5.5 -1.8 1.9 -1.1Z" fill="#8ad873" opacity="0.75"/></g><g transform="translate(343.7 157.4) rotate(193)"><path d="M0 0 C3.5 -5.9 12.6 -5.4 17.6 0 C12.6 5.4 3.5 5.9 0 0Z" fill="#4cb848"/><path d="M2.1 -1.1 C5.3 -4.5 11.9 -4.3 16.1 -0.5 C11.6 -1.8 6.0 -1.8 2.1 -1.1Z" fill="#8ad873" opacity="0.75"/></g><g transform="translate(343.7 157.4) rotate(94)"><path d="M0 0 C3.6 -5.9 12.9 -5.4 17.9 0 C12.9 5.4 3.6 5.9 0 0Z" fill="#2fa144"/><path d="M2.1 -1.1 C5.4 -4.5 12.2 -4.3 16.5 -0.5 C11.8 -1.8 6.1 -1.8 2.1 -1.1Z" fill="#5cc060" opacity="0.75"/></g><g transform="translate(338.0 161.0) rotate(148)"><path d="M0 0 C3.8 -5.9 13.7 -5.4 19.0 0 C13.7 5.4 3.8 5.9 0 0Z" fill="#4cb848"/><path d="M2.3 -1.1 C5.7 -4.5 12.9 -4.3 17.5 -0.5 C12.6 -1.8 6.5 -1.8 2.3 -1.1Z" fill="#8ad873" opacity="0.75"/></g>
<g transform="translate(357.5 198.2) rotate(229)"><path d="M0 0 C3.3 -6.2 12.1 -5.7 16.7 0 C12.1 5.7 3.3 6.2 0 0Z" fill="#2fa144"/><path d="M2.0 -1.2 C5.0 -4.8 11.4 -4.5 15.4 -0.6 C11.1 -1.9 5.7 -1.9 2.0 -1.2Z" fill="#5cc060" opacity="0.75"/></g><g transform="translate(357.5 198.2) rotate(120)"><path d="M0 0 C3.3 -6.2 11.9 -5.7 16.5 0 C11.9 5.7 3.3 6.2 0 0Z" fill="#4cb848"/><path d="M2.0 -1.2 C4.9 -4.8 11.2 -4.5 15.1 -0.6 C10.9 -1.9 5.6 -1.9 2.0 -1.2Z" fill="#8ad873" opacity="0.75"/></g><g transform="translate(348.6 198.9) rotate(222)"><path d="M0 0 C3.5 -6.2 12.6 -5.7 17.5 0 C12.6 5.7 3.5 6.2 0 0Z" fill="#4cb848"/><path d="M2.1 -1.2 C5.3 -4.8 11.9 -4.5 16.1 -0.6 C11.6 -1.9 6.0 -1.9 2.1 -1.2Z" fill="#8ad873" opacity="0.75"/></g><g transform="translate(348.6 198.9) rotate(120)"><path d="M0 0 C3.6 -6.2 13.0 -5.7 18.0 0 C13.0 5.7 3.6 6.2 0 0Z" fill="#2fa144"/><path d="M2.2 -1.2 C5.4 -4.8 12.3 -4.5 16.6 -0.6 C11.9 -1.9 6.1 -1.9 2.2 -1.2Z" fill="#5cc060" opacity="0.75"/></g><g transform="translate(339.8 201.1) rotate(206)"><path d="M0 0 C3.6 -6.2 12.8 -5.7 17.8 0 C12.8 5.7 3.6 6.2 0 0Z" fill="#2fa144"/><path d="M2.1 -1.2 C5.3 -4.8 12.1 -4.5 16.3 -0.6 C11.7 -1.9 6.0 -1.9 2.1 -1.2Z" fill="#5cc060" opacity="0.75"/></g><g transform="translate(339.8 201.1) rotate(114)"><path d="M0 0 C3.3 -6.2 11.9 -5.7 16.5 0 C11.9 5.7 3.3 6.2 0 0Z" fill="#4cb848"/><path d="M2.0 -1.2 C5.0 -4.8 11.2 -4.5 15.2 -0.6 C10.9 -1.9 5.6 -1.9 2.0 -1.2Z" fill="#8ad873" opacity="0.75"/></g><g transform="translate(330.0 204.5) rotate(161)"><path d="M0 0 C4.0 -6.2 14.5 -5.7 20.2 0 C14.5 5.7 4.0 6.2 0 0Z" fill="#4cb848"/><path d="M2.4 -1.2 C6.0 -4.8 13.7 -4.5 18.5 -0.6 C13.3 -1.9 6.9 -1.9 2.4 -1.2Z" fill="#8ad873" opacity="0.75"/></g>
<g transform="translate(357.0 199.0) rotate(70)"><path d="M0 0 C3.7 -5.2 13.4 -4.8 18.6 0 C13.4 4.8 3.7 5.2 0 0Z" fill="#15873a"/><path d="M2.2 -1.0 C5.6 -4.0 12.6 -3.8 17.1 -0.5 C12.3 -1.6 6.3 -1.6 2.2 -1.0Z" fill="#2c9c4a" opacity="0.75"/></g><g transform="translate(367.0 199.0) rotate(-68)"><path d="M0 0 C3.5 -5.2 12.7 -4.8 17.7 0 C12.7 4.8 3.5 5.2 0 0Z" fill="#15873a"/><path d="M2.1 -1.0 C5.3 -4.0 12.0 -3.8 16.3 -0.5 C11.7 -1.6 6.0 -1.6 2.1 -1.0Z" fill="#2c9c4a" opacity="0.75"/></g><g transform="translate(377.0 199.2) rotate(70)"><path d="M0 0 C3.2 -5.2 11.6 -4.8 16.1 0 C11.6 4.8 3.2 5.2 0 0Z" fill="#4cb848"/><path d="M1.9 -1.0 C4.8 -4.0 11.0 -3.8 14.8 -0.5 C10.7 -1.6 5.5 -1.6 1.9 -1.0Z" fill="#8ad873" opacity="0.75"/></g><g transform="translate(387.0 199.7) rotate(-82)"><path d="M0 0 C3.2 -5.2 11.5 -4.8 16.0 0 C11.5 4.8 3.2 5.2 0 0Z" fill="#4cb848"/><path d="M1.9 -1.0 C4.8 -4.0 10.9 -3.8 14.7 -0.5 C10.6 -1.6 5.4 -1.6 1.9 -1.0Z" fill="#8ad873" opacity="0.75"/></g><g transform="translate(396.9 200.5) rotate(84)"><path d="M0 0 C3.4 -5.2 12.1 -4.8 16.9 0 C12.1 4.8 3.4 5.2 0 0Z" fill="#2fa144"/><path d="M2.0 -1.0 C5.1 -4.0 11.5 -3.8 15.5 -0.5 C11.1 -1.6 5.7 -1.6 2.0 -1.0Z" fill="#5cc060" opacity="0.75"/></g><g transform="translate(406.9 201.7) rotate(-68)"><path d="M0 0 C3.4 -5.2 12.2 -4.8 17.0 0 C12.2 4.8 3.4 5.2 0 0Z" fill="#2fa144"/><path d="M2.0 -1.0 C5.1 -4.0 11.5 -3.8 15.6 -0.5 C11.2 -1.6 5.8 -1.6 2.0 -1.0Z" fill="#5cc060" opacity="0.75"/></g>
</g>
<g fill="#c98d39" stroke="#a9721f" stroke-width="0.9" stroke-linejoin="round">
<path d="M491.8 412.1 L491.9 413.2 L492.0 414.5 L492.2 416.1 L492.3 417.9 L492.5 419.8 L492.7 421.8 L493.0 423.7 L493.3 425.4 L493.6 427.1 L494.0 429.0 L494.4 430.9 L494.9 432.8 L495.4 434.8 L495.9 436.7 L496.3 438.7 L496.8 440.6 L497.2 442.5 L497.7 444.2 L498.1 445.7 L498.6 447.2 L499.0 448.5 L499.3 449.7 L499.6 451.0 L499.8 452.3 L499.9 453.8 L499.9 455.3 L499.9 456.9 L499.9 458.5 L499.8 460.1 L499.7 461.8 L499.6 463.6 L499.5 465.4 L499.5 467.3 L499.4 469.4 L499.3 471.5 L499.3 473.7 L499.1 475.9 L499.0 478.1 L498.8 480.2 L498.6 482.1 L498.3 484.0 L497.9 485.8 L497.6 487.5 L497.1 489.2 L496.7 490.8 L496.2 492.5 L495.7 494.1 L495.3 495.8 L494.8 497.4 L494.3 499.1 L493.8 500.7 L493.2 502.4 L492.7 504.0 L492.2 505.7 L491.7 507.4 L491.3 509.0 L490.9 510.5 L490.7 511.9 L490.4 513.3 L490.3 514.7 L490.1 516.0 L490.0 517.3 L489.9 518.5 L489.9 519.8 L489.9 521.0 L490.0 522.2 L490.1 523.3 L490.2 524.4 L490.4 525.5 L490.6 526.6 L490.8 527.6 L491.1 528.7 L491.4 529.7 L491.7 530.7 L492.0 531.6 L492.4 532.5 L492.8 533.4 L493.3 534.3 L493.7 535.2 L494.3 536.3 L494.9 537.4 L495.6 538.7 L496.3 539.9 L497.1 541.1 L497.8 542.4 L498.5 543.6 L499.1 544.7 L499.6 545.8 L500.1 546.9 L500.5 548.1 L500.9 549.3 L501.3 550.5 L501.6 551.7 L501.9 552.9 L502.2 554.0 L502.5 555.2 L502.8 556.3 L503.0 557.5 L503.2 558.7 L503.4 559.9 L503.5 561.0 L503.7 562.0 L503.8 562.9 L503.9 563.5 L504.7 563.5 L504.8 562.8 L504.9 562.0 L505.0 561.0 L505.2 559.9 L505.3 558.6 L505.4 557.4 L505.5 556.1 L505.5 554.8 L505.5 553.6 L505.4 552.4 L505.4 551.1 L505.3 549.7 L505.2 548.4 L505.0 547.0 L504.7 545.6 L504.4 544.2 L503.9 542.7 L503.3 541.3 L502.6 539.9 L502.0 538.5 L501.3 537.2 L500.7 535.9 L500.2 534.8 L499.7 533.7 L499.4 532.8 L499.0 531.8 L498.7 531.0 L498.5 530.2 L498.3 529.5 L498.2 528.8 L498.0 528.1 L497.9 527.3 L497.9 526.5 L497.8 525.6 L497.8 524.8 L497.8 523.9 L497.8 523.1 L497.9 522.2 L498.0 521.2 L498.1 520.2 L498.2 519.2 L498.3 518.1 L498.5 517.0 L498.7 515.9 L498.9 514.8 L499.1 513.6 L499.4 512.3 L499.7 511.0 L500.1 509.7 L500.5 508.3 L501.0 506.7 L501.5 505.1 L502.1 503.4 L502.7 501.7 L503.2 500.0 L503.7 498.2 L504.2 496.5 L504.7 494.8 L505.1 493.1 L505.6 491.3 L506.0 489.6 L506.5 487.7 L506.9 485.8 L507.4 483.9 L507.9 481.8 L508.5 479.7 L509.1 477.5 L509.6 475.3 L510.2 473.0 L510.7 470.8 L511.1 468.7 L511.5 466.6 L511.7 464.6 L511.9 462.7 L512.0 460.8 L512.1 458.9 L512.2 457.1 L512.2 455.3 L512.2 453.5 L512.2 451.7 L512.2 449.9 L512.2 448.1 L512.1 446.5 L512.1 445.0 L512.0 443.5 L512.0 442.2 L512.1 440.8 L512.2 439.4 L512.4 437.8 L512.8 436.1 L513.1 434.3 L513.5 432.4 L513.9 430.4 L514.2 428.5 L514.5 426.5 L514.7 424.6 L514.9 422.6 L514.9 420.6 L514.9 418.6 L514.9 416.7 L514.9 414.9 L514.8 413.3 L514.8 411.9 L514.8 410.9Z"/>
<path d="M491.7 523.0 L491.5 523.7 L491.1 524.6 L490.7 525.7 L490.3 527.0 L489.8 528.3 L489.3 529.6 L488.8 531.0 L488.4 532.2 L487.9 533.5 L487.4 535.0 L486.8 536.5 L486.3 538.1 L485.8 539.6 L485.3 540.9 L484.9 542.0 L484.6 542.8 L485.4 543.2 L485.9 542.5 L486.5 541.5 L487.3 540.3 L488.2 539.0 L489.1 537.7 L490.0 536.3 L490.9 535.0 L491.6 533.8 L492.3 532.6 L493.0 531.3 L493.7 530.0 L494.4 528.8 L495.0 527.6 L495.5 526.5 L495.9 525.7 L496.3 525.0Z"/>
<path d="M496.1 411.3 L495.5 411.7 L494.8 412.3 L494.2 412.8 L493.6 413.4 L492.9 414.0 L492.0 414.6 L490.8 415.3 L489.4 416.0 L487.5 416.7 L485.2 417.5 L482.6 418.3 L479.7 419.2 L476.8 420.1 L473.9 420.9 L471.2 421.7 L468.8 422.5 L466.6 423.2 L464.4 423.9 L462.4 424.6 L460.5 425.2 L458.7 425.8 L457.0 426.3 L455.5 426.7 L454.2 427.1 L453.0 427.3 L451.9 427.5 L450.9 427.6 L450.0 427.7 L449.2 427.7 L448.4 427.7 L447.6 427.7 L446.9 427.8 L447.1 435.2 L447.6 435.3 L448.2 435.3 L449.1 435.3 L450.1 435.4 L451.3 435.4 L452.7 435.3 L454.2 435.2 L455.8 434.9 L457.5 434.6 L459.2 434.1 L461.0 433.6 L462.9 433.1 L464.9 432.5 L466.9 431.9 L469.0 431.3 L471.2 430.7 L473.6 430.1 L476.3 429.4 L479.2 428.6 L482.2 427.9 L485.1 427.1 L487.8 426.3 L490.4 425.7 L492.6 425.0 L494.5 424.4 L496.2 423.9 L497.7 423.3 L499.0 422.8 L500.1 422.4 L500.9 422.1 L501.5 421.9 L501.9 421.7Z"/>
<path d="M453.2 428.2 L452.3 427.9 L451.0 427.4 L449.5 426.8 L447.8 426.2 L446.1 425.5 L444.3 424.8 L442.5 424.2 L440.8 423.6 L439.3 423.2 L437.8 422.7 L436.2 422.2 L434.7 421.8 L433.2 421.4 L431.7 421.0 L430.1 420.6 L428.5 420.3 L426.9 419.9 L425.2 419.6 L423.5 419.3 L421.8 419.0 L420.2 418.7 L418.5 418.5 L416.9 418.2 L415.4 417.9 L413.9 417.7 L412.5 417.4 L411.1 417.2 L409.8 416.9 L408.4 416.7 L407.0 416.5 L405.6 416.2 L404.1 415.9 L402.4 415.7 L400.7 415.4 L398.9 415.0 L397.1 414.7 L395.3 414.4 L393.5 414.1 L391.8 413.9 L390.3 413.6 L388.8 413.4 L387.4 413.2 L386.1 413.0 L384.8 412.8 L383.6 412.7 L382.4 412.5 L381.3 412.4 L380.2 412.3 L379.0 412.2 L377.9 412.2 L376.8 412.1 L375.8 412.1 L374.9 412.1 L374.0 412.0 L373.3 412.0 L372.7 412.0 L372.7 412.6 L373.2 412.7 L373.9 412.9 L374.7 413.1 L375.6 413.3 L376.6 413.6 L377.7 413.8 L378.8 414.0 L379.8 414.3 L380.9 414.5 L382.0 414.8 L383.2 415.0 L384.4 415.2 L385.6 415.5 L386.9 415.8 L388.3 416.1 L389.7 416.4 L391.3 416.7 L392.9 417.1 L394.7 417.5 L396.5 417.9 L398.3 418.3 L400.0 418.7 L401.7 419.1 L403.3 419.5 L404.8 419.8 L406.3 420.1 L407.7 420.5 L409.0 420.8 L410.3 421.1 L411.7 421.4 L413.1 421.7 L414.6 422.1 L416.2 422.4 L417.8 422.7 L419.4 423.0 L421.1 423.3 L422.7 423.7 L424.3 424.0 L425.9 424.4 L427.5 424.7 L429.0 425.1 L430.5 425.5 L431.9 426.0 L433.4 426.4 L434.8 426.8 L436.3 427.3 L437.7 427.8 L439.2 428.4 L440.7 429.0 L442.3 429.7 L444.0 430.5 L445.7 431.3 L447.2 432.0 L448.7 432.7 L449.9 433.3 L450.8 433.8Z"/>
<path d="M451.3 428.1 L450.4 428.3 L449.1 428.6 L447.7 428.9 L446.1 429.3 L444.5 429.6 L442.8 429.9 L441.3 430.2 L439.9 430.3 L438.6 430.3 L437.3 430.3 L435.9 430.2 L434.5 430.0 L433.1 429.9 L431.6 429.6 L430.0 429.4 L428.4 429.2 L426.8 429.0 L425.2 428.8 L423.6 428.6 L422.0 428.4 L420.4 428.2 L418.8 428.0 L417.1 427.7 L415.5 427.4 L413.9 427.1 L412.2 426.8 L410.5 426.4 L408.7 425.9 L406.9 425.5 L405.1 425.2 L403.1 424.8 L401.1 424.6 L399.1 424.5 L397.0 424.4 L394.9 424.4 L392.8 424.5 L390.7 424.6 L388.7 424.7 L386.8 424.8 L384.9 424.9 L383.2 425.0 L381.6 425.1 L380.0 425.2 L378.5 425.4 L377.0 425.5 L375.5 425.7 L373.9 425.9 L372.2 426.1 L370.4 426.4 L368.5 426.8 L366.6 427.2 L364.6 427.6 L362.7 428.0 L360.9 428.4 L359.3 428.7 L357.8 428.9 L356.6 429.0 L355.4 429.1 L354.4 429.1 L353.5 429.1 L352.7 429.1 L351.9 429.0 L351.2 428.8 L350.4 428.7 L349.7 428.4 L349.1 428.2 L348.5 427.8 L347.9 427.5 L347.4 427.0 L346.9 426.6 L346.4 426.1 L345.9 425.7 L345.5 425.3 L345.1 424.7 L344.7 424.2 L344.4 423.6 L344.0 423.0 L343.8 422.4 L343.5 422.0 L343.3 421.6 L341.7 422.4 L341.8 422.7 L342.0 423.2 L342.2 423.8 L342.5 424.5 L342.8 425.2 L343.2 425.9 L343.6 426.6 L344.1 427.3 L344.6 427.9 L345.1 428.4 L345.7 429.0 L346.4 429.5 L347.1 430.1 L347.8 430.6 L348.7 431.0 L349.6 431.3 L350.5 431.6 L351.4 431.8 L352.3 432.0 L353.3 432.1 L354.4 432.2 L355.5 432.2 L356.8 432.2 L358.2 432.1 L359.7 431.9 L361.5 431.7 L363.4 431.4 L365.3 431.1 L367.3 430.7 L369.2 430.4 L371.0 430.1 L372.8 429.9 L374.4 429.7 L375.9 429.6 L377.4 429.4 L378.8 429.3 L380.3 429.3 L381.8 429.2 L383.4 429.1 L385.1 429.1 L386.9 429.1 L388.9 429.0 L390.9 429.0 L392.9 429.0 L394.9 429.0 L396.9 429.1 L398.8 429.2 L400.7 429.4 L402.4 429.6 L404.1 430.0 L405.8 430.4 L407.5 430.8 L409.3 431.3 L411.0 431.7 L412.7 432.2 L414.5 432.6 L416.2 432.9 L417.9 433.2 L419.6 433.5 L421.2 433.8 L422.9 434.0 L424.5 434.3 L426.0 434.5 L427.6 434.8 L429.1 435.0 L430.6 435.3 L432.1 435.7 L433.6 436.0 L435.2 436.2 L436.7 436.5 L438.4 436.6 L440.1 436.7 L441.9 436.6 L443.7 436.5 L445.6 436.2 L447.4 435.9 L449.1 435.6 L450.6 435.3 L451.8 435.1 L452.7 434.9Z"/>
<path d="M411.5 428.8 L411.0 429.3 L410.2 429.9 L409.4 430.7 L408.4 431.7 L407.4 432.6 L406.4 433.7 L405.4 434.7 L404.5 435.8 L403.8 437.0 L403.2 438.1 L402.7 439.3 L402.2 440.4 L401.8 441.4 L401.3 442.3 L400.7 443.1 L400.0 443.9 L399.1 444.6 L398.1 445.3 L397.0 446.0 L395.8 446.7 L394.4 447.3 L393.0 447.9 L391.4 448.5 L389.7 449.0 L387.8 449.6 L385.5 450.2 L383.0 450.7 L380.5 451.2 L378.0 451.7 L375.7 452.1 L373.8 452.4 L372.5 452.7 L372.5 453.3 L373.9 453.1 L375.9 452.9 L378.1 452.7 L380.7 452.4 L383.3 452.1 L385.8 451.8 L388.2 451.4 L390.3 451.0 L392.0 450.5 L393.7 450.0 L395.3 449.5 L396.8 449.0 L398.2 448.4 L399.5 447.7 L400.8 447.0 L402.0 446.1 L403.1 445.2 L404.0 444.1 L404.7 442.9 L405.3 441.8 L405.8 440.8 L406.3 439.8 L406.9 438.9 L407.5 438.2 L408.2 437.4 L409.2 436.6 L410.2 435.7 L411.2 434.8 L412.2 434.0 L413.1 433.3 L413.9 432.7 L414.5 432.2Z"/>
<path d="M492.5 418.5 L492.3 419.2 L492.0 420.0 L491.6 421.0 L491.2 422.1 L490.7 423.4 L490.2 424.9 L489.7 426.4 L489.1 428.1 L488.4 430.0 L487.8 432.1 L487.2 434.3 L486.6 436.4 L486.0 438.4 L485.3 440.3 L484.6 441.9 L483.8 443.2 L483.0 444.5 L482.0 445.7 L480.9 446.8 L479.7 447.8 L478.5 448.9 L477.1 449.8 L475.5 450.8 L473.9 451.7 L472.1 452.5 L470.0 453.3 L467.6 454.1 L465.0 454.9 L462.4 455.6 L459.8 456.3 L457.4 457.0 L455.2 457.7 L453.2 458.4 L451.5 459.0 L450.0 459.6 L448.6 460.1 L447.3 460.6 L446.1 461.1 L444.9 461.6 L443.7 462.0 L442.5 462.4 L441.3 462.9 L440.0 463.4 L438.8 463.8 L437.7 464.2 L436.6 464.6 L435.8 464.9 L435.1 465.1 L436.9 471.9 L437.6 471.8 L438.5 471.6 L439.6 471.4 L440.8 471.2 L442.1 471.0 L443.5 470.7 L444.9 470.4 L446.3 470.0 L447.6 469.6 L448.9 469.2 L450.3 468.8 L451.6 468.3 L453.0 467.9 L454.5 467.4 L456.1 466.8 L457.8 466.3 L459.8 465.7 L462.2 465.2 L464.7 464.5 L467.4 463.9 L470.2 463.1 L473.0 462.3 L475.6 461.4 L478.1 460.3 L480.3 459.2 L482.3 458.0 L484.2 456.8 L486.0 455.4 L487.7 453.9 L489.2 452.4 L490.7 450.7 L492.2 448.8 L493.5 446.6 L494.6 444.2 L495.6 441.8 L496.4 439.5 L497.1 437.2 L497.8 435.2 L498.4 433.4 L498.9 431.9 L499.6 430.6 L500.2 429.2 L500.9 428.0 L501.5 426.9 L502.1 425.8 L502.6 424.9 L503.1 424.1 L503.5 423.5Z"/>
<path d="M439.5 465.4 L438.5 465.3 L437.3 465.1 L435.8 464.8 L434.1 464.5 L432.2 464.2 L430.3 464.0 L428.4 463.8 L426.5 463.7 L424.6 463.7 L422.7 463.8 L420.7 464.0 L418.8 464.2 L416.8 464.4 L415.0 464.6 L413.3 464.9 L411.7 465.2 L410.3 465.5 L409.1 465.9 L408.0 466.3 L407.1 466.7 L406.2 467.1 L405.3 467.5 L404.4 467.9 L403.5 468.4 L402.6 468.9 L401.5 469.5 L400.5 470.1 L399.5 470.8 L398.5 471.4 L397.7 471.9 L397.0 472.4 L396.5 472.7 L396.7 473.3 L397.3 473.1 L398.1 472.8 L399.1 472.4 L400.1 472.0 L401.2 471.7 L402.3 471.3 L403.4 470.9 L404.5 470.6 L405.4 470.3 L406.3 470.0 L407.2 469.8 L408.1 469.5 L409.0 469.3 L409.9 469.1 L411.0 468.9 L412.3 468.8 L413.8 468.6 L415.4 468.5 L417.2 468.4 L419.1 468.3 L421.0 468.2 L422.8 468.2 L424.6 468.2 L426.3 468.3 L427.9 468.5 L429.6 468.7 L431.4 469.0 L433.1 469.4 L434.8 469.7 L436.3 470.1 L437.6 470.4 L438.5 470.6Z"/>
<path d="M437.1 466.4 L436.4 467.1 L435.4 468.1 L434.2 469.3 L432.9 470.5 L431.5 471.8 L430.1 473.0 L428.9 474.2 L427.8 475.1 L426.8 475.8 L425.8 476.5 L424.9 477.1 L424.0 477.7 L423.1 478.2 L422.2 478.7 L421.2 479.2 L420.2 479.7 L419.2 480.1 L418.2 480.6 L417.2 481.0 L416.2 481.4 L415.2 481.7 L414.1 482.1 L412.9 482.5 L411.7 482.8 L410.3 483.2 L408.9 483.6 L407.4 484.0 L405.8 484.3 L404.2 484.7 L402.7 485.0 L401.2 485.3 L399.9 485.6 L398.6 485.9 L397.2 486.1 L395.9 486.4 L394.7 486.6 L393.5 486.8 L392.5 486.9 L391.6 487.1 L391.0 487.2 L391.0 487.8 L391.7 487.8 L392.6 487.8 L393.6 487.7 L394.8 487.7 L396.1 487.7 L397.4 487.6 L398.8 487.5 L400.1 487.4 L401.5 487.3 L403.0 487.1 L404.6 486.9 L406.2 486.7 L407.8 486.5 L409.4 486.3 L410.9 486.0 L412.3 485.8 L413.7 485.5 L414.9 485.3 L416.1 485.0 L417.3 484.7 L418.4 484.4 L419.5 484.1 L420.6 483.7 L421.8 483.3 L422.9 482.9 L424.0 482.5 L425.0 482.0 L426.1 481.6 L427.2 481.0 L428.3 480.4 L429.4 479.7 L430.6 478.9 L431.9 478.0 L433.4 476.9 L434.9 475.7 L436.4 474.4 L437.8 473.2 L439.0 472.1 L440.1 471.2 L440.9 470.6Z"/>
<path d="M498.2 458.6 L498.0 459.5 L497.6 460.5 L497.2 461.8 L496.8 463.1 L496.3 464.4 L495.8 465.7 L495.3 467.0 L494.7 468.1 L494.1 469.2 L493.3 470.3 L492.4 471.6 L491.4 472.8 L490.4 474.1 L489.4 475.3 L488.4 476.5 L487.4 477.7 L486.5 478.7 L485.6 479.7 L484.7 480.6 L483.8 481.5 L482.9 482.4 L482.0 483.3 L481.0 484.2 L480.1 485.2 L479.2 486.2 L478.2 487.2 L477.3 488.1 L476.4 489.1 L475.5 490.0 L474.6 490.9 L473.7 491.8 L472.9 492.6 L472.0 493.4 L471.1 494.2 L470.1 495.0 L469.2 495.8 L468.2 496.5 L467.4 497.1 L466.7 497.7 L466.2 498.1 L469.8 502.9 L470.4 502.5 L471.1 502.0 L471.9 501.4 L472.9 500.7 L473.9 499.9 L475.0 499.1 L476.1 498.2 L477.1 497.4 L478.1 496.5 L479.1 495.6 L480.1 494.7 L481.1 493.8 L482.0 492.8 L483.0 491.9 L484.0 490.9 L484.9 490.0 L485.8 489.1 L486.8 488.2 L487.7 487.3 L488.6 486.4 L489.6 485.5 L490.6 484.5 L491.6 483.4 L492.6 482.3 L493.6 481.2 L494.7 480.0 L495.9 478.8 L497.0 477.5 L498.2 476.1 L499.3 474.8 L500.3 473.4 L501.3 471.9 L502.1 470.4 L502.9 468.8 L503.6 467.2 L504.2 465.7 L504.7 464.3 L505.1 463.1 L505.5 462.1 L505.8 461.4Z"/>
<path d="M470.2 497.7 L469.3 497.6 L468.1 497.5 L466.6 497.4 L464.9 497.2 L463.1 497.1 L461.3 497.0 L459.6 497.0 L458.0 497.0 L456.5 497.1 L455.0 497.2 L453.5 497.4 L452.1 497.6 L450.7 497.9 L449.3 498.2 L447.9 498.5 L446.6 498.9 L445.3 499.2 L444.1 499.7 L442.9 500.1 L441.8 500.6 L440.7 501.1 L439.6 501.6 L438.4 502.1 L437.2 502.7 L435.8 503.3 L434.4 504.0 L433.0 504.6 L431.5 505.3 L430.0 506.0 L428.5 506.8 L427.1 507.5 L425.6 508.2 L424.2 508.9 L422.6 509.7 L421.1 510.5 L419.5 511.3 L418.1 512.1 L416.8 512.7 L415.7 513.3 L414.9 513.7 L415.1 514.3 L416.0 513.9 L417.1 513.5 L418.5 512.9 L420.0 512.3 L421.6 511.7 L423.2 511.0 L424.9 510.4 L426.4 509.8 L427.8 509.3 L429.3 508.7 L430.9 508.1 L432.4 507.5 L433.9 506.9 L435.4 506.3 L436.9 505.8 L438.2 505.3 L439.5 504.8 L440.7 504.3 L441.9 503.9 L443.0 503.5 L444.1 503.1 L445.1 502.7 L446.2 502.4 L447.4 502.1 L448.7 501.9 L449.9 501.7 L451.3 501.5 L452.6 501.3 L453.9 501.2 L455.3 501.1 L456.7 501.0 L458.0 501.0 L459.5 501.1 L461.1 501.2 L462.8 501.4 L464.5 501.6 L466.1 501.8 L467.6 502.0 L468.8 502.2 L469.8 502.3Z"/>
<path d="M466.9 499.1 L466.5 499.8 L465.9 500.7 L465.1 501.8 L464.3 503.1 L463.5 504.4 L462.7 505.7 L461.9 506.9 L461.1 508.1 L460.4 509.1 L459.7 510.3 L459.0 511.4 L458.4 512.6 L457.7 513.6 L457.2 514.5 L456.7 515.3 L456.3 515.9 L459.7 518.1 L460.1 517.5 L460.6 516.7 L461.2 515.8 L461.9 514.8 L462.6 513.8 L463.4 512.7 L464.1 511.6 L464.9 510.5 L465.6 509.5 L466.5 508.3 L467.4 507.0 L468.3 505.8 L469.1 504.6 L469.9 503.5 L470.6 502.6 L471.1 501.9Z"/>
<path d="M458.0 515.2 L457.3 515.8 L456.4 516.5 L455.2 517.4 L454.0 518.4 L452.7 519.4 L451.5 520.3 L450.3 521.1 L449.3 521.8 L448.5 522.3 L447.8 522.6 L447.2 522.9 L446.6 523.1 L445.9 523.4 L445.1 523.6 L444.2 523.9 L443.1 524.2 L441.7 524.7 L440.2 525.2 L438.6 525.7 L436.9 526.2 L435.2 526.8 L433.4 527.3 L431.6 527.8 L429.8 528.2 L428.0 528.6 L425.9 529.0 L423.8 529.4 L421.6 529.7 L419.5 530.0 L417.7 530.3 L416.1 530.6 L415.0 530.8 L415.0 531.2 L416.2 531.1 L417.8 531.0 L419.6 530.9 L421.7 530.7 L423.9 530.5 L426.1 530.3 L428.2 530.1 L430.2 529.8 L432.0 529.5 L433.8 529.1 L435.7 528.7 L437.5 528.2 L439.2 527.8 L440.9 527.3 L442.4 526.9 L443.7 526.6 L444.9 526.3 L445.8 526.0 L446.6 525.8 L447.4 525.6 L448.1 525.4 L448.9 525.1 L449.7 524.7 L450.7 524.2 L451.8 523.5 L453.1 522.7 L454.5 521.8 L455.8 520.8 L457.1 519.9 L458.3 519.0 L459.2 518.3 L460.0 517.8Z"/>
<path d="M456.6 516.1 L456.5 517.0 L456.3 518.1 L456.0 519.4 L455.7 520.9 L455.4 522.4 L455.1 524.0 L454.8 525.4 L454.5 526.7 L454.3 527.8 L454.1 528.9 L454.0 529.9 L453.8 530.9 L453.7 531.8 L453.5 532.7 L453.2 533.6 L452.9 534.5 L452.5 535.5 L452.0 536.5 L451.5 537.6 L450.9 538.7 L450.3 539.7 L449.7 540.7 L449.0 541.7 L448.4 542.5 L447.8 543.3 L447.1 544.1 L446.3 544.9 L445.6 545.6 L444.9 546.3 L444.2 546.9 L443.7 547.4 L443.2 547.8 L443.6 548.2 L444.0 547.9 L444.6 547.4 L445.4 546.9 L446.2 546.4 L447.1 545.7 L447.9 545.0 L448.8 544.3 L449.6 543.5 L450.3 542.6 L451.1 541.7 L451.8 540.7 L452.6 539.7 L453.3 538.7 L453.9 537.6 L454.6 536.5 L455.1 535.5 L455.6 534.4 L455.9 533.4 L456.2 532.4 L456.5 531.4 L456.7 530.4 L457.0 529.4 L457.2 528.4 L457.5 527.3 L457.8 526.1 L458.1 524.6 L458.5 523.1 L458.9 521.6 L459.2 520.1 L459.5 518.8 L459.8 517.7 L460.0 516.9Z"/>
<path d="M504.7 422.0 L505.5 422.3 L506.6 422.6 L507.9 422.9 L509.3 423.3 L510.8 423.8 L512.3 424.2 L513.8 424.6 L515.1 425.0 L516.2 425.3 L517.3 425.6 L518.3 425.9 L519.3 426.2 L520.2 426.5 L521.3 426.8 L522.4 427.2 L523.5 427.5 L524.8 427.9 L526.1 428.4 L527.5 428.9 L528.9 429.5 L530.5 430.0 L532.2 430.5 L533.9 431.0 L535.8 431.5 L537.7 431.9 L539.7 432.2 L541.7 432.6 L543.8 432.9 L545.9 433.2 L547.9 433.4 L549.8 433.6 L551.6 433.8 L553.3 433.9 L555.1 434.0 L556.8 434.0 L558.4 434.0 L559.8 434.0 L561.1 434.0 L562.1 434.0 L562.9 434.0 L563.1 427.0 L562.3 427.0 L561.2 426.9 L559.9 426.8 L558.6 426.8 L557.1 426.7 L555.5 426.6 L554.0 426.4 L552.4 426.2 L550.7 426.0 L548.9 425.7 L546.9 425.5 L545.0 425.2 L543.0 424.8 L541.1 424.5 L539.3 424.1 L537.6 423.7 L536.1 423.3 L534.7 422.8 L533.3 422.3 L531.9 421.7 L530.5 421.1 L529.1 420.6 L527.8 420.0 L526.5 419.5 L525.3 419.0 L524.2 418.6 L523.2 418.2 L522.3 417.8 L521.4 417.4 L520.5 417.0 L519.6 416.5 L518.5 416.0 L517.4 415.4 L516.1 414.8 L514.8 414.0 L513.5 413.3 L512.2 412.6 L511.0 411.9 L510.0 411.4 L509.3 411.0Z"/>
<path d="M560.6 432.9 L561.2 432.8 L562.0 432.6 L563.1 432.3 L564.2 432.0 L565.4 431.7 L566.6 431.4 L567.7 431.0 L568.7 430.7 L569.7 430.3 L570.4 429.9 L571.0 429.5 L571.5 429.2 L572.0 428.9 L572.5 428.6 L573.1 428.3 L574.0 428.0 L575.3 427.7 L576.8 427.3 L578.4 427.0 L580.2 426.6 L582.0 426.3 L583.8 425.9 L585.6 425.6 L587.3 425.3 L588.8 425.0 L590.3 424.7 L591.7 424.5 L593.1 424.2 L594.5 424.0 L595.9 423.8 L597.4 423.6 L599.1 423.5 L600.8 423.4 L602.7 423.3 L604.7 423.3 L606.8 423.3 L608.8 423.3 L610.9 423.3 L612.9 423.4 L614.9 423.5 L616.9 423.6 L619.1 423.8 L621.2 424.0 L623.4 424.3 L625.4 424.5 L627.3 424.8 L628.8 425.0 L630.0 425.1 L630.0 424.5 L628.9 424.3 L627.4 423.9 L625.6 423.5 L623.6 423.1 L621.5 422.6 L619.3 422.2 L617.1 421.8 L615.1 421.5 L613.1 421.3 L611.0 421.1 L609.0 420.9 L606.9 420.7 L604.8 420.6 L602.7 420.5 L600.8 420.5 L598.9 420.5 L597.2 420.5 L595.6 420.6 L594.1 420.8 L592.6 420.9 L591.2 421.1 L589.7 421.3 L588.3 421.5 L586.7 421.7 L585.0 421.9 L583.2 422.2 L581.4 422.5 L579.5 422.8 L577.7 423.1 L575.9 423.4 L574.4 423.7 L573.0 424.0 L571.8 424.3 L570.8 424.7 L569.9 425.0 L569.3 425.4 L568.7 425.7 L568.3 425.9 L567.8 426.1 L567.3 426.3 L566.4 426.6 L565.4 426.8 L564.3 427.1 L563.1 427.3 L562.0 427.5 L560.9 427.7 L560.1 427.9 L559.4 428.1Z"/>
<path d="M559.8 433.8 L561.0 433.8 L562.6 433.9 L564.5 434.0 L566.5 434.1 L568.7 434.2 L570.9 434.3 L572.9 434.4 L574.8 434.5 L576.5 434.6 L578.0 434.7 L579.5 434.8 L581.0 434.9 L582.4 435.1 L583.9 435.3 L585.5 435.5 L587.3 435.8 L589.3 436.1 L591.6 436.6 L594.1 437.1 L596.6 437.7 L599.1 438.2 L601.3 438.7 L603.2 439.1 L604.5 439.4 L605.5 435.6 L604.1 435.2 L602.3 434.7 L600.1 434.1 L597.6 433.5 L595.1 432.9 L592.6 432.2 L590.2 431.7 L588.1 431.2 L586.3 430.9 L584.6 430.6 L583.0 430.4 L581.5 430.2 L580.0 430.0 L578.4 429.8 L576.9 429.7 L575.2 429.5 L573.3 429.3 L571.2 429.1 L569.1 428.9 L566.9 428.7 L564.8 428.6 L562.9 428.4 L561.3 428.3 L560.2 428.2Z"/>
<path d="M602.6 438.9 L603.4 439.0 L604.5 439.2 L605.7 439.5 L607.1 439.8 L608.6 440.1 L610.0 440.4 L611.4 440.7 L612.6 441.0 L613.8 441.2 L614.8 441.5 L615.9 441.7 L616.9 441.9 L618.0 442.2 L619.0 442.4 L620.2 442.7 L621.4 443.0 L622.7 443.2 L624.1 443.6 L625.5 443.9 L626.9 444.2 L628.4 444.5 L629.9 444.8 L631.4 445.1 L632.9 445.3 L634.4 445.5 L636.0 445.6 L637.7 445.8 L639.3 445.9 L640.9 446.0 L642.3 446.1 L643.5 446.2 L644.4 446.2 L644.4 445.8 L643.6 445.6 L642.4 445.4 L641.0 445.2 L639.5 444.9 L637.8 444.6 L636.2 444.3 L634.6 444.0 L633.1 443.7 L631.7 443.4 L630.3 443.0 L628.9 442.6 L627.4 442.2 L626.0 441.8 L624.6 441.4 L623.3 441.0 L622.0 440.6 L620.8 440.3 L619.7 440.0 L618.7 439.6 L617.6 439.3 L616.6 439.0 L615.6 438.7 L614.5 438.4 L613.4 438.0 L612.1 437.7 L610.7 437.4 L609.3 437.0 L607.8 436.6 L606.4 436.3 L605.2 436.0 L604.2 435.7 L603.4 435.5Z"/>
<path d="M602.8 438.7 L603.2 439.1 L603.8 439.7 L604.4 440.3 L605.1 441.1 L605.9 441.8 L606.6 442.6 L607.3 443.3 L608.0 443.9 L608.5 444.5 L609.0 445.1 L609.5 445.6 L610.0 446.1 L610.5 446.6 L611.0 447.1 L611.5 447.6 L612.1 448.2 L612.7 448.8 L613.3 449.5 L614.0 450.1 L614.7 450.8 L615.4 451.5 L616.0 452.2 L616.7 452.9 L617.4 453.5 L618.1 454.2 L618.9 455.0 L619.7 455.8 L620.4 456.6 L621.2 457.3 L621.8 458.0 L622.4 458.5 L622.8 459.0 L623.2 458.6 L622.8 458.2 L622.4 457.5 L621.8 456.8 L621.2 455.9 L620.5 455.0 L619.9 454.1 L619.2 453.3 L618.6 452.5 L618.0 451.7 L617.4 451.0 L616.8 450.2 L616.2 449.4 L615.6 448.7 L615.0 448.0 L614.4 447.3 L613.9 446.6 L613.4 446.0 L612.9 445.4 L612.4 444.8 L612.0 444.3 L611.5 443.8 L611.0 443.2 L610.6 442.7 L610.0 442.1 L609.4 441.4 L608.8 440.6 L608.1 439.8 L607.4 439.0 L606.7 438.2 L606.1 437.5 L605.6 436.9 L605.2 436.5Z"/>
<path d="M503.5 423.5 L504.0 424.3 L504.5 425.4 L505.2 426.7 L506.0 428.2 L506.8 429.8 L507.7 431.4 L508.5 433.0 L509.2 434.3 L509.9 435.5 L510.5 436.7 L511.1 437.8 L511.7 438.9 L512.4 440.0 L513.1 441.2 L513.9 442.4 L514.8 443.8 L515.8 445.2 L516.9 446.7 L518.1 448.3 L519.3 450.0 L520.6 451.6 L521.9 453.2 L523.1 454.7 L524.3 456.1 L525.5 457.4 L526.7 458.7 L527.8 459.9 L529.0 461.1 L530.2 462.2 L531.4 463.3 L532.6 464.3 L533.9 465.3 L535.2 466.2 L536.4 466.9 L537.7 467.6 L538.9 468.2 L540.1 468.7 L541.2 469.1 L542.3 469.5 L543.3 470.0 L544.5 470.4 L545.6 470.9 L546.8 471.3 L548.0 471.7 L549.3 472.1 L550.5 472.5 L551.8 472.8 L553.0 473.1 L554.3 473.3 L555.6 473.5 L556.9 473.6 L558.1 473.7 L559.3 473.8 L560.4 473.8 L561.5 473.9 L562.6 474.0 L563.6 474.0 L564.7 474.1 L565.6 474.1 L566.5 474.1 L567.4 474.1 L568.2 474.2 L569.0 474.3 L570.0 474.4 L571.0 474.6 L572.0 474.9 L573.1 475.2 L574.2 475.5 L575.4 475.9 L576.5 476.3 L577.7 476.7 L578.9 477.2 L580.1 477.8 L581.5 478.5 L582.9 479.2 L584.3 480.0 L585.7 480.7 L587.0 481.5 L588.3 482.3 L589.5 483.0 L590.5 483.6 L591.4 484.2 L592.3 484.9 L593.1 485.5 L593.9 486.1 L594.7 486.7 L595.5 487.3 L596.3 487.8 L597.1 488.4 L597.9 489.0 L598.7 489.5 L599.5 490.1 L600.2 490.6 L600.8 491.0 L601.4 491.4 L601.8 491.7 L602.2 491.3 L601.9 490.9 L601.4 490.4 L600.9 489.8 L600.3 489.1 L599.7 488.4 L599.1 487.6 L598.4 486.9 L597.7 486.2 L597.1 485.5 L596.4 484.8 L595.8 484.0 L595.1 483.3 L594.3 482.5 L593.5 481.7 L592.5 480.9 L591.5 480.0 L590.4 479.2 L589.2 478.2 L587.9 477.3 L586.6 476.3 L585.2 475.3 L583.8 474.4 L582.4 473.5 L581.1 472.8 L579.9 472.1 L578.6 471.4 L577.4 470.8 L576.1 470.3 L574.9 469.8 L573.7 469.4 L572.6 469.0 L571.4 468.6 L570.3 468.3 L569.2 468.0 L568.1 467.8 L567.1 467.6 L566.2 467.5 L565.3 467.4 L564.4 467.2 L563.4 467.0 L562.4 466.8 L561.2 466.6 L560.1 466.4 L559.0 466.3 L558.0 466.0 L556.9 465.8 L555.9 465.6 L555.0 465.3 L554.0 465.0 L553.0 464.7 L551.9 464.3 L550.9 463.9 L549.8 463.4 L548.8 463.0 L547.7 462.5 L546.7 462.0 L545.6 461.6 L544.5 461.1 L543.6 460.6 L542.7 460.2 L541.8 459.8 L541.0 459.3 L540.1 458.7 L539.3 458.1 L538.5 457.4 L537.6 456.5 L536.6 455.6 L535.7 454.6 L534.7 453.5 L533.7 452.4 L532.7 451.1 L531.7 449.9 L530.6 448.6 L529.5 447.2 L528.3 445.6 L527.2 444.1 L526.1 442.5 L525.0 441.0 L524.0 439.6 L523.2 438.2 L522.4 437.1 L521.8 436.0 L521.3 435.0 L520.8 434.0 L520.3 433.0 L519.8 432.0 L519.3 430.9 L518.8 429.7 L518.2 428.3 L517.6 426.8 L517.0 425.2 L516.4 423.6 L515.8 422.1 L515.3 420.7 L514.8 419.5 L514.5 418.5Z"/>
<path d="M549.9 469.9 L550.1 470.4 L550.5 471.1 L550.9 472.0 L551.3 472.9 L551.8 473.9 L552.3 474.9 L552.8 475.8 L553.2 476.7 L553.6 477.4 L554.0 478.1 L554.4 478.8 L554.8 479.4 L555.2 480.1 L555.7 480.7 L556.1 481.4 L556.6 482.0 L557.1 482.6 L557.6 483.2 L558.2 483.8 L558.7 484.4 L559.2 484.9 L559.8 485.5 L560.4 486.1 L561.0 486.6 L561.6 487.2 L562.2 487.9 L562.9 488.5 L563.6 489.2 L564.3 489.8 L565.0 490.4 L565.7 491.0 L566.4 491.6 L567.1 492.2 L567.9 492.8 L568.7 493.4 L569.4 494.0 L570.2 494.6 L570.9 495.1 L571.4 495.5 L571.8 495.8 L572.2 495.4 L571.8 495.0 L571.3 494.5 L570.8 493.9 L570.2 493.2 L569.5 492.5 L568.9 491.8 L568.2 491.0 L567.6 490.4 L567.1 489.7 L566.5 489.0 L565.9 488.3 L565.3 487.6 L564.7 486.8 L564.1 486.1 L563.6 485.4 L563.0 484.8 L562.5 484.1 L562.0 483.5 L561.5 482.9 L561.1 482.3 L560.6 481.7 L560.2 481.2 L559.8 480.6 L559.4 480.0 L559.0 479.4 L558.7 478.8 L558.4 478.2 L558.0 477.6 L557.7 477.0 L557.4 476.3 L557.1 475.6 L556.8 474.9 L556.5 474.1 L556.1 473.2 L555.7 472.2 L555.3 471.2 L554.9 470.3 L554.6 469.4 L554.3 468.6 L554.1 468.1Z"/>
<path d="M504.4 457.8 L504.9 458.8 L505.6 460.1 L506.5 461.6 L507.3 463.2 L508.2 464.9 L509.1 466.6 L509.9 468.2 L510.5 469.5 L511.0 470.7 L511.4 471.7 L511.8 472.7 L512.1 473.6 L512.4 474.6 L512.7 475.6 L513.0 476.7 L513.4 477.9 L513.7 479.2 L514.1 480.7 L514.4 482.2 L514.8 483.8 L515.1 485.5 L515.5 487.2 L515.9 488.9 L516.3 490.6 L516.7 492.3 L517.1 494.0 L517.5 495.7 L517.9 497.4 L518.4 499.1 L518.8 500.9 L519.3 502.6 L519.8 504.2 L520.3 505.9 L520.9 507.5 L521.4 509.2 L522.0 510.8 L522.6 512.3 L523.2 513.9 L523.8 515.3 L524.3 516.7 L524.9 518.1 L525.4 519.4 L525.9 520.6 L526.4 521.9 L527.0 523.0 L527.5 524.2 L528.0 525.4 L528.6 526.5 L529.2 527.7 L529.8 529.0 L530.5 530.2 L531.2 531.4 L531.8 532.6 L532.4 533.6 L532.9 534.5 L533.2 535.1 L533.8 534.9 L533.6 534.2 L533.4 533.2 L533.1 532.1 L532.8 530.8 L532.4 529.5 L532.1 528.1 L531.7 526.8 L531.4 525.5 L531.1 524.3 L530.8 523.0 L530.4 521.8 L530.1 520.6 L529.8 519.3 L529.4 518.0 L529.1 516.7 L528.7 515.3 L528.3 513.8 L527.8 512.3 L527.4 510.7 L526.9 509.2 L526.5 507.6 L526.0 506.0 L525.6 504.4 L525.2 502.8 L524.8 501.2 L524.5 499.5 L524.2 497.8 L523.9 496.1 L523.6 494.4 L523.3 492.7 L523.0 491.0 L522.7 489.4 L522.4 487.7 L522.2 486.0 L521.9 484.3 L521.7 482.6 L521.5 480.9 L521.2 479.2 L521.0 477.6 L520.6 476.1 L520.3 474.7 L520.0 473.5 L519.7 472.4 L519.3 471.2 L518.9 470.1 L518.5 469.0 L518.0 467.8 L517.5 466.5 L516.8 464.9 L516.0 463.2 L515.2 461.5 L514.3 459.7 L513.4 457.9 L512.7 456.4 L512.0 455.1 L511.6 454.2Z"/>
<path d="M525.8 517.1 L526.4 517.3 L527.2 517.6 L528.2 518.0 L529.2 518.4 L530.3 518.8 L531.5 519.2 L532.6 519.5 L533.6 519.8 L534.6 520.1 L535.5 520.3 L536.5 520.4 L537.4 520.6 L538.3 520.7 L539.2 520.8 L540.0 521.0 L540.8 521.1 L541.5 521.2 L542.1 521.3 L542.7 521.5 L543.3 521.6 L543.9 521.7 L544.5 521.8 L545.2 521.9 L545.9 522.0 L546.6 522.1 L547.5 522.1 L548.3 522.1 L549.2 522.2 L550.0 522.2 L550.7 522.2 L551.3 522.2 L551.8 522.2 L551.8 521.8 L551.4 521.7 L550.8 521.6 L550.1 521.4 L549.3 521.3 L548.4 521.1 L547.6 521.0 L546.8 520.8 L546.1 520.6 L545.5 520.4 L544.9 520.2 L544.4 520.0 L543.8 519.8 L543.3 519.6 L542.6 519.4 L542.0 519.2 L541.2 518.9 L540.5 518.7 L539.6 518.5 L538.8 518.3 L537.9 518.1 L537.0 517.9 L536.1 517.7 L535.3 517.4 L534.4 517.2 L533.5 516.8 L532.5 516.4 L531.5 515.9 L530.4 515.5 L529.4 515.0 L528.5 514.6 L527.7 514.2 L527.2 513.9Z"/>
</g>
<g fill="#c98d39">
<path d="M492.6 412.1 L492.7 413.1 L492.8 414.5 L493.0 416.1 L493.1 417.9 L493.3 419.8 L493.5 421.7 L493.8 423.6 L494.1 425.4 L494.4 427.1 L494.8 428.9 L495.2 430.8 L495.7 432.8 L496.2 434.8 L496.7 436.7 L497.1 438.6 L497.6 440.5 L498.0 442.4 L498.5 444.1 L498.9 445.6 L499.4 447.0 L499.7 448.4 L500.1 449.6 L500.4 450.9 L500.6 452.2 L500.7 453.7 L500.7 455.3 L500.7 456.9 L500.7 458.5 L500.6 460.2 L500.5 461.9 L500.4 463.7 L500.3 465.5 L500.3 467.4 L500.2 469.5 L500.1 471.7 L500.0 473.9 L499.9 476.1 L499.8 478.2 L499.6 480.3 L499.4 482.3 L499.1 484.1 L498.7 485.9 L498.3 487.7 L497.9 489.4 L497.4 491.0 L497.0 492.7 L496.5 494.4 L496.0 496.0 L495.6 497.7 L495.1 499.3 L494.5 501.0 L494.0 502.6 L493.4 504.3 L492.9 505.9 L492.4 507.6 L492.1 509.2 L491.7 510.7 L491.5 512.1 L491.2 513.5 L491.0 514.8 L490.9 516.1 L490.8 517.4 L490.7 518.6 L490.7 519.8 L490.7 521.0 L490.8 522.2 L490.9 523.3 L491.0 524.4 L491.2 525.4 L491.4 526.5 L491.6 527.5 L491.9 528.5 L492.1 529.5 L492.5 530.5 L492.8 531.4 L493.2 532.2 L493.6 533.1 L494.0 534.0 L494.5 534.9 L495.0 535.9 L495.6 537.1 L496.3 538.3 L497.0 539.5 L497.8 540.8 L498.5 542.0 L499.2 543.2 L499.9 544.4 L500.4 545.6 L500.9 546.7 L501.3 547.9 L501.7 549.1 L502.1 550.3 L502.4 551.5 L502.8 552.7 L503.0 553.9 L503.3 555.1 L503.5 556.2 L503.7 557.5 L503.8 558.7 L504.0 559.9 L504.1 561.0 L504.1 562.0 L504.2 562.9 L504.2 563.5 L504.4 563.5 L504.4 562.9 L504.4 562.0 L504.5 561.0 L504.6 559.9 L504.7 558.7 L504.7 557.4 L504.7 556.1 L504.7 554.9 L504.7 553.7 L504.6 552.5 L504.6 551.2 L504.5 549.9 L504.4 548.5 L504.2 547.2 L503.9 545.8 L503.6 544.4 L503.1 543.0 L502.6 541.6 L501.9 540.2 L501.3 538.9 L500.6 537.6 L500.0 536.3 L499.4 535.1 L499.0 534.1 L498.6 533.1 L498.3 532.2 L498.0 531.3 L497.8 530.5 L497.6 529.8 L497.4 529.0 L497.3 528.3 L497.1 527.5 L497.1 526.6 L497.0 525.7 L497.0 524.9 L497.0 524.0 L497.0 523.1 L497.1 522.2 L497.2 521.2 L497.3 520.2 L497.4 519.1 L497.6 518.0 L497.7 516.9 L497.9 515.8 L498.1 514.6 L498.3 513.4 L498.6 512.2 L498.9 510.8 L499.3 509.5 L499.8 508.0 L500.2 506.5 L500.8 504.9 L501.3 503.2 L501.9 501.5 L502.4 499.7 L503.0 498.0 L503.4 496.3 L503.9 494.6 L504.3 492.9 L504.8 491.1 L505.2 489.4 L505.7 487.5 L506.2 485.7 L506.6 483.7 L507.1 481.7 L507.7 479.6 L508.3 477.4 L508.8 475.1 L509.4 472.9 L509.9 470.7 L510.3 468.6 L510.7 466.5 L510.9 464.5 L511.1 462.6 L511.2 460.7 L511.3 458.9 L511.4 457.1 L511.4 455.3 L511.4 453.5 L511.4 451.8 L511.4 450.0 L511.4 448.2 L511.3 446.6 L511.3 445.1 L511.2 443.7 L511.2 442.3 L511.3 440.9 L511.4 439.5 L511.6 437.9 L512.0 436.1 L512.3 434.3 L512.7 432.4 L513.1 430.5 L513.4 428.5 L513.7 426.5 L513.9 424.6 L514.1 422.7 L514.1 420.7 L514.1 418.7 L514.1 416.7 L514.1 414.9 L514.0 413.3 L514.0 412.0 L514.0 410.9Z"/>
<path d="M492.4 523.3 L492.2 524.0 L491.9 525.0 L491.5 526.1 L491.0 527.3 L490.5 528.6 L490.1 530.0 L489.6 531.3 L489.1 532.6 L488.6 533.9 L488.0 535.3 L487.4 536.8 L486.8 538.3 L486.2 539.8 L485.7 541.1 L485.3 542.2 L484.9 543.0 L485.1 543.0 L485.5 542.3 L486.1 541.3 L486.9 540.1 L487.7 538.8 L488.5 537.4 L489.4 536.0 L490.2 534.7 L490.9 533.4 L491.6 532.2 L492.3 531.0 L492.9 529.7 L493.6 528.4 L494.2 527.3 L494.8 526.2 L495.2 525.3 L495.6 524.7Z"/>
<path d="M496.5 412.0 L495.9 412.4 L495.2 413.0 L494.7 413.5 L494.0 414.1 L493.3 414.7 L492.3 415.4 L491.1 416.0 L489.7 416.7 L487.8 417.5 L485.4 418.3 L482.8 419.1 L479.9 420.0 L477.0 420.8 L474.2 421.7 L471.5 422.5 L469.0 423.2 L466.8 424.0 L464.7 424.7 L462.6 425.3 L460.7 426.0 L458.9 426.5 L457.2 427.1 L455.7 427.5 L454.3 427.9 L453.1 428.1 L452.0 428.3 L451.0 428.4 L450.0 428.5 L449.1 428.5 L448.3 428.5 L447.6 428.5 L446.9 428.6 L447.1 434.4 L447.6 434.5 L448.2 434.5 L449.1 434.5 L450.1 434.6 L451.3 434.6 L452.6 434.5 L454.1 434.4 L455.7 434.1 L457.3 433.8 L459.0 433.4 L460.8 432.9 L462.7 432.3 L464.6 431.8 L466.7 431.2 L468.8 430.6 L471.0 430.0 L473.4 429.3 L476.1 428.6 L479.0 427.9 L481.9 427.1 L484.9 426.3 L487.6 425.6 L490.1 424.9 L492.3 424.3 L494.2 423.7 L495.9 423.1 L497.3 422.6 L498.6 422.1 L499.7 421.7 L500.5 421.4 L501.1 421.2 L501.5 421.0Z"/>
<path d="M452.9 429.0 L451.9 428.6 L450.7 428.1 L449.2 427.6 L447.5 426.9 L445.8 426.2 L444.0 425.6 L442.2 425.0 L440.6 424.4 L439.0 423.9 L437.5 423.4 L436.0 423.0 L434.5 422.6 L433.0 422.2 L431.5 421.8 L429.9 421.4 L428.3 421.0 L426.7 420.7 L425.1 420.4 L423.4 420.1 L421.7 419.8 L420.0 419.5 L418.4 419.3 L416.8 419.0 L415.2 418.7 L413.8 418.5 L412.4 418.2 L411.0 418.0 L409.6 417.7 L408.3 417.5 L406.9 417.2 L405.4 417.0 L403.9 416.7 L402.3 416.4 L400.5 416.1 L398.7 415.8 L396.9 415.5 L395.1 415.2 L393.4 414.9 L391.7 414.7 L390.1 414.4 L388.7 414.2 L387.3 414.0 L385.9 413.8 L384.7 413.7 L383.4 413.5 L382.3 413.4 L381.1 413.2 L380.0 413.1 L378.9 413.0 L377.8 412.8 L376.8 412.7 L375.7 412.6 L374.8 412.5 L374.0 412.4 L373.3 412.3 L372.7 412.2 L372.7 412.4 L373.2 412.5 L373.9 412.6 L374.8 412.7 L375.7 412.8 L376.7 412.9 L377.8 413.1 L378.9 413.3 L380.0 413.5 L381.1 413.7 L382.2 413.9 L383.3 414.2 L384.5 414.4 L385.8 414.7 L387.1 415.0 L388.5 415.3 L389.9 415.6 L391.4 415.9 L393.1 416.3 L394.8 416.7 L396.6 417.1 L398.4 417.5 L400.2 417.9 L401.9 418.3 L403.5 418.7 L405.0 419.0 L406.4 419.4 L407.8 419.7 L409.2 420.0 L410.5 420.3 L411.9 420.6 L413.3 420.9 L414.8 421.3 L416.3 421.6 L417.9 421.9 L419.6 422.2 L421.2 422.6 L422.9 422.9 L424.5 423.2 L426.1 423.6 L427.7 424.0 L429.2 424.4 L430.7 424.8 L432.2 425.2 L433.6 425.6 L435.1 426.1 L436.5 426.5 L438.0 427.1 L439.4 427.6 L441.0 428.2 L442.6 428.9 L444.3 429.7 L446.0 430.5 L447.6 431.3 L449.0 432.0 L450.2 432.6 L451.1 433.0Z"/>
<path d="M451.5 428.8 L450.5 429.1 L449.3 429.4 L447.8 429.7 L446.3 430.1 L444.6 430.4 L442.9 430.7 L441.4 431.0 L439.9 431.1 L438.6 431.1 L437.2 431.1 L435.8 431.0 L434.4 430.8 L432.9 430.6 L431.4 430.4 L429.9 430.2 L428.3 430.0 L426.7 429.8 L425.1 429.6 L423.5 429.4 L421.9 429.2 L420.3 429.0 L418.6 428.8 L417.0 428.5 L415.3 428.2 L413.7 427.9 L412.0 427.5 L410.3 427.1 L408.5 426.7 L406.7 426.3 L404.9 425.9 L403.0 425.6 L401.1 425.4 L399.1 425.3 L397.0 425.2 L394.9 425.2 L392.8 425.3 L390.8 425.4 L388.7 425.5 L386.8 425.6 L385.0 425.7 L383.2 425.8 L381.6 425.9 L380.1 426.0 L378.6 426.1 L377.1 426.3 L375.6 426.5 L374.0 426.7 L372.4 426.9 L370.6 427.2 L368.7 427.6 L366.7 428.0 L364.8 428.4 L362.9 428.8 L361.1 429.2 L359.4 429.5 L357.9 429.7 L356.6 429.8 L355.5 429.9 L354.4 429.9 L353.5 429.9 L352.6 429.9 L351.8 429.8 L351.0 429.6 L350.2 429.4 L349.4 429.2 L348.7 428.9 L348.1 428.5 L347.5 428.1 L346.9 427.7 L346.3 427.2 L345.8 426.7 L345.3 426.2 L344.8 425.7 L344.4 425.2 L344.0 424.6 L343.7 423.9 L343.3 423.3 L343.0 422.8 L342.8 422.3 L342.6 422.0 L342.4 422.0 L342.6 422.4 L342.7 422.9 L343.0 423.5 L343.2 424.1 L343.5 424.8 L343.9 425.5 L344.3 426.2 L344.7 426.8 L345.2 427.3 L345.7 427.8 L346.2 428.4 L346.9 428.9 L347.5 429.4 L348.2 429.8 L349.0 430.2 L349.8 430.6 L350.7 430.8 L351.5 431.0 L352.4 431.2 L353.4 431.3 L354.4 431.4 L355.5 431.4 L356.7 431.4 L358.1 431.3 L359.6 431.1 L361.4 430.9 L363.2 430.6 L365.2 430.3 L367.1 429.9 L369.0 429.6 L370.9 429.3 L372.6 429.1 L374.3 428.9 L375.8 428.8 L377.3 428.6 L378.8 428.5 L380.2 428.5 L381.7 428.4 L383.3 428.3 L385.0 428.3 L386.9 428.3 L388.8 428.2 L390.8 428.2 L392.9 428.2 L394.9 428.2 L396.9 428.3 L398.9 428.4 L400.7 428.6 L402.5 428.8 L404.3 429.2 L406.0 429.6 L407.7 430.0 L409.4 430.5 L411.2 431.0 L412.9 431.4 L414.7 431.8 L416.4 432.1 L418.1 432.4 L419.7 432.7 L421.4 433.0 L423.0 433.2 L424.6 433.5 L426.2 433.7 L427.7 434.0 L429.2 434.3 L430.7 434.6 L432.2 434.9 L433.7 435.2 L435.3 435.4 L436.8 435.7 L438.4 435.8 L440.1 435.9 L441.8 435.8 L443.6 435.7 L445.5 435.4 L447.2 435.1 L448.9 434.8 L450.4 434.5 L451.6 434.3 L452.5 434.2Z"/>
<path d="M412.0 429.4 L411.5 429.9 L410.8 430.5 L409.9 431.3 L408.9 432.3 L407.9 433.2 L406.9 434.3 L406.0 435.3 L405.1 436.3 L404.4 437.4 L403.9 438.5 L403.4 439.6 L402.9 440.7 L402.5 441.7 L402.0 442.7 L401.3 443.6 L400.5 444.5 L399.6 445.3 L398.5 446.0 L397.4 446.7 L396.1 447.4 L394.7 448.1 L393.2 448.7 L391.7 449.3 L389.9 449.8 L388.0 450.3 L385.6 450.8 L383.1 451.3 L380.5 451.7 L378.1 452.1 L375.8 452.4 L373.9 452.7 L372.5 452.9 L372.5 453.1 L373.9 452.9 L375.8 452.6 L378.1 452.3 L380.6 451.9 L383.2 451.5 L385.7 451.1 L388.0 450.7 L390.1 450.2 L391.8 449.7 L393.4 449.2 L395.0 448.7 L396.5 448.2 L397.8 447.6 L399.1 447.0 L400.3 446.3 L401.5 445.5 L402.5 444.6 L403.3 443.6 L404.0 442.6 L404.6 441.5 L405.1 440.4 L405.6 439.4 L406.2 438.5 L406.9 437.7 L407.7 436.9 L408.6 436.0 L409.6 435.1 L410.7 434.2 L411.7 433.4 L412.6 432.7 L413.4 432.1 L414.0 431.6Z"/>
<path d="M493.3 418.8 L493.0 419.5 L492.7 420.3 L492.4 421.3 L491.9 422.5 L491.5 423.8 L491.0 425.2 L490.4 426.7 L489.8 428.4 L489.2 430.3 L488.6 432.4 L488.0 434.5 L487.4 436.6 L486.7 438.7 L486.0 440.6 L485.3 442.3 L484.5 443.7 L483.6 445.0 L482.5 446.2 L481.4 447.4 L480.2 448.5 L478.9 449.5 L477.5 450.5 L475.9 451.5 L474.2 452.4 L472.4 453.3 L470.2 454.1 L467.8 454.9 L465.2 455.7 L462.6 456.4 L460.0 457.1 L457.6 457.8 L455.4 458.5 L453.5 459.1 L451.8 459.7 L450.3 460.3 L448.9 460.9 L447.6 461.4 L446.3 461.8 L445.2 462.3 L444.0 462.8 L442.7 463.2 L441.5 463.7 L440.2 464.1 L439.0 464.6 L437.9 465.0 L436.8 465.3 L436.0 465.7 L435.3 465.9 L436.7 471.1 L437.4 471.0 L438.3 470.8 L439.4 470.6 L440.6 470.4 L441.9 470.2 L443.3 469.9 L444.6 469.6 L446.0 469.2 L447.4 468.9 L448.7 468.5 L450.0 468.0 L451.3 467.6 L452.7 467.1 L454.2 466.6 L455.8 466.1 L457.6 465.5 L459.6 465.0 L461.9 464.4 L464.5 463.8 L467.2 463.1 L470.0 462.4 L472.7 461.6 L475.3 460.6 L477.8 459.6 L479.9 458.5 L481.8 457.3 L483.7 456.1 L485.5 454.8 L487.1 453.4 L488.7 451.8 L490.1 450.2 L491.5 448.3 L492.8 446.2 L493.9 443.9 L494.8 441.6 L495.6 439.2 L496.3 437.0 L497.0 434.9 L497.6 433.1 L498.2 431.6 L498.8 430.2 L499.5 428.9 L500.2 427.7 L500.8 426.5 L501.4 425.5 L501.9 424.6 L502.4 423.8 L502.7 423.2Z"/>
<path d="M439.3 466.2 L438.4 466.1 L437.1 465.9 L435.6 465.6 L433.9 465.3 L432.1 465.0 L430.2 464.8 L428.3 464.6 L426.5 464.5 L424.6 464.5 L422.7 464.6 L420.8 464.8 L418.8 465.0 L416.9 465.2 L415.1 465.4 L413.4 465.7 L411.8 466.0 L410.5 466.3 L409.3 466.7 L408.3 467.0 L407.3 467.4 L406.5 467.9 L405.6 468.3 L404.8 468.7 L403.8 469.1 L402.9 469.6 L401.8 470.1 L400.8 470.7 L399.7 471.2 L398.7 471.8 L397.9 472.3 L397.1 472.6 L396.6 472.9 L396.6 473.1 L397.2 472.8 L398.0 472.4 L398.9 472.0 L399.9 471.6 L401.0 471.1 L402.1 470.6 L403.1 470.2 L404.2 469.9 L405.1 469.6 L406.0 469.3 L406.9 469.0 L407.8 468.7 L408.7 468.5 L409.7 468.3 L410.9 468.1 L412.2 468.0 L413.6 467.8 L415.3 467.7 L417.1 467.6 L419.0 467.5 L420.9 467.4 L422.8 467.4 L424.6 467.4 L426.3 467.5 L428.0 467.7 L429.8 467.9 L431.5 468.2 L433.3 468.6 L434.9 468.9 L436.4 469.3 L437.7 469.6 L438.7 469.8Z"/>
<path d="M437.7 467.0 L436.9 467.7 L435.9 468.7 L434.7 469.8 L433.4 471.1 L432.0 472.4 L430.7 473.7 L429.4 474.8 L428.3 475.7 L427.2 476.5 L426.3 477.2 L425.3 477.8 L424.4 478.4 L423.5 478.9 L422.5 479.4 L421.5 479.9 L420.5 480.4 L419.5 480.9 L418.5 481.3 L417.5 481.7 L416.5 482.1 L415.4 482.5 L414.3 482.9 L413.1 483.2 L411.8 483.6 L410.5 484.0 L409.0 484.4 L407.5 484.8 L405.9 485.1 L404.4 485.5 L402.8 485.8 L401.4 486.1 L400.0 486.4 L398.7 486.6 L397.3 486.8 L396.0 486.9 L394.7 487.0 L393.6 487.2 L392.5 487.2 L391.7 487.3 L391.0 487.4 L391.0 487.6 L391.7 487.5 L392.6 487.4 L393.6 487.4 L394.8 487.2 L396.0 487.1 L397.3 487.0 L398.7 486.8 L400.0 486.6 L401.4 486.4 L402.9 486.3 L404.5 486.1 L406.1 485.9 L407.7 485.7 L409.2 485.5 L410.8 485.2 L412.2 485.0 L413.5 484.7 L414.7 484.5 L415.9 484.2 L417.0 484.0 L418.1 483.7 L419.2 483.4 L420.4 483.0 L421.5 482.6 L422.6 482.2 L423.6 481.8 L424.7 481.3 L425.7 480.8 L426.8 480.3 L427.9 479.7 L429.0 479.1 L430.1 478.3 L431.4 477.4 L432.9 476.3 L434.4 475.1 L435.8 473.8 L437.2 472.6 L438.5 471.5 L439.6 470.6 L440.3 470.0Z"/>
<path d="M499.0 458.9 L498.7 459.7 L498.4 460.8 L498.0 462.0 L497.6 463.3 L497.1 464.7 L496.6 466.0 L496.0 467.3 L495.4 468.5 L494.7 469.6 L493.9 470.8 L493.0 472.1 L492.0 473.3 L491.0 474.6 L490.0 475.8 L489.0 477.1 L488.0 478.2 L487.1 479.3 L486.2 480.2 L485.3 481.2 L484.4 482.1 L483.5 483.0 L482.5 483.9 L481.6 484.8 L480.7 485.8 L479.7 486.7 L478.8 487.7 L477.9 488.7 L476.9 489.7 L476.0 490.6 L475.1 491.5 L474.3 492.4 L473.4 493.2 L472.5 494.0 L471.6 494.8 L470.6 495.6 L469.6 496.4 L468.7 497.1 L467.9 497.8 L467.2 498.3 L466.7 498.8 L469.3 502.2 L469.9 501.9 L470.6 501.3 L471.4 500.7 L472.4 500.0 L473.5 499.3 L474.5 498.5 L475.6 497.6 L476.6 496.8 L477.6 495.9 L478.5 495.1 L479.5 494.1 L480.5 493.2 L481.5 492.3 L482.4 491.3 L483.4 490.4 L484.3 489.4 L485.3 488.5 L486.2 487.7 L487.1 486.8 L488.1 485.8 L489.0 484.9 L490.0 483.9 L491.0 482.9 L492.0 481.8 L493.0 480.7 L494.1 479.5 L495.3 478.3 L496.4 477.0 L497.5 475.6 L498.6 474.3 L499.6 472.9 L500.6 471.5 L501.4 470.0 L502.2 468.5 L502.8 466.9 L503.4 465.4 L503.9 464.0 L504.4 462.8 L504.7 461.8 L505.0 461.1Z"/>
<path d="M470.2 498.5 L469.2 498.4 L468.0 498.3 L466.5 498.2 L464.8 498.0 L463.1 497.9 L461.3 497.8 L459.6 497.8 L458.0 497.8 L456.5 497.9 L455.0 498.0 L453.6 498.2 L452.2 498.4 L450.8 498.7 L449.4 499.0 L448.1 499.3 L446.8 499.6 L445.5 500.0 L444.3 500.4 L443.2 500.9 L442.1 501.3 L441.0 501.8 L439.9 502.3 L438.7 502.9 L437.5 503.4 L436.1 504.1 L434.7 504.7 L433.3 505.4 L431.8 506.1 L430.3 506.8 L428.9 507.5 L427.4 508.2 L426.0 508.9 L424.5 509.6 L422.9 510.3 L421.3 511.0 L419.7 511.7 L418.2 512.4 L416.9 513.0 L415.8 513.5 L415.0 513.9 L415.0 514.1 L415.9 513.7 L417.0 513.2 L418.3 512.6 L419.8 511.9 L421.4 511.2 L423.0 510.5 L424.6 509.8 L426.0 509.1 L427.5 508.5 L429.0 507.9 L430.5 507.3 L432.1 506.7 L433.6 506.1 L435.1 505.6 L436.6 505.1 L437.9 504.6 L439.2 504.1 L440.4 503.6 L441.6 503.2 L442.7 502.7 L443.8 502.3 L444.9 502.0 L446.0 501.7 L447.2 501.4 L448.5 501.1 L449.8 500.9 L451.1 500.7 L452.5 500.5 L453.8 500.4 L455.2 500.3 L456.6 500.2 L458.0 500.2 L459.5 500.3 L461.1 500.4 L462.8 500.6 L464.5 500.8 L466.2 501.0 L467.7 501.2 L468.9 501.4 L469.8 501.5Z"/>
<path d="M467.6 499.5 L467.1 500.2 L466.5 501.2 L465.8 502.3 L465.0 503.5 L464.2 504.8 L463.3 506.1 L462.5 507.4 L461.8 508.5 L461.1 509.6 L460.4 510.7 L459.7 511.9 L459.0 513.0 L458.4 514.0 L457.8 515.0 L457.4 515.8 L457.0 516.3 L459.0 517.7 L459.4 517.1 L459.9 516.3 L460.5 515.4 L461.2 514.4 L462.0 513.3 L462.7 512.2 L463.5 511.1 L464.2 510.1 L465.0 509.0 L465.8 507.8 L466.7 506.6 L467.6 505.3 L468.5 504.1 L469.3 503.0 L469.9 502.1 L470.4 501.5Z"/>
<path d="M458.5 515.9 L457.8 516.4 L456.9 517.2 L455.7 518.1 L454.5 519.0 L453.2 520.0 L451.9 521.0 L450.7 521.8 L449.7 522.5 L448.8 523.0 L448.1 523.4 L447.5 523.7 L446.8 523.9 L446.1 524.1 L445.3 524.4 L444.4 524.7 L443.3 525.0 L442.0 525.5 L440.5 526.0 L438.9 526.5 L437.2 527.0 L435.4 527.6 L433.6 528.1 L431.8 528.5 L430.0 528.9 L428.1 529.2 L426.0 529.6 L423.8 529.9 L421.7 530.1 L419.6 530.4 L417.7 530.6 L416.2 530.8 L415.0 530.9 L415.0 531.1 L416.2 531.0 L417.7 530.8 L419.6 530.6 L421.7 530.3 L423.8 530.1 L426.0 529.8 L428.1 529.4 L430.0 529.1 L431.8 528.7 L433.6 528.3 L435.5 527.9 L437.3 527.4 L439.0 527.0 L440.7 526.6 L442.2 526.1 L443.5 525.8 L444.7 525.5 L445.6 525.3 L446.4 525.1 L447.1 524.9 L447.8 524.6 L448.6 524.4 L449.4 524.0 L450.3 523.5 L451.4 522.9 L452.7 522.0 L454.0 521.1 L455.3 520.2 L456.6 519.2 L457.8 518.4 L458.8 517.7 L459.5 517.1Z"/>
<path d="M457.4 516.3 L457.3 517.1 L457.0 518.3 L456.8 519.6 L456.5 521.1 L456.2 522.6 L455.9 524.1 L455.6 525.6 L455.3 526.8 L455.1 528.0 L454.9 529.1 L454.8 530.1 L454.6 531.0 L454.5 532.0 L454.2 532.9 L454.0 533.9 L453.6 534.8 L453.2 535.9 L452.7 536.9 L452.1 538.0 L451.6 539.1 L450.9 540.1 L450.3 541.1 L449.6 542.1 L448.9 542.9 L448.2 543.7 L447.4 544.5 L446.6 545.2 L445.8 545.9 L445.1 546.5 L444.4 547.1 L443.8 547.6 L443.3 547.9 L443.5 548.1 L443.9 547.7 L444.5 547.3 L445.2 546.7 L446.0 546.1 L446.8 545.4 L447.6 544.7 L448.4 543.9 L449.1 543.1 L449.8 542.2 L450.5 541.3 L451.2 540.3 L451.9 539.3 L452.6 538.3 L453.2 537.2 L453.8 536.2 L454.4 535.2 L454.8 534.2 L455.2 533.2 L455.5 532.2 L455.7 531.3 L455.9 530.3 L456.2 529.3 L456.4 528.3 L456.7 527.2 L457.0 525.9 L457.4 524.5 L457.7 523.0 L458.1 521.4 L458.4 520.0 L458.7 518.6 L459.0 517.5 L459.2 516.7Z"/>
<path d="M505.0 421.3 L505.8 421.5 L506.9 421.8 L508.2 422.2 L509.6 422.6 L511.1 423.0 L512.6 423.4 L514.1 423.9 L515.3 424.2 L516.5 424.6 L517.5 424.9 L518.5 425.2 L519.5 425.5 L520.5 425.8 L521.5 426.1 L522.6 426.4 L523.8 426.8 L525.0 427.2 L526.3 427.7 L527.7 428.2 L529.2 428.7 L530.8 429.2 L532.4 429.8 L534.2 430.3 L535.9 430.7 L537.8 431.1 L539.8 431.5 L541.9 431.8 L543.9 432.1 L546.0 432.4 L548.0 432.6 L549.9 432.8 L551.7 433.0 L553.4 433.1 L555.1 433.2 L556.8 433.2 L558.4 433.2 L559.8 433.2 L561.1 433.2 L562.1 433.2 L562.9 433.2 L563.1 427.8 L562.2 427.8 L561.2 427.7 L559.9 427.6 L558.5 427.6 L557.0 427.5 L555.5 427.4 L553.9 427.2 L552.3 427.0 L550.6 426.8 L548.8 426.5 L546.8 426.3 L544.9 426.0 L542.9 425.6 L540.9 425.3 L539.1 424.9 L537.5 424.5 L535.9 424.1 L534.4 423.6 L533.0 423.0 L531.6 422.5 L530.2 421.9 L528.8 421.3 L527.5 420.7 L526.2 420.2 L525.0 419.7 L523.9 419.3 L523.0 418.9 L522.0 418.5 L521.1 418.1 L520.2 417.7 L519.3 417.3 L518.3 416.8 L517.1 416.2 L515.8 415.5 L514.5 414.8 L513.2 414.0 L511.9 413.3 L510.7 412.7 L509.7 412.1 L509.0 411.7Z"/>
<path d="M560.4 432.2 L561.0 432.0 L561.9 431.8 L562.9 431.5 L564.0 431.2 L565.2 430.9 L566.4 430.6 L567.5 430.3 L568.5 429.9 L569.3 429.6 L570.0 429.2 L570.6 428.8 L571.1 428.5 L571.6 428.2 L572.2 427.9 L572.9 427.6 L573.8 427.3 L575.1 426.9 L576.6 426.6 L578.3 426.2 L580.0 425.8 L581.9 425.5 L583.7 425.1 L585.5 424.8 L587.2 424.5 L588.7 424.2 L590.2 423.9 L591.6 423.7 L593.0 423.4 L594.4 423.2 L595.8 423.0 L597.4 422.8 L599.0 422.7 L600.8 422.6 L602.7 422.5 L604.7 422.5 L606.8 422.5 L608.9 422.5 L611.0 422.5 L613.0 422.6 L615.0 422.7 L617.0 422.9 L619.2 423.1 L621.3 423.4 L623.5 423.8 L625.5 424.1 L627.3 424.4 L628.8 424.7 L630.0 424.9 L630.0 424.7 L628.9 424.5 L627.3 424.2 L625.5 423.9 L623.5 423.6 L621.4 423.2 L619.2 422.9 L617.0 422.6 L615.0 422.3 L613.0 422.1 L611.0 421.9 L608.9 421.7 L606.8 421.6 L604.8 421.5 L602.7 421.4 L600.8 421.3 L599.0 421.3 L597.3 421.3 L595.7 421.4 L594.2 421.6 L592.7 421.7 L591.3 421.9 L589.9 422.1 L588.4 422.3 L586.8 422.5 L585.2 422.7 L583.4 423.0 L581.5 423.3 L579.6 423.5 L577.8 423.8 L576.1 424.1 L574.5 424.4 L573.2 424.7 L572.0 425.1 L571.1 425.4 L570.3 425.7 L569.7 426.1 L569.2 426.4 L568.7 426.6 L568.2 426.9 L567.5 427.1 L566.6 427.3 L565.6 427.6 L564.5 427.8 L563.3 428.1 L562.2 428.3 L561.1 428.5 L560.3 428.7 L559.6 428.8Z"/>
<path d="M559.9 433.0 L561.1 433.0 L562.6 433.1 L564.5 433.2 L566.6 433.3 L568.8 433.4 L570.9 433.5 L573.0 433.6 L574.9 433.7 L576.5 433.8 L578.1 433.9 L579.6 434.0 L581.0 434.2 L582.5 434.3 L584.0 434.5 L585.7 434.7 L587.4 435.0 L589.5 435.3 L591.8 435.8 L594.3 436.3 L596.8 436.9 L599.3 437.4 L601.5 437.9 L603.3 438.4 L604.7 438.7 L605.3 436.3 L603.9 436.0 L602.1 435.5 L599.9 434.9 L597.5 434.3 L594.9 433.6 L592.4 433.0 L590.1 432.5 L588.0 432.0 L586.2 431.7 L584.5 431.4 L582.9 431.2 L581.4 431.0 L579.9 430.8 L578.4 430.6 L576.8 430.5 L575.1 430.3 L573.3 430.1 L571.2 429.9 L569.0 429.7 L566.8 429.5 L564.7 429.4 L562.9 429.2 L561.3 429.1 L560.1 429.0Z"/>
<path d="M602.8 438.1 L603.6 438.2 L604.6 438.5 L605.9 438.7 L607.3 439.0 L608.7 439.3 L610.2 439.6 L611.6 439.9 L612.8 440.2 L614.0 440.4 L615.0 440.7 L616.1 440.9 L617.1 441.2 L618.2 441.4 L619.2 441.7 L620.4 441.9 L621.6 442.2 L622.9 442.5 L624.3 442.8 L625.7 443.1 L627.1 443.4 L628.6 443.7 L630.1 444.0 L631.5 444.3 L633.0 444.6 L634.5 444.9 L636.1 445.1 L637.8 445.3 L639.4 445.5 L640.9 445.7 L642.3 445.9 L643.5 446.0 L644.4 446.1 L644.4 445.9 L643.5 445.8 L642.4 445.7 L641.0 445.5 L639.4 445.3 L637.8 445.1 L636.1 444.9 L634.5 444.7 L633.0 444.4 L631.6 444.1 L630.1 443.8 L628.7 443.4 L627.2 443.0 L625.8 442.6 L624.4 442.2 L623.1 441.8 L621.8 441.4 L620.6 441.1 L619.5 440.7 L618.4 440.4 L617.4 440.1 L616.4 439.8 L615.4 439.5 L614.3 439.1 L613.2 438.8 L611.9 438.5 L610.5 438.1 L609.1 437.8 L607.6 437.4 L606.3 437.1 L605.0 436.8 L604.0 436.5 L603.2 436.3Z"/>
<path d="M603.4 438.1 L603.8 438.6 L604.4 439.1 L605.0 439.8 L605.7 440.5 L606.5 441.3 L607.2 442.0 L607.9 442.8 L608.6 443.4 L609.1 444.0 L609.6 444.5 L610.1 445.0 L610.6 445.5 L611.1 446.0 L611.6 446.5 L612.1 447.1 L612.7 447.7 L613.3 448.3 L613.9 448.9 L614.6 449.6 L615.3 450.3 L616.0 450.9 L616.6 451.6 L617.3 452.3 L617.9 453.1 L618.6 453.8 L619.3 454.6 L620.0 455.5 L620.7 456.3 L621.4 457.1 L622.0 457.8 L622.5 458.4 L622.9 458.9 L623.1 458.7 L622.7 458.3 L622.2 457.7 L621.6 457.0 L620.9 456.2 L620.2 455.3 L619.4 454.5 L618.7 453.7 L618.1 452.9 L617.4 452.2 L616.8 451.5 L616.2 450.7 L615.6 450.0 L615.0 449.2 L614.4 448.5 L613.8 447.8 L613.3 447.1 L612.8 446.5 L612.3 445.9 L611.8 445.4 L611.4 444.8 L610.9 444.3 L610.5 443.8 L610.0 443.2 L609.4 442.6 L608.8 441.9 L608.2 441.1 L607.5 440.3 L606.8 439.5 L606.1 438.8 L605.5 438.1 L605.0 437.5 L604.6 437.1Z"/>
<path d="M504.3 423.1 L504.7 423.9 L505.3 425.1 L506.0 426.4 L506.7 427.9 L507.6 429.5 L508.4 431.1 L509.2 432.6 L510.0 434.0 L510.6 435.2 L511.2 436.3 L511.8 437.4 L512.4 438.5 L513.1 439.6 L513.8 440.8 L514.6 442.0 L515.5 443.3 L516.5 444.7 L517.6 446.3 L518.8 447.9 L520.0 449.5 L521.2 451.1 L522.5 452.7 L523.7 454.2 L524.9 455.6 L526.1 456.9 L527.3 458.1 L528.4 459.3 L529.6 460.5 L530.7 461.6 L531.9 462.7 L533.1 463.7 L534.4 464.6 L535.6 465.5 L536.8 466.3 L538.1 466.9 L539.2 467.5 L540.4 467.9 L541.5 468.4 L542.6 468.8 L543.6 469.2 L544.8 469.7 L545.9 470.1 L547.1 470.5 L548.3 471.0 L549.5 471.3 L550.8 471.7 L552.0 472.0 L553.2 472.3 L554.5 472.5 L555.8 472.7 L557.0 472.8 L558.2 472.9 L559.4 473.0 L560.5 473.1 L561.6 473.1 L562.7 473.2 L563.7 473.2 L564.8 473.3 L565.7 473.3 L566.6 473.3 L567.5 473.3 L568.3 473.4 L569.2 473.5 L570.2 473.6 L571.2 473.9 L572.3 474.1 L573.4 474.4 L574.5 474.7 L575.6 475.1 L576.8 475.5 L578.0 476.0 L579.2 476.5 L580.5 477.1 L581.9 477.8 L583.3 478.5 L584.7 479.3 L586.1 480.1 L587.5 480.9 L588.8 481.6 L589.9 482.3 L591.0 483.0 L591.9 483.6 L592.8 484.2 L593.7 484.8 L594.5 485.4 L595.3 486.0 L596.0 486.6 L596.8 487.2 L597.6 487.8 L598.3 488.4 L599.1 489.1 L599.8 489.7 L600.5 490.3 L601.1 490.8 L601.6 491.2 L601.9 491.6 L602.1 491.4 L601.7 491.1 L601.2 490.6 L600.6 490.1 L600.0 489.5 L599.3 488.8 L598.6 488.2 L597.9 487.5 L597.2 486.8 L596.5 486.1 L595.9 485.4 L595.2 484.7 L594.5 483.9 L593.8 483.1 L593.0 482.3 L592.1 481.5 L591.1 480.7 L590.0 479.8 L588.8 478.9 L587.5 477.9 L586.1 477.0 L584.8 476.0 L583.4 475.1 L582.1 474.3 L580.8 473.5 L579.5 472.8 L578.3 472.2 L577.1 471.6 L575.9 471.1 L574.7 470.6 L573.5 470.1 L572.4 469.7 L571.2 469.4 L570.1 469.0 L569.1 468.8 L568.0 468.6 L567.1 468.4 L566.1 468.3 L565.2 468.1 L564.3 468.0 L563.3 467.8 L562.3 467.6 L561.2 467.4 L560.0 467.2 L558.9 467.0 L557.9 466.8 L556.8 466.6 L555.8 466.4 L554.8 466.1 L553.8 465.8 L552.7 465.4 L551.7 465.0 L550.6 464.6 L549.6 464.2 L548.5 463.7 L547.4 463.3 L546.4 462.8 L545.3 462.3 L544.2 461.8 L543.2 461.4 L542.3 460.9 L541.4 460.5 L540.6 460.0 L539.7 459.4 L538.8 458.8 L537.9 458.0 L537.0 457.1 L536.1 456.2 L535.1 455.1 L534.1 454.1 L533.1 452.9 L532.1 451.7 L531.1 450.4 L530.0 449.1 L528.9 447.7 L527.7 446.1 L526.6 444.6 L525.4 443.0 L524.4 441.5 L523.4 440.0 L522.5 438.7 L521.8 437.5 L521.1 436.4 L520.6 435.4 L520.1 434.4 L519.6 433.4 L519.1 432.3 L518.6 431.2 L518.0 430.0 L517.5 428.7 L516.9 427.2 L516.2 425.6 L515.6 424.0 L515.1 422.4 L514.5 421.0 L514.1 419.8 L513.7 418.9Z"/>
<path d="M550.6 469.6 L550.9 470.1 L551.2 470.8 L551.6 471.7 L552.1 472.6 L552.5 473.6 L553.0 474.6 L553.5 475.5 L553.9 476.3 L554.3 477.1 L554.7 477.7 L555.1 478.4 L555.5 479.1 L555.9 479.7 L556.4 480.3 L556.8 480.9 L557.3 481.5 L557.8 482.1 L558.3 482.7 L558.8 483.3 L559.3 483.8 L559.8 484.4 L560.4 485.0 L561.0 485.5 L561.6 486.1 L562.2 486.7 L562.8 487.3 L563.5 488.0 L564.2 488.6 L564.9 489.2 L565.6 489.8 L566.3 490.5 L566.9 491.1 L567.6 491.7 L568.3 492.4 L569.0 493.1 L569.7 493.7 L570.4 494.3 L571.0 494.9 L571.5 495.3 L571.9 495.7 L572.1 495.5 L571.7 495.2 L571.2 494.7 L570.6 494.2 L569.9 493.6 L569.2 492.9 L568.4 492.2 L567.7 491.6 L567.1 490.9 L566.5 490.3 L565.9 489.6 L565.3 488.9 L564.7 488.1 L564.1 487.4 L563.5 486.7 L563.0 486.0 L562.4 485.3 L561.9 484.7 L561.4 484.0 L560.9 483.4 L560.4 482.8 L560.0 482.3 L559.6 481.7 L559.1 481.1 L558.7 480.5 L558.4 479.9 L558.0 479.3 L557.7 478.6 L557.4 478.0 L557.0 477.4 L556.7 476.7 L556.4 476.0 L556.1 475.3 L555.7 474.5 L555.3 473.5 L555.0 472.5 L554.6 471.5 L554.2 470.6 L553.9 469.7 L553.6 469.0 L553.4 468.4Z"/>
<path d="M505.2 457.5 L505.7 458.4 L506.3 459.7 L507.2 461.2 L508.1 462.9 L509.0 464.6 L509.8 466.3 L510.6 467.8 L511.3 469.2 L511.8 470.4 L512.2 471.4 L512.6 472.4 L512.9 473.4 L513.2 474.3 L513.5 475.3 L513.8 476.5 L514.1 477.7 L514.5 479.1 L514.8 480.5 L515.2 482.1 L515.6 483.7 L515.9 485.4 L516.3 487.1 L516.7 488.8 L517.1 490.5 L517.5 492.2 L517.9 493.8 L518.3 495.5 L518.7 497.2 L519.2 499.0 L519.6 500.7 L520.1 502.4 L520.6 504.0 L521.1 505.7 L521.6 507.3 L522.2 508.9 L522.8 510.5 L523.4 512.1 L524.0 513.6 L524.5 515.1 L525.1 516.5 L525.6 517.8 L526.2 519.1 L526.7 520.4 L527.2 521.6 L527.8 522.8 L528.3 523.9 L528.8 525.1 L529.3 526.2 L529.9 527.4 L530.5 528.7 L531.1 530.0 L531.7 531.2 L532.2 532.4 L532.7 533.5 L533.1 534.3 L533.4 535.0 L533.6 535.0 L533.3 534.3 L533.0 533.3 L532.7 532.2 L532.3 531.0 L531.9 529.7 L531.4 528.3 L531.0 527.0 L530.7 525.8 L530.3 524.5 L530.0 523.3 L529.7 522.1 L529.3 520.9 L529.0 519.6 L528.7 518.3 L528.3 516.9 L527.9 515.5 L527.5 514.1 L527.1 512.5 L526.6 511.0 L526.2 509.4 L525.7 507.8 L525.2 506.2 L524.8 504.6 L524.4 503.0 L524.1 501.4 L523.7 499.7 L523.4 498.0 L523.1 496.3 L522.8 494.6 L522.5 492.9 L522.2 491.2 L521.9 489.5 L521.6 487.9 L521.4 486.2 L521.2 484.5 L520.9 482.7 L520.7 481.1 L520.4 479.4 L520.2 477.8 L519.9 476.3 L519.5 474.9 L519.2 473.7 L518.9 472.6 L518.6 471.5 L518.2 470.4 L517.8 469.3 L517.3 468.1 L516.7 466.8 L516.1 465.3 L515.3 463.6 L514.5 461.8 L513.6 460.0 L512.7 458.3 L512.0 456.8 L511.3 455.5 L510.8 454.5Z"/>
<path d="M526.2 516.3 L526.7 516.5 L527.5 516.9 L528.5 517.2 L529.5 517.6 L530.6 518.0 L531.7 518.4 L532.8 518.8 L533.8 519.1 L534.8 519.3 L535.7 519.5 L536.7 519.7 L537.6 519.8 L538.5 519.9 L539.3 520.0 L540.2 520.2 L540.9 520.3 L541.6 520.4 L542.3 520.6 L542.9 520.7 L543.5 520.9 L544.1 521.0 L544.7 521.1 L545.3 521.3 L546.0 521.4 L546.7 521.5 L547.5 521.6 L548.4 521.7 L549.2 521.8 L550.0 521.9 L550.7 522.0 L551.3 522.0 L551.8 522.1 L551.8 521.9 L551.4 521.9 L550.7 521.8 L550.0 521.7 L549.2 521.6 L548.4 521.5 L547.5 521.4 L546.7 521.3 L546.0 521.2 L545.4 521.1 L544.8 520.9 L544.2 520.7 L543.6 520.5 L543.0 520.3 L542.4 520.1 L541.8 519.9 L541.1 519.7 L540.3 519.5 L539.5 519.3 L538.6 519.1 L537.7 518.9 L536.8 518.7 L535.9 518.5 L535.1 518.2 L534.2 517.9 L533.2 517.6 L532.2 517.1 L531.2 516.7 L530.1 516.2 L529.1 515.7 L528.2 515.3 L527.4 514.9 L526.8 514.7Z"/>
</g>
<g fill="#6b4020" stroke="#5e3a1c" stroke-width="1.4" stroke-linejoin="round">
<path d="M513.0 413.4 L512.8 410.8 L512.5 407.4 L512.1 403.4 L511.8 398.9 L511.3 394.1 L510.9 389.2 L510.6 384.3 L510.2 379.6 L510.0 374.9 L509.7 370.0 L509.5 364.9 L509.2 359.8 L509.0 354.6 L508.8 349.5 L508.6 344.5 L508.3 339.6 L508.1 334.9 L507.9 330.1 L507.7 325.4 L507.4 320.8 L507.2 316.3 L507.0 312.1 L506.8 308.2 L506.6 304.5 L506.5 301.3 L506.3 298.4 L506.2 295.7 L506.1 293.3 L506.0 291.0 L505.9 288.8 L505.8 286.7 L505.7 284.6 L505.6 282.5 L505.6 280.6 L505.6 278.7 L505.5 276.9 L505.5 275.1 L505.5 273.2 L505.4 271.4 L505.3 269.5 L505.1 267.7 L505.0 265.8 L504.8 264.0 L504.6 262.2 L504.3 260.4 L504.1 258.6 L503.8 256.9 L503.5 255.2 L503.1 253.4 L502.6 251.6 L502.1 249.9 L501.6 248.2 L501.1 246.6 L500.6 245.2 L500.2 244.0 L499.9 243.2 L487.1 244.8 L487.0 245.8 L487.0 247.0 L486.9 248.5 L486.8 250.1 L486.7 251.8 L486.6 253.5 L486.6 255.2 L486.5 256.8 L486.5 258.4 L486.5 260.1 L486.5 261.7 L486.6 263.5 L486.6 265.2 L486.6 266.9 L486.7 268.7 L486.7 270.5 L486.8 272.2 L486.8 273.9 L486.9 275.6 L487.0 277.4 L487.0 279.2 L487.1 281.2 L487.2 283.2 L487.3 285.4 L487.4 287.6 L487.5 289.7 L487.6 291.9 L487.8 294.2 L487.9 296.7 L488.0 299.3 L488.2 302.2 L488.4 305.5 L488.6 309.1 L488.8 313.0 L489.0 317.3 L489.2 321.7 L489.5 326.3 L489.7 331.0 L489.9 335.7 L490.1 340.4 L490.2 345.1 L490.3 350.1 L490.4 355.2 L490.5 360.3 L490.5 365.5 L490.6 370.6 L490.7 375.6 L490.8 380.4 L490.9 385.2 L491.0 390.2 L491.1 395.2 L491.2 400.1 L491.3 404.6 L491.4 408.6 L491.5 412.0 L491.6 414.6Z"/>
<path d="M499.5 255.6 L499.1 254.8 L498.6 253.7 L497.9 252.5 L497.2 251.1 L496.5 249.6 L495.8 248.2 L495.1 246.8 L494.5 245.7 L494.0 244.7 L493.5 243.9 L493.1 243.2 L492.7 242.4 L492.2 241.7 L491.7 240.8 L491.1 239.8 L490.4 238.6 L489.7 237.3 L488.8 235.7 L487.9 234.0 L486.9 232.1 L485.8 230.1 L484.6 228.1 L483.3 226.1 L481.8 224.1 L480.2 222.2 L478.5 220.3 L476.7 218.5 L474.9 216.7 L473.0 215.0 L471.3 213.4 L469.6 211.8 L468.1 210.4 L466.6 209.0 L465.2 207.7 L463.8 206.4 L462.5 205.2 L461.3 204.1 L460.1 203.0 L459.0 202.0 L457.9 201.0 L456.9 200.0 L456.0 199.1 L455.2 198.3 L454.3 197.5 L453.5 196.6 L452.7 195.8 L451.9 194.9 L451.0 194.1 L450.1 193.2 L449.3 192.2 L448.4 191.3 L447.4 190.2 L446.4 189.2 L445.3 188.0 L444.0 186.9 L442.7 185.7 L441.2 184.6 L439.7 183.5 L438.2 182.4 L436.5 181.3 L434.8 180.2 L433.1 179.0 L431.2 177.8 L429.2 176.6 L427.2 175.2 L425.0 173.8 L422.6 172.3 L420.2 170.7 L417.6 169.1 L415.0 167.6 L412.4 166.2 L409.7 164.9 L407.0 163.7 L404.2 162.6 L401.3 161.6 L398.5 160.7 L395.7 159.8 L392.9 159.0 L390.3 158.4 L387.9 157.8 L385.5 157.3 L383.0 157.0 L380.7 156.8 L378.5 156.7 L376.5 156.6 L374.8 156.6 L373.4 156.6 L372.3 156.5 L371.7 162.5 L372.8 162.7 L374.3 162.9 L376.0 163.1 L377.8 163.4 L379.8 163.8 L381.9 164.2 L384.0 164.6 L386.1 165.2 L388.4 165.8 L390.8 166.5 L393.4 167.3 L396.0 168.2 L398.7 169.1 L401.3 170.0 L403.9 171.1 L406.3 172.1 L408.7 173.3 L411.0 174.6 L413.4 176.1 L415.8 177.6 L418.2 179.1 L420.5 180.6 L422.7 182.1 L424.8 183.4 L426.7 184.7 L428.5 185.9 L430.2 187.0 L431.8 188.1 L433.3 189.2 L434.8 190.2 L436.1 191.3 L437.3 192.3 L438.5 193.2 L439.5 194.1 L440.4 195.1 L441.3 196.0 L442.2 197.0 L443.1 197.9 L444.0 198.9 L445.0 199.9 L445.9 200.9 L446.8 201.7 L447.6 202.5 L448.4 203.4 L449.2 204.2 L450.1 205.1 L451.1 206.0 L452.1 207.0 L453.2 208.1 L454.3 209.2 L455.5 210.3 L456.7 211.5 L458.0 212.7 L459.2 213.9 L460.5 215.2 L461.9 216.6 L463.4 218.2 L465.0 219.8 L466.7 221.5 L468.4 223.2 L470.0 225.0 L471.6 226.7 L473.0 228.3 L474.2 229.9 L475.3 231.5 L476.3 233.2 L477.3 234.9 L478.3 236.7 L479.2 238.5 L480.0 240.2 L480.8 241.9 L481.6 243.4 L482.2 244.6 L482.6 245.5 L483.0 246.3 L483.3 247.1 L483.5 247.7 L483.8 248.5 L484.1 249.3 L484.5 250.3 L485.0 251.5 L485.5 252.9 L486.1 254.3 L486.7 255.8 L487.3 257.2 L487.8 258.5 L488.2 259.6 L488.5 260.4Z"/>
<path d="M500.4 253.1 L500.1 252.0 L499.7 250.4 L499.2 248.5 L498.7 246.4 L498.1 244.1 L497.5 241.7 L496.8 239.4 L496.2 237.1 L495.5 234.9 L494.8 232.7 L494.1 230.4 L493.3 228.2 L492.6 226.0 L491.8 223.7 L491.1 221.4 L490.4 219.0 L489.7 216.6 L489.0 214.0 L488.3 211.4 L487.6 208.7 L486.9 206.0 L486.2 203.3 L485.5 200.7 L484.8 198.1 L484.1 195.6 L483.3 193.2 L482.6 190.8 L481.9 188.4 L481.2 186.0 L480.5 183.7 L479.8 181.4 L479.1 179.1 L478.4 176.8 L477.8 174.5 L477.1 172.2 L476.5 169.9 L475.8 167.7 L475.2 165.4 L474.5 163.3 L473.9 161.1 L473.2 159.1 L472.6 157.0 L471.9 155.0 L471.3 153.1 L470.6 151.2 L469.9 149.4 L469.3 147.6 L468.6 146.0 L467.9 144.4 L467.2 142.9 L466.5 141.5 L465.8 140.2 L465.1 138.9 L464.4 137.8 L463.8 136.7 L463.1 135.7 L462.5 134.7 L461.8 133.8 L461.1 133.0 L460.4 132.3 L459.9 131.8 L459.4 131.3 L459.0 130.9 L458.7 130.6 L455.3 133.4 L455.6 133.8 L456.0 134.3 L456.5 134.8 L456.9 135.4 L457.4 136.0 L457.9 136.7 L458.4 137.5 L458.9 138.3 L459.4 139.3 L459.9 140.3 L460.5 141.4 L461.1 142.6 L461.7 143.8 L462.2 145.2 L462.8 146.6 L463.4 148.0 L464.0 149.6 L464.6 151.3 L465.1 153.1 L465.7 154.9 L466.3 156.8 L466.9 158.8 L467.5 160.8 L468.1 162.9 L468.7 164.9 L469.3 167.1 L469.9 169.3 L470.5 171.6 L471.1 173.9 L471.7 176.2 L472.3 178.5 L472.9 180.9 L473.6 183.2 L474.2 185.5 L474.9 187.9 L475.5 190.2 L476.2 192.6 L476.9 195.0 L477.6 197.4 L478.2 199.9 L478.9 202.4 L479.6 205.0 L480.2 207.7 L480.9 210.4 L481.6 213.1 L482.3 215.8 L483.0 218.4 L483.6 221.0 L484.3 223.4 L485.1 225.8 L485.8 228.2 L486.5 230.4 L487.2 232.6 L487.8 234.8 L488.4 236.9 L488.8 238.9 L489.2 241.0 L489.5 243.3 L489.8 245.6 L490.0 247.9 L490.2 250.0 L490.3 251.9 L490.5 253.6 L490.6 254.9Z"/>
<path d="M464.7 138.6 L464.1 137.9 L463.3 136.8 L462.3 135.5 L461.1 134.1 L460.0 132.6 L458.8 131.1 L457.6 129.7 L456.5 128.6 L455.7 127.6 L454.9 126.8 L454.1 126.1 L453.4 125.4 L452.5 124.8 L451.6 124.1 L450.5 123.3 L449.1 122.4 L447.5 121.3 L445.7 120.1 L443.6 118.8 L441.4 117.4 L439.2 116.1 L437.0 114.8 L434.8 113.6 L432.8 112.5 L430.8 111.5 L428.7 110.6 L426.6 109.8 L424.6 109.0 L422.7 108.3 L421.0 107.7 L419.6 107.2 L418.5 106.8 L417.5 109.2 L418.6 109.7 L420.0 110.3 L421.6 111.0 L423.4 111.7 L425.4 112.6 L427.4 113.5 L429.3 114.5 L431.2 115.5 L433.1 116.6 L435.2 117.8 L437.3 119.2 L439.4 120.6 L441.5 122.0 L443.5 123.3 L445.3 124.5 L446.9 125.6 L448.1 126.6 L449.1 127.3 L450.0 128.0 L450.6 128.6 L451.3 129.1 L451.9 129.8 L452.6 130.5 L453.5 131.4 L454.4 132.5 L455.5 133.8 L456.6 135.2 L457.7 136.7 L458.8 138.1 L459.8 139.4 L460.6 140.5 L461.3 141.4Z"/>
<path d="M502.5 262.5 L502.5 261.6 L502.6 260.4 L502.6 259.0 L502.7 257.4 L502.8 255.7 L502.9 254.0 L503.1 252.3 L503.3 250.6 L503.5 248.9 L503.7 247.2 L504.0 245.4 L504.3 243.6 L504.7 241.7 L505.1 239.8 L505.5 237.8 L505.9 235.8 L506.4 233.7 L506.9 231.6 L507.5 229.4 L508.1 227.1 L508.7 224.8 L509.3 222.5 L509.9 220.1 L510.4 217.7 L510.9 215.3 L511.4 212.9 L511.8 210.4 L512.2 208.0 L512.6 205.6 L513.0 203.3 L513.4 201.0 L513.9 198.8 L514.4 196.5 L514.9 194.2 L515.4 192.0 L516.0 189.8 L516.5 187.8 L517.1 185.9 L517.8 184.1 L518.5 182.6 L519.2 181.4 L520.0 180.3 L521.0 179.3 L522.0 178.3 L523.2 177.2 L524.5 176.0 L525.9 174.7 L527.4 173.2 L528.8 171.5 L530.2 169.9 L531.7 168.1 L533.3 166.3 L534.8 164.4 L536.3 162.6 L537.9 160.7 L539.3 158.9 L540.8 157.1 L542.3 155.2 L543.8 153.2 L545.2 151.3 L546.6 149.5 L547.9 147.7 L549.2 146.1 L550.2 144.7 L551.1 143.5 L552.0 142.4 L552.7 141.4 L553.3 140.5 L553.9 139.7 L554.3 139.1 L554.7 138.5 L555.1 138.1 L550.9 134.9 L550.6 135.4 L550.1 135.9 L549.6 136.5 L549.1 137.2 L548.4 138.1 L547.6 139.0 L546.8 140.1 L545.8 141.3 L544.7 142.7 L543.4 144.2 L542.1 145.9 L540.6 147.7 L539.2 149.6 L537.7 151.5 L536.1 153.3 L534.7 155.1 L533.2 156.8 L531.7 158.6 L530.1 160.4 L528.6 162.2 L527.0 164.0 L525.5 165.7 L524.0 167.3 L522.6 168.8 L521.4 170.1 L520.2 171.2 L518.9 172.3 L517.6 173.3 L516.3 174.5 L515.0 175.9 L513.7 177.5 L512.5 179.4 L511.5 181.4 L510.7 183.6 L509.9 185.8 L509.3 188.1 L508.7 190.4 L508.1 192.7 L507.6 195.0 L507.1 197.2 L506.6 199.6 L506.1 202.0 L505.7 204.4 L505.3 206.9 L504.9 209.3 L504.5 211.7 L504.0 214.0 L503.6 216.3 L503.1 218.5 L502.5 220.8 L501.9 223.1 L501.4 225.4 L500.8 227.6 L500.2 229.9 L499.6 232.1 L499.1 234.2 L498.6 236.3 L498.1 238.3 L497.7 240.3 L497.3 242.2 L496.9 244.0 L496.5 245.9 L496.1 247.6 L495.7 249.4 L495.4 251.2 L495.1 253.0 L494.7 254.8 L494.4 256.5 L494.1 258.0 L493.9 259.4 L493.7 260.6 L493.5 261.5Z"/>
<path d="M547.8 146.9 L548.2 146.4 L548.9 145.6 L549.6 144.7 L550.5 143.7 L551.4 142.7 L552.3 141.6 L553.2 140.5 L554.0 139.5 L554.7 138.6 L555.4 137.7 L556.1 136.8 L556.8 135.9 L557.5 135.0 L558.2 133.9 L559.1 132.8 L560.0 131.5 L561.1 130.0 L562.1 128.4 L563.2 126.8 L564.4 125.1 L565.6 123.3 L566.9 121.5 L568.4 119.6 L569.9 117.6 L571.7 115.4 L573.7 113.1 L575.8 110.6 L578.1 108.1 L580.3 105.6 L582.6 103.2 L584.7 100.9 L586.8 98.8 L588.7 96.9 L590.7 95.0 L592.6 93.3 L594.6 91.6 L596.4 90.1 L598.2 88.6 L599.9 87.1 L601.5 85.8 L602.9 84.5 L604.3 83.2 L605.6 82.1 L606.7 81.0 L607.8 80.0 L608.7 79.2 L609.5 78.5 L610.1 77.9 L607.9 75.1 L607.2 75.6 L606.3 76.3 L605.3 77.0 L604.1 77.9 L602.9 78.8 L601.5 79.9 L600.0 81.0 L598.5 82.2 L596.9 83.5 L595.2 84.9 L593.4 86.4 L591.4 87.9 L589.4 89.6 L587.4 91.4 L585.3 93.2 L583.2 95.2 L581.1 97.4 L578.9 99.7 L576.6 102.2 L574.3 104.8 L572.1 107.3 L569.9 109.8 L567.9 112.2 L566.1 114.4 L564.4 116.5 L562.9 118.5 L561.5 120.4 L560.2 122.3 L559.1 124.0 L558.0 125.6 L557.0 127.1 L556.0 128.5 L555.0 129.8 L554.2 130.9 L553.4 132.0 L552.7 132.9 L552.1 133.8 L551.4 134.6 L550.7 135.5 L550.0 136.5 L549.3 137.5 L548.4 138.6 L547.6 139.7 L546.8 140.8 L546.0 141.8 L545.3 142.7 L544.7 143.5 L544.2 144.1Z"/>
<path d="M503.9 282.8 L504.2 281.8 L504.5 280.5 L504.8 279.0 L505.2 277.4 L505.6 275.7 L506.1 274.0 L506.5 272.5 L506.8 271.2 L507.2 270.2 L507.4 269.3 L507.7 268.5 L508.0 267.7 L508.3 266.7 L508.7 265.6 L509.3 264.2 L509.9 262.6 L510.6 260.6 L511.5 258.3 L512.3 255.9 L513.3 253.3 L514.3 250.7 L515.3 248.1 L516.4 245.6 L517.5 243.2 L518.7 240.9 L519.9 238.6 L521.1 236.2 L522.4 234.0 L523.7 231.7 L525.1 229.5 L526.5 227.4 L528.0 225.3 L529.6 223.3 L531.2 221.3 L532.9 219.4 L534.7 217.5 L536.5 215.6 L538.4 213.7 L540.5 211.7 L542.6 209.7 L544.8 207.7 L547.1 205.5 L549.5 203.4 L551.9 201.2 L554.4 199.1 L557.0 197.0 L559.6 194.9 L562.2 192.9 L564.8 190.9 L567.6 188.9 L570.5 186.9 L573.4 185.0 L576.2 183.1 L579.0 181.3 L581.7 179.6 L584.3 178.0 L586.6 176.6 L588.8 175.4 L591.0 174.3 L593.1 173.3 L595.2 172.3 L597.3 171.3 L599.4 170.2 L601.7 169.1 L603.9 167.9 L606.2 166.7 L608.4 165.5 L610.7 164.3 L612.9 163.1 L615.1 161.8 L617.3 160.6 L619.5 159.4 L621.8 158.2 L624.2 156.9 L626.7 155.5 L629.1 154.1 L631.4 152.9 L633.5 151.7 L635.2 150.8 L636.5 150.1 L631.5 141.9 L630.3 142.8 L628.7 143.9 L626.7 145.2 L624.5 146.6 L622.3 148.1 L619.9 149.7 L617.6 151.2 L615.5 152.6 L613.4 153.9 L611.3 155.2 L609.1 156.5 L607.0 157.9 L604.8 159.2 L602.6 160.4 L600.5 161.7 L598.3 162.9 L596.3 164.0 L594.2 165.1 L592.2 166.1 L590.1 167.1 L587.9 168.1 L585.6 169.3 L583.2 170.5 L580.7 172.0 L578.1 173.6 L575.3 175.3 L572.4 177.1 L569.5 179.0 L566.5 181.0 L563.5 183.0 L560.6 185.1 L557.8 187.1 L555.1 189.2 L552.4 191.3 L549.8 193.5 L547.1 195.6 L544.6 197.8 L542.1 200.0 L539.7 202.2 L537.4 204.3 L535.3 206.3 L533.2 208.3 L531.2 210.3 L529.2 212.3 L527.3 214.3 L525.5 216.4 L523.7 218.5 L522.0 220.7 L520.3 223.0 L518.7 225.3 L517.2 227.7 L515.7 230.1 L514.4 232.5 L513.0 234.9 L511.8 237.3 L510.5 239.8 L509.3 242.3 L508.0 245.0 L506.9 247.7 L505.8 250.4 L504.7 253.0 L503.8 255.4 L502.9 257.6 L502.1 259.4 L501.4 261.0 L500.8 262.2 L500.3 263.3 L499.8 264.3 L499.4 265.3 L499.0 266.3 L498.6 267.4 L498.2 268.8 L497.8 270.4 L497.4 272.1 L497.1 273.9 L496.8 275.7 L496.6 277.5 L496.4 279.0 L496.2 280.3 L496.1 281.2Z"/>
<path d="M547.7 145.5 L547.3 144.1 L546.8 142.2 L546.1 140.0 L545.4 137.6 L544.7 135.0 L543.9 132.4 L543.2 129.9 L542.7 127.6 L542.1 125.4 L541.7 123.3 L541.2 121.2 L540.8 119.1 L540.4 116.9 L539.9 114.8 L539.5 112.8 L539.1 110.7 L538.6 108.6 L538.2 106.6 L537.7 104.7 L537.3 102.7 L536.9 100.8 L536.4 98.8 L535.9 96.8 L535.5 94.7 L535.0 92.5 L534.5 90.3 L533.9 88.1 L533.4 85.9 L532.9 83.6 L532.3 81.3 L531.7 79.0 L531.2 76.7 L530.6 74.3 L529.9 71.7 L529.2 69.0 L528.5 66.4 L527.8 63.9 L527.2 61.6 L526.7 59.7 L526.3 58.3 L524.7 58.7 L525.0 60.1 L525.5 62.0 L526.0 64.3 L526.5 66.9 L527.1 69.5 L527.7 72.2 L528.3 74.9 L528.8 77.3 L529.3 79.6 L529.8 81.9 L530.3 84.2 L530.7 86.5 L531.2 88.7 L531.6 91.0 L532.1 93.2 L532.5 95.3 L533.0 97.4 L533.4 99.4 L533.8 101.4 L534.3 103.4 L534.7 105.4 L535.1 107.3 L535.5 109.3 L535.9 111.3 L536.3 113.4 L536.7 115.5 L537.1 117.6 L537.5 119.7 L537.9 121.8 L538.4 124.0 L538.8 126.2 L539.3 128.4 L539.9 130.8 L540.6 133.3 L541.3 135.9 L542.0 138.5 L542.7 141.0 L543.4 143.2 L543.9 145.1 L544.3 146.5Z"/>
<path d="M623.9 156.0 L625.2 156.0 L626.7 156.0 L628.6 155.9 L630.7 155.9 L633.0 155.9 L635.3 155.8 L637.7 155.8 L640.0 155.7 L642.3 155.6 L644.7 155.5 L647.1 155.4 L649.6 155.2 L652.1 155.1 L654.7 154.9 L657.3 154.8 L660.0 154.6 L663.0 154.4 L666.3 154.2 L669.8 154.0 L673.3 153.8 L676.6 153.6 L679.6 153.5 L682.2 153.3 L684.0 153.2 L684.0 151.8 L682.1 151.8 L679.6 151.9 L676.5 152.0 L673.2 152.1 L669.7 152.2 L666.2 152.2 L662.9 152.3 L660.0 152.4 L657.2 152.5 L654.6 152.6 L652.0 152.7 L649.4 152.7 L647.0 152.8 L644.6 152.9 L642.2 152.9 L640.0 152.9 L637.7 152.8 L635.4 152.8 L633.0 152.6 L630.8 152.5 L628.7 152.3 L626.8 152.2 L625.3 152.1 L624.1 152.0Z"/>
<path d="M447.4 191.9 L446.0 192.3 L444.2 192.9 L442.2 193.5 L439.9 194.3 L437.5 195.0 L434.9 195.7 L432.2 196.3 L429.6 196.8 L426.9 197.2 L424.1 197.6 L421.1 197.9 L418.0 198.2 L414.8 198.4 L411.6 198.6 L408.3 198.7 L405.0 198.8 L401.5 198.8 L397.8 198.8 L393.9 198.7 L390.0 198.5 L386.2 198.4 L382.5 198.2 L379.1 198.0 L376.1 197.9 L373.5 197.8 L371.2 197.6 L369.2 197.5 L367.3 197.3 L365.5 197.1 L363.7 197.0 L362.0 196.9 L360.1 196.8 L358.1 196.8 L356.1 196.8 L354.0 196.8 L352.0 196.8 L350.2 196.9 L348.5 196.9 L347.1 197.0 L346.0 197.0 L346.0 199.0 L347.0 199.1 L348.4 199.2 L350.1 199.3 L352.0 199.5 L353.9 199.6 L356.0 199.8 L358.0 200.0 L359.9 200.2 L361.7 200.4 L363.4 200.6 L365.1 200.9 L366.8 201.1 L368.8 201.4 L370.9 201.7 L373.2 201.9 L375.9 202.1 L378.9 202.3 L382.3 202.5 L386.0 202.7 L389.8 202.9 L393.8 203.0 L397.7 203.2 L401.5 203.2 L405.0 203.2 L408.4 203.1 L411.8 203.0 L415.1 202.8 L418.4 202.6 L421.5 202.3 L424.6 202.0 L427.5 201.6 L430.4 201.2 L433.2 200.6 L436.0 200.0 L438.7 199.2 L441.2 198.5 L443.6 197.7 L445.6 197.1 L447.3 196.5 L448.6 196.1Z"/>
<path d="M371.9 145.5 L371.6 145.3 L371.3 145.0 L370.9 144.7 L370.5 144.3 L369.9 143.9 L369.3 143.3 L368.6 142.7 L367.8 142.1 L366.8 141.3 L365.6 140.4 L364.4 139.3 L363.0 138.2 L361.7 137.1 L360.3 136.1 L358.9 135.0 L357.7 134.1 L356.4 133.2 L355.0 132.4 L353.7 131.5 L352.4 130.8 L351.1 130.0 L350.0 129.4 L349.1 128.8 L348.4 128.4 L347.6 129.6 L348.3 130.1 L349.2 130.7 L350.2 131.4 L351.4 132.2 L352.6 133.1 L353.9 134.1 L355.2 135.0 L356.3 135.9 L357.6 136.8 L358.9 137.9 L360.2 139.0 L361.6 140.1 L362.9 141.2 L364.1 142.2 L365.3 143.1 L366.2 143.9 L367.0 144.6 L367.7 145.2 L368.3 145.7 L368.8 146.2 L369.2 146.6 L369.6 146.9 L369.9 147.2 L370.1 147.5Z"/>
<path d="M556.5 204.4 L557.6 204.0 L559.0 203.4 L560.7 202.8 L562.5 202.1 L564.5 201.3 L566.5 200.6 L568.5 199.9 L570.4 199.2 L572.1 198.7 L573.8 198.1 L575.5 197.6 L577.2 197.1 L578.9 196.6 L580.8 196.1 L582.9 195.7 L585.2 195.2 L587.9 194.7 L590.7 194.1 L593.8 193.6 L597.0 193.0 L600.3 192.5 L603.6 192.1 L606.8 191.8 L610.0 191.6 L613.4 191.6 L617.0 191.7 L620.7 192.0 L624.5 192.3 L628.0 192.7 L631.2 193.0 L633.9 193.3 L635.9 193.5 L636.1 191.5 L634.1 191.3 L631.4 191.0 L628.2 190.6 L624.7 190.2 L620.9 189.9 L617.1 189.6 L613.4 189.4 L610.0 189.4 L606.7 189.6 L603.3 189.9 L600.0 190.3 L596.6 190.7 L593.4 191.3 L590.3 191.8 L587.4 192.3 L584.8 192.8 L582.4 193.3 L580.2 193.8 L578.3 194.2 L576.5 194.7 L574.8 195.2 L573.1 195.7 L571.4 196.2 L569.6 196.8 L567.7 197.4 L565.7 198.0 L563.6 198.7 L561.6 199.4 L559.7 200.1 L558.0 200.7 L556.6 201.2 L555.5 201.6Z"/>
<path d="M609.0 190.7 L609.3 191.4 L609.6 192.3 L610.0 193.4 L610.5 194.6 L610.9 195.9 L611.4 197.2 L611.9 198.4 L612.3 199.6 L612.7 200.6 L613.1 201.8 L613.6 202.9 L614.0 204.0 L614.4 205.0 L614.8 206.0 L615.1 206.8 L615.4 207.4 L617.6 206.6 L617.5 206.0 L617.3 205.2 L617.1 204.2 L616.9 203.1 L616.6 202.0 L616.3 200.8 L616.0 199.6 L615.7 198.4 L615.4 197.3 L615.0 196.0 L614.6 194.7 L614.2 193.4 L613.8 192.1 L613.5 191.0 L613.2 190.0 L613.0 189.3Z"/>
<path d="M424.6 81.8 L424.4 81.0 L424.2 80.1 L424.0 78.9 L423.7 77.7 L423.5 76.3 L423.1 74.8 L422.8 73.3 L422.5 71.8 L422.1 70.1 L421.6 68.3 L421.2 66.2 L420.7 64.2 L420.2 62.2 L419.7 60.5 L419.4 59.0 L419.1 57.9 L417.9 58.1 L418.1 59.2 L418.4 60.8 L418.7 62.6 L419.1 64.5 L419.5 66.6 L419.9 68.6 L420.2 70.5 L420.5 72.2 L420.8 73.7 L421.1 75.2 L421.4 76.7 L421.6 78.1 L421.9 79.4 L422.1 80.5 L422.3 81.5 L422.4 82.2Z"/>
<path d="M605.7 164.2 L605.8 163.2 L606.0 161.7 L606.3 159.9 L606.5 158.0 L606.8 155.9 L607.1 153.9 L607.3 151.9 L607.5 150.2 L607.6 148.5 L607.8 146.7 L607.9 144.9 L608.0 143.2 L608.0 141.6 L608.1 140.2 L608.2 139.0 L608.2 138.1 L605.8 137.9 L605.7 138.8 L605.6 140.0 L605.5 141.4 L605.3 143.0 L605.1 144.7 L604.9 146.5 L604.7 148.2 L604.5 149.8 L604.3 151.6 L604.0 153.5 L603.7 155.5 L603.3 157.5 L603.0 159.4 L602.7 161.2 L602.5 162.7 L602.3 163.8Z"/>
<path d="M663.9 158.9 L663.8 159.4 L663.7 160.2 L663.5 161.0 L663.3 161.9 L663.1 162.9 L662.9 163.9 L662.6 164.9 L662.4 165.8 L662.1 166.7 L661.7 167.7 L661.2 168.7 L660.8 169.7 L660.3 170.6 L659.9 171.5 L659.6 172.2 L659.4 172.7 L660.6 173.3 L660.9 172.7 L661.2 172.0 L661.6 171.2 L662.0 170.2 L662.5 169.2 L662.9 168.2 L663.3 167.2 L663.6 166.2 L663.9 165.2 L664.1 164.2 L664.4 163.2 L664.5 162.2 L664.7 161.2 L664.9 160.4 L665.0 159.7 L665.1 159.1Z"/>
</g>
<g fill="#8c5a2c">
<path d="M513.0 413.4 L512.8 410.8 L512.5 407.4 L512.1 403.4 L511.8 398.9 L511.3 394.1 L510.9 389.2 L510.6 384.3 L510.2 379.6 L510.0 374.9 L509.7 370.0 L509.5 364.9 L509.2 359.8 L509.0 354.6 L508.8 349.5 L508.6 344.5 L508.3 339.6 L508.1 334.9 L507.9 330.1 L507.7 325.4 L507.4 320.8 L507.2 316.3 L507.0 312.1 L506.8 308.2 L506.6 304.5 L506.5 301.3 L506.3 298.4 L506.2 295.7 L506.1 293.3 L506.0 291.0 L505.9 288.8 L505.8 286.7 L505.7 284.6 L505.6 282.5 L505.6 280.6 L505.6 278.7 L505.5 276.9 L505.5 275.1 L505.5 273.2 L505.4 271.4 L505.3 269.5 L505.1 267.7 L505.0 265.8 L504.8 264.0 L504.6 262.2 L504.3 260.4 L504.1 258.6 L503.8 256.9 L503.5 255.2 L503.1 253.4 L502.6 251.6 L502.1 249.9 L501.6 248.2 L501.1 246.6 L500.6 245.2 L500.2 244.0 L499.9 243.2 L487.1 244.8 L487.0 245.8 L487.0 247.0 L486.9 248.5 L486.8 250.1 L486.7 251.8 L486.6 253.5 L486.6 255.2 L486.5 256.8 L486.5 258.4 L486.5 260.1 L486.5 261.7 L486.6 263.5 L486.6 265.2 L486.6 266.9 L486.7 268.7 L486.7 270.5 L486.8 272.2 L486.8 273.9 L486.9 275.6 L487.0 277.4 L487.0 279.2 L487.1 281.2 L487.2 283.2 L487.3 285.4 L487.4 287.6 L487.5 289.7 L487.6 291.9 L487.8 294.2 L487.9 296.7 L488.0 299.3 L488.2 302.2 L488.4 305.5 L488.6 309.1 L488.8 313.0 L489.0 317.3 L489.2 321.7 L489.5 326.3 L489.7 331.0 L489.9 335.7 L490.1 340.4 L490.2 345.1 L490.3 350.1 L490.4 355.2 L490.5 360.3 L490.5 365.5 L490.6 370.6 L490.7 375.6 L490.8 380.4 L490.9 385.2 L491.0 390.2 L491.1 395.2 L491.2 400.1 L491.3 404.6 L491.4 408.6 L491.5 412.0 L491.6 414.6Z"/>
<path d="M499.5 255.6 L499.1 254.8 L498.6 253.7 L497.9 252.5 L497.2 251.1 L496.5 249.6 L495.8 248.2 L495.1 246.8 L494.5 245.7 L494.0 244.7 L493.5 243.9 L493.1 243.2 L492.7 242.4 L492.2 241.7 L491.7 240.8 L491.1 239.8 L490.4 238.6 L489.7 237.3 L488.8 235.7 L487.9 234.0 L486.9 232.1 L485.8 230.1 L484.6 228.1 L483.3 226.1 L481.8 224.1 L480.2 222.2 L478.5 220.3 L476.7 218.5 L474.9 216.7 L473.0 215.0 L471.3 213.4 L469.6 211.8 L468.1 210.4 L466.6 209.0 L465.2 207.7 L463.8 206.4 L462.5 205.2 L461.3 204.1 L460.1 203.0 L459.0 202.0 L457.9 201.0 L456.9 200.0 L456.0 199.1 L455.2 198.3 L454.3 197.5 L453.5 196.6 L452.7 195.8 L451.9 194.9 L451.0 194.1 L450.1 193.2 L449.3 192.2 L448.4 191.3 L447.4 190.2 L446.4 189.2 L445.3 188.0 L444.0 186.9 L442.7 185.7 L441.2 184.6 L439.7 183.5 L438.2 182.4 L436.5 181.3 L434.8 180.2 L433.1 179.0 L431.2 177.8 L429.2 176.6 L427.2 175.2 L425.0 173.8 L422.6 172.3 L420.2 170.7 L417.6 169.1 L415.0 167.6 L412.4 166.2 L409.7 164.9 L407.0 163.7 L404.2 162.6 L401.3 161.6 L398.5 160.7 L395.7 159.8 L392.9 159.0 L390.3 158.4 L387.9 157.8 L385.5 157.3 L383.0 157.0 L380.7 156.8 L378.5 156.7 L376.5 156.6 L374.8 156.6 L373.4 156.6 L372.3 156.5 L371.7 162.5 L372.8 162.7 L374.3 162.9 L376.0 163.1 L377.8 163.4 L379.8 163.8 L381.9 164.2 L384.0 164.6 L386.1 165.2 L388.4 165.8 L390.8 166.5 L393.4 167.3 L396.0 168.2 L398.7 169.1 L401.3 170.0 L403.9 171.1 L406.3 172.1 L408.7 173.3 L411.0 174.6 L413.4 176.1 L415.8 177.6 L418.2 179.1 L420.5 180.6 L422.7 182.1 L424.8 183.4 L426.7 184.7 L428.5 185.9 L430.2 187.0 L431.8 188.1 L433.3 189.2 L434.8 190.2 L436.1 191.3 L437.3 192.3 L438.5 193.2 L439.5 194.1 L440.4 195.1 L441.3 196.0 L442.2 197.0 L443.1 197.9 L444.0 198.9 L445.0 199.9 L445.9 200.9 L446.8 201.7 L447.6 202.5 L448.4 203.4 L449.2 204.2 L450.1 205.1 L451.1 206.0 L452.1 207.0 L453.2 208.1 L454.3 209.2 L455.5 210.3 L456.7 211.5 L458.0 212.7 L459.2 213.9 L460.5 215.2 L461.9 216.6 L463.4 218.2 L465.0 219.8 L466.7 221.5 L468.4 223.2 L470.0 225.0 L471.6 226.7 L473.0 228.3 L474.2 229.9 L475.3 231.5 L476.3 233.2 L477.3 234.9 L478.3 236.7 L479.2 238.5 L480.0 240.2 L480.8 241.9 L481.6 243.4 L482.2 244.6 L482.6 245.5 L483.0 246.3 L483.3 247.1 L483.5 247.7 L483.8 248.5 L484.1 249.3 L484.5 250.3 L485.0 251.5 L485.5 252.9 L486.1 254.3 L486.7 255.8 L487.3 257.2 L487.8 258.5 L488.2 259.6 L488.5 260.4Z"/>
<path d="M500.4 253.1 L500.1 252.0 L499.7 250.4 L499.2 248.5 L498.7 246.4 L498.1 244.1 L497.5 241.7 L496.8 239.4 L496.2 237.1 L495.5 234.9 L494.8 232.7 L494.1 230.4 L493.3 228.2 L492.6 226.0 L491.8 223.7 L491.1 221.4 L490.4 219.0 L489.7 216.6 L489.0 214.0 L488.3 211.4 L487.6 208.7 L486.9 206.0 L486.2 203.3 L485.5 200.7 L484.8 198.1 L484.1 195.6 L483.3 193.2 L482.6 190.8 L481.9 188.4 L481.2 186.0 L480.5 183.7 L479.8 181.4 L479.1 179.1 L478.4 176.8 L477.8 174.5 L477.1 172.2 L476.5 169.9 L475.8 167.7 L475.2 165.4 L474.5 163.3 L473.9 161.1 L473.2 159.1 L472.6 157.0 L471.9 155.0 L471.3 153.1 L470.6 151.2 L469.9 149.4 L469.3 147.6 L468.6 146.0 L467.9 144.4 L467.2 142.9 L466.5 141.5 L465.8 140.2 L465.1 138.9 L464.4 137.8 L463.8 136.7 L463.1 135.7 L462.5 134.7 L461.8 133.8 L461.1 133.0 L460.4 132.3 L459.9 131.8 L459.4 131.3 L459.0 130.9 L458.7 130.6 L455.3 133.4 L455.6 133.8 L456.0 134.3 L456.5 134.8 L456.9 135.4 L457.4 136.0 L457.9 136.7 L458.4 137.5 L458.9 138.3 L459.4 139.3 L459.9 140.3 L460.5 141.4 L461.1 142.6 L461.7 143.8 L462.2 145.2 L462.8 146.6 L463.4 148.0 L464.0 149.6 L464.6 151.3 L465.1 153.1 L465.7 154.9 L466.3 156.8 L466.9 158.8 L467.5 160.8 L468.1 162.9 L468.7 164.9 L469.3 167.1 L469.9 169.3 L470.5 171.6 L471.1 173.9 L471.7 176.2 L472.3 178.5 L472.9 180.9 L473.6 183.2 L474.2 185.5 L474.9 187.9 L475.5 190.2 L476.2 192.6 L476.9 195.0 L477.6 197.4 L478.2 199.9 L478.9 202.4 L479.6 205.0 L480.2 207.7 L480.9 210.4 L481.6 213.1 L482.3 215.8 L483.0 218.4 L483.6 221.0 L484.3 223.4 L485.1 225.8 L485.8 228.2 L486.5 230.4 L487.2 232.6 L487.8 234.8 L488.4 236.9 L488.8 238.9 L489.2 241.0 L489.5 243.3 L489.8 245.6 L490.0 247.9 L490.2 250.0 L490.3 251.9 L490.5 253.6 L490.6 254.9Z"/>
<path d="M464.7 138.6 L464.1 137.9 L463.3 136.8 L462.3 135.5 L461.1 134.1 L460.0 132.6 L458.8 131.1 L457.6 129.7 L456.5 128.6 L455.7 127.6 L454.9 126.8 L454.1 126.1 L453.4 125.4 L452.5 124.8 L451.6 124.1 L450.5 123.3 L449.1 122.4 L447.5 121.3 L445.7 120.1 L443.6 118.8 L441.4 117.4 L439.2 116.1 L437.0 114.8 L434.8 113.6 L432.8 112.5 L430.8 111.5 L428.7 110.6 L426.6 109.8 L424.6 109.0 L422.7 108.3 L421.0 107.7 L419.6 107.2 L418.5 106.8 L417.5 109.2 L418.6 109.7 L420.0 110.3 L421.6 111.0 L423.4 111.7 L425.4 112.6 L427.4 113.5 L429.3 114.5 L431.2 115.5 L433.1 116.6 L435.2 117.8 L437.3 119.2 L439.4 120.6 L441.5 122.0 L443.5 123.3 L445.3 124.5 L446.9 125.6 L448.1 126.6 L449.1 127.3 L450.0 128.0 L450.6 128.6 L451.3 129.1 L451.9 129.8 L452.6 130.5 L453.5 131.4 L454.4 132.5 L455.5 133.8 L456.6 135.2 L457.7 136.7 L458.8 138.1 L459.8 139.4 L460.6 140.5 L461.3 141.4Z" fill="#6a4526"/>
<path d="M502.5 262.5 L502.5 261.6 L502.6 260.4 L502.6 259.0 L502.7 257.4 L502.8 255.7 L502.9 254.0 L503.1 252.3 L503.3 250.6 L503.5 248.9 L503.7 247.2 L504.0 245.4 L504.3 243.6 L504.7 241.7 L505.1 239.8 L505.5 237.8 L505.9 235.8 L506.4 233.7 L506.9 231.6 L507.5 229.4 L508.1 227.1 L508.7 224.8 L509.3 222.5 L509.9 220.1 L510.4 217.7 L510.9 215.3 L511.4 212.9 L511.8 210.4 L512.2 208.0 L512.6 205.6 L513.0 203.3 L513.4 201.0 L513.9 198.8 L514.4 196.5 L514.9 194.2 L515.4 192.0 L516.0 189.8 L516.5 187.8 L517.1 185.9 L517.8 184.1 L518.5 182.6 L519.2 181.4 L520.0 180.3 L521.0 179.3 L522.0 178.3 L523.2 177.2 L524.5 176.0 L525.9 174.7 L527.4 173.2 L528.8 171.5 L530.2 169.9 L531.7 168.1 L533.3 166.3 L534.8 164.4 L536.3 162.6 L537.9 160.7 L539.3 158.9 L540.8 157.1 L542.3 155.2 L543.8 153.2 L545.2 151.3 L546.6 149.5 L547.9 147.7 L549.2 146.1 L550.2 144.7 L551.1 143.5 L552.0 142.4 L552.7 141.4 L553.3 140.5 L553.9 139.7 L554.3 139.1 L554.7 138.5 L555.1 138.1 L550.9 134.9 L550.6 135.4 L550.1 135.9 L549.6 136.5 L549.1 137.2 L548.4 138.1 L547.6 139.0 L546.8 140.1 L545.8 141.3 L544.7 142.7 L543.4 144.2 L542.1 145.9 L540.6 147.7 L539.2 149.6 L537.7 151.5 L536.1 153.3 L534.7 155.1 L533.2 156.8 L531.7 158.6 L530.1 160.4 L528.6 162.2 L527.0 164.0 L525.5 165.7 L524.0 167.3 L522.6 168.8 L521.4 170.1 L520.2 171.2 L518.9 172.3 L517.6 173.3 L516.3 174.5 L515.0 175.9 L513.7 177.5 L512.5 179.4 L511.5 181.4 L510.7 183.6 L509.9 185.8 L509.3 188.1 L508.7 190.4 L508.1 192.7 L507.6 195.0 L507.1 197.2 L506.6 199.6 L506.1 202.0 L505.7 204.4 L505.3 206.9 L504.9 209.3 L504.5 211.7 L504.0 214.0 L503.6 216.3 L503.1 218.5 L502.5 220.8 L501.9 223.1 L501.4 225.4 L500.8 227.6 L500.2 229.9 L499.6 232.1 L499.1 234.2 L498.6 236.3 L498.1 238.3 L497.7 240.3 L497.3 242.2 L496.9 244.0 L496.5 245.9 L496.1 247.6 L495.7 249.4 L495.4 251.2 L495.1 253.0 L494.7 254.8 L494.4 256.5 L494.1 258.0 L493.9 259.4 L493.7 260.6 L493.5 261.5Z"/>
<path d="M547.8 146.9 L548.2 146.4 L548.9 145.6 L549.6 144.7 L550.5 143.7 L551.4 142.7 L552.3 141.6 L553.2 140.5 L554.0 139.5 L554.7 138.6 L555.4 137.7 L556.1 136.8 L556.8 135.9 L557.5 135.0 L558.2 133.9 L559.1 132.8 L560.0 131.5 L561.1 130.0 L562.1 128.4 L563.2 126.8 L564.4 125.1 L565.6 123.3 L566.9 121.5 L568.4 119.6 L569.9 117.6 L571.7 115.4 L573.7 113.1 L575.8 110.6 L578.1 108.1 L580.3 105.6 L582.6 103.2 L584.7 100.9 L586.8 98.8 L588.7 96.9 L590.7 95.0 L592.6 93.3 L594.6 91.6 L596.4 90.1 L598.2 88.6 L599.9 87.1 L601.5 85.8 L602.9 84.5 L604.3 83.2 L605.6 82.1 L606.7 81.0 L607.8 80.0 L608.7 79.2 L609.5 78.5 L610.1 77.9 L607.9 75.1 L607.2 75.6 L606.3 76.3 L605.3 77.0 L604.1 77.9 L602.9 78.8 L601.5 79.9 L600.0 81.0 L598.5 82.2 L596.9 83.5 L595.2 84.9 L593.4 86.4 L591.4 87.9 L589.4 89.6 L587.4 91.4 L585.3 93.2 L583.2 95.2 L581.1 97.4 L578.9 99.7 L576.6 102.2 L574.3 104.8 L572.1 107.3 L569.9 109.8 L567.9 112.2 L566.1 114.4 L564.4 116.5 L562.9 118.5 L561.5 120.4 L560.2 122.3 L559.1 124.0 L558.0 125.6 L557.0 127.1 L556.0 128.5 L555.0 129.8 L554.2 130.9 L553.4 132.0 L552.7 132.9 L552.1 133.8 L551.4 134.6 L550.7 135.5 L550.0 136.5 L549.3 137.5 L548.4 138.6 L547.6 139.7 L546.8 140.8 L546.0 141.8 L545.3 142.7 L544.7 143.5 L544.2 144.1Z" fill="#6a4526"/>
<path d="M503.9 282.8 L504.2 281.8 L504.5 280.5 L504.8 279.0 L505.2 277.4 L505.6 275.7 L506.1 274.0 L506.5 272.5 L506.8 271.2 L507.2 270.2 L507.4 269.3 L507.7 268.5 L508.0 267.7 L508.3 266.7 L508.7 265.6 L509.3 264.2 L509.9 262.6 L510.6 260.6 L511.5 258.3 L512.3 255.9 L513.3 253.3 L514.3 250.7 L515.3 248.1 L516.4 245.6 L517.5 243.2 L518.7 240.9 L519.9 238.6 L521.1 236.2 L522.4 234.0 L523.7 231.7 L525.1 229.5 L526.5 227.4 L528.0 225.3 L529.6 223.3 L531.2 221.3 L532.9 219.4 L534.7 217.5 L536.5 215.6 L538.4 213.7 L540.5 211.7 L542.6 209.7 L544.8 207.7 L547.1 205.5 L549.5 203.4 L551.9 201.2 L554.4 199.1 L557.0 197.0 L559.6 194.9 L562.2 192.9 L564.8 190.9 L567.6 188.9 L570.5 186.9 L573.4 185.0 L576.2 183.1 L579.0 181.3 L581.7 179.6 L584.3 178.0 L586.6 176.6 L588.8 175.4 L591.0 174.3 L593.1 173.3 L595.2 172.3 L597.3 171.3 L599.4 170.2 L601.7 169.1 L603.9 167.9 L606.2 166.7 L608.4 165.5 L610.7 164.3 L612.9 163.1 L615.1 161.8 L617.3 160.6 L619.5 159.4 L621.8 158.2 L624.2 156.9 L626.7 155.5 L629.1 154.1 L631.4 152.9 L633.5 151.7 L635.2 150.8 L636.5 150.1 L631.5 141.9 L630.3 142.8 L628.7 143.9 L626.7 145.2 L624.5 146.6 L622.3 148.1 L619.9 149.7 L617.6 151.2 L615.5 152.6 L613.4 153.9 L611.3 155.2 L609.1 156.5 L607.0 157.9 L604.8 159.2 L602.6 160.4 L600.5 161.7 L598.3 162.9 L596.3 164.0 L594.2 165.1 L592.2 166.1 L590.1 167.1 L587.9 168.1 L585.6 169.3 L583.2 170.5 L580.7 172.0 L578.1 173.6 L575.3 175.3 L572.4 177.1 L569.5 179.0 L566.5 181.0 L563.5 183.0 L560.6 185.1 L557.8 187.1 L555.1 189.2 L552.4 191.3 L549.8 193.5 L547.1 195.6 L544.6 197.8 L542.1 200.0 L539.7 202.2 L537.4 204.3 L535.3 206.3 L533.2 208.3 L531.2 210.3 L529.2 212.3 L527.3 214.3 L525.5 216.4 L523.7 218.5 L522.0 220.7 L520.3 223.0 L518.7 225.3 L517.2 227.7 L515.7 230.1 L514.4 232.5 L513.0 234.9 L511.8 237.3 L510.5 239.8 L509.3 242.3 L508.0 245.0 L506.9 247.7 L505.8 250.4 L504.7 253.0 L503.8 255.4 L502.9 257.6 L502.1 259.4 L501.4 261.0 L500.8 262.2 L500.3 263.3 L499.8 264.3 L499.4 265.3 L499.0 266.3 L498.6 267.4 L498.2 268.8 L497.8 270.4 L497.4 272.1 L497.1 273.9 L496.8 275.7 L496.6 277.5 L496.4 279.0 L496.2 280.3 L496.1 281.2Z"/>
<path d="M547.7 145.5 L547.3 144.1 L546.8 142.2 L546.1 140.0 L545.4 137.6 L544.7 135.0 L543.9 132.4 L543.2 129.9 L542.7 127.6 L542.1 125.4 L541.7 123.3 L541.2 121.2 L540.8 119.1 L540.4 116.9 L539.9 114.8 L539.5 112.8 L539.1 110.7 L538.6 108.6 L538.2 106.6 L537.7 104.7 L537.3 102.7 L536.9 100.8 L536.4 98.8 L535.9 96.8 L535.5 94.7 L535.0 92.5 L534.5 90.3 L533.9 88.1 L533.4 85.9 L532.9 83.6 L532.3 81.3 L531.7 79.0 L531.2 76.7 L530.6 74.3 L529.9 71.7 L529.2 69.0 L528.5 66.4 L527.8 63.9 L527.2 61.6 L526.7 59.7 L526.3 58.3 L524.7 58.7 L525.0 60.1 L525.5 62.0 L526.0 64.3 L526.5 66.9 L527.1 69.5 L527.7 72.2 L528.3 74.9 L528.8 77.3 L529.3 79.6 L529.8 81.9 L530.3 84.2 L530.7 86.5 L531.2 88.7 L531.6 91.0 L532.1 93.2 L532.5 95.3 L533.0 97.4 L533.4 99.4 L533.8 101.4 L534.3 103.4 L534.7 105.4 L535.1 107.3 L535.5 109.3 L535.9 111.3 L536.3 113.4 L536.7 115.5 L537.1 117.6 L537.5 119.7 L537.9 121.8 L538.4 124.0 L538.8 126.2 L539.3 128.4 L539.9 130.8 L540.6 133.3 L541.3 135.9 L542.0 138.5 L542.7 141.0 L543.4 143.2 L543.9 145.1 L544.3 146.5Z" fill="#6a4526"/>
<path d="M623.9 156.0 L625.2 156.0 L626.7 156.0 L628.6 155.9 L630.7 155.9 L633.0 155.9 L635.3 155.8 L637.7 155.8 L640.0 155.7 L642.3 155.6 L644.7 155.5 L647.1 155.4 L649.6 155.2 L652.1 155.1 L654.7 154.9 L657.3 154.8 L660.0 154.6 L663.0 154.4 L666.3 154.2 L669.8 154.0 L673.3 153.8 L676.6 153.6 L679.6 153.5 L682.2 153.3 L684.0 153.2 L684.0 151.8 L682.1 151.8 L679.6 151.9 L676.5 152.0 L673.2 152.1 L669.7 152.2 L666.2 152.2 L662.9 152.3 L660.0 152.4 L657.2 152.5 L654.6 152.6 L652.0 152.7 L649.4 152.7 L647.0 152.8 L644.6 152.9 L642.2 152.9 L640.0 152.9 L637.7 152.8 L635.4 152.8 L633.0 152.6 L630.8 152.5 L628.7 152.3 L626.8 152.2 L625.3 152.1 L624.1 152.0Z" fill="#6a4526"/>
<path d="M447.4 191.9 L446.0 192.3 L444.2 192.9 L442.2 193.5 L439.9 194.3 L437.5 195.0 L434.9 195.7 L432.2 196.3 L429.6 196.8 L426.9 197.2 L424.1 197.6 L421.1 197.9 L418.0 198.2 L414.8 198.4 L411.6 198.6 L408.3 198.7 L405.0 198.8 L401.5 198.8 L397.8 198.8 L393.9 198.7 L390.0 198.5 L386.2 198.4 L382.5 198.2 L379.1 198.0 L376.1 197.9 L373.5 197.8 L371.2 197.6 L369.2 197.5 L367.3 197.3 L365.5 197.1 L363.7 197.0 L362.0 196.9 L360.1 196.8 L358.1 196.8 L356.1 196.8 L354.0 196.8 L352.0 196.8 L350.2 196.9 L348.5 196.9 L347.1 197.0 L346.0 197.0 L346.0 199.0 L347.0 199.1 L348.4 199.2 L350.1 199.3 L352.0 199.5 L353.9 199.6 L356.0 199.8 L358.0 200.0 L359.9 200.2 L361.7 200.4 L363.4 200.6 L365.1 200.9 L366.8 201.1 L368.8 201.4 L370.9 201.7 L373.2 201.9 L375.9 202.1 L378.9 202.3 L382.3 202.5 L386.0 202.7 L389.8 202.9 L393.8 203.0 L397.7 203.2 L401.5 203.2 L405.0 203.2 L408.4 203.1 L411.8 203.0 L415.1 202.8 L418.4 202.6 L421.5 202.3 L424.6 202.0 L427.5 201.6 L430.4 201.2 L433.2 200.6 L436.0 200.0 L438.7 199.2 L441.2 198.5 L443.6 197.7 L445.6 197.1 L447.3 196.5 L448.6 196.1Z" fill="#6a4526"/>
<path d="M371.9 145.5 L371.6 145.3 L371.3 145.0 L370.9 144.7 L370.5 144.3 L369.9 143.9 L369.3 143.3 L368.6 142.7 L367.8 142.1 L366.8 141.3 L365.6 140.4 L364.4 139.3 L363.0 138.2 L361.7 137.1 L360.3 136.1 L358.9 135.0 L357.7 134.1 L356.4 133.2 L355.0 132.4 L353.7 131.5 L352.4 130.8 L351.1 130.0 L350.0 129.4 L349.1 128.8 L348.4 128.4 L347.6 129.6 L348.3 130.1 L349.2 130.7 L350.2 131.4 L351.4 132.2 L352.6 133.1 L353.9 134.1 L355.2 135.0 L356.3 135.9 L357.6 136.8 L358.9 137.9 L360.2 139.0 L361.6 140.1 L362.9 141.2 L364.1 142.2 L365.3 143.1 L366.2 143.9 L367.0 144.6 L367.7 145.2 L368.3 145.7 L368.8 146.2 L369.2 146.6 L369.6 146.9 L369.9 147.2 L370.1 147.5Z" fill="#6a4526"/>
<path d="M556.5 204.4 L557.6 204.0 L559.0 203.4 L560.7 202.8 L562.5 202.1 L564.5 201.3 L566.5 200.6 L568.5 199.9 L570.4 199.2 L572.1 198.7 L573.8 198.1 L575.5 197.6 L577.2 197.1 L578.9 196.6 L580.8 196.1 L582.9 195.7 L585.2 195.2 L587.9 194.7 L590.7 194.1 L593.8 193.6 L597.0 193.0 L600.3 192.5 L603.6 192.1 L606.8 191.8 L610.0 191.6 L613.4 191.6 L617.0 191.7 L620.7 192.0 L624.5 192.3 L628.0 192.7 L631.2 193.0 L633.9 193.3 L635.9 193.5 L636.1 191.5 L634.1 191.3 L631.4 191.0 L628.2 190.6 L624.7 190.2 L620.9 189.9 L617.1 189.6 L613.4 189.4 L610.0 189.4 L606.7 189.6 L603.3 189.9 L600.0 190.3 L596.6 190.7 L593.4 191.3 L590.3 191.8 L587.4 192.3 L584.8 192.8 L582.4 193.3 L580.2 193.8 L578.3 194.2 L576.5 194.7 L574.8 195.2 L573.1 195.7 L571.4 196.2 L569.6 196.8 L567.7 197.4 L565.7 198.0 L563.6 198.7 L561.6 199.4 L559.7 200.1 L558.0 200.7 L556.6 201.2 L555.5 201.6Z" fill="#6a4526"/>
<path d="M609.0 190.7 L609.3 191.4 L609.6 192.3 L610.0 193.4 L610.5 194.6 L610.9 195.9 L611.4 197.2 L611.9 198.4 L612.3 199.6 L612.7 200.6 L613.1 201.8 L613.6 202.9 L614.0 204.0 L614.4 205.0 L614.8 206.0 L615.1 206.8 L615.4 207.4 L617.6 206.6 L617.5 206.0 L617.3 205.2 L617.1 204.2 L616.9 203.1 L616.6 202.0 L616.3 200.8 L616.0 199.6 L615.7 198.4 L615.4 197.3 L615.0 196.0 L614.6 194.7 L614.2 193.4 L613.8 192.1 L613.5 191.0 L613.2 190.0 L613.0 189.3Z" fill="#6a4526"/>
<path d="M424.6 81.8 L424.4 81.0 L424.2 80.1 L424.0 78.9 L423.7 77.7 L423.5 76.3 L423.1 74.8 L422.8 73.3 L422.5 71.8 L422.1 70.1 L421.6 68.3 L421.2 66.2 L420.7 64.2 L420.2 62.2 L419.7 60.5 L419.4 59.0 L419.1 57.9 L417.9 58.1 L418.1 59.2 L418.4 60.8 L418.7 62.6 L419.1 64.5 L419.5 66.6 L419.9 68.6 L420.2 70.5 L420.5 72.2 L420.8 73.7 L421.1 75.2 L421.4 76.7 L421.6 78.1 L421.9 79.4 L422.1 80.5 L422.3 81.5 L422.4 82.2Z" fill="#6a4526"/>
<path d="M605.7 164.2 L605.8 163.2 L606.0 161.7 L606.3 159.9 L606.5 158.0 L606.8 155.9 L607.1 153.9 L607.3 151.9 L607.5 150.2 L607.6 148.5 L607.8 146.7 L607.9 144.9 L608.0 143.2 L608.0 141.6 L608.1 140.2 L608.2 139.0 L608.2 138.1 L605.8 137.9 L605.7 138.8 L605.6 140.0 L605.5 141.4 L605.3 143.0 L605.1 144.7 L604.9 146.5 L604.7 148.2 L604.5 149.8 L604.3 151.6 L604.0 153.5 L603.7 155.5 L603.3 157.5 L603.0 159.4 L602.7 161.2 L602.5 162.7 L602.3 163.8Z" fill="#6a4526"/>
<path d="M663.9 158.9 L663.8 159.4 L663.7 160.2 L663.5 161.0 L663.3 161.9 L663.1 162.9 L662.9 163.9 L662.6 164.9 L662.4 165.8 L662.1 166.7 L661.7 167.7 L661.2 168.7 L660.8 169.7 L660.3 170.6 L659.9 171.5 L659.6 172.2 L659.4 172.7 L660.6 173.3 L660.9 172.7 L661.2 172.0 L661.6 171.2 L662.0 170.2 L662.5 169.2 L662.9 168.2 L663.3 167.2 L663.6 166.2 L663.9 165.2 L664.1 164.2 L664.4 163.2 L664.5 162.2 L664.7 161.2 L664.9 160.4 L665.0 159.7 L665.1 159.1Z" fill="#6a4526"/>
</g>
<path d="M496.7 413.9 L496.6 411.3 L496.5 408.0 L496.3 403.9 L496.1 399.4 L495.9 394.6 L495.8 389.7 L495.6 384.7 L495.4 379.9 L495.3 375.2 L495.2 370.3 L495.1 365.2 L495.0 360.0 L494.9 354.9 L494.7 349.7 L494.6 344.8 L494.4 339.9 L494.3 335.2 L494.0 330.5 L493.8 325.8 L493.6 321.2 L493.4 316.7 L493.1 312.5 L492.9 308.5 L492.7 304.9 L492.6 301.7 L492.4 298.7 L492.3 296.1 L492.2 293.7 L492.0 291.4 L491.9 289.2 L491.8 287.1 L491.7 284.9 L491.6 282.8 L491.5 280.8 L491.5 278.9 L491.4 277.1 L491.4 275.3 L491.3 273.5 L491.2 271.7 L491.2 269.9 L491.1 268.0 L491.0 266.0 L490.9 264.0 L490.8 262.0 L490.8 260.1 L490.7 258.4 L490.6 257.0 L490.6 255.9 L487.2 256.1 L487.2 257.1 L487.2 258.5 L487.2 260.2 L487.3 262.1 L487.3 264.1 L487.3 266.2 L487.4 268.2 L487.4 270.1 L487.5 271.9 L487.6 273.6 L487.6 275.4 L487.7 277.2 L487.8 279.0 L487.8 281.0 L487.9 283.0 L488.0 285.1 L488.1 287.2 L488.3 289.4 L488.4 291.6 L488.5 293.8 L488.6 296.3 L488.8 298.9 L488.9 301.8 L489.1 305.1 L489.3 308.7 L489.5 312.7 L489.7 316.9 L490.0 321.3 L490.2 325.9 L490.4 330.6 L490.6 335.4 L490.8 340.1 L490.9 344.9 L491.0 349.8 L491.1 354.9 L491.2 360.1 L491.3 365.3 L491.4 370.3 L491.4 375.3 L491.5 380.1 L491.6 384.8 L491.8 389.8 L491.9 394.7 L492.0 399.6 L492.1 404.1 L492.2 408.1 L492.3 411.5 L492.4 414.1Z" fill="#6b4020" opacity="0.55"/>
<path d="M512.0 413.8 L511.8 411.2 L511.5 407.8 L511.1 403.8 L510.7 399.3 L510.3 394.5 L509.9 389.6 L509.6 384.6 L509.3 379.9 L509.0 375.1 L508.7 370.2 L508.5 365.1 L508.3 360.0 L508.1 354.8 L507.9 349.7 L507.7 344.7 L507.4 339.9 L507.2 335.2 L507.0 330.4 L506.8 325.7 L506.5 321.1 L506.3 316.7 L506.1 312.5 L505.9 308.5 L505.7 304.9 L505.6 301.6 L505.4 298.7 L505.3 296.1 L505.2 293.6 L505.1 291.4 L505.0 289.2 L504.9 287.1 L504.8 284.9 L504.7 282.7 L504.6 280.5 L504.6 278.3 L504.5 276.2 L504.5 274.3 L504.4 272.5 L504.4 271.1 L504.4 269.9 L499.9 270.1 L499.9 271.2 L500.0 272.6 L500.0 274.4 L500.1 276.3 L500.1 278.4 L500.2 280.6 L500.3 282.9 L500.4 285.1 L500.5 287.3 L500.6 289.4 L500.7 291.6 L500.8 293.9 L500.9 296.3 L501.0 298.9 L501.2 301.9 L501.3 305.1 L501.5 308.7 L501.7 312.7 L501.9 316.9 L502.2 321.4 L502.4 326.0 L502.6 330.7 L502.8 335.4 L503.0 340.1 L503.2 344.9 L503.4 349.9 L503.6 355.0 L503.8 360.2 L504.0 365.3 L504.2 370.4 L504.4 375.4 L504.6 380.1 L504.9 384.9 L505.2 389.9 L505.5 394.9 L505.8 399.7 L506.1 404.2 L506.4 408.2 L506.6 411.6 L506.8 414.2Z" fill="#a06d3c" opacity="0.7"/>
<path d="M499.3 414.0 L499.2 411.4 L499.0 408.0 L498.8 404.0 L498.6 399.5 L498.4 394.7 L498.2 389.7 L498.0 384.8 L497.8 380.0 L497.6 375.3 L497.5 370.3 L497.3 365.2 L497.2 360.1 L497.1 354.9 L497.0 349.8 L496.8 344.8 L496.6 340.0 L496.4 335.3 L496.2 330.5 L496.0 325.8 L495.8 321.2 L495.6 316.8 L495.3 312.6 L495.1 308.6 L494.9 305.0 L494.8 301.7 L494.6 298.8 L494.5 296.2 L494.4 293.8 L494.2 291.5 L494.1 289.3 L494.0 287.2 L493.9 285.0 L493.8 282.9 L493.8 280.9 L493.7 279.0 L493.6 277.1 L493.6 275.3 L493.5 273.6 L493.5 271.8 L493.4 270.0 L493.3 268.1 L493.2 266.1 L493.1 264.1 L493.0 262.1 L492.9 260.2 L492.8 258.5 L492.7 257.1 L492.6 256.0" fill="none" stroke="#6b4020" stroke-width="1.1" opacity="0.4"/>
<path d="M504.0 414.0 L503.9 411.4 L503.7 408.0 L503.4 404.0 L503.1 399.5 L502.8 394.7 L502.6 389.7 L502.3 384.8 L502.1 380.0 L501.9 375.3 L501.7 370.3 L501.5 365.2 L501.3 360.1 L501.2 354.9 L501.0 349.8 L500.8 344.8 L500.7 340.0 L500.5 335.3 L500.2 330.5 L500.0 325.8 L499.8 321.2 L499.6 316.8 L499.3 312.6 L499.1 308.6 L499.0 305.0 L498.8 301.7 L498.7 298.8 L498.5 296.2 L498.4 293.8 L498.3 291.5 L498.2 289.3 L498.1 287.2 L498.0 285.0 L497.9 282.9 L497.8 280.9 L497.8 279.0 L497.7 277.1 L497.7 275.3 L497.6 273.6 L497.6 271.8 L497.5 270.0 L497.4 268.1 L497.2 266.1 L497.1 264.1 L496.9 262.1 L496.7 260.2 L496.6 258.5 L496.5 257.1 L496.4 256.0" fill="none" stroke="#a06d3c" stroke-width="1.1" opacity="0.5"/>
<path d="M501.9 414.0 L501.7 411.4 L501.5 408.0 L501.3 404.0 L501.1 399.5 L500.8 394.7 L500.6 389.7 L500.3 384.8 L500.1 380.0 L499.9 375.3 L499.8 370.3 L499.6 365.2 L499.5 360.1 L499.3 354.9 L499.2 349.8 L499.0 344.8 L498.8 340.0 L498.6 335.3 L498.4 330.5 L498.2 325.8 L498.0 321.2 L497.7 316.8 L497.5 312.6 L497.3 308.6 L497.1 305.0 L497.0 301.7 L496.8 298.8 L496.7 296.2 L496.6 293.8 L496.4 291.5 L496.3 289.3 L496.2 287.2 L496.1 285.0 L496.0 282.9 L496.0 280.9 L495.9 279.0 L495.9 277.1 L495.8 275.3 L495.8 273.6 L495.7 271.8 L495.6 270.0 L495.5 268.1 L495.4 266.1 L495.3 264.1 L495.1 262.1 L495.0 260.2 L494.8 258.5 L494.7 257.1 L494.7 256.0" fill="none" stroke="#6b4020" stroke-width="1.1" opacity="0.25"/>
<path d="M488.7 239.2 L488.2 238.1 L487.4 236.7 L486.5 235.0 L485.5 233.1 L484.4 231.0 L483.2 229.0 L481.9 227.0 L480.5 225.1 L479.1 223.3 L477.4 221.5 L475.7 219.8 L473.9 218.0 L472.1 216.3 L470.4 214.7 L468.7 213.1 L467.2 211.6 L465.8 210.2 L464.4 208.9 L463.0 207.7 L461.7 206.5 L460.5 205.4 L459.3 204.3 L458.2 203.2 L457.1 202.2 L456.1 201.2 L455.2 200.3 L454.3 199.5 L453.5 198.6 L452.7 197.8 L451.9 197.0 L451.0 196.1 L450.1 195.2 L449.2 194.3 L448.3 193.3 L447.4 192.4 L446.5 191.4 L445.5 190.3 L444.5 189.3 L443.3 188.2 L442.0 187.1 L440.7 186.1 L439.2 185.0 L437.7 183.9 L436.1 182.8 L434.5 181.7 L432.7 180.6 L430.8 179.4 L428.9 178.1 L426.8 176.8 L424.6 175.3 L422.3 173.8 L419.9 172.3 L417.4 170.7 L414.8 169.2 L412.3 167.8 L409.7 166.6 L407.1 165.5 L404.4 164.4 L401.6 163.4 L398.8 162.5 L396.1 161.6 L393.4 160.9 L390.8 160.2 L388.4 159.6 L386.1 159.2 L383.8 158.8 L381.5 158.5 L379.3 158.4 L377.4 158.3 L375.6 158.2 L374.2 158.1 L373.0 158.0 L372.9 159.6 L374.0 159.7 L375.5 159.8 L377.2 159.9 L379.2 160.1 L381.3 160.4 L383.5 160.7 L385.7 161.1 L388.0 161.6 L390.3 162.2 L392.9 162.8 L395.5 163.6 L398.2 164.4 L400.9 165.3 L403.7 166.3 L406.3 167.4 L408.8 168.5 L411.3 169.7 L413.8 171.1 L416.3 172.5 L418.7 174.0 L421.1 175.6 L423.4 177.1 L425.7 178.6 L427.7 179.9 L429.7 181.2 L431.5 182.4 L433.3 183.5 L434.9 184.6 L436.5 185.7 L437.9 186.8 L439.3 187.8 L440.7 188.8 L441.9 189.9 L443.0 190.9 L444.0 191.9 L444.9 192.9 L445.8 193.8 L446.7 194.8 L447.6 195.8 L448.6 196.8 L449.5 197.7 L450.3 198.5 L451.1 199.3 L451.9 200.2 L452.8 201.0 L453.6 201.9 L454.6 202.8 L455.6 203.8 L456.7 204.8 L457.8 205.9 L459.0 207.0 L460.2 208.1 L461.5 209.3 L462.8 210.6 L464.2 211.9 L465.6 213.3 L467.1 214.8 L468.8 216.3 L470.5 218.0 L472.3 219.7 L474.0 221.5 L475.6 223.2 L477.2 224.9 L478.5 226.6 L479.8 228.4 L481.0 230.3 L482.2 232.3 L483.3 234.3 L484.2 236.2 L485.1 237.9 L485.9 239.3 L486.5 240.4Z" fill="#a06d3c" opacity="0.6"/>
<path d="M484.2 241.9 L483.6 240.9 L482.9 239.4 L482.0 237.7 L481.0 235.8 L479.9 233.7 L478.7 231.7 L477.5 229.6 L476.2 227.8 L474.8 226.0 L473.2 224.2 L471.5 222.4 L469.8 220.6 L468.1 218.9 L466.4 217.2 L464.7 215.6 L463.2 214.1 L461.8 212.7 L460.5 211.4 L459.2 210.1 L457.9 208.9 L456.7 207.8 L455.5 206.7 L454.4 205.6 L453.3 204.6 L452.3 203.6 L451.4 202.7 L450.5 201.8 L449.7 201.0 L448.9 200.2 L448.1 199.3 L447.2 198.5 L446.3 197.6 L445.4 196.7 L444.5 195.7 L443.6 194.7 L442.7 193.7 L441.7 192.7 L440.7 191.7 L439.5 190.6 L438.3 189.5 L436.9 188.5 L435.5 187.4 L434.0 186.3 L432.4 185.2 L430.8 184.1 L429.0 182.9 L427.2 181.7 L425.2 180.5 L423.2 179.1 L421.0 177.7 L418.7 176.1 L416.2 174.6 L413.8 173.0 L411.3 171.5 L408.7 170.2 L406.2 168.9 L403.6 167.8 L400.9 166.7 L398.1 165.7 L395.4 164.8 L392.6 163.9 L390.0 163.1 L387.5 162.4 L385.1 161.8 L382.9 161.3 L380.6 160.9 L378.5 160.6 L376.4 160.3 L374.6 160.1 L372.9 160.0 L371.5 159.9 L370.5 159.7 L370.3 160.9 L371.4 161.1 L372.8 161.3 L374.4 161.4 L376.3 161.7 L378.3 162.0 L380.4 162.3 L382.6 162.8 L384.8 163.3 L387.1 163.9 L389.6 164.6 L392.2 165.4 L394.9 166.3 L397.6 167.2 L400.3 168.2 L403.0 169.2 L405.5 170.3 L408.0 171.6 L410.5 172.9 L412.9 174.4 L415.4 175.9 L417.8 177.5 L420.1 179.0 L422.3 180.5 L424.3 181.8 L426.3 183.1 L428.1 184.3 L429.8 185.4 L431.5 186.6 L433.0 187.7 L434.5 188.7 L435.9 189.8 L437.2 190.8 L438.4 191.9 L439.5 192.9 L440.5 193.9 L441.5 194.9 L442.4 195.9 L443.3 196.8 L444.2 197.8 L445.1 198.8 L446.0 199.7 L446.9 200.5 L447.7 201.4 L448.5 202.2 L449.3 203.0 L450.2 203.9 L451.1 204.8 L452.1 205.8 L453.2 206.8 L454.4 207.9 L455.5 209.0 L456.7 210.2 L458.0 211.4 L459.3 212.6 L460.6 213.9 L462.0 215.4 L463.5 216.9 L465.1 218.5 L466.8 220.2 L468.5 221.9 L470.2 223.7 L471.8 225.4 L473.3 227.2 L474.6 228.9 L475.9 230.7 L477.1 232.7 L478.2 234.7 L479.3 236.7 L480.3 238.6 L481.1 240.3 L481.8 241.8 L482.4 242.9Z" fill="#6b4020" opacity="0.5"/>
<path d="M489.0 218.9 L488.6 217.3 L488.0 215.1 L487.3 212.5 L486.6 209.6 L485.8 206.6 L485.0 203.5 L484.2 200.6 L483.4 197.9 L482.7 195.5 L482.0 193.0 L481.3 190.6 L480.6 188.3 L479.9 185.9 L479.2 183.6 L478.5 181.3 L477.8 179.0 L477.2 176.7 L476.5 174.4 L475.9 172.1 L475.2 169.8 L474.6 167.5 L474.0 165.3 L473.3 163.2 L472.7 161.1 L472.1 159.0 L471.4 157.0 L470.8 155.0 L470.1 153.1 L469.5 151.2 L468.9 149.4 L468.2 147.7 L467.6 146.1 L466.9 144.5 L466.2 143.1 L465.6 141.7 L464.9 140.4 L464.2 139.2 L463.6 138.1 L463.0 137.0 L462.3 136.1 L461.7 135.1 L461.1 134.3 L460.5 133.6 L459.9 132.9 L459.3 132.3 L458.8 131.8 L458.4 131.4 L458.1 131.1 L457.3 131.9 L457.6 132.2 L458.0 132.6 L458.5 133.1 L459.0 133.7 L459.5 134.4 L460.1 135.1 L460.7 135.9 L461.3 136.7 L461.8 137.7 L462.4 138.7 L463.0 139.9 L463.7 141.1 L464.3 142.3 L465.0 143.7 L465.6 145.1 L466.2 146.6 L466.8 148.2 L467.5 149.9 L468.1 151.7 L468.7 153.5 L469.3 155.5 L470.0 157.4 L470.6 159.5 L471.2 161.5 L471.8 163.6 L472.5 165.8 L473.1 168.0 L473.7 170.2 L474.3 172.5 L474.9 174.8 L475.6 177.1 L476.2 179.5 L476.9 181.8 L477.6 184.1 L478.3 186.4 L479.0 188.8 L479.7 191.1 L480.3 193.5 L481.0 196.0 L481.7 198.4 L482.5 201.1 L483.2 204.0 L484.0 207.1 L484.8 210.1 L485.6 213.0 L486.2 215.6 L486.8 217.8 L487.2 219.4Z" fill="#a06d3c" opacity="0.6"/>
<path d="M485.8 220.8 L485.4 219.2 L484.8 217.0 L484.1 214.4 L483.4 211.5 L482.6 208.4 L481.8 205.4 L481.0 202.5 L480.3 199.8 L479.6 197.3 L478.9 194.8 L478.3 192.4 L477.6 190.1 L476.9 187.7 L476.2 185.4 L475.5 183.0 L474.9 180.7 L474.2 178.4 L473.6 176.1 L473.0 173.8 L472.4 171.5 L471.8 169.2 L471.2 167.0 L470.6 164.8 L470.0 162.7 L469.3 160.6 L468.7 158.6 L468.1 156.6 L467.5 154.6 L466.9 152.8 L466.2 150.9 L465.6 149.2 L465.0 147.6 L464.4 146.0 L463.8 144.6 L463.1 143.2 L462.5 141.9 L461.9 140.7 L461.2 139.5 L460.7 138.4 L460.1 137.4 L459.5 136.5 L458.9 135.7 L458.3 134.9 L457.8 134.2 L457.3 133.6 L456.8 133.1 L456.4 132.7 L456.2 132.3 L455.5 132.9 L455.8 133.3 L456.1 133.7 L456.6 134.2 L457.1 134.8 L457.6 135.5 L458.1 136.2 L458.7 137.1 L459.2 138.0 L459.8 138.9 L460.3 140.0 L460.9 141.1 L461.5 142.4 L462.1 143.6 L462.8 145.0 L463.4 146.5 L464.0 148.0 L464.6 149.6 L465.2 151.3 L465.8 153.1 L466.4 155.0 L467.0 156.9 L467.6 158.9 L468.2 161.0 L468.8 163.0 L469.4 165.1 L470.0 167.3 L470.6 169.5 L471.2 171.8 L471.8 174.1 L472.4 176.4 L473.0 178.7 L473.7 181.1 L474.3 183.4 L475.0 185.7 L475.6 188.1 L476.3 190.4 L477.0 192.8 L477.7 195.2 L478.3 197.6 L479.0 200.1 L479.7 202.8 L480.5 205.7 L481.3 208.8 L482.1 211.8 L482.8 214.7 L483.5 217.3 L484.0 219.5 L484.4 221.2Z" fill="#6b4020" opacity="0.5"/>
<path d="M504.5 234.4 L504.9 233.0 L505.3 231.2 L505.9 229.0 L506.5 226.6 L507.2 224.0 L507.8 221.4 L508.5 218.8 L509.0 216.4 L509.5 214.0 L509.9 211.6 L510.3 209.2 L510.7 206.7 L511.1 204.3 L511.6 202.0 L512.0 199.6 L512.5 197.4 L513.0 195.1 L513.5 192.8 L514.1 190.5 L514.6 188.3 L515.2 186.2 L515.8 184.2 L516.6 182.3 L517.4 180.6 L518.3 179.1 L519.2 177.9 L520.3 176.7 L521.4 175.7 L522.7 174.6 L524.0 173.5 L525.3 172.2 L526.6 170.8 L528.0 169.2 L529.5 167.6 L531.0 165.8 L532.5 164.0 L534.1 162.2 L535.6 160.4 L537.1 158.6 L538.6 156.8 L540.0 155.0 L541.5 153.1 L543.0 151.2 L544.5 149.3 L545.9 147.5 L547.2 145.7 L548.4 144.2 L549.5 142.8 L550.4 141.6 L551.2 140.5 L552.0 139.5 L552.6 138.7 L553.2 137.9 L553.6 137.3 L554.0 136.7 L554.4 136.3 L553.3 135.5 L553.0 135.9 L552.5 136.4 L552.1 137.1 L551.5 137.8 L550.8 138.6 L550.1 139.6 L549.3 140.7 L548.3 141.9 L547.2 143.3 L546.0 144.8 L544.7 146.6 L543.3 148.4 L541.8 150.2 L540.3 152.1 L538.8 154.0 L537.4 155.8 L535.9 157.5 L534.4 159.4 L532.8 161.2 L531.3 163.0 L529.7 164.8 L528.2 166.5 L526.8 168.1 L525.4 169.7 L524.1 171.0 L522.8 172.2 L521.5 173.3 L520.3 174.4 L519.1 175.5 L517.9 176.7 L516.8 178.1 L515.8 179.8 L514.9 181.6 L514.2 183.6 L513.5 185.7 L512.9 187.9 L512.3 190.1 L511.8 192.4 L511.3 194.7 L510.7 197.0 L510.2 199.3 L509.8 201.6 L509.3 204.0 L508.9 206.4 L508.5 208.9 L508.1 211.3 L507.7 213.6 L507.2 216.0 L506.7 218.4 L506.1 220.9 L505.4 223.6 L504.8 226.1 L504.1 228.5 L503.6 230.7 L503.1 232.5 L502.7 233.9Z" fill="#a06d3c" opacity="0.6"/>
<path d="M501.3 236.2 L501.6 234.8 L502.1 232.9 L502.7 230.8 L503.3 228.3 L504.0 225.8 L504.6 223.1 L505.2 220.6 L505.8 218.1 L506.3 215.8 L506.7 213.4 L507.1 211.0 L507.5 208.5 L507.9 206.1 L508.3 203.7 L508.8 201.4 L509.3 199.1 L509.8 196.9 L510.3 194.6 L510.9 192.3 L511.4 190.1 L512.0 187.9 L512.7 185.9 L513.4 184.0 L514.3 182.3 L515.2 180.8 L516.2 179.5 L517.3 178.3 L518.5 177.2 L519.7 176.2 L521.0 175.0 L522.4 173.8 L523.7 172.3 L525.1 170.8 L526.6 169.1 L528.1 167.3 L529.7 165.5 L531.3 163.7 L532.8 161.8 L534.4 160.0 L535.8 158.2 L537.3 156.4 L538.8 154.5 L540.3 152.6 L541.8 150.7 L543.3 148.9 L544.6 147.1 L545.8 145.5 L546.9 144.1 L547.9 142.9 L548.7 141.8 L549.5 140.8 L550.2 140.0 L550.7 139.2 L551.2 138.6 L551.7 138.0 L552.0 137.5 L551.2 136.9 L550.8 137.4 L550.4 137.9 L549.9 138.6 L549.3 139.3 L548.6 140.2 L547.9 141.1 L547.0 142.2 L546.0 143.4 L544.9 144.8 L543.7 146.4 L542.4 148.2 L540.9 150.0 L539.4 151.9 L537.9 153.8 L536.4 155.7 L534.9 157.5 L533.4 159.2 L531.9 161.1 L530.3 162.9 L528.8 164.7 L527.2 166.5 L525.7 168.2 L524.2 169.9 L522.8 171.5 L521.5 172.8 L520.2 174.0 L518.9 175.2 L517.6 176.2 L516.4 177.4 L515.2 178.6 L514.1 180.0 L513.1 181.6 L512.2 183.5 L511.4 185.4 L510.7 187.5 L510.1 189.7 L509.5 192.0 L509.0 194.3 L508.5 196.6 L507.9 198.8 L507.4 201.1 L507.0 203.5 L506.5 205.9 L506.1 208.3 L505.7 210.7 L505.3 213.1 L504.9 215.5 L504.4 217.8 L503.9 220.2 L503.3 222.8 L502.6 225.4 L502.0 228.0 L501.3 230.4 L500.8 232.6 L500.3 234.4 L499.9 235.8Z" fill="#6b4020" opacity="0.5"/>
<path d="M508.4 260.4 L508.9 258.9 L509.7 256.9 L510.6 254.5 L511.6 251.8 L512.7 249.0 L513.8 246.2 L515.0 243.5 L516.2 241.0 L517.3 238.7 L518.6 236.3 L519.8 233.9 L521.2 231.6 L522.5 229.3 L524.0 227.1 L525.4 224.8 L527.0 222.7 L528.6 220.6 L530.3 218.6 L532.0 216.6 L533.9 214.7 L535.7 212.7 L537.7 210.8 L539.7 208.8 L541.9 206.8 L544.1 204.7 L546.4 202.6 L548.8 200.4 L551.3 198.3 L553.9 196.1 L556.5 194.0 L559.1 191.9 L561.7 189.9 L564.4 187.9 L567.2 185.9 L570.1 183.9 L573.0 181.9 L575.9 180.0 L578.8 178.2 L581.5 176.5 L584.1 174.9 L586.5 173.5 L588.8 172.3 L590.9 171.2 L593.1 170.2 L595.2 169.2 L597.2 168.2 L599.4 167.1 L601.6 166.0 L603.8 164.8 L606.0 163.5 L608.2 162.3 L610.5 161.0 L612.7 159.7 L614.9 158.5 L617.1 157.2 L619.3 155.9 L621.6 154.6 L624.0 153.2 L626.4 151.7 L628.9 150.3 L631.1 148.9 L633.2 147.7 L634.9 146.7 L636.2 145.9 L634.9 143.8 L633.6 144.6 L631.9 145.7 L629.9 146.9 L627.7 148.3 L625.3 149.8 L622.9 151.3 L620.5 152.8 L618.3 154.1 L616.1 155.4 L613.9 156.7 L611.7 158.0 L609.5 159.3 L607.3 160.6 L605.1 161.9 L602.9 163.1 L600.7 164.4 L598.5 165.5 L596.5 166.5 L594.4 167.5 L592.3 168.5 L590.1 169.6 L587.9 170.7 L585.6 172.0 L583.2 173.4 L580.6 175.0 L577.8 176.7 L575.0 178.5 L572.0 180.4 L569.1 182.3 L566.2 184.4 L563.3 186.4 L560.6 188.4 L557.9 190.4 L555.3 192.5 L552.7 194.7 L550.1 196.8 L547.6 199.0 L545.1 201.2 L542.8 203.3 L540.5 205.4 L538.4 207.4 L536.3 209.4 L534.3 211.4 L532.4 213.3 L530.6 215.3 L528.8 217.3 L527.1 219.4 L525.4 221.5 L523.8 223.7 L522.3 226.0 L520.8 228.3 L519.4 230.6 L518.1 233.0 L516.8 235.3 L515.5 237.7 L514.3 240.1 L513.1 242.7 L511.9 245.4 L510.7 248.2 L509.6 251.1 L508.6 253.7 L507.7 256.1 L506.9 258.1 L506.3 259.6Z" fill="#a06d3c" opacity="0.6"/>
<path d="M504.5 262.5 L505.1 261.0 L505.9 258.9 L506.8 256.5 L507.9 253.8 L509.0 251.0 L510.2 248.2 L511.4 245.5 L512.6 242.9 L513.8 240.6 L515.0 238.2 L516.3 235.8 L517.7 233.5 L519.0 231.2 L520.5 228.9 L522.0 226.7 L523.6 224.5 L525.2 222.4 L526.9 220.4 L528.6 218.4 L530.4 216.5 L532.3 214.6 L534.3 212.6 L536.3 210.6 L538.5 208.6 L540.7 206.5 L543.1 204.4 L545.5 202.2 L548.0 200.0 L550.6 197.9 L553.2 195.7 L555.8 193.6 L558.5 191.6 L561.2 189.6 L564.0 187.6 L567.0 185.5 L569.9 183.6 L572.8 181.7 L575.6 179.9 L578.4 178.2 L581.0 176.6 L583.4 175.2 L585.7 173.9 L587.9 172.8 L590.0 171.8 L592.1 170.8 L594.2 169.8 L596.3 168.7 L598.4 167.6 L600.6 166.4 L602.8 165.2 L605.0 164.0 L607.2 162.7 L609.4 161.5 L611.5 160.3 L613.6 159.0 L615.7 157.8 L617.9 156.5 L620.3 155.2 L622.6 153.7 L624.9 152.4 L627.1 151.1 L629.1 149.9 L630.7 148.9 L631.9 148.1 L630.9 146.5 L629.7 147.3 L628.1 148.3 L626.2 149.5 L624.0 150.9 L621.7 152.3 L619.4 153.7 L617.1 155.1 L614.9 156.4 L612.8 157.7 L610.7 158.9 L608.6 160.2 L606.4 161.5 L604.3 162.7 L602.1 163.9 L599.9 165.2 L597.8 166.4 L595.7 167.5 L593.6 168.5 L591.5 169.5 L589.4 170.5 L587.2 171.6 L585.0 172.7 L582.7 174.0 L580.3 175.4 L577.6 177.0 L574.9 178.7 L572.0 180.5 L569.1 182.4 L566.2 184.4 L563.2 186.4 L560.4 188.4 L557.6 190.4 L554.9 192.5 L552.3 194.6 L549.7 196.7 L547.1 198.9 L544.5 201.1 L542.1 203.3 L539.7 205.4 L537.5 207.5 L535.3 209.5 L533.2 211.5 L531.3 213.5 L529.4 215.4 L527.5 217.4 L525.7 219.4 L524.0 221.5 L522.3 223.6 L520.7 225.8 L519.2 228.1 L517.7 230.4 L516.3 232.7 L515.0 235.1 L513.7 237.5 L512.4 239.9 L511.2 242.2 L510.0 244.8 L508.7 247.6 L507.5 250.4 L506.4 253.2 L505.3 255.9 L504.4 258.3 L503.6 260.4 L503.0 261.9Z" fill="#6b4020" opacity="0.5"/>
<g transform="translate(527.0 82.0) rotate(-137)"><path d="M0 0 C4.4 -6.2 15.8 -5.7 21.9 0 C15.8 5.7 4.4 6.2 0 0Z" fill="#4cb848"/><path d="M2.6 -1.2 C6.6 -4.8 14.9 -4.5 20.2 -0.6 C14.5 -1.9 7.5 -1.9 2.6 -1.2Z" fill="#8ad873" opacity="0.75"/></g><g transform="translate(533.0 101.0) rotate(-137)"><path d="M0 0 C4.4 -6.5 15.8 -6.0 21.9 0 C15.8 6.0 4.4 6.5 0 0Z" fill="#4cb848"/><path d="M2.6 -1.2 C6.6 -5.0 14.9 -4.8 20.2 -0.6 C14.5 -2.0 7.5 -2.0 2.6 -1.2Z" fill="#8ad873" opacity="0.75"/></g><g transform="translate(520.5 62.0) rotate(-152)"><path d="M0 0 C4.2 -6.2 15.1 -5.7 21.0 0 C15.1 5.7 4.2 6.2 0 0Z" fill="#15873a"/><path d="M2.5 -1.2 C6.3 -4.8 14.3 -4.5 19.3 -0.6 C13.9 -1.9 7.2 -1.9 2.5 -1.2Z" fill="#2c9c4a" opacity="0.75"/></g><g transform="translate(522.5 58.0) rotate(-130)"><path d="M0 0 C4.2 -6.5 15.1 -6.0 20.9 0 C15.1 6.0 4.2 6.5 0 0Z" fill="#4cb848"/><path d="M2.5 -1.2 C6.3 -5.0 14.2 -4.8 19.3 -0.6 C13.8 -2.0 7.1 -2.0 2.5 -1.2Z" fill="#8ad873" opacity="0.75"/></g><g transform="translate(531.0 76.0) rotate(-43)"><path d="M0 0 C4.1 -6.5 14.8 -6.0 20.5 0 C14.8 6.0 4.1 6.5 0 0Z" fill="#4cb848"/><path d="M2.5 -1.2 C6.2 -5.0 14.0 -4.8 18.9 -0.6 C13.5 -2.0 7.0 -2.0 2.5 -1.2Z" fill="#8ad873" opacity="0.75"/></g><g transform="translate(528.0 64.0) rotate(-57)"><path d="M0 0 C4.0 -6.2 14.6 -5.7 20.2 0 C14.6 5.7 4.0 6.2 0 0Z" fill="#2fa144"/><path d="M2.4 -1.2 C6.1 -4.8 13.8 -4.5 18.6 -0.6 C13.4 -1.9 6.9 -1.9 2.4 -1.2Z" fill="#5cc060" opacity="0.75"/></g><g transform="translate(525.5 58.0) rotate(-90)"><path d="M0 0 C4.3 -7.5 15.5 -6.9 21.5 0 C15.5 6.9 4.3 7.5 0 0Z" fill="#4cb848"/><path d="M2.6 -1.4 C6.5 -5.8 14.6 -5.5 19.8 -0.7 C14.2 -2.3 7.3 -2.3 2.6 -1.4Z" fill="#8ad873" opacity="0.75"/></g><g transform="translate(535.0 100.0) rotate(-43)"><path d="M0 0 C3.5 -6.2 12.7 -5.7 17.7 0 C12.7 5.7 3.5 6.2 0 0Z" fill="#2fa144"/><path d="M2.1 -1.2 C5.3 -4.8 12.0 -4.5 16.3 -0.6 C11.7 -1.9 6.0 -1.9 2.1 -1.2Z" fill="#5cc060" opacity="0.75"/></g><g transform="translate(419.5 76.0) rotate(-150)"><path d="M0 0 C3.6 -6.2 12.9 -5.7 17.9 0 C12.9 5.7 3.6 6.2 0 0Z" fill="#15873a"/><path d="M2.2 -1.2 C5.4 -4.8 12.2 -4.5 16.5 -0.6 C11.8 -1.9 6.1 -1.9 2.2 -1.2Z" fill="#2c9c4a" opacity="0.75"/></g><g transform="translate(423.0 71.0) rotate(-54)"><path d="M0 0 C3.9 -6.5 14.2 -6.0 19.7 0 C14.2 6.0 3.9 6.5 0 0Z" fill="#2fa144"/><path d="M2.4 -1.2 C5.9 -5.0 13.4 -4.8 18.1 -0.6 C13.0 -2.0 6.7 -2.0 2.4 -1.2Z" fill="#5cc060" opacity="0.75"/></g><g transform="translate(418.5 63.5) rotate(-157)"><path d="M0 0 C4.0 -6.2 14.5 -5.7 20.2 0 C14.5 5.7 4.0 6.2 0 0Z" fill="#4cb848"/><path d="M2.4 -1.2 C6.0 -4.8 13.7 -4.5 18.5 -0.6 C13.3 -1.9 6.9 -1.9 2.4 -1.2Z" fill="#8ad873" opacity="0.75"/></g><g transform="translate(418.8 60.0) rotate(-95)"><path d="M0 0 C4.1 -7.8 14.8 -7.2 20.6 0 C14.8 7.2 4.1 7.8 0 0Z" fill="#4cb848"/><path d="M2.5 -1.5 C6.2 -6.0 14.0 -5.7 18.9 -0.7 C13.6 -2.4 7.0 -2.4 2.5 -1.5Z" fill="#8ad873" opacity="0.75"/></g><g transform="translate(422.0 84.0) rotate(-164)"><path d="M0 0 C2.9 -5.9 10.5 -5.4 14.6 0 C10.5 5.4 2.9 5.9 0 0Z" fill="#2fa144"/><path d="M1.7 -1.1 C4.4 -4.5 9.9 -4.3 13.4 -0.5 C9.6 -1.8 5.0 -1.8 1.7 -1.1Z" fill="#5cc060" opacity="0.75"/></g><g transform="translate(596.0 91.0) rotate(-108)"><path d="M0 0 C4.0 -5.9 14.3 -5.4 19.9 0 C14.3 5.4 4.0 5.9 0 0Z" fill="#15873a"/><path d="M2.4 -1.1 C6.0 -4.5 13.5 -4.3 18.3 -0.5 C13.2 -1.8 6.8 -1.8 2.4 -1.1Z" fill="#2c9c4a" opacity="0.75"/></g><g transform="translate(600.0 92.0) rotate(16)"><path d="M0 0 C3.7 -6.5 13.5 -6.0 18.7 0 C13.5 6.0 3.7 6.5 0 0Z" fill="#4cb848"/><path d="M2.2 -1.2 C5.6 -5.0 12.7 -4.8 17.2 -0.6 C12.3 -2.0 6.4 -2.0 2.2 -1.2Z" fill="#8ad873" opacity="0.75"/></g><g transform="translate(604.0 81.0) rotate(-107)"><path d="M0 0 C5.0 -6.8 18.1 -6.3 25.1 0 C18.1 6.3 5.0 6.8 0 0Z" fill="#4cb848"/><path d="M3.0 -1.3 C7.5 -5.2 17.1 -5.0 23.1 -0.6 C16.6 -2.1 8.5 -2.1 3.0 -1.3Z" fill="#8ad873" opacity="0.75"/></g><g transform="translate(609.0 77.5) rotate(-59)"><path d="M0 0 C4.9 -6.8 17.6 -6.3 24.4 0 C17.6 6.3 4.9 6.8 0 0Z" fill="#4cb848"/><path d="M2.9 -1.3 C7.3 -5.2 16.6 -5.0 22.5 -0.6 C16.1 -2.1 8.3 -2.1 2.9 -1.3Z" fill="#8ad873" opacity="0.75"/></g><g transform="translate(611.0 80.0) rotate(-9)"><path d="M0 0 C4.4 -6.5 15.7 -6.0 21.8 0 C15.7 6.0 4.4 6.5 0 0Z" fill="#4cb848"/><path d="M2.6 -1.2 C6.5 -5.0 14.8 -4.8 20.0 -0.6 C14.4 -2.0 7.4 -2.0 2.6 -1.2Z" fill="#8ad873" opacity="0.75"/></g><g transform="translate(606.0 86.0) rotate(6)"><path d="M0 0 C4.0 -6.2 14.5 -5.7 20.1 0 C14.5 5.7 4.0 6.2 0 0Z" fill="#2fa144"/><path d="M2.4 -1.2 C6.0 -4.8 13.7 -4.5 18.5 -0.6 C13.3 -1.9 6.8 -1.9 2.4 -1.2Z" fill="#5cc060" opacity="0.75"/></g><g transform="translate(638.0 143.0) rotate(-108)"><path d="M0 0 C4.6 -6.2 16.6 -5.7 23.1 0 C16.6 5.7 4.6 6.2 0 0Z" fill="#15873a"/><path d="M2.8 -1.2 C6.9 -4.8 15.7 -4.5 21.2 -0.6 C15.2 -1.9 7.8 -1.9 2.8 -1.2Z" fill="#2c9c4a" opacity="0.75"/></g><g transform="translate(640.0 142.0) rotate(-74)"><path d="M0 0 C6.6 -7.2 23.6 -6.6 32.8 0 C23.6 6.6 6.6 7.2 0 0Z" fill="#15873a"/><path d="M3.9 -1.4 C9.8 -5.5 22.3 -5.2 30.1 -0.7 C21.6 -2.2 11.1 -2.2 3.9 -1.4Z" fill="#2c9c4a" opacity="0.75"/></g><g transform="translate(641.0 143.0) rotate(-55)"><path d="M0 0 C6.2 -7.2 22.5 -6.6 31.2 0 C22.5 6.6 6.2 7.2 0 0Z" fill="#4cb848"/><path d="M3.7 -1.4 C9.4 -5.5 21.2 -5.2 28.7 -0.7 C20.6 -2.2 10.6 -2.2 3.7 -1.4Z" fill="#8ad873" opacity="0.75"/></g><g transform="translate(645.0 131.0) rotate(-27)"><path d="M0 0 C6.1 -6.8 21.9 -6.3 30.4 0 C21.9 6.3 6.1 6.8 0 0Z" fill="#4cb848"/><path d="M3.6 -1.3 C9.1 -5.2 20.7 -5.0 28.0 -0.6 C20.1 -2.1 10.3 -2.1 3.6 -1.3Z" fill="#8ad873" opacity="0.75"/></g><g transform="translate(644.0 138.0) rotate(-24)"><path d="M0 0 C4.8 -6.5 17.4 -6.0 24.2 0 C17.4 6.0 4.8 6.5 0 0Z" fill="#2fa144"/><path d="M2.9 -1.2 C7.2 -5.0 16.4 -4.8 22.2 -0.6 C15.9 -2.0 8.2 -2.0 2.9 -1.2Z" fill="#5cc060" opacity="0.75"/></g><g transform="translate(641.0 145.0) rotate(-15)"><path d="M0 0 C4.3 -6.5 15.6 -6.0 21.7 0 C15.6 6.0 4.3 6.5 0 0Z" fill="#4cb848"/><path d="M2.6 -1.2 C6.5 -5.0 14.8 -4.8 20.0 -0.6 C14.3 -2.0 7.4 -2.0 2.6 -1.2Z" fill="#8ad873" opacity="0.75"/></g><g transform="translate(636.0 140.0) rotate(-131)"><path d="M0 0 C3.7 -5.9 13.3 -5.4 18.4 0 C13.3 5.4 3.7 5.9 0 0Z" fill="#2fa144"/><path d="M2.2 -1.1 C5.5 -4.5 12.5 -4.3 17.0 -0.5 C12.2 -1.8 6.3 -1.8 2.2 -1.1Z" fill="#5cc060" opacity="0.75"/></g><g transform="translate(640.0 146.0) rotate(11)"><path d="M0 0 C3.3 -5.5 11.7 -5.1 16.3 0 C11.7 5.1 3.3 5.5 0 0Z" fill="#15873a"/><path d="M2.0 -1.1 C4.9 -4.2 11.1 -4.0 15.0 -0.5 C10.7 -1.7 5.5 -1.7 2.0 -1.1Z" fill="#2c9c4a" opacity="0.75"/></g><g transform="translate(680.0 153.0) rotate(-16)"><path d="M0 0 C3.6 -5.6 13.1 -5.2 18.2 0 C13.1 5.2 3.6 5.6 0 0Z" fill="#4cb848"/><path d="M2.2 -1.1 C5.5 -4.3 12.4 -4.1 16.7 -0.5 C12.0 -1.7 6.2 -1.7 2.2 -1.1Z" fill="#8ad873" opacity="0.75"/></g><g transform="translate(679.0 154.5) rotate(25)"><path d="M0 0 C4.0 -5.6 14.3 -5.2 19.9 0 C14.3 5.2 4.0 5.6 0 0Z" fill="#15873a"/><path d="M2.4 -1.1 C6.0 -4.3 13.5 -4.1 18.3 -0.5 C13.1 -1.7 6.8 -1.7 2.4 -1.1Z" fill="#2c9c4a" opacity="0.75"/></g><g transform="translate(664.0 154.5) rotate(27)"><path d="M0 0 C3.6 -5.3 12.9 -4.9 17.9 0 C12.9 4.9 3.6 5.3 0 0Z" fill="#4cb848"/><path d="M2.1 -1.0 C5.4 -4.1 12.2 -3.9 16.5 -0.5 C11.8 -1.6 6.1 -1.6 2.1 -1.0Z" fill="#8ad873" opacity="0.75"/></g><g transform="translate(660.0 153.0) rotate(-30)"><path d="M0 0 C2.8 -4.9 10.0 -4.5 13.9 0 C10.0 4.5 2.8 4.9 0 0Z" fill="#2fa144"/><path d="M1.7 -0.9 C4.2 -3.8 9.4 -3.6 12.8 -0.4 C9.2 -1.5 4.7 -1.5 1.7 -0.9Z" fill="#5cc060" opacity="0.75"/></g><g transform="translate(640.0 155.5) rotate(46)"><path d="M0 0 C3.6 -5.6 13.0 -5.2 18.0 0 C13.0 5.2 3.6 5.6 0 0Z" fill="#15873a"/><path d="M2.2 -1.1 C5.4 -4.3 12.3 -4.1 16.6 -0.5 C11.9 -1.7 6.1 -1.7 2.2 -1.1Z" fill="#2c9c4a" opacity="0.75"/></g><g transform="translate(644.0 154.0) rotate(23)"><path d="M0 0 C3.0 -5.2 11.0 -4.8 15.2 0 C11.0 4.8 3.0 5.2 0 0Z" fill="#4cb848"/><path d="M1.8 -1.0 C4.6 -4.0 10.4 -3.8 14.0 -0.5 C10.1 -1.6 5.2 -1.6 1.8 -1.0Z" fill="#8ad873" opacity="0.75"/></g>
<g><path d="M349.2 393 C347.6 386 348.2 380 350.2 375 C352.8 380 353 387 351.4 393Z" fill="#b2e61a" opacity="1"/><path d="M352.5 385.6 C357 384.2 362 384.6 366.8 386.2 C362 387.4 357 387.4 352.5 386.6Z" fill="#b8e62c" opacity="0.95"/><path d="M344.8 404 C345.6 399 347 395 349.6 391.5" stroke="#a9d63a" stroke-width="1.3" fill="none" opacity="0.8"/><g transform="rotate(-32 343.8 415.8)"><rect x="337" y="410" width="13.6" height="12" rx="4.6" fill="#7d4c24"/><rect x="337" y="410" width="5.5" height="12" rx="2.6" fill="#5f3717" opacity="0.7"/><rect x="345.6" y="411" width="3.4" height="10" rx="1.6" fill="#a06e3e" opacity="0.85"/></g></g>
<ellipse cx="443.5" cy="199" rx="3.4" ry="5.6" transform="rotate(-25 443.5 199)" fill="#fbe6e4" stroke="#e6b8ba" stroke-width="0.7"/>
<clipPath id="ap366_173"><path d="M345.6 173.8 C345.6 162.0 353.5 154.8 363.0 155.3 Q366.3 156.1 369.6 155.3 C379.1 154.8 387.0 162.0 387.0 173.8 C387.0 184.4 377.9 192.8 366.3 192.8 C354.7 192.8 345.6 184.4 345.6 173.8Z"/></clipPath><path d="M345.6 173.8 C345.6 162.0 353.5 154.8 363.0 155.3 Q366.3 156.1 369.6 155.3 C379.1 154.8 387.0 162.0 387.0 173.8 C387.0 184.4 377.9 192.8 366.3 192.8 C354.7 192.8 345.6 184.4 345.6 173.8Z" fill="#ee1614"/><g clip-path="url(#ap366_173)"><rect x="367.8" y="152.8" width="22.7" height="42.0" fill="#c82d0c"/><ellipse cx="386.0" cy="177.6" rx="9.3" ry="19.0" fill="#b51b0c" opacity="0.4"/><ellipse cx="364.2" cy="190.9" rx="18.6" ry="5.7" fill="#b51b0c" opacity="0.25"/><ellipse cx="358.0" cy="170.0" rx="10.3" ry="13.3" fill="#fb1310" opacity="0.7"/></g><path d="M345.6 173.8 C345.6 162.0 353.5 154.8 363.0 155.3 Q366.3 156.1 369.6 155.3 C379.1 154.8 387.0 162.0 387.0 173.8 C387.0 184.4 377.9 192.8 366.3 192.8 C354.7 192.8 345.6 184.4 345.6 173.8Z" fill="none" stroke="#8f1509" stroke-width="1.7"/><ellipse cx="355.5" cy="164.3" rx="2.1" ry="4.8" transform="rotate(30 355.5 164.3)" fill="#ffdcd8" opacity="0.95"/>
<clipPath id="ap444_155"><path d="M423.9 155.5 C423.9 143.7 431.8 136.5 441.3 137.0 Q444.6 137.8 447.9 137.0 C457.4 136.5 465.3 143.7 465.3 155.5 C465.3 166.1 456.2 174.5 444.6 174.5 C433.0 174.5 423.9 166.1 423.9 155.5Z"/></clipPath><path d="M423.9 155.5 C423.9 143.7 431.8 136.5 441.3 137.0 Q444.6 137.8 447.9 137.0 C457.4 136.5 465.3 143.7 465.3 155.5 C465.3 166.1 456.2 174.5 444.6 174.5 C433.0 174.5 423.9 166.1 423.9 155.5Z" fill="#ee1614"/><g clip-path="url(#ap444_155)"><rect x="446.1" y="134.5" width="22.7" height="42.0" fill="#c82d0c"/><ellipse cx="464.3" cy="159.3" rx="9.3" ry="19.0" fill="#b51b0c" opacity="0.4"/><ellipse cx="442.5" cy="172.6" rx="18.6" ry="5.7" fill="#b51b0c" opacity="0.25"/><ellipse cx="436.3" cy="151.7" rx="10.3" ry="13.3" fill="#fb1310" opacity="0.7"/></g><path d="M423.9 155.5 C423.9 143.7 431.8 136.5 441.3 137.0 Q444.6 137.8 447.9 137.0 C457.4 136.5 465.3 143.7 465.3 155.5 C465.3 166.1 456.2 174.5 444.6 174.5 C433.0 174.5 423.9 166.1 423.9 155.5Z" fill="none" stroke="#8f1509" stroke-width="1.7"/><ellipse cx="433.8" cy="146.0" rx="2.1" ry="4.8" transform="rotate(30 433.8 146.0)" fill="#ffdcd8" opacity="0.95"/>
<clipPath id="ap525_137"><path d="M504.9 137.0 C504.9 125.2 512.8 118.0 522.3 118.5 Q525.6 119.3 528.9 118.5 C538.4 118.0 546.3 125.2 546.3 137.0 C546.3 147.6 537.2 156.0 525.6 156.0 C514.0 156.0 504.9 147.6 504.9 137.0Z"/></clipPath><path d="M504.9 137.0 C504.9 125.2 512.8 118.0 522.3 118.5 Q525.6 119.3 528.9 118.5 C538.4 118.0 546.3 125.2 546.3 137.0 C546.3 147.6 537.2 156.0 525.6 156.0 C514.0 156.0 504.9 147.6 504.9 137.0Z" fill="#ee1614"/><g clip-path="url(#ap525_137)"><rect x="527.1" y="116.0" width="22.7" height="42.0" fill="#c82d0c"/><ellipse cx="545.3" cy="140.8" rx="9.3" ry="19.0" fill="#b51b0c" opacity="0.4"/><ellipse cx="523.5" cy="154.1" rx="18.6" ry="5.7" fill="#b51b0c" opacity="0.25"/><ellipse cx="517.3" cy="133.2" rx="10.3" ry="13.3" fill="#fb1310" opacity="0.7"/></g><path d="M504.9 137.0 C504.9 125.2 512.8 118.0 522.3 118.5 Q525.6 119.3 528.9 118.5 C538.4 118.0 546.3 125.2 546.3 137.0 C546.3 147.6 537.2 156.0 525.6 156.0 C514.0 156.0 504.9 147.6 504.9 137.0Z" fill="none" stroke="#8f1509" stroke-width="1.7"/><ellipse cx="514.8" cy="127.5" rx="2.1" ry="4.8" transform="rotate(30 514.8 127.5)" fill="#ffdcd8" opacity="0.95"/>
<clipPath id="ap422_209"><path d="M401.7 209.0 C401.7 197.2 409.6 190.0 419.1 190.5 Q422.4 191.3 425.7 190.5 C435.2 190.0 443.1 197.2 443.1 209.0 C443.1 219.6 434.0 228.0 422.4 228.0 C410.8 228.0 401.7 219.6 401.7 209.0Z"/></clipPath><path d="M401.7 209.0 C401.7 197.2 409.6 190.0 419.1 190.5 Q422.4 191.3 425.7 190.5 C435.2 190.0 443.1 197.2 443.1 209.0 C443.1 219.6 434.0 228.0 422.4 228.0 C410.8 228.0 401.7 219.6 401.7 209.0Z" fill="#ee1614"/><g clip-path="url(#ap422_209)"><rect x="423.9" y="188.0" width="22.7" height="42.0" fill="#c82d0c"/><ellipse cx="442.1" cy="212.8" rx="9.3" ry="19.0" fill="#b51b0c" opacity="0.4"/><ellipse cx="420.3" cy="226.1" rx="18.6" ry="5.7" fill="#b51b0c" opacity="0.25"/><ellipse cx="414.1" cy="205.2" rx="10.3" ry="13.3" fill="#fb1310" opacity="0.7"/></g><path d="M401.7 209.0 C401.7 197.2 409.6 190.0 419.1 190.5 Q422.4 191.3 425.7 190.5 C435.2 190.0 443.1 197.2 443.1 209.0 C443.1 219.6 434.0 228.0 422.4 228.0 C410.8 228.0 401.7 219.6 401.7 209.0Z" fill="none" stroke="#8f1509" stroke-width="1.7"/><ellipse cx="411.6" cy="199.5" rx="2.1" ry="4.8" transform="rotate(30 411.6 199.5)" fill="#ffdcd8" opacity="0.95"/>
<clipPath id="ap373_233"><path d="M352.3 233.0 C352.3 221.2 360.2 214.0 369.7 214.5 Q373.0 215.3 376.3 214.5 C385.8 214.0 393.7 221.2 393.7 233.0 C393.7 243.6 384.6 252.0 373.0 252.0 C361.4 252.0 352.3 243.6 352.3 233.0Z"/></clipPath><path d="M352.3 233.0 C352.3 221.2 360.2 214.0 369.7 214.5 Q373.0 215.3 376.3 214.5 C385.8 214.0 393.7 221.2 393.7 233.0 C393.7 243.6 384.6 252.0 373.0 252.0 C361.4 252.0 352.3 243.6 352.3 233.0Z" fill="#ee1614"/><g clip-path="url(#ap373_233)"><rect x="374.5" y="212.0" width="22.7" height="42.0" fill="#c82d0c"/><ellipse cx="392.7" cy="236.8" rx="9.3" ry="19.0" fill="#b51b0c" opacity="0.4"/><ellipse cx="370.9" cy="250.1" rx="18.6" ry="5.7" fill="#b51b0c" opacity="0.25"/><ellipse cx="364.7" cy="229.2" rx="10.3" ry="13.3" fill="#fb1310" opacity="0.7"/></g><path d="M352.3 233.0 C352.3 221.2 360.2 214.0 369.7 214.5 Q373.0 215.3 376.3 214.5 C385.8 214.0 393.7 221.2 393.7 233.0 C393.7 243.6 384.6 252.0 373.0 252.0 C361.4 252.0 352.3 243.6 352.3 233.0Z" fill="none" stroke="#8f1509" stroke-width="1.7"/><ellipse cx="362.2" cy="223.5" rx="2.1" ry="4.8" transform="rotate(30 362.2 223.5)" fill="#ffdcd8" opacity="0.95"/>
<clipPath id="ap539_199"><path d="M518.8 199.5 C518.8 187.7 526.7 180.5 536.2 181.0 Q539.5 181.8 542.8 181.0 C552.3 180.5 560.2 187.7 560.2 199.5 C560.2 210.1 551.1 218.5 539.5 218.5 C527.9 218.5 518.8 210.1 518.8 199.5Z"/></clipPath><path d="M518.8 199.5 C518.8 187.7 526.7 180.5 536.2 181.0 Q539.5 181.8 542.8 181.0 C552.3 180.5 560.2 187.7 560.2 199.5 C560.2 210.1 551.1 218.5 539.5 218.5 C527.9 218.5 518.8 210.1 518.8 199.5Z" fill="#ee1614"/><g clip-path="url(#ap539_199)"><rect x="541.0" y="178.5" width="22.7" height="42.0" fill="#c82d0c"/><ellipse cx="559.2" cy="203.3" rx="9.3" ry="19.0" fill="#b51b0c" opacity="0.4"/><ellipse cx="537.4" cy="216.6" rx="18.6" ry="5.7" fill="#b51b0c" opacity="0.25"/><ellipse cx="531.2" cy="195.7" rx="10.3" ry="13.3" fill="#fb1310" opacity="0.7"/></g><path d="M518.8 199.5 C518.8 187.7 526.7 180.5 536.2 181.0 Q539.5 181.8 542.8 181.0 C552.3 180.5 560.2 187.7 560.2 199.5 C560.2 210.1 551.1 218.5 539.5 218.5 C527.9 218.5 518.8 210.1 518.8 199.5Z" fill="none" stroke="#8f1509" stroke-width="1.7"/><ellipse cx="528.7" cy="190.0" rx="2.1" ry="4.8" transform="rotate(30 528.7 190.0)" fill="#ffdcd8" opacity="0.95"/>
<clipPath id="ap604_169"><path d="M583.7 169.0 C583.7 157.2 591.6 150.0 601.1 150.5 Q604.4 151.3 607.7 150.5 C617.2 150.0 625.1 157.2 625.1 169.0 C625.1 179.6 616.0 188.0 604.4 188.0 C592.8 188.0 583.7 179.6 583.7 169.0Z"/></clipPath><path d="M583.7 169.0 C583.7 157.2 591.6 150.0 601.1 150.5 Q604.4 151.3 607.7 150.5 C617.2 150.0 625.1 157.2 625.1 169.0 C625.1 179.6 616.0 188.0 604.4 188.0 C592.8 188.0 583.7 179.6 583.7 169.0Z" fill="#ee1614"/><g clip-path="url(#ap604_169)"><rect x="605.9" y="148.0" width="22.7" height="42.0" fill="#c82d0c"/><ellipse cx="624.1" cy="172.8" rx="9.3" ry="19.0" fill="#b51b0c" opacity="0.4"/><ellipse cx="602.3" cy="186.1" rx="18.6" ry="5.7" fill="#b51b0c" opacity="0.25"/><ellipse cx="596.1" cy="165.2" rx="10.3" ry="13.3" fill="#fb1310" opacity="0.7"/></g><path d="M583.7 169.0 C583.7 157.2 591.6 150.0 601.1 150.5 Q604.4 151.3 607.7 150.5 C617.2 150.0 625.1 157.2 625.1 169.0 C625.1 179.6 616.0 188.0 604.4 188.0 C592.8 188.0 583.7 179.6 583.7 169.0Z" fill="none" stroke="#8f1509" stroke-width="1.7"/><ellipse cx="593.6" cy="159.5" rx="2.1" ry="4.8" transform="rotate(30 593.6 159.5)" fill="#ffdcd8" opacity="0.95"/>
<clipPath id="ap603_221"><path d="M582.7 221.6 C582.7 209.8 590.6 202.6 600.1 203.1 Q603.4 203.9 606.7 203.1 C616.2 202.6 624.1 209.8 624.1 221.6 C624.1 232.2 615.0 240.6 603.4 240.6 C591.8 240.6 582.7 232.2 582.7 221.6Z"/></clipPath><path d="M582.7 221.6 C582.7 209.8 590.6 202.6 600.1 203.1 Q603.4 203.9 606.7 203.1 C616.2 202.6 624.1 209.8 624.1 221.6 C624.1 232.2 615.0 240.6 603.4 240.6 C591.8 240.6 582.7 232.2 582.7 221.6Z" fill="#ee1614"/><g clip-path="url(#ap603_221)"><rect x="604.9" y="200.6" width="22.7" height="42.0" fill="#c82d0c"/><ellipse cx="623.1" cy="225.4" rx="9.3" ry="19.0" fill="#b51b0c" opacity="0.4"/><ellipse cx="601.3" cy="238.7" rx="18.6" ry="5.7" fill="#b51b0c" opacity="0.25"/><ellipse cx="595.1" cy="217.8" rx="10.3" ry="13.3" fill="#fb1310" opacity="0.7"/></g><path d="M582.7 221.6 C582.7 209.8 590.6 202.6 600.1 203.1 Q603.4 203.9 606.7 203.1 C616.2 202.6 624.1 209.8 624.1 221.6 C624.1 232.2 615.0 240.6 603.4 240.6 C591.8 240.6 582.7 232.2 582.7 221.6Z" fill="none" stroke="#8f1509" stroke-width="1.7"/><ellipse cx="592.6" cy="212.1" rx="2.1" ry="4.8" transform="rotate(30 592.6 212.1)" fill="#ffdcd8" opacity="0.95"/>
<clipPath id="ap657_191"><path d="M636.7 191.4 C636.7 179.6 644.6 172.4 654.1 172.9 Q657.4 173.7 660.7 172.9 C670.2 172.4 678.1 179.6 678.1 191.4 C678.1 202.0 669.0 210.4 657.4 210.4 C645.8 210.4 636.7 202.0 636.7 191.4Z"/></clipPath><path d="M636.7 191.4 C636.7 179.6 644.6 172.4 654.1 172.9 Q657.4 173.7 660.7 172.9 C670.2 172.4 678.1 179.6 678.1 191.4 C678.1 202.0 669.0 210.4 657.4 210.4 C645.8 210.4 636.7 202.0 636.7 191.4Z" fill="#ee1614"/><g clip-path="url(#ap657_191)"><rect x="658.9" y="170.4" width="22.7" height="42.0" fill="#c82d0c"/><ellipse cx="677.1" cy="195.2" rx="9.3" ry="19.0" fill="#b51b0c" opacity="0.4"/><ellipse cx="655.3" cy="208.5" rx="18.6" ry="5.7" fill="#b51b0c" opacity="0.25"/><ellipse cx="649.1" cy="187.6" rx="10.3" ry="13.3" fill="#fb1310" opacity="0.7"/></g><path d="M636.7 191.4 C636.7 179.6 644.6 172.4 654.1 172.9 Q657.4 173.7 660.7 172.9 C670.2 172.4 678.1 179.6 678.1 191.4 C678.1 202.0 669.0 210.4 657.4 210.4 C645.8 210.4 636.7 202.0 636.7 191.4Z" fill="none" stroke="#8f1509" stroke-width="1.7"/><ellipse cx="646.6" cy="181.9" rx="2.1" ry="4.8" transform="rotate(30 646.6 181.9)" fill="#ffdcd8" opacity="0.95"/>
<g transform="translate(442 86.5) rotate(6)"><g transform="rotate(0)"><ellipse cx="0" cy="-13.7" rx="7.9" ry="10.3" fill="#fcefed" stroke="#e6bcbc" stroke-width="1"/><ellipse cx="0" cy="-15.2" rx="5.7" ry="7.700000000000001" fill="#ffffff" opacity="0.65"/><path d="M0 -5 C-1.5 -9 -1.5 -12 0 -18.0" fill="none" stroke="#f0bfd0" stroke-width="1.2" opacity="0.7"/></g><g transform="rotate(72)"><ellipse cx="0" cy="-13.7" rx="7.9" ry="10.3" fill="#fcefed" stroke="#e6bcbc" stroke-width="1"/><ellipse cx="0" cy="-15.2" rx="5.7" ry="7.700000000000001" fill="#ffffff" opacity="0.65"/><path d="M0 -5 C-1.5 -9 -1.5 -12 0 -18.0" fill="none" stroke="#f0bfd0" stroke-width="1.2" opacity="0.7"/></g><g transform="rotate(144)"><ellipse cx="0" cy="-13.7" rx="7.9" ry="10.3" fill="#fcefed" stroke="#e6bcbc" stroke-width="1"/><ellipse cx="0" cy="-15.2" rx="5.7" ry="7.700000000000001" fill="#ffffff" opacity="0.65"/><path d="M0 -5 C-1.5 -9 -1.5 -12 0 -18.0" fill="none" stroke="#f0bfd0" stroke-width="1.2" opacity="0.7"/></g><g transform="rotate(216)"><ellipse cx="0" cy="-13.7" rx="7.9" ry="10.3" fill="#fcefed" stroke="#e6bcbc" stroke-width="1"/><ellipse cx="0" cy="-15.2" rx="5.7" ry="7.700000000000001" fill="#ffffff" opacity="0.65"/><path d="M0 -5 C-1.5 -9 -1.5 -12 0 -18.0" fill="none" stroke="#f0bfd0" stroke-width="1.2" opacity="0.7"/></g><g transform="rotate(288)"><ellipse cx="0" cy="-13.7" rx="7.9" ry="10.3" fill="#fcefed" stroke="#e6bcbc" stroke-width="1"/><ellipse cx="0" cy="-15.2" rx="5.7" ry="7.700000000000001" fill="#ffffff" opacity="0.65"/><path d="M0 -5 C-1.5 -9 -1.5 -12 0 -18.0" fill="none" stroke="#f0bfd0" stroke-width="1.2" opacity="0.7"/></g><circle r="6.6" fill="#f6b91c" opacity="0.5"/><circle r="5" fill="#f8cf25"/><circle cx="5.8" cy="1.0" r="1.2" fill="#f4b420"/><circle cx="2.8" cy="5.2" r="1.2" fill="#f4b420"/><circle cx="-2.3" cy="5.4" r="1.2" fill="#f4b420"/><circle cx="-5.7" cy="1.6" r="1.2" fill="#f4b420"/><circle cx="-4.8" cy="-3.4" r="1.2" fill="#f4b420"/><circle cx="-0.3" cy="-5.9" r="1.2" fill="#f4b420"/><circle cx="4.4" cy="-3.9" r="1.2" fill="#f4b420"/></g>
<g transform="translate(379.6 120.2) rotate(8)"><g transform="rotate(0)"><ellipse cx="0" cy="-13.7" rx="7.9" ry="10.3" fill="#fcefed" stroke="#e6bcbc" stroke-width="1"/><ellipse cx="0" cy="-15.2" rx="5.7" ry="7.700000000000001" fill="#ffffff" opacity="0.65"/><path d="M0 -5 C-1.5 -9 -1.5 -12 0 -18.0" fill="none" stroke="#f0bfd0" stroke-width="1.2" opacity="0.7"/></g><g transform="rotate(72)"><ellipse cx="0" cy="-13.7" rx="7.9" ry="10.3" fill="#fcefed" stroke="#e6bcbc" stroke-width="1"/><ellipse cx="0" cy="-15.2" rx="5.7" ry="7.700000000000001" fill="#ffffff" opacity="0.65"/><path d="M0 -5 C-1.5 -9 -1.5 -12 0 -18.0" fill="none" stroke="#f0bfd0" stroke-width="1.2" opacity="0.7"/></g><g transform="rotate(144)"><ellipse cx="0" cy="-13.7" rx="7.9" ry="10.3" fill="#fcefed" stroke="#e6bcbc" stroke-width="1"/><ellipse cx="0" cy="-15.2" rx="5.7" ry="7.700000000000001" fill="#ffffff" opacity="0.65"/><path d="M0 -5 C-1.5 -9 -1.5 -12 0 -18.0" fill="none" stroke="#f0bfd0" stroke-width="1.2" opacity="0.7"/></g><g transform="rotate(216)"><ellipse cx="0" cy="-13.7" rx="7.9" ry="10.3" fill="#fcefed" stroke="#e6bcbc" stroke-width="1"/><ellipse cx="0" cy="-15.2" rx="5.7" ry="7.700000000000001" fill="#ffffff" opacity="0.65"/><path d="M0 -5 C-1.5 -9 -1.5 -12 0 -18.0" fill="none" stroke="#f0bfd0" stroke-width="1.2" opacity="0.7"/></g><g transform="rotate(288)"><ellipse cx="0" cy="-13.7" rx="7.9" ry="10.3" fill="#fcefed" stroke="#e6bcbc" stroke-width="1"/><ellipse cx="0" cy="-15.2" rx="5.7" ry="7.700000000000001" fill="#ffffff" opacity="0.65"/><path d="M0 -5 C-1.5 -9 -1.5 -12 0 -18.0" fill="none" stroke="#f0bfd0" stroke-width="1.2" opacity="0.7"/></g><circle r="6.6" fill="#f6b91c" opacity="0.5"/><circle r="5" fill="#f8cf25"/><circle cx="5.8" cy="1.0" r="1.2" fill="#f4b420"/><circle cx="2.8" cy="5.2" r="1.2" fill="#f4b420"/><circle cx="-2.3" cy="5.4" r="1.2" fill="#f4b420"/><circle cx="-5.7" cy="1.6" r="1.2" fill="#f4b420"/><circle cx="-4.8" cy="-3.4" r="1.2" fill="#f4b420"/><circle cx="-0.3" cy="-5.9" r="1.2" fill="#f4b420"/><circle cx="4.4" cy="-3.9" r="1.2" fill="#f4b420"/></g>
<g transform="translate(482 119.8) rotate(4)"><g transform="rotate(0)"><ellipse cx="0" cy="-13.7" rx="7.9" ry="10.3" fill="#fcefed" stroke="#e6bcbc" stroke-width="1"/><ellipse cx="0" cy="-15.2" rx="5.7" ry="7.700000000000001" fill="#ffffff" opacity="0.65"/><path d="M0 -5 C-1.5 -9 -1.5 -12 0 -18.0" fill="none" stroke="#f0bfd0" stroke-width="1.2" opacity="0.7"/></g><g transform="rotate(72)"><ellipse cx="0" cy="-13.7" rx="7.9" ry="10.3" fill="#fcefed" stroke="#e6bcbc" stroke-width="1"/><ellipse cx="0" cy="-15.2" rx="5.7" ry="7.700000000000001" fill="#ffffff" opacity="0.65"/><path d="M0 -5 C-1.5 -9 -1.5 -12 0 -18.0" fill="none" stroke="#f0bfd0" stroke-width="1.2" opacity="0.7"/></g><g transform="rotate(144)"><ellipse cx="0" cy="-13.7" rx="7.9" ry="10.3" fill="#fcefed" stroke="#e6bcbc" stroke-width="1"/><ellipse cx="0" cy="-15.2" rx="5.7" ry="7.700000000000001" fill="#ffffff" opacity="0.65"/><path d="M0 -5 C-1.5 -9 -1.5 -12 0 -18.0" fill="none" stroke="#f0bfd0" stroke-width="1.2" opacity="0.7"/></g><g transform="rotate(216)"><ellipse cx="0" cy="-13.7" rx="7.9" ry="10.3" fill="#fcefed" stroke="#e6bcbc" stroke-width="1"/><ellipse cx="0" cy="-15.2" rx="5.7" ry="7.700000000000001" fill="#ffffff" opacity="0.65"/><path d="M0 -5 C-1.5 -9 -1.5 -12 0 -18.0" fill="none" stroke="#f0bfd0" stroke-width="1.2" opacity="0.7"/></g><g transform="rotate(288)"><ellipse cx="0" cy="-13.7" rx="7.9" ry="10.3" fill="#fcefed" stroke="#e6bcbc" stroke-width="1"/><ellipse cx="0" cy="-15.2" rx="5.7" ry="7.700000000000001" fill="#ffffff" opacity="0.65"/><path d="M0 -5 C-1.5 -9 -1.5 -12 0 -18.0" fill="none" stroke="#f0bfd0" stroke-width="1.2" opacity="0.7"/></g><circle r="6.6" fill="#f6b91c" opacity="0.5"/><circle r="5" fill="#f8cf25"/><circle cx="5.8" cy="1.0" r="1.2" fill="#f4b420"/><circle cx="2.8" cy="5.2" r="1.2" fill="#f4b420"/><circle cx="-2.3" cy="5.4" r="1.2" fill="#f4b420"/><circle cx="-5.7" cy="1.6" r="1.2" fill="#f4b420"/><circle cx="-4.8" cy="-3.4" r="1.2" fill="#f4b420"/><circle cx="-0.3" cy="-5.9" r="1.2" fill="#f4b420"/><circle cx="4.4" cy="-3.9" r="1.2" fill="#f4b420"/></g>
<g transform="translate(560.5 98) rotate(-4)"><g transform="rotate(0)"><ellipse cx="0" cy="-13.7" rx="7.9" ry="10.3" fill="#fcefed" stroke="#e6bcbc" stroke-width="1"/><ellipse cx="0" cy="-15.2" rx="5.7" ry="7.700000000000001" fill="#ffffff" opacity="0.65"/><path d="M0 -5 C-1.5 -9 -1.5 -12 0 -18.0" fill="none" stroke="#f0bfd0" stroke-width="1.2" opacity="0.7"/></g><g transform="rotate(72)"><ellipse cx="0" cy="-13.7" rx="7.9" ry="10.3" fill="#fcefed" stroke="#e6bcbc" stroke-width="1"/><ellipse cx="0" cy="-15.2" rx="5.7" ry="7.700000000000001" fill="#ffffff" opacity="0.65"/><path d="M0 -5 C-1.5 -9 -1.5 -12 0 -18.0" fill="none" stroke="#f0bfd0" stroke-width="1.2" opacity="0.7"/></g><g transform="rotate(144)"><ellipse cx="0" cy="-13.7" rx="7.9" ry="10.3" fill="#fcefed" stroke="#e6bcbc" stroke-width="1"/><ellipse cx="0" cy="-15.2" rx="5.7" ry="7.700000000000001" fill="#ffffff" opacity="0.65"/><path d="M0 -5 C-1.5 -9 -1.5 -12 0 -18.0" fill="none" stroke="#f0bfd0" stroke-width="1.2" opacity="0.7"/></g><g transform="rotate(216)"><ellipse cx="0" cy="-13.7" rx="7.9" ry="10.3" fill="#fcefed" stroke="#e6bcbc" stroke-width="1"/><ellipse cx="0" cy="-15.2" rx="5.7" ry="7.700000000000001" fill="#ffffff" opacity="0.65"/><path d="M0 -5 C-1.5 -9 -1.5 -12 0 -18.0" fill="none" stroke="#f0bfd0" stroke-width="1.2" opacity="0.7"/></g><g transform="rotate(288)"><ellipse cx="0" cy="-13.7" rx="7.9" ry="10.3" fill="#fcefed" stroke="#e6bcbc" stroke-width="1"/><ellipse cx="0" cy="-15.2" rx="5.7" ry="7.700000000000001" fill="#ffffff" opacity="0.65"/><path d="M0 -5 C-1.5 -9 -1.5 -12 0 -18.0" fill="none" stroke="#f0bfd0" stroke-width="1.2" opacity="0.7"/></g><circle r="6.6" fill="#f6b91c" opacity="0.5"/><circle r="5" fill="#f8cf25"/><circle cx="5.8" cy="1.0" r="1.2" fill="#f4b420"/><circle cx="2.8" cy="5.2" r="1.2" fill="#f4b420"/><circle cx="-2.3" cy="5.4" r="1.2" fill="#f4b420"/><circle cx="-5.7" cy="1.6" r="1.2" fill="#f4b420"/><circle cx="-4.8" cy="-3.4" r="1.2" fill="#f4b420"/><circle cx="-0.3" cy="-5.9" r="1.2" fill="#f4b420"/><circle cx="4.4" cy="-3.9" r="1.2" fill="#f4b420"/></g>
<g transform="translate(606.5 124) rotate(10)"><g transform="rotate(0)"><ellipse cx="0" cy="-13.7" rx="7.9" ry="10.3" fill="#fcefed" stroke="#e6bcbc" stroke-width="1"/><ellipse cx="0" cy="-15.2" rx="5.7" ry="7.700000000000001" fill="#ffffff" opacity="0.65"/><path d="M0 -5 C-1.5 -9 -1.5 -12 0 -18.0" fill="none" stroke="#f0bfd0" stroke-width="1.2" opacity="0.7"/></g><g transform="rotate(72)"><ellipse cx="0" cy="-13.7" rx="7.9" ry="10.3" fill="#fcefed" stroke="#e6bcbc" stroke-width="1"/><ellipse cx="0" cy="-15.2" rx="5.7" ry="7.700000000000001" fill="#ffffff" opacity="0.65"/><path d="M0 -5 C-1.5 -9 -1.5 -12 0 -18.0" fill="none" stroke="#f0bfd0" stroke-width="1.2" opacity="0.7"/></g><g transform="rotate(144)"><ellipse cx="0" cy="-13.7" rx="7.9" ry="10.3" fill="#fcefed" stroke="#e6bcbc" stroke-width="1"/><ellipse cx="0" cy="-15.2" rx="5.7" ry="7.700000000000001" fill="#ffffff" opacity="0.65"/><path d="M0 -5 C-1.5 -9 -1.5 -12 0 -18.0" fill="none" stroke="#f0bfd0" stroke-width="1.2" opacity="0.7"/></g><g transform="rotate(216)"><ellipse cx="0" cy="-13.7" rx="7.9" ry="10.3" fill="#fcefed" stroke="#e6bcbc" stroke-width="1"/><ellipse cx="0" cy="-15.2" rx="5.7" ry="7.700000000000001" fill="#ffffff" opacity="0.65"/><path d="M0 -5 C-1.5 -9 -1.5 -12 0 -18.0" fill="none" stroke="#f0bfd0" stroke-width="1.2" opacity="0.7"/></g><g transform="rotate(288)"><ellipse cx="0" cy="-13.7" rx="7.9" ry="10.3" fill="#fcefed" stroke="#e6bcbc" stroke-width="1"/><ellipse cx="0" cy="-15.2" rx="5.7" ry="7.700000000000001" fill="#ffffff" opacity="0.65"/><path d="M0 -5 C-1.5 -9 -1.5 -12 0 -18.0" fill="none" stroke="#f0bfd0" stroke-width="1.2" opacity="0.7"/></g><circle r="6.6" fill="#f6b91c" opacity="0.5"/><circle r="5" fill="#f8cf25"/><circle cx="5.8" cy="1.0" r="1.2" fill="#f4b420"/><circle cx="2.8" cy="5.2" r="1.2" fill="#f4b420"/><circle cx="-2.3" cy="5.4" r="1.2" fill="#f4b420"/><circle cx="-5.7" cy="1.6" r="1.2" fill="#f4b420"/><circle cx="-4.8" cy="-3.4" r="1.2" fill="#f4b420"/><circle cx="-0.3" cy="-5.9" r="1.2" fill="#f4b420"/><circle cx="4.4" cy="-3.9" r="1.2" fill="#f4b420"/></g>
</g>
<circle cx="424.3" cy="74.1" r="6.9" fill="#fff" stroke="#000" stroke-width="4.2"/>
<circle cx="562" cy="98.5" r="6.9" fill="#fff" stroke="#000" stroke-width="4.2"/>
<circle cx="692" cy="141" r="6.9" fill="#fff" stroke="#000" stroke-width="4.2"/>
<circle cx="460" cy="205" r="6.9" fill="#fff" stroke="#000" stroke-width="4.2"/>
<circle cx="661" cy="197" r="6.9" fill="#fff" stroke="#000" stroke-width="4.2"/>
<circle cx="499" cy="341" r="6.9" fill="#fff" stroke="#000" stroke-width="4.2"/>
<circle cx="338.5" cy="407.5" r="6.9" fill="#fff" stroke="#000" stroke-width="4.2"/>
<circle cx="499" cy="497" r="6.9" fill="#fff" stroke="#000" stroke-width="4.2"/>
</svg></body></html>
